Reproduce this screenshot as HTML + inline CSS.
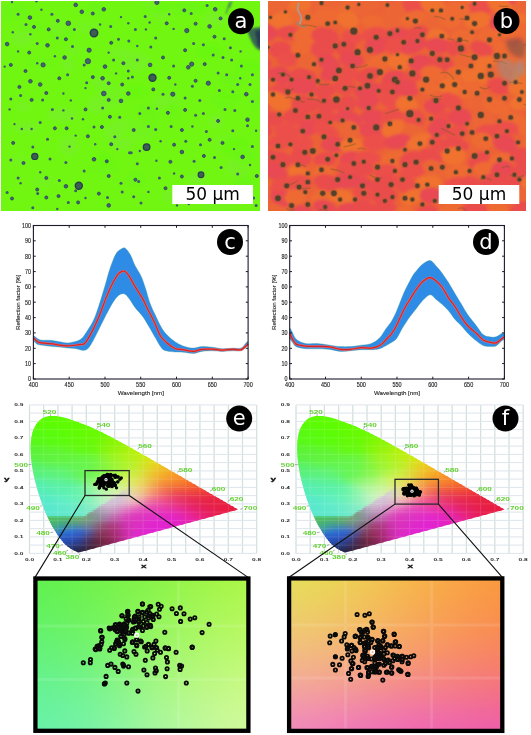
<!DOCTYPE html><html><head><meta charset="utf-8"><title>Figure</title><style>html,body{margin:0;padding:0;background:#fff}
#pg{position:relative;width:531px;height:735px;overflow:hidden;background:#fff}
.abs{position:absolute}
.row{position:absolute;left:0;width:100%}
svg text{font-family:"Liberation Sans",Arial,sans-serif}
</style></head><body><div id="pg"><svg class="abs" style="left:0;top:0" width="531" height="215"><defs><clipPath id="ca"><rect x="1" y="1" width="259" height="210"/></clipPath><clipPath id="cb"><rect x="268" y="1" width="258" height="210"/></clipPath><filter id="bl2" x="-20%" y="-20%" width="140%" height="140%"><feGaussianBlur stdDeviation="2.2"/></filter><filter id="bl3" x="-20%" y="-20%" width="140%" height="140%"><feGaussianBlur stdDeviation="2.8"/></filter><filter id="bl05"><feGaussianBlur stdDeviation="0.45"/></filter><filter id="bl1" x="-30%" y="-30%" width="160%" height="160%"><feGaussianBlur stdDeviation="1.3"/></filter><filter id="bl15" x="-5%" y="-5%" width="110%" height="110%"><feGaussianBlur stdDeviation="1.6"/></filter></defs><g clip-path="url(#ca)"><rect x="1" y="1" width="259" height="210" fill="#71f612"/><g filter="url(#bl2)" opacity=".7"><ellipse cx="62.6" cy="115.3" rx="15.2" ry="6.8" fill="#78ef2a"/><ellipse cx="151.4" cy="128.2" rx="8.6" ry="5.4" fill="#6af512"/><ellipse cx="258.9" cy="99.8" rx="10" ry="9.2" fill="#6af512"/><ellipse cx="61.1" cy="32.8" rx="13.4" ry="8" fill="#6af512"/><ellipse cx="17.6" cy="160.2" rx="9" ry="4.2" fill="#74f222"/><ellipse cx="225.2" cy="100.3" rx="13.1" ry="9.5" fill="#6af512"/><ellipse cx="103.3" cy="169.2" rx="15.6" ry="4.8" fill="#6af512"/><ellipse cx="95.7" cy="8.5" rx="8.2" ry="9.8" fill="#6af512"/><ellipse cx="114" cy="132.6" rx="10.2" ry="9" fill="#78ef2a"/><ellipse cx="149.7" cy="113.2" rx="11.8" ry="9.4" fill="#6af512"/><ellipse cx="177.6" cy="196.1" rx="15.9" ry="8" fill="#78ef2a"/><ellipse cx="43.2" cy="181.7" rx="13.1" ry="5.3" fill="#74f222"/><ellipse cx="216.4" cy="121.4" rx="7.2" ry="6.9" fill="#78ef2a"/><ellipse cx="166.4" cy="102.5" rx="14" ry="6.5" fill="#78ef2a"/><ellipse cx="40" cy="62.7" rx="14.7" ry="4.3" fill="#6af512"/><ellipse cx="160.2" cy="10.4" rx="11.5" ry="9.5" fill="#78ef2a"/><ellipse cx="73.3" cy="50.5" rx="9.1" ry="4.5" fill="#74f222"/><ellipse cx="156.3" cy="7.6" rx="15.7" ry="5.7" fill="#66f80a"/><ellipse cx="69.2" cy="145.8" rx="9.1" ry="9.8" fill="#78ef2a"/><ellipse cx="233.2" cy="80.3" rx="14.7" ry="6.3" fill="#6af512"/><ellipse cx="225.5" cy="144" rx="12.2" ry="9.6" fill="#74f222"/><ellipse cx="132.3" cy="91.6" rx="15.4" ry="6.6" fill="#66f80a"/><ellipse cx="67.9" cy="64.6" rx="6.1" ry="6.5" fill="#78ef2a"/><ellipse cx="151.2" cy="5.2" rx="6.6" ry="7.8" fill="#66f80a"/><ellipse cx="121.8" cy="143.6" rx="12.1" ry="5.7" fill="#78ef2a"/><ellipse cx="127.8" cy="124.8" rx="15.6" ry="5.5" fill="#74f222"/><ellipse cx="119.2" cy="125.5" rx="7.8" ry="5.1" fill="#78ef2a"/><ellipse cx="197.3" cy="178.2" rx="9" ry="6.3" fill="#78ef2a"/><ellipse cx="201" cy="6.7" rx="9.1" ry="5.3" fill="#66f80a"/><ellipse cx="209.2" cy="51.1" rx="12.8" ry="7.9" fill="#66f80a"/><ellipse cx="26.1" cy="127.2" rx="12.7" ry="5.3" fill="#78ef2a"/><ellipse cx="210.7" cy="202.7" rx="9.4" ry="7.9" fill="#74f222"/><ellipse cx="230.2" cy="95.7" rx="13.9" ry="4.2" fill="#66f80a"/><ellipse cx="249" cy="67.2" rx="14.6" ry="6" fill="#66f80a"/><ellipse cx="215.4" cy="19" rx="11.9" ry="6.5" fill="#78ef2a"/><ellipse cx="135.3" cy="179.5" rx="9.5" ry="6.5" fill="#6af512"/><ellipse cx="109.7" cy="87" rx="7.6" ry="4" fill="#6af512"/><ellipse cx="245.3" cy="185.8" rx="11.6" ry="9.9" fill="#6af512"/><ellipse cx="186.8" cy="7.8" rx="14.4" ry="8" fill="#6af512"/><ellipse cx="135.4" cy="61.7" rx="14.9" ry="9.2" fill="#78ef2a"/><ellipse cx="223.2" cy="204.9" rx="14.1" ry="4.3" fill="#74f222"/><ellipse cx="235" cy="146.7" rx="15" ry="9.4" fill="#66f80a"/><ellipse cx="150.4" cy="3.8" rx="7.7" ry="5.8" fill="#74f222"/><ellipse cx="172.7" cy="111.2" rx="6.5" ry="9.5" fill="#6af512"/><ellipse cx="30.4" cy="27.3" rx="14.1" ry="4.4" fill="#6af512"/><ellipse cx="58.2" cy="26.7" rx="7.7" ry="8.8" fill="#74f222"/><ellipse cx="239.7" cy="170.3" rx="10.9" ry="7.4" fill="#74f222"/><ellipse cx="104.7" cy="159.9" rx="8.7" ry="7.2" fill="#66f80a"/><ellipse cx="110.6" cy="100.3" rx="14.6" ry="8.7" fill="#74f222"/><ellipse cx="13" cy="11.5" rx="15.7" ry="9.1" fill="#6af512"/><ellipse cx="23.3" cy="106.4" rx="7.6" ry="4.4" fill="#78ef2a"/><ellipse cx="100.9" cy="82.8" rx="9.6" ry="5.1" fill="#78ef2a"/><ellipse cx="86.2" cy="27" rx="13.2" ry="6.3" fill="#74f222"/><ellipse cx="21.7" cy="38.5" rx="10.6" ry="7.9" fill="#78ef2a"/><ellipse cx="141.2" cy="134.7" rx="12.2" ry="6.6" fill="#74f222"/><ellipse cx="97.5" cy="105.2" rx="10.2" ry="8.2" fill="#78ef2a"/><ellipse cx="120.4" cy="52.5" rx="13" ry="4.4" fill="#78ef2a"/><ellipse cx="111" cy="90.4" rx="15.4" ry="6.2" fill="#74f222"/><ellipse cx="233.5" cy="167.1" rx="7.2" ry="8.1" fill="#78ef2a"/><ellipse cx="244.2" cy="154.6" rx="12.7" ry="8.4" fill="#6af512"/></g><g filter="url(#bl05)"><circle cx="12" cy="2" r="1.2" fill="#3d5c6c"/><circle cx="36.5" cy="1.2" r="1.2" fill="#3d5c6c"/><circle cx="75.7" cy="4.9" r="1.8" fill="#48646e" stroke="#2e4662" stroke-width=".9"/><circle cx="81.8" cy="11.8" r="1.8" fill="#48646e" stroke="#2e4662" stroke-width=".9"/><circle cx="92.8" cy="13.5" r="1.5" fill="#48646e" stroke="#2e4662" stroke-width=".9"/><circle cx="103.8" cy="9.3" r="1.8" fill="#48646e" stroke="#2e4662" stroke-width=".9"/><circle cx="121" cy="17.1" r="1.2" fill="#3d5c6c"/><circle cx="18.1" cy="14.2" r="1.5" fill="#3d5c6c"/><circle cx="41.4" cy="9.8" r="1.2" fill="#3d5c6c"/><circle cx="29.9" cy="17.6" r="1.8" fill="#48646e" stroke="#2e4662" stroke-width=".9"/><circle cx="51.9" cy="14.2" r="1.5" fill="#3d5c6c"/><circle cx="68.3" cy="23.3" r="2.3" fill="#48646e" stroke="#2e4662" stroke-width=".9"/><circle cx="57.8" cy="20.8" r="1.5" fill="#48646e" stroke="#2e4662" stroke-width=".9"/><circle cx="26" cy="24.5" r="1.5" fill="#3d5c6c"/><circle cx="34" cy="26.9" r="1.5" fill="#48646e" stroke="#2e4662" stroke-width=".9"/><circle cx="48.7" cy="29.4" r="1.5" fill="#48646e" stroke="#2e4662" stroke-width=".9"/><circle cx="74.4" cy="29.4" r="1.5" fill="#3d5c6c"/><circle cx="94" cy="33" r="3.7" fill="#3c5e52" stroke="#283e4e" stroke-width="1.5"/><circle cx="100.1" cy="24.5" r="1.2" fill="#3d5c6c"/><circle cx="110.7" cy="26.4" r="1.5" fill="#3d5c6c"/><circle cx="128.3" cy="23.3" r="1.2" fill="#3d5c6c"/><circle cx="12.8" cy="32.3" r="1.2" fill="#3d5c6c"/><circle cx="30.4" cy="34.3" r="1.2" fill="#3d5c6c"/><circle cx="57.3" cy="37.9" r="1.5" fill="#3d5c6c"/><circle cx="65.9" cy="39.2" r="1.5" fill="#48646e" stroke="#2e4662" stroke-width=".9"/><circle cx="7.1" cy="44.1" r="1.8" fill="#48646e" stroke="#2e4662" stroke-width=".9"/><circle cx="37.2" cy="43.6" r="1.5" fill="#3d5c6c"/><circle cx="47.5" cy="45.3" r="1.8" fill="#48646e" stroke="#2e4662" stroke-width=".9"/><circle cx="72.5" cy="46.5" r="1.5" fill="#3d5c6c"/><circle cx="89.1" cy="50.2" r="2.1" fill="#48646e" stroke="#2e4662" stroke-width=".9"/><circle cx="111.2" cy="42.8" r="1.5" fill="#48646e" stroke="#2e4662" stroke-width=".9"/><circle cx="118.5" cy="39.2" r="1.5" fill="#3d5c6c"/><circle cx="128.8" cy="41.1" r="1.5" fill="#3d5c6c"/><circle cx="108.7" cy="52.6" r="1.2" fill="#3d5c6c"/><circle cx="18.1" cy="51.4" r="1.2" fill="#3d5c6c"/><circle cx="29.2" cy="52.6" r="1.5" fill="#48646e" stroke="#2e4662" stroke-width=".9"/><circle cx="54.9" cy="56.3" r="1.2" fill="#3d5c6c"/><circle cx="64.6" cy="57.5" r="1.8" fill="#48646e" stroke="#2e4662" stroke-width=".9"/><circle cx="87.9" cy="61.2" r="2.6" fill="#48646e" stroke="#2e4662" stroke-width=".9"/><circle cx="84.2" cy="64.9" r="1.5" fill="#3d5c6c"/><circle cx="113.6" cy="60" r="1.5" fill="#3d5c6c"/><circle cx="123.4" cy="63.2" r="1.5" fill="#48646e" stroke="#2e4662" stroke-width=".9"/><circle cx="10.8" cy="64.9" r="1.5" fill="#48646e" stroke="#2e4662" stroke-width=".9"/><circle cx="4.7" cy="66.6" r="1.2" fill="#3d5c6c"/><circle cx="37.2" cy="63.2" r="1.2" fill="#3d5c6c"/><circle cx="43.1" cy="64.9" r="2.1" fill="#48646e" stroke="#2e4662" stroke-width=".9"/><circle cx="105" cy="66.6" r="1.8" fill="#48646e" stroke="#2e4662" stroke-width=".9"/><circle cx="25.5" cy="71" r="1.5" fill="#48646e" stroke="#2e4662" stroke-width=".9"/><circle cx="67.6" cy="74.7" r="1.5" fill="#3d5c6c"/><circle cx="59.3" cy="78.3" r="1.5" fill="#48646e" stroke="#2e4662" stroke-width=".9"/><circle cx="92.8" cy="77.1" r="1.5" fill="#48646e" stroke="#2e4662" stroke-width=".9"/><circle cx="102.6" cy="78.3" r="1.8" fill="#48646e" stroke="#2e4662" stroke-width=".9"/><circle cx="116.1" cy="73.4" r="1.2" fill="#3d5c6c"/><circle cx="128.3" cy="71" r="1.5" fill="#3d5c6c"/><circle cx="30.4" cy="81.3" r="1.8" fill="#48646e" stroke="#2e4662" stroke-width=".9"/><circle cx="40.2" cy="84.5" r="1.8" fill="#48646e" stroke="#2e4662" stroke-width=".9"/><circle cx="19.4" cy="86.9" r="1.5" fill="#48646e" stroke="#2e4662" stroke-width=".9"/><circle cx="86.7" cy="82.7" r="1.5" fill="#3d5c6c"/><circle cx="108.7" cy="83.2" r="1.5" fill="#48646e" stroke="#2e4662" stroke-width=".9"/><circle cx="122.2" cy="84.5" r="1.5" fill="#48646e" stroke="#2e4662" stroke-width=".9"/><circle cx="128.3" cy="78.3" r="1.2" fill="#3d5c6c"/><circle cx="46.3" cy="93" r="1.5" fill="#48646e" stroke="#2e4662" stroke-width=".9"/><circle cx="63.4" cy="93.5" r="1.2" fill="#3d5c6c"/><circle cx="20.6" cy="95.5" r="1.5" fill="#3d5c6c"/><circle cx="85.5" cy="88.1" r="1.2" fill="#3d5c6c"/><circle cx="103.8" cy="93.5" r="2.3" fill="#48646e" stroke="#2e4662" stroke-width=".9"/><circle cx="128.3" cy="93.5" r="1.8" fill="#48646e" stroke="#2e4662" stroke-width=".9"/><circle cx="31.6" cy="99.9" r="1.5" fill="#48646e" stroke="#2e4662" stroke-width=".9"/><circle cx="42.6" cy="99.9" r="1.5" fill="#3d5c6c"/><circle cx="108.7" cy="99.9" r="1.5" fill="#48646e" stroke="#2e4662" stroke-width=".9"/><circle cx="121" cy="100.9" r="1.8" fill="#48646e" stroke="#2e4662" stroke-width=".9"/><circle cx="70.8" cy="100.4" r="1.2" fill="#3d5c6c"/><circle cx="10.8" cy="99.1" r="1.5" fill="#3d5c6c"/><circle cx="156.9" cy="2.4" r="2.1" fill="#48646e" stroke="#2e4662" stroke-width=".9"/><circle cx="207.1" cy="5.4" r="1.5" fill="#3d5c6c"/><circle cx="215.2" cy="9.3" r="1.8" fill="#48646e" stroke="#2e4662" stroke-width=".9"/><circle cx="184.3" cy="10.3" r="1.5" fill="#48646e" stroke="#2e4662" stroke-width=".9"/><circle cx="191.2" cy="13.5" r="1.5" fill="#3d5c6c"/><circle cx="145.2" cy="16.6" r="1.5" fill="#3d5c6c"/><circle cx="169.2" cy="14.2" r="1.2" fill="#3d5c6c"/><circle cx="220.6" cy="18.4" r="1.5" fill="#48646e" stroke="#2e4662" stroke-width=".9"/><circle cx="149.6" cy="22.5" r="1.2" fill="#3d5c6c"/><circle cx="166.7" cy="23.3" r="1.5" fill="#48646e" stroke="#2e4662" stroke-width=".9"/><circle cx="195.6" cy="23.7" r="1.5" fill="#48646e" stroke="#2e4662" stroke-width=".9"/><circle cx="209.6" cy="26.4" r="1.8" fill="#48646e" stroke="#2e4662" stroke-width=".9"/><circle cx="135.4" cy="29.4" r="1.5" fill="#3d5c6c"/><circle cx="145.9" cy="29.4" r="1.2" fill="#3d5c6c"/><circle cx="186.8" cy="30.6" r="2.1" fill="#48646e" stroke="#2e4662" stroke-width=".9"/><circle cx="173.6" cy="28.9" r="1.2" fill="#3d5c6c"/><circle cx="155.7" cy="37.9" r="1.5" fill="#3d5c6c"/><circle cx="193.6" cy="43.6" r="1.5" fill="#3d5c6c"/><circle cx="214.5" cy="36.7" r="1.5" fill="#48646e" stroke="#2e4662" stroke-width=".9"/><circle cx="224.2" cy="38.7" r="1.5" fill="#3d5c6c"/><circle cx="230.4" cy="47.7" r="1.5" fill="#3d5c6c"/><circle cx="240.6" cy="51.4" r="1.2" fill="#3d5c6c"/><circle cx="137.3" cy="46" r="1.2" fill="#3d5c6c"/><circle cx="150.8" cy="47" r="1.5" fill="#3d5c6c"/><circle cx="185.1" cy="50.2" r="1.5" fill="#48646e" stroke="#2e4662" stroke-width=".9"/><circle cx="203.4" cy="44.8" r="1.5" fill="#3d5c6c"/><circle cx="163" cy="57.5" r="1.5" fill="#48646e" stroke="#2e4662" stroke-width=".9"/><circle cx="137.3" cy="60" r="1.5" fill="#3d5c6c"/><circle cx="150.1" cy="64.9" r="1.8" fill="#48646e" stroke="#2e4662" stroke-width=".9"/><circle cx="173.6" cy="66.1" r="1.5" fill="#3d5c6c"/><circle cx="188.3" cy="67.3" r="1.8" fill="#48646e" stroke="#2e4662" stroke-width=".9"/><circle cx="191.7" cy="64.1" r="2.1" fill="#48646e" stroke="#2e4662" stroke-width=".9"/><circle cx="204.7" cy="64.1" r="1.5" fill="#48646e" stroke="#2e4662" stroke-width=".9"/><circle cx="213.2" cy="55.1" r="1.5" fill="#3d5c6c"/><circle cx="223" cy="57.5" r="1.5" fill="#3d5c6c"/><circle cx="231.6" cy="60" r="1.5" fill="#3d5c6c"/><circle cx="241.4" cy="66.1" r="1.5" fill="#3d5c6c"/><circle cx="152.5" cy="77.8" r="3.5" fill="#3c5e52" stroke="#283e4e" stroke-width="1.4"/><circle cx="169.2" cy="77.8" r="1.5" fill="#48646e" stroke="#2e4662" stroke-width=".9"/><circle cx="195.6" cy="80.8" r="1.5" fill="#48646e" stroke="#2e4662" stroke-width=".9"/><circle cx="208.3" cy="83.2" r="2.1" fill="#48646e" stroke="#2e4662" stroke-width=".9"/><circle cx="218.1" cy="72.9" r="1.5" fill="#3d5c6c"/><circle cx="226.7" cy="74.7" r="1.5" fill="#3d5c6c"/><circle cx="240.2" cy="78.3" r="1.2" fill="#3d5c6c"/><circle cx="252.4" cy="74.7" r="1.5" fill="#3d5c6c"/><circle cx="132.4" cy="77.1" r="1.5" fill="#3d5c6c"/><circle cx="175.3" cy="84.5" r="1.2" fill="#3d5c6c"/><circle cx="192.4" cy="86.2" r="1.5" fill="#3d5c6c"/><circle cx="153.3" cy="89.4" r="1.5" fill="#48646e" stroke="#2e4662" stroke-width=".9"/><circle cx="163" cy="94.2" r="1.5" fill="#3d5c6c"/><circle cx="172.8" cy="94.2" r="2.1" fill="#48646e" stroke="#2e4662" stroke-width=".9"/><circle cx="185.1" cy="97.9" r="1.5" fill="#3d5c6c"/><circle cx="199.8" cy="100.4" r="1.5" fill="#3d5c6c"/><circle cx="219.4" cy="90.6" r="1.5" fill="#3d5c6c"/><circle cx="232.8" cy="91.8" r="1.5" fill="#3d5c6c"/><circle cx="246.3" cy="94.2" r="1.8" fill="#48646e" stroke="#2e4662" stroke-width=".9"/><circle cx="252.4" cy="101.6" r="1.5" fill="#3d5c6c"/><circle cx="237.7" cy="84.5" r="1.5" fill="#3d5c6c"/><circle cx="250" cy="84.5" r="1.5" fill="#3d5c6c"/><circle cx="9.6" cy="109.4" r="1.2" fill="#3d5c6c"/><circle cx="52.4" cy="109.4" r="1.5" fill="#3d5c6c"/><circle cx="63.4" cy="110.4" r="1.2" fill="#3d5c6c"/><circle cx="85.5" cy="109.4" r="1.5" fill="#48646e" stroke="#2e4662" stroke-width=".9"/><circle cx="102.6" cy="107.9" r="1.5" fill="#3d5c6c"/><circle cx="109.9" cy="116.8" r="1.5" fill="#48646e" stroke="#2e4662" stroke-width=".9"/><circle cx="119.7" cy="117.2" r="1.5" fill="#3d5c6c"/><circle cx="72" cy="118.5" r="1.2" fill="#3d5c6c"/><circle cx="40.2" cy="122.6" r="1.5" fill="#3d5c6c"/><circle cx="14.5" cy="124.1" r="1.2" fill="#3d5c6c"/><circle cx="21.8" cy="129" r="1.2" fill="#3d5c6c"/><circle cx="31.6" cy="129" r="1.2" fill="#3d5c6c"/><circle cx="54.9" cy="128.3" r="1.5" fill="#48646e" stroke="#2e4662" stroke-width=".9"/><circle cx="66.6" cy="128.3" r="1.5" fill="#48646e" stroke="#2e4662" stroke-width=".9"/><circle cx="83" cy="119.2" r="1.2" fill="#3d5c6c"/><circle cx="94" cy="127" r="1.5" fill="#3d5c6c"/><circle cx="101.9" cy="127" r="1.5" fill="#48646e" stroke="#2e4662" stroke-width=".9"/><circle cx="87.9" cy="136.3" r="1.5" fill="#48646e" stroke="#2e4662" stroke-width=".9"/><circle cx="114.8" cy="136.8" r="1.5" fill="#3d5c6c"/><circle cx="13.2" cy="142.9" r="1.5" fill="#48646e" stroke="#2e4662" stroke-width=".9"/><circle cx="47.5" cy="139.3" r="1.5" fill="#3d5c6c"/><circle cx="75.7" cy="135.6" r="1.2" fill="#3d5c6c"/><circle cx="95.2" cy="144.2" r="1.2" fill="#3d5c6c"/><circle cx="111.2" cy="144.2" r="1.5" fill="#48646e" stroke="#2e4662" stroke-width=".9"/><circle cx="32.8" cy="147.1" r="1.5" fill="#3d5c6c"/><circle cx="69.5" cy="146.6" r="1.2" fill="#3d5c6c"/><circle cx="117.3" cy="149.1" r="1.2" fill="#3d5c6c"/><circle cx="34.8" cy="156.4" r="3.1" fill="#3c5e52" stroke="#283e4e" stroke-width="1.2"/><circle cx="50" cy="158.9" r="1.5" fill="#3d5c6c"/><circle cx="65.9" cy="162.5" r="1.5" fill="#3d5c6c"/><circle cx="94" cy="159.3" r="1.8" fill="#48646e" stroke="#2e4662" stroke-width=".9"/><circle cx="106.8" cy="161.3" r="1.5" fill="#48646e" stroke="#2e4662" stroke-width=".9"/><circle cx="10.8" cy="160.1" r="1.5" fill="#3d5c6c"/><circle cx="23.5" cy="163" r="1.5" fill="#48646e" stroke="#2e4662" stroke-width=".9"/><circle cx="129.5" cy="152.7" r="1.5" fill="#3d5c6c"/><circle cx="84.2" cy="171.1" r="1.5" fill="#3d5c6c"/><circle cx="40.2" cy="172.3" r="1.2" fill="#3d5c6c"/><circle cx="18.1" cy="177.9" r="1.5" fill="#3d5c6c"/><circle cx="46.3" cy="177.9" r="1.5" fill="#48646e" stroke="#2e4662" stroke-width=".9"/><circle cx="59.3" cy="180.4" r="1.5" fill="#3d5c6c"/><circle cx="78.8" cy="185.8" r="3.5" fill="#3c5e52" stroke="#283e4e" stroke-width="1.4"/><circle cx="65.9" cy="186.3" r="1.8" fill="#48646e" stroke="#2e4662" stroke-width=".9"/><circle cx="108.7" cy="176" r="1.5" fill="#48646e" stroke="#2e4662" stroke-width=".9"/><circle cx="121" cy="183.3" r="1.5" fill="#3d5c6c"/><circle cx="20.6" cy="183.3" r="1.2" fill="#3d5c6c"/><circle cx="37.2" cy="189.5" r="1.5" fill="#48646e" stroke="#2e4662" stroke-width=".9"/><circle cx="7.1" cy="192.6" r="1.5" fill="#3d5c6c"/><circle cx="12" cy="198.5" r="1.5" fill="#48646e" stroke="#2e4662" stroke-width=".9"/><circle cx="37.7" cy="193.6" r="1.5" fill="#3d5c6c"/><circle cx="46.3" cy="197.5" r="1.5" fill="#48646e" stroke="#2e4662" stroke-width=".9"/><circle cx="58.5" cy="196.1" r="1.5" fill="#48646e" stroke="#2e4662" stroke-width=".9"/><circle cx="75.7" cy="190.7" r="1.5" fill="#3d5c6c"/><circle cx="85.5" cy="198" r="1.2" fill="#3d5c6c"/><circle cx="98.9" cy="193.6" r="1.5" fill="#48646e" stroke="#2e4662" stroke-width=".9"/><circle cx="107.5" cy="197.5" r="1.5" fill="#3d5c6c"/><circle cx="122.2" cy="191.9" r="1.5" fill="#3d5c6c"/><circle cx="68.3" cy="202.4" r="1.5" fill="#3d5c6c"/><circle cx="78.1" cy="202.4" r="1.5" fill="#48646e" stroke="#2e4662" stroke-width=".9"/><circle cx="108.7" cy="205.4" r="1.8" fill="#48646e" stroke="#2e4662" stroke-width=".9"/><circle cx="32.8" cy="207.8" r="1.5" fill="#3d5c6c"/><circle cx="57.3" cy="209" r="1.2" fill="#3d5c6c"/><circle cx="148.4" cy="107.9" r="1.5" fill="#3d5c6c"/><circle cx="156.9" cy="108.7" r="1.2" fill="#3d5c6c"/><circle cx="139.8" cy="113.6" r="1.5" fill="#3d5c6c"/><circle cx="167.9" cy="112.8" r="1.5" fill="#48646e" stroke="#2e4662" stroke-width=".9"/><circle cx="185.1" cy="109.9" r="1.5" fill="#48646e" stroke="#2e4662" stroke-width=".9"/><circle cx="195.6" cy="115.3" r="1.5" fill="#3d5c6c"/><circle cx="203.4" cy="113.6" r="1.5" fill="#3d5c6c"/><circle cx="225" cy="109.4" r="1.5" fill="#3d5c6c"/><circle cx="234.8" cy="110.4" r="1.5" fill="#3d5c6c"/><circle cx="247.5" cy="119.7" r="1.8" fill="#48646e" stroke="#2e4662" stroke-width=".9"/><circle cx="218.1" cy="120.9" r="1.5" fill="#48646e" stroke="#2e4662" stroke-width=".9"/><circle cx="247.5" cy="125.8" r="1.5" fill="#3d5c6c"/><circle cx="133.7" cy="130" r="1.5" fill="#48646e" stroke="#2e4662" stroke-width=".9"/><circle cx="148.4" cy="126.5" r="1.5" fill="#3d5c6c"/><circle cx="155.7" cy="129.5" r="1.5" fill="#3d5c6c"/><circle cx="171.1" cy="126.5" r="1.5" fill="#3d5c6c"/><circle cx="181.9" cy="130" r="1.5" fill="#48646e" stroke="#2e4662" stroke-width=".9"/><circle cx="192.4" cy="126.5" r="1.2" fill="#3d5c6c"/><circle cx="206.4" cy="131.4" r="1.5" fill="#3d5c6c"/><circle cx="232.8" cy="130.7" r="1.5" fill="#3d5c6c"/><circle cx="256.1" cy="130.7" r="1.2" fill="#3d5c6c"/><circle cx="146.6" cy="147.1" r="3.3" fill="#3c5e52" stroke="#283e4e" stroke-width="1.3"/><circle cx="160.6" cy="141.2" r="1.2" fill="#3d5c6c"/><circle cx="174.1" cy="144.7" r="1.5" fill="#48646e" stroke="#2e4662" stroke-width=".9"/><circle cx="185.8" cy="141.2" r="1.5" fill="#3d5c6c"/><circle cx="200.5" cy="144.7" r="1.5" fill="#3d5c6c"/><circle cx="209.6" cy="139.8" r="1.5" fill="#48646e" stroke="#2e4662" stroke-width=".9"/><circle cx="222.5" cy="142.9" r="1.5" fill="#48646e" stroke="#2e4662" stroke-width=".9"/><circle cx="234" cy="149.1" r="1.2" fill="#3d5c6c"/><circle cx="252.4" cy="146.6" r="1.5" fill="#3d5c6c"/><circle cx="131.2" cy="152.7" r="1.5" fill="#3d5c6c"/><circle cx="139.8" cy="151" r="1.2" fill="#3d5c6c"/><circle cx="181.9" cy="152" r="1.8" fill="#48646e" stroke="#2e4662" stroke-width=".9"/><circle cx="203.9" cy="155.9" r="1.5" fill="#48646e" stroke="#2e4662" stroke-width=".9"/><circle cx="214.5" cy="157.6" r="1.5" fill="#3d5c6c"/><circle cx="242.6" cy="156.9" r="1.8" fill="#48646e" stroke="#2e4662" stroke-width=".9"/><circle cx="137.3" cy="163.8" r="1.5" fill="#3d5c6c"/><circle cx="156.4" cy="160.8" r="1.2" fill="#3d5c6c"/><circle cx="170.4" cy="161.8" r="1.5" fill="#48646e" stroke="#2e4662" stroke-width=".9"/><circle cx="194.1" cy="161.3" r="1.5" fill="#3d5c6c"/><circle cx="221.1" cy="167.4" r="1.5" fill="#3d5c6c"/><circle cx="250" cy="165" r="1.2" fill="#3d5c6c"/><circle cx="201" cy="174.8" r="2.9" fill="#3c5e52" stroke="#283e4e" stroke-width="1.1"/><circle cx="181.9" cy="176.5" r="1.5" fill="#48646e" stroke="#2e4662" stroke-width=".9"/><circle cx="159.4" cy="177.9" r="1.5" fill="#3d5c6c"/><circle cx="135.4" cy="179.7" r="1.5" fill="#48646e" stroke="#2e4662" stroke-width=".9"/><circle cx="138.6" cy="181.4" r="1.5" fill="#3d5c6c"/><circle cx="174.1" cy="173.5" r="1.2" fill="#3d5c6c"/><circle cx="237.7" cy="174" r="1.5" fill="#3d5c6c"/><circle cx="256.8" cy="176" r="1.5" fill="#48646e" stroke="#2e4662" stroke-width=".9"/><circle cx="165.5" cy="188.2" r="1.5" fill="#48646e" stroke="#2e4662" stroke-width=".9"/><circle cx="148.4" cy="191.9" r="1.2" fill="#3d5c6c"/><circle cx="133.7" cy="196.8" r="1.5" fill="#3d5c6c"/><circle cx="253.6" cy="198" r="1.5" fill="#3d5c6c"/><circle cx="141" cy="202.9" r="1.5" fill="#3d5c6c"/><circle cx="256.1" cy="205.4" r="1.5" fill="#3d5c6c"/><circle cx="177" cy="205.4" r="1.2" fill="#3d5c6c"/><circle cx="188.8" cy="204.1" r="1.2" fill="#3d5c6c"/></g><g filter="url(#bl1)"><path d="M247 30 L253 28 L262 27 L262 51 L257 49 L253 44 L250 38 Z" fill="#2e4c5e" opacity=".85"/><path d="M255 31 L262 30 L262 48 L258 46 Z" fill="#263c50"/><path d="M230 2 L226 14 M232 1 L229 8" stroke="#3a5a6a" stroke-width="1" fill="none"/></g></g><g clip-path="url(#cb)"><rect x="268" y="1" width="258" height="210" fill="#ec6236"/><g filter="url(#bl15)"><ellipse cx="258.1" cy="-3.5" rx="13.5" ry="7.4" transform="rotate(7 258.1 -3.5)" fill="#ec6634"/><ellipse cx="280.4" cy="-7.9" rx="10.8" ry="8.6" transform="rotate(19 280.4 -7.9)" fill="#ee6a32"/><ellipse cx="303" cy="-6.6" rx="12.7" ry="7.3" transform="rotate(-25 303 -6.6)" fill="#ec6634"/><ellipse cx="322.8" cy="-8.8" rx="10.6" ry="7.9" transform="rotate(3 322.8 -8.8)" fill="#ec6634"/><ellipse cx="346.4" cy="-7.6" rx="12.8" ry="7.9" transform="rotate(-8 346.4 -7.6)" fill="#ee6a32"/><ellipse cx="370.7" cy="-3.4" rx="11.6" ry="7.5" transform="rotate(-7 370.7 -3.4)" fill="#e84852"/><ellipse cx="389.9" cy="-8.4" rx="11.9" ry="8.9" transform="rotate(18 389.9 -8.4)" fill="#e84852"/><ellipse cx="406.1" cy="-3.5" rx="11.9" ry="7.1" transform="rotate(15 406.1 -3.5)" fill="#ec6634"/><ellipse cx="430" cy="-7" rx="13.9" ry="8.5" transform="rotate(-18 430 -7)" fill="#ee6a32"/><ellipse cx="450.1" cy="-8.9" rx="11.1" ry="8.1" transform="rotate(3 450.1 -8.9)" fill="#f0722e"/><ellipse cx="474.4" cy="-4.4" rx="10.9" ry="7.8" transform="rotate(-12 474.4 -4.4)" fill="#f0722e"/><ellipse cx="492.4" cy="-3.2" rx="11.2" ry="7.8" transform="rotate(13 492.4 -3.2)" fill="#ee6a32"/><ellipse cx="509.1" cy="-3.1" rx="10.5" ry="8.2" transform="rotate(-7 509.1 -3.1)" fill="#e84852"/><ellipse cx="530.3" cy="-7.7" rx="12.6" ry="7.7" transform="rotate(4 530.3 -7.7)" fill="#ee6a32"/><ellipse cx="257.7" cy="7.1" rx="13.7" ry="8.6" transform="rotate(-10 257.7 7.1)" fill="#f0722e"/><ellipse cx="281.3" cy="8.5" rx="13.8" ry="8.8" transform="rotate(13 281.3 8.5)" fill="#ec6634"/><ellipse cx="299.9" cy="5.4" rx="11.3" ry="8.4" transform="rotate(-9 299.9 5.4)" fill="#f0722e"/><ellipse cx="328.2" cy="7.7" rx="13.9" ry="7.3" transform="rotate(5 328.2 7.7)" fill="#ec6634"/><ellipse cx="350.2" cy="8.4" rx="13.1" ry="7.1" transform="rotate(1 350.2 8.4)" fill="#ee6a32"/><ellipse cx="365.5" cy="5.8" rx="13.9" ry="7.2" transform="rotate(-17 365.5 5.8)" fill="#ec6634"/><ellipse cx="397.2" cy="8.7" rx="13.8" ry="8.2" transform="rotate(-24 397.2 8.7)" fill="#ec6634"/><ellipse cx="414.1" cy="6.6" rx="12.7" ry="8" transform="rotate(21 414.1 6.6)" fill="#ec5048"/><ellipse cx="433.2" cy="5.2" rx="13.1" ry="8.8" transform="rotate(22 433.2 5.2)" fill="#f0722e"/><ellipse cx="456.6" cy="10.5" rx="12.9" ry="8.8" transform="rotate(1 456.6 10.5)" fill="#ee6a32"/><ellipse cx="480.4" cy="7.8" rx="11.8" ry="8.2" transform="rotate(13 480.4 7.8)" fill="#ec5048"/><ellipse cx="500.3" cy="5.5" rx="13" ry="7.8" transform="rotate(22 500.3 5.5)" fill="#f0722e"/><ellipse cx="526.4" cy="7.5" rx="13.1" ry="7.1" transform="rotate(13 526.4 7.5)" fill="#ec6634"/><ellipse cx="258.6" cy="21.5" rx="11.4" ry="7" transform="rotate(-6 258.6 21.5)" fill="#f0722e"/><ellipse cx="282.4" cy="19.9" rx="12.8" ry="7.9" transform="rotate(-10 282.4 19.9)" fill="#f0722e"/><ellipse cx="303.8" cy="18" rx="13.6" ry="7.8" transform="rotate(12 303.8 18)" fill="#ee6a32"/><ellipse cx="324.7" cy="17.6" rx="13" ry="8.9" transform="rotate(-8 324.7 17.6)" fill="#ee6a32"/><ellipse cx="347.8" cy="19.7" rx="11.8" ry="8" transform="rotate(18 347.8 19.7)" fill="#f0722e"/><ellipse cx="374.5" cy="22.7" rx="13.4" ry="7.6" transform="rotate(13 374.5 22.7)" fill="#ee6a32"/><ellipse cx="392.7" cy="20.3" rx="10.6" ry="7.3" transform="rotate(4 392.7 20.3)" fill="#ec6634"/><ellipse cx="413.4" cy="18.4" rx="13.9" ry="7.2" transform="rotate(-19 413.4 18.4)" fill="#ee6a32"/><ellipse cx="435.2" cy="21.7" rx="11.2" ry="8.6" transform="rotate(-9 435.2 21.7)" fill="#ec6634"/><ellipse cx="450.2" cy="19.7" rx="11.3" ry="8.6" transform="rotate(9 450.2 19.7)" fill="#ee6a32"/><ellipse cx="477.4" cy="20.5" rx="13.5" ry="8.4" transform="rotate(-11 477.4 20.5)" fill="#f0722e"/><ellipse cx="500.2" cy="21.2" rx="11.2" ry="8.8" transform="rotate(-25 500.2 21.2)" fill="#e84852"/><ellipse cx="518.6" cy="22.1" rx="12.1" ry="8.3" transform="rotate(-12 518.6 22.1)" fill="#f0722e"/><ellipse cx="263.8" cy="32.2" rx="13.9" ry="9" transform="rotate(9 263.8 32.2)" fill="#e84852"/><ellipse cx="288.7" cy="33" rx="11.7" ry="7.2" transform="rotate(3 288.7 33)" fill="#ea4c4c"/><ellipse cx="305.7" cy="33.1" rx="13.3" ry="7.1" transform="rotate(-23 305.7 33.1)" fill="#ee6a32"/><ellipse cx="325" cy="36.2" rx="14" ry="8.8" transform="rotate(8 325 36.2)" fill="#ea4c4c"/><ellipse cx="351.9" cy="37.1" rx="10.8" ry="7.4" transform="rotate(8 351.9 37.1)" fill="#ec5048"/><ellipse cx="375.4" cy="34.8" rx="13.5" ry="8.1" transform="rotate(-6 375.4 34.8)" fill="#ec5048"/><ellipse cx="399.4" cy="36.6" rx="13.5" ry="8.9" transform="rotate(8 399.4 36.6)" fill="#e84852"/><ellipse cx="416.4" cy="33.9" rx="12.6" ry="7.1" transform="rotate(-23 416.4 33.9)" fill="#ea4c4c"/><ellipse cx="437.7" cy="36.2" rx="10.8" ry="7.3" transform="rotate(9 437.7 36.2)" fill="#f0722e"/><ellipse cx="463.6" cy="36.2" rx="12.2" ry="7.3" transform="rotate(2 463.6 36.2)" fill="#ee6a32"/><ellipse cx="488.1" cy="36.9" rx="11.2" ry="8.2" transform="rotate(-9 488.1 36.9)" fill="#ee6a32"/><ellipse cx="506.7" cy="31.6" rx="10.5" ry="7.6" transform="rotate(21 506.7 31.6)" fill="#ee6a32"/><ellipse cx="526.5" cy="32.1" rx="13.5" ry="8.2" transform="rotate(20 526.5 32.1)" fill="#ee6a32"/><ellipse cx="256.5" cy="47.5" rx="12.4" ry="8.7" transform="rotate(9 256.5 47.5)" fill="#ea4c4c"/><ellipse cx="280.6" cy="50.1" rx="11.3" ry="8.5" transform="rotate(-3 280.6 50.1)" fill="#ea4c4c"/><ellipse cx="303.3" cy="46.9" rx="13.2" ry="7.4" transform="rotate(-19 303.3 46.9)" fill="#ee6a32"/><ellipse cx="322.5" cy="49.4" rx="12" ry="8.9" transform="rotate(9 322.5 49.4)" fill="#ea4c4c"/><ellipse cx="345.3" cy="47.4" rx="10.8" ry="8.1" transform="rotate(-3 345.3 47.4)" fill="#ea4c4c"/><ellipse cx="376.5" cy="45.7" rx="12.3" ry="8.4" transform="rotate(-13 376.5 45.7)" fill="#e84852"/><ellipse cx="396.4" cy="45.2" rx="12.3" ry="8.1" transform="rotate(-16 396.4 45.2)" fill="#ec5048"/><ellipse cx="413.6" cy="46.1" rx="13.7" ry="7.2" transform="rotate(-22 413.6 46.1)" fill="#e84852"/><ellipse cx="438" cy="45.5" rx="12.1" ry="8" transform="rotate(2 438 45.5)" fill="#e84852"/><ellipse cx="455.8" cy="48.8" rx="11.1" ry="7.9" transform="rotate(22 455.8 48.8)" fill="#ea4c4c"/><ellipse cx="481.4" cy="48.6" rx="11.6" ry="7.2" transform="rotate(20 481.4 48.6)" fill="#ea4c4c"/><ellipse cx="505.5" cy="50.7" rx="12.3" ry="9" transform="rotate(23 505.5 50.7)" fill="#ee6a32"/><ellipse cx="526.1" cy="49.5" rx="11" ry="7.7" transform="rotate(9 526.1 49.5)" fill="#f0722e"/><ellipse cx="259.4" cy="63.7" rx="11.6" ry="7.2" transform="rotate(-3 259.4 63.7)" fill="#e84852"/><ellipse cx="288.3" cy="59.6" rx="11.5" ry="7.4" transform="rotate(0 288.3 59.6)" fill="#ec5048"/><ellipse cx="307.7" cy="61.7" rx="11.2" ry="7.2" transform="rotate(0 307.7 61.7)" fill="#ec6634"/><ellipse cx="328.5" cy="63" rx="12.1" ry="8" transform="rotate(23 328.5 63)" fill="#e84852"/><ellipse cx="351.5" cy="59.9" rx="12.4" ry="8" transform="rotate(8 351.5 59.9)" fill="#e84852"/><ellipse cx="378.9" cy="63.1" rx="12.4" ry="8.3" transform="rotate(-23 378.9 63.1)" fill="#ee6a32"/><ellipse cx="399.8" cy="61.6" rx="12.4" ry="8.2" transform="rotate(2 399.8 61.6)" fill="#f0722e"/><ellipse cx="420.3" cy="62.5" rx="12.4" ry="8" transform="rotate(-8 420.3 62.5)" fill="#e84852"/><ellipse cx="441.6" cy="63.6" rx="13.2" ry="8.2" transform="rotate(15 441.6 63.6)" fill="#ea4c4c"/><ellipse cx="465.3" cy="61.7" rx="11.9" ry="8.2" transform="rotate(21 465.3 61.7)" fill="#ec6634"/><ellipse cx="484.5" cy="64.8" rx="11.4" ry="8.5" transform="rotate(-23 484.5 64.8)" fill="#f0722e"/><ellipse cx="513.5" cy="63.7" rx="12.6" ry="7.2" transform="rotate(14 513.5 63.7)" fill="#ee6a32"/><ellipse cx="528.5" cy="64.5" rx="10.9" ry="7.9" transform="rotate(17 528.5 64.5)" fill="#ee6a32"/><ellipse cx="260.6" cy="75.3" rx="13.8" ry="8.5" transform="rotate(-10 260.6 75.3)" fill="#ea4c4c"/><ellipse cx="281" cy="75" rx="11.5" ry="8.2" transform="rotate(21 281 75)" fill="#e84852"/><ellipse cx="304.1" cy="76.9" rx="13.8" ry="8" transform="rotate(16 304.1 76.9)" fill="#ea4c4c"/><ellipse cx="330.9" cy="73.4" rx="11.4" ry="7.1" transform="rotate(-23 330.9 73.4)" fill="#e84852"/><ellipse cx="347.8" cy="73.6" rx="11.1" ry="7.5" transform="rotate(-2 347.8 73.6)" fill="#ec5048"/><ellipse cx="368.2" cy="75.2" rx="13.4" ry="7.1" transform="rotate(-18 368.2 75.2)" fill="#ea4c4c"/><ellipse cx="393.7" cy="78.2" rx="12" ry="7.5" transform="rotate(-16 393.7 78.2)" fill="#e84852"/><ellipse cx="413.5" cy="79.1" rx="13.2" ry="8.7" transform="rotate(-14 413.5 79.1)" fill="#ec5048"/><ellipse cx="432.8" cy="73.7" rx="12.4" ry="7.9" transform="rotate(11 432.8 73.7)" fill="#ee6a32"/><ellipse cx="457.3" cy="74.9" rx="11.6" ry="8.8" transform="rotate(13 457.3 74.9)" fill="#ee6a32"/><ellipse cx="473.7" cy="77.5" rx="13.6" ry="7.4" transform="rotate(17 473.7 77.5)" fill="#f0722e"/><ellipse cx="497.6" cy="73.8" rx="12.6" ry="8.8" transform="rotate(18 497.6 73.8)" fill="#ec6634"/><ellipse cx="522.6" cy="77.9" rx="11.3" ry="8.9" transform="rotate(21 522.6 77.9)" fill="#f0722e"/><ellipse cx="255.8" cy="88" rx="13.3" ry="8.5" transform="rotate(-2 255.8 88)" fill="#e84852"/><ellipse cx="281" cy="90.9" rx="10.8" ry="7.9" transform="rotate(-7 281 90.9)" fill="#ea4c4c"/><ellipse cx="302.3" cy="86.2" rx="13.9" ry="8.3" transform="rotate(2 302.3 86.2)" fill="#e84852"/><ellipse cx="324.3" cy="90.6" rx="11.5" ry="7.2" transform="rotate(-5 324.3 90.6)" fill="#ea4c4c"/><ellipse cx="344.5" cy="86.7" rx="12" ry="8.4" transform="rotate(6 344.5 86.7)" fill="#ec5048"/><ellipse cx="367.2" cy="90.5" rx="13.3" ry="7.7" transform="rotate(-17 367.2 90.5)" fill="#e84852"/><ellipse cx="389.3" cy="90.2" rx="11.9" ry="8.7" transform="rotate(17 389.3 90.2)" fill="#ea4c4c"/><ellipse cx="406.1" cy="88.1" rx="13.9" ry="8.3" transform="rotate(8 406.1 88.1)" fill="#e84852"/><ellipse cx="427.3" cy="86.5" rx="11.4" ry="7.3" transform="rotate(15 427.3 86.5)" fill="#ee6a32"/><ellipse cx="449.9" cy="87.1" rx="11.5" ry="8.8" transform="rotate(5 449.9 87.1)" fill="#f0722e"/><ellipse cx="470.3" cy="89.8" rx="13.7" ry="8.5" transform="rotate(-24 470.3 89.8)" fill="#ee6a32"/><ellipse cx="499.1" cy="86.1" rx="11.8" ry="8.2" transform="rotate(13 499.1 86.1)" fill="#ea4c4c"/><ellipse cx="519.9" cy="87.2" rx="11.9" ry="8.8" transform="rotate(-6 519.9 87.2)" fill="#f0722e"/><ellipse cx="261.2" cy="103.6" rx="12.8" ry="8.5" transform="rotate(-20 261.2 103.6)" fill="#e84852"/><ellipse cx="278.1" cy="101" rx="13.9" ry="8.6" transform="rotate(24 278.1 101)" fill="#f0722e"/><ellipse cx="304.9" cy="104.6" rx="13.6" ry="8.8" transform="rotate(3 304.9 104.6)" fill="#ea4c4c"/><ellipse cx="326.4" cy="104.3" rx="13.2" ry="7.3" transform="rotate(8 326.4 104.3)" fill="#ea4c4c"/><ellipse cx="346.4" cy="104.4" rx="11" ry="8.5" transform="rotate(-25 346.4 104.4)" fill="#ea4c4c"/><ellipse cx="368.1" cy="101.6" rx="11.4" ry="8.4" transform="rotate(-19 368.1 101.6)" fill="#e84852"/><ellipse cx="390.6" cy="101.2" rx="13.5" ry="7.6" transform="rotate(25 390.6 101.2)" fill="#ec5048"/><ellipse cx="406.7" cy="104.8" rx="11.2" ry="8.1" transform="rotate(8 406.7 104.8)" fill="#f0722e"/><ellipse cx="434.7" cy="106.5" rx="10.8" ry="7.6" transform="rotate(4 434.7 106.5)" fill="#e84852"/><ellipse cx="450.7" cy="101.1" rx="11.9" ry="7.9" transform="rotate(25 450.7 101.1)" fill="#ec5048"/><ellipse cx="479.4" cy="100.8" rx="12.2" ry="7.6" transform="rotate(-18 479.4 100.8)" fill="#ec6634"/><ellipse cx="496" cy="106.6" rx="13.7" ry="7.3" transform="rotate(15 496 106.6)" fill="#ee6a32"/><ellipse cx="521.5" cy="102.5" rx="12.4" ry="7.2" transform="rotate(-13 521.5 102.5)" fill="#f0722e"/><ellipse cx="260.2" cy="118.3" rx="12.1" ry="7.8" transform="rotate(-19 260.2 118.3)" fill="#e84852"/><ellipse cx="273.2" cy="119" rx="11.2" ry="7.1" transform="rotate(4 273.2 119)" fill="#ea4c4c"/><ellipse cx="295.8" cy="116.2" rx="12" ry="8.5" transform="rotate(-4 295.8 116.2)" fill="#ea4c4c"/><ellipse cx="323" cy="118" rx="13.4" ry="7.8" transform="rotate(-4 323 118)" fill="#ea4c4c"/><ellipse cx="349.1" cy="119.3" rx="13.9" ry="8.6" transform="rotate(17 349.1 119.3)" fill="#e84852"/><ellipse cx="373.2" cy="116.5" rx="12.8" ry="7.2" transform="rotate(-1 373.2 116.5)" fill="#e84852"/><ellipse cx="391.9" cy="116.6" rx="11.1" ry="8.5" transform="rotate(-6 391.9 116.6)" fill="#ec5048"/><ellipse cx="414.3" cy="117.9" rx="11.2" ry="8.9" transform="rotate(20 414.3 117.9)" fill="#ec5048"/><ellipse cx="442.2" cy="118.3" rx="11.2" ry="7.2" transform="rotate(-10 442.2 118.3)" fill="#ec5048"/><ellipse cx="460" cy="116.9" rx="11.4" ry="8.8" transform="rotate(3 460 116.9)" fill="#e84852"/><ellipse cx="482.6" cy="120.3" rx="10.7" ry="8.8" transform="rotate(-15 482.6 120.3)" fill="#ec6634"/><ellipse cx="513.9" cy="119.8" rx="13.8" ry="7" transform="rotate(18 513.9 119.8)" fill="#ee6a32"/><ellipse cx="261.2" cy="128.7" rx="12.1" ry="7.8" transform="rotate(25 261.2 128.7)" fill="#ea4c4c"/><ellipse cx="287" cy="131.6" rx="13.5" ry="8.8" transform="rotate(14 287 131.6)" fill="#ec5048"/><ellipse cx="308.5" cy="127.7" rx="10.6" ry="8.1" transform="rotate(-18 308.5 127.7)" fill="#e84852"/><ellipse cx="325.9" cy="130.7" rx="13.8" ry="7.1" transform="rotate(25 325.9 130.7)" fill="#ec5048"/><ellipse cx="349.1" cy="128.5" rx="10.9" ry="7.7" transform="rotate(14 349.1 128.5)" fill="#ec6634"/><ellipse cx="372.7" cy="130.1" rx="13.4" ry="8.7" transform="rotate(1 372.7 130.1)" fill="#e84852"/><ellipse cx="393.1" cy="128.3" rx="12.3" ry="7.9" transform="rotate(-24 393.1 128.3)" fill="#f0722e"/><ellipse cx="413.5" cy="132" rx="11.8" ry="7.6" transform="rotate(25 413.5 132)" fill="#ec6634"/><ellipse cx="438.6" cy="128" rx="11.3" ry="8.7" transform="rotate(-22 438.6 128)" fill="#e84852"/><ellipse cx="456.6" cy="133.1" rx="11.9" ry="7.5" transform="rotate(-21 456.6 133.1)" fill="#ec5048"/><ellipse cx="486.6" cy="132.8" rx="12" ry="8.6" transform="rotate(-11 486.6 132.8)" fill="#ec5048"/><ellipse cx="507" cy="128.3" rx="13.3" ry="7.2" transform="rotate(9 507 128.3)" fill="#ec5048"/><ellipse cx="529.7" cy="129.4" rx="11.6" ry="7.1" transform="rotate(3 529.7 129.4)" fill="#ee6a32"/><ellipse cx="257.5" cy="141.1" rx="11.6" ry="8" transform="rotate(24 257.5 141.1)" fill="#e84852"/><ellipse cx="281.5" cy="142" rx="13.6" ry="7.4" transform="rotate(-3 281.5 142)" fill="#ec5048"/><ellipse cx="302.2" cy="144.6" rx="11.2" ry="8.3" transform="rotate(-13 302.2 144.6)" fill="#ec5048"/><ellipse cx="334.6" cy="144.7" rx="13.9" ry="7.5" transform="rotate(1 334.6 144.7)" fill="#e84852"/><ellipse cx="351.2" cy="145" rx="12" ry="7.3" transform="rotate(-6 351.2 145)" fill="#f0722e"/><ellipse cx="375.3" cy="142.4" rx="12.8" ry="8.6" transform="rotate(-2 375.3 142.4)" fill="#ec5048"/><ellipse cx="397.8" cy="141.5" rx="13.6" ry="7.4" transform="rotate(-11 397.8 141.5)" fill="#e84852"/><ellipse cx="419.4" cy="141.3" rx="13.7" ry="7.1" transform="rotate(-23 419.4 141.3)" fill="#f0722e"/><ellipse cx="438" cy="144" rx="10.8" ry="7.6" transform="rotate(23 438 144)" fill="#ec5048"/><ellipse cx="454.9" cy="145.2" rx="14" ry="7.1" transform="rotate(4 454.9 145.2)" fill="#ea4c4c"/><ellipse cx="482.7" cy="140.8" rx="11.1" ry="8.1" transform="rotate(16 482.7 140.8)" fill="#ee6a32"/><ellipse cx="505" cy="143.7" rx="12.3" ry="8.7" transform="rotate(18 505 143.7)" fill="#e84852"/><ellipse cx="533.3" cy="144" rx="10.9" ry="7.9" transform="rotate(17 533.3 144)" fill="#ee6a32"/><ellipse cx="262.6" cy="156.5" rx="13.5" ry="8.2" transform="rotate(-9 262.6 156.5)" fill="#ea4c4c"/><ellipse cx="280.3" cy="159.4" rx="11.6" ry="8.2" transform="rotate(13 280.3 159.4)" fill="#ea4c4c"/><ellipse cx="301" cy="157.8" rx="10.8" ry="8.8" transform="rotate(11 301 157.8)" fill="#ea4c4c"/><ellipse cx="325" cy="159.5" rx="11.6" ry="7.1" transform="rotate(-5 325 159.5)" fill="#ea4c4c"/><ellipse cx="350.1" cy="159.8" rx="10.8" ry="8.6" transform="rotate(-15 350.1 159.8)" fill="#e84852"/><ellipse cx="367.5" cy="158.1" rx="13.3" ry="7.1" transform="rotate(1 367.5 158.1)" fill="#ec5048"/><ellipse cx="392.9" cy="159.3" rx="12.2" ry="8.5" transform="rotate(-17 392.9 159.3)" fill="#ee6a32"/><ellipse cx="410.8" cy="159.6" rx="11.9" ry="8.1" transform="rotate(-20 410.8 159.6)" fill="#ea4c4c"/><ellipse cx="430.9" cy="157.7" rx="12.9" ry="8.4" transform="rotate(21 430.9 157.7)" fill="#ea4c4c"/><ellipse cx="453.6" cy="155.8" rx="12.1" ry="8.9" transform="rotate(-2 453.6 155.8)" fill="#f0722e"/><ellipse cx="479.6" cy="160.7" rx="11.9" ry="8.3" transform="rotate(-22 479.6 160.7)" fill="#ea4c4c"/><ellipse cx="500" cy="160.6" rx="12.1" ry="7.8" transform="rotate(-12 500 160.6)" fill="#ee6a32"/><ellipse cx="523" cy="156.4" rx="13.3" ry="8.6" transform="rotate(5 523 156.4)" fill="#ea4c4c"/><ellipse cx="256.2" cy="170.4" rx="11.1" ry="8" transform="rotate(9 256.2 170.4)" fill="#ec6634"/><ellipse cx="275.6" cy="171.9" rx="12.7" ry="8" transform="rotate(22 275.6 171.9)" fill="#e84852"/><ellipse cx="298.8" cy="173.3" rx="10.9" ry="7.1" transform="rotate(21 298.8 173.3)" fill="#f0722e"/><ellipse cx="323.1" cy="172.4" rx="10.6" ry="7.6" transform="rotate(-1 323.1 172.4)" fill="#ee6a32"/><ellipse cx="348.8" cy="170.1" rx="12.8" ry="7.6" transform="rotate(13 348.8 170.1)" fill="#ec5048"/><ellipse cx="362.7" cy="168.7" rx="11.2" ry="7.8" transform="rotate(5 362.7 168.7)" fill="#ea4c4c"/><ellipse cx="385.7" cy="172" rx="12.1" ry="7.8" transform="rotate(-12 385.7 172)" fill="#ec5048"/><ellipse cx="412.9" cy="170.5" rx="13.5" ry="7.5" transform="rotate(-7 412.9 170.5)" fill="#ec5048"/><ellipse cx="434.7" cy="168.6" rx="12.7" ry="8.1" transform="rotate(23 434.7 168.6)" fill="#ec6634"/><ellipse cx="457.1" cy="171.8" rx="12.5" ry="7.7" transform="rotate(-18 457.1 171.8)" fill="#ee6a32"/><ellipse cx="486.4" cy="169.2" rx="13.3" ry="7.2" transform="rotate(6 486.4 169.2)" fill="#ee6a32"/><ellipse cx="501.9" cy="169.7" rx="11.3" ry="8.9" transform="rotate(-13 501.9 169.7)" fill="#e84852"/><ellipse cx="522" cy="171.8" rx="13.1" ry="8.8" transform="rotate(-16 522 171.8)" fill="#ea4c4c"/><ellipse cx="259.3" cy="186" rx="11.8" ry="7.1" transform="rotate(0 259.3 186)" fill="#ee6a32"/><ellipse cx="280.5" cy="185.6" rx="11.6" ry="7.5" transform="rotate(-24 280.5 185.6)" fill="#ec5048"/><ellipse cx="299.3" cy="182.8" rx="13.6" ry="8.3" transform="rotate(-1 299.3 182.8)" fill="#ec5048"/><ellipse cx="327" cy="182.7" rx="13.2" ry="8.3" transform="rotate(14 327 182.7)" fill="#ea4c4c"/><ellipse cx="346.5" cy="180.9" rx="13.6" ry="7.8" transform="rotate(-1 346.5 180.9)" fill="#e84852"/><ellipse cx="361.9" cy="183.6" rx="12.2" ry="7" transform="rotate(13 361.9 183.6)" fill="#e84852"/><ellipse cx="382.8" cy="184.6" rx="13.7" ry="9" transform="rotate(-25 382.8 184.6)" fill="#ea4c4c"/><ellipse cx="405.4" cy="184.4" rx="13.4" ry="8.8" transform="rotate(19 405.4 184.4)" fill="#ec5048"/><ellipse cx="428.9" cy="182.6" rx="13.3" ry="7.4" transform="rotate(0 428.9 182.6)" fill="#f0722e"/><ellipse cx="457.1" cy="185.5" rx="12.9" ry="8.6" transform="rotate(-7 457.1 185.5)" fill="#ec5048"/><ellipse cx="472.9" cy="185" rx="12.8" ry="7.7" transform="rotate(20 472.9 185)" fill="#ea4c4c"/><ellipse cx="494.8" cy="181.3" rx="13.4" ry="8.8" transform="rotate(-6 494.8 181.3)" fill="#ea4c4c"/><ellipse cx="513.9" cy="185.2" rx="12.7" ry="7.8" transform="rotate(5 513.9 185.2)" fill="#ea4c4c"/><ellipse cx="531.7" cy="183.6" rx="11.4" ry="8.3" transform="rotate(-2 531.7 183.6)" fill="#f0722e"/><ellipse cx="258.7" cy="198.6" rx="13.9" ry="8.3" transform="rotate(-17 258.7 198.6)" fill="#ec6634"/><ellipse cx="282.1" cy="198.3" rx="12.7" ry="7.6" transform="rotate(16 282.1 198.3)" fill="#e84852"/><ellipse cx="295.6" cy="197" rx="11.4" ry="7.5" transform="rotate(-9 295.6 197)" fill="#ee6a32"/><ellipse cx="321.5" cy="199.1" rx="11.1" ry="9" transform="rotate(-23 321.5 199.1)" fill="#ee6a32"/><ellipse cx="341.3" cy="196.7" rx="11.7" ry="7.1" transform="rotate(9 341.3 196.7)" fill="#f0722e"/><ellipse cx="364" cy="193.9" rx="11.5" ry="7.8" transform="rotate(14 364 193.9)" fill="#ec5048"/><ellipse cx="385.2" cy="197" rx="12.4" ry="8.6" transform="rotate(-16 385.2 197)" fill="#ea4c4c"/><ellipse cx="412.4" cy="196.9" rx="12" ry="7.3" transform="rotate(-24 412.4 196.9)" fill="#f0722e"/><ellipse cx="430.9" cy="195.2" rx="11.3" ry="8" transform="rotate(-2 430.9 195.2)" fill="#e84852"/><ellipse cx="453.1" cy="194.4" rx="12.8" ry="7" transform="rotate(-4 453.1 194.4)" fill="#e84852"/><ellipse cx="478.5" cy="194.7" rx="10.6" ry="7.7" transform="rotate(10 478.5 194.7)" fill="#f0722e"/><ellipse cx="492.4" cy="196.8" rx="11.4" ry="7.4" transform="rotate(-7 492.4 196.8)" fill="#ec6634"/><ellipse cx="524.1" cy="196.2" rx="10.7" ry="8.7" transform="rotate(-15 524.1 196.2)" fill="#ec6634"/><ellipse cx="252.4" cy="210.9" rx="10.5" ry="7.4" transform="rotate(-2 252.4 210.9)" fill="#e84852"/><ellipse cx="275.5" cy="212.4" rx="12.2" ry="7.6" transform="rotate(9 275.5 212.4)" fill="#ec6634"/><ellipse cx="301.3" cy="213.5" rx="11.9" ry="8.4" transform="rotate(-9 301.3 213.5)" fill="#e84852"/><ellipse cx="324.6" cy="207.6" rx="11.9" ry="7.7" transform="rotate(17 324.6 207.6)" fill="#e84852"/><ellipse cx="348.2" cy="211.3" rx="11.5" ry="8.8" transform="rotate(-5 348.2 211.3)" fill="#e84852"/><ellipse cx="364.9" cy="208.8" rx="13.1" ry="8.1" transform="rotate(18 364.9 208.8)" fill="#ea4c4c"/><ellipse cx="385.8" cy="208.5" rx="12" ry="7" transform="rotate(7 385.8 208.5)" fill="#ea4c4c"/><ellipse cx="403.1" cy="213.2" rx="10.6" ry="7.3" transform="rotate(-21 403.1 213.2)" fill="#ee6a32"/><ellipse cx="426.8" cy="213.5" rx="12.2" ry="8.6" transform="rotate(-14 426.8 213.5)" fill="#ea4c4c"/><ellipse cx="450.3" cy="209.9" rx="13.2" ry="8.1" transform="rotate(-25 450.3 209.9)" fill="#ee6a32"/><ellipse cx="474.7" cy="209.8" rx="12.7" ry="7.7" transform="rotate(3 474.7 209.8)" fill="#ea4c4c"/><ellipse cx="498.8" cy="210.6" rx="10.9" ry="8.5" transform="rotate(22 498.8 210.6)" fill="#ee6a32"/><ellipse cx="520.8" cy="210.1" rx="11.8" ry="8.1" transform="rotate(-23 520.8 210.1)" fill="#ea4c4c"/></g><path d="M429.9 94.8q6 3.5 11.9 1.1M307.2 99.4q8 -1.5 15.5 3.8M458.1 208.8q5 -3 9.4 3.6M523.4 104.1q4.2 1.2 7.9 2.8M509.9 175.1q7 3.9 14 0.2M284.7 183.7q6.6 2.5 12.7 -3.2M385.1 113.6q7.3 -1.8 14 -4.4M434.1 16.4q5.8 -0.1 11.1 3.3M330.4 169q7.3 0.4 14 3.9M501.7 168.3q3.8 -3.2 7.5 -1M277.5 73.6q7.3 -3.1 13.8 4.8M314.9 82.6q7.2 3.2 14.4 1.7M286.5 208.5q4 3 8 1M455.7 42.4q6.3 -3.9 12.7 -0.9M355.6 67.2q6.1 0.8 12 -2.7M447.3 38.9q3.6 -0.3 7.1 1.4M301.3 25.4q7.7 -1.1 15.3 1.7M318.6 209.9q6.5 -1.1 12.6 3M348 86.7q3.7 -0.6 7.4 1M479.6 86.9q5.3 3.5 10.6 0.1M357.4 148.8q4.2 -1.7 8.3 0.7M493.1 61.2q7.3 -0.4 14.3 2.6M508.9 82.4q6.7 -0.4 13.4 1.4M284.6 89q4.4 3.6 8.8 -0.5M343.6 146.9q6.4 -0.7 12.3 -3.2M302.1 189q4.3 -1.3 8.5 -0.7M479.7 179.6q6 -3.2 11.9 0.5M499.3 19.6q4.8 1.8 9.6 -1.2M440.6 73.2q7.5 -3.8 13.5 6.5M431.3 99.5q4.8 -1.5 9.6 -0.3M441.1 128.2q7.9 3.9 14 7.2M369.9 175q6.2 4 12.2 2.5M285.2 98.1q5 -2.3 9.9 1.6M523.4 45q4.8 -0.8 9.1 -3.4M459.4 18.5q3.8 1 7.6 1.1M459.4 54.2q7.1 2.2 13.7 3.2M298.9 99.4q3.1 3.6 5.8 2.2M499.1 6.1q4.8 0.3 9.5 0.3M296.7 166.7q4.5 -3 9 0.1M414.5 28.2q3.4 -1.6 6.9 0.1" stroke="#7a5a2a" stroke-width="1.4" fill="none" opacity=".45" filter="url(#bl05)"/><g filter="url(#bl05)" opacity=".75"><path d="M299 3 Q296 10 300 14 Q303 19 299 25" stroke="#9aa6b0" stroke-width="2" fill="none"/><path d="M296 22 Q300 27 306 27" stroke="#8a8a80" stroke-width="1.5" fill="none"/></g><g filter="url(#bl2)" opacity=".55"><path d="M505 40 L520 38 L526 45 L524 58 L514 56 L508 50 Z" fill="#6e4a50"/><path d="M496 62 L508 58 L516 66 L520 78 L512 84 L500 76 Z" fill="#9a8c88"/><path d="M515 62 L524 60 L525 75 L518 74 Z" fill="#8a96a0"/></g><g filter="url(#bl05)"><circle cx="321.5" cy="3" r="2.9" fill="#8a5a26" opacity=".5"/><circle cx="321.5" cy="3" r="1.9" fill="#54402e"/><circle cx="347.6" cy="7.5" r="2.9" fill="#8a5a26" opacity=".5"/><circle cx="347.6" cy="7.5" r="1.9" fill="#54402e"/><circle cx="358.8" cy="4.5" r="2.4" fill="#8a5a26" opacity=".5"/><circle cx="358.8" cy="4.5" r="1.4" fill="#54402e"/><circle cx="387.4" cy="5" r="2.7" fill="#8a5a26" opacity=".5"/><circle cx="387.4" cy="5" r="1.7" fill="#54402e"/><circle cx="285.4" cy="11.9" r="2.4" fill="#8a5a26" opacity=".5"/><circle cx="285.4" cy="11.9" r="1.4" fill="#54402e"/><circle cx="307.8" cy="17.4" r="3.4" fill="#8a5a26" opacity=".5"/><circle cx="307.8" cy="17.4" r="2.4" fill="#54402e"/><circle cx="327.7" cy="23.6" r="3.2" fill="#8a5a26" opacity=".5"/><circle cx="327.7" cy="23.6" r="2.2" fill="#54402e"/><circle cx="335.2" cy="22.4" r="2.7" fill="#8a5a26" opacity=".5"/><circle cx="335.2" cy="22.4" r="1.7" fill="#54402e"/><circle cx="353.8" cy="31.1" r="4.4" fill="#8a5a26" opacity=".5"/><circle cx="353.8" cy="31.1" r="3.4" fill="#54402e"/><circle cx="376.2" cy="37.3" r="3.4" fill="#8a5a26" opacity=".5"/><circle cx="376.2" cy="37.3" r="2.4" fill="#54402e"/><circle cx="389.9" cy="33.6" r="3.4" fill="#8a5a26" opacity=".5"/><circle cx="389.9" cy="33.6" r="2.4" fill="#54402e"/><circle cx="397.4" cy="29.9" r="2.4" fill="#8a5a26" opacity=".5"/><circle cx="397.4" cy="29.9" r="1.4" fill="#54402e"/><circle cx="270.5" cy="17.4" r="2.4" fill="#8a5a26" opacity=".5"/><circle cx="270.5" cy="17.4" r="1.4" fill="#54402e"/><circle cx="290.4" cy="34.8" r="2.9" fill="#8a5a26" opacity=".5"/><circle cx="290.4" cy="34.8" r="1.9" fill="#54402e"/><circle cx="335.2" cy="46" r="3.4" fill="#8a5a26" opacity=".5"/><circle cx="335.2" cy="46" r="2.4" fill="#54402e"/><circle cx="343.9" cy="44.3" r="3.2" fill="#8a5a26" opacity=".5"/><circle cx="343.9" cy="44.3" r="2.2" fill="#54402e"/><circle cx="357.6" cy="52.2" r="3.9" fill="#8a5a26" opacity=".5"/><circle cx="357.6" cy="52.2" r="2.9" fill="#54402e"/><circle cx="370" cy="49.8" r="3.9" fill="#8a5a26" opacity=".5"/><circle cx="370" cy="49.8" r="2.9" fill="#54402e"/><circle cx="297.9" cy="55.2" r="3.2" fill="#8a5a26" opacity=".5"/><circle cx="297.9" cy="55.2" r="2.2" fill="#54402e"/><circle cx="321.5" cy="59.7" r="2.9" fill="#8a5a26" opacity=".5"/><circle cx="321.5" cy="59.7" r="1.9" fill="#54402e"/><circle cx="314" cy="64.2" r="2.9" fill="#8a5a26" opacity=".5"/><circle cx="314" cy="64.2" r="1.9" fill="#54402e"/><circle cx="352.6" cy="65.9" r="3.2" fill="#8a5a26" opacity=".5"/><circle cx="352.6" cy="65.9" r="2.2" fill="#54402e"/><circle cx="384.9" cy="59" r="3.4" fill="#8a5a26" opacity=".5"/><circle cx="384.9" cy="59" r="2.4" fill="#54402e"/><circle cx="338.9" cy="70.4" r="3.7" fill="#8a5a26" opacity=".5"/><circle cx="338.9" cy="70.4" r="2.7" fill="#54402e"/><circle cx="379.9" cy="72.1" r="3.9" fill="#8a5a26" opacity=".5"/><circle cx="379.9" cy="72.1" r="2.9" fill="#54402e"/><circle cx="282.9" cy="74.6" r="2.9" fill="#8a5a26" opacity=".5"/><circle cx="282.9" cy="74.6" r="1.9" fill="#54402e"/><circle cx="291.6" cy="79.6" r="2.9" fill="#8a5a26" opacity=".5"/><circle cx="291.6" cy="79.6" r="1.9" fill="#54402e"/><circle cx="309" cy="77.1" r="2.9" fill="#8a5a26" opacity=".5"/><circle cx="309" cy="77.1" r="1.9" fill="#54402e"/><circle cx="317.8" cy="80.8" r="2.9" fill="#8a5a26" opacity=".5"/><circle cx="317.8" cy="80.8" r="1.9" fill="#54402e"/><circle cx="335.2" cy="78.4" r="3.7" fill="#8a5a26" opacity=".5"/><circle cx="335.2" cy="78.4" r="2.7" fill="#54402e"/><circle cx="370" cy="75.9" r="3.7" fill="#8a5a26" opacity=".5"/><circle cx="370" cy="75.9" r="2.7" fill="#54402e"/><circle cx="394.9" cy="79.6" r="3.9" fill="#8a5a26" opacity=".5"/><circle cx="394.9" cy="79.6" r="2.9" fill="#54402e"/><circle cx="367.5" cy="85.8" r="3.7" fill="#8a5a26" opacity=".5"/><circle cx="367.5" cy="85.8" r="2.7" fill="#54402e"/><circle cx="360" cy="88.3" r="2.9" fill="#8a5a26" opacity=".5"/><circle cx="360" cy="88.3" r="1.9" fill="#54402e"/><circle cx="345.1" cy="88.3" r="3.4" fill="#8a5a26" opacity=".5"/><circle cx="345.1" cy="88.3" r="2.4" fill="#54402e"/><circle cx="392.4" cy="92" r="3.2" fill="#8a5a26" opacity=".5"/><circle cx="392.4" cy="92" r="2.2" fill="#54402e"/><circle cx="378.7" cy="90.8" r="2.9" fill="#8a5a26" opacity=".5"/><circle cx="378.7" cy="90.8" r="1.9" fill="#54402e"/><circle cx="273" cy="79.6" r="2.9" fill="#8a5a26" opacity=".5"/><circle cx="273" cy="79.6" r="1.9" fill="#54402e"/><circle cx="287.9" cy="92" r="3.4" fill="#8a5a26" opacity=".5"/><circle cx="287.9" cy="92" r="2.4" fill="#54402e"/><circle cx="311.5" cy="94.5" r="2.9" fill="#8a5a26" opacity=".5"/><circle cx="311.5" cy="94.5" r="1.9" fill="#54402e"/><circle cx="336.4" cy="99.5" r="4.2" fill="#8a5a26" opacity=".5"/><circle cx="336.4" cy="99.5" r="3.1" fill="#54402e"/><circle cx="324" cy="100.7" r="2.9" fill="#8a5a26" opacity=".5"/><circle cx="324" cy="100.7" r="1.9" fill="#54402e"/><circle cx="297.9" cy="98.3" r="3.2" fill="#8a5a26" opacity=".5"/><circle cx="297.9" cy="98.3" r="2.2" fill="#54402e"/><circle cx="273" cy="94.5" r="2.9" fill="#8a5a26" opacity=".5"/><circle cx="273" cy="94.5" r="1.9" fill="#54402e"/><circle cx="399.8" cy="67.2" r="2.9" fill="#8a5a26" opacity=".5"/><circle cx="399.8" cy="67.2" r="1.9" fill="#54402e"/><circle cx="268" cy="47.3" r="2.4" fill="#8a5a26" opacity=".5"/><circle cx="268" cy="47.3" r="1.4" fill="#54402e"/><circle cx="432.3" cy="10.4" r="2.7" fill="#8a5a26" opacity=".5"/><circle cx="432.3" cy="10.4" r="1.7" fill="#54402e"/><circle cx="441" cy="10.4" r="2.9" fill="#8a5a26" opacity=".5"/><circle cx="441" cy="10.4" r="1.9" fill="#54402e"/><circle cx="462.2" cy="7.5" r="2.4" fill="#8a5a26" opacity=".5"/><circle cx="462.2" cy="7.5" r="1.4" fill="#54402e"/><circle cx="474.6" cy="3.7" r="2.7" fill="#8a5a26" opacity=".5"/><circle cx="474.6" cy="3.7" r="1.7" fill="#54402e"/><circle cx="407.4" cy="18.7" r="2.4" fill="#8a5a26" opacity=".5"/><circle cx="407.4" cy="18.7" r="1.4" fill="#54402e"/><circle cx="415.4" cy="21.1" r="3.4" fill="#8a5a26" opacity=".5"/><circle cx="415.4" cy="21.1" r="2.4" fill="#54402e"/><circle cx="452.2" cy="18.7" r="2.7" fill="#8a5a26" opacity=".5"/><circle cx="452.2" cy="18.7" r="1.7" fill="#54402e"/><circle cx="467.1" cy="17.9" r="3.2" fill="#8a5a26" opacity=".5"/><circle cx="467.1" cy="17.9" r="2.2" fill="#54402e"/><circle cx="474.6" cy="23.6" r="3.4" fill="#8a5a26" opacity=".5"/><circle cx="474.6" cy="23.6" r="2.4" fill="#54402e"/><circle cx="397.5" cy="31.1" r="2.4" fill="#8a5a26" opacity=".5"/><circle cx="397.5" cy="31.1" r="1.4" fill="#54402e"/><circle cx="422.4" cy="34.8" r="3.2" fill="#8a5a26" opacity=".5"/><circle cx="422.4" cy="34.8" r="2.2" fill="#54402e"/><circle cx="441.8" cy="36.1" r="3.2" fill="#8a5a26" opacity=".5"/><circle cx="441.8" cy="36.1" r="2.2" fill="#54402e"/><circle cx="459.7" cy="39.8" r="3.2" fill="#8a5a26" opacity=".5"/><circle cx="459.7" cy="39.8" r="2.2" fill="#54402e"/><circle cx="472.1" cy="32.3" r="2.7" fill="#8a5a26" opacity=".5"/><circle cx="472.1" cy="32.3" r="1.7" fill="#54402e"/><circle cx="489.5" cy="39.8" r="3.4" fill="#8a5a26" opacity=".5"/><circle cx="489.5" cy="39.8" r="2.4" fill="#54402e"/><circle cx="499.5" cy="34.8" r="2.4" fill="#8a5a26" opacity=".5"/><circle cx="499.5" cy="34.8" r="1.4" fill="#54402e"/><circle cx="403.7" cy="42.3" r="3.2" fill="#8a5a26" opacity=".5"/><circle cx="403.7" cy="42.3" r="2.2" fill="#54402e"/><circle cx="417.4" cy="41" r="2.9" fill="#8a5a26" opacity=".5"/><circle cx="417.4" cy="41" r="1.9" fill="#54402e"/><circle cx="460.9" cy="48.5" r="3.9" fill="#8a5a26" opacity=".5"/><circle cx="460.9" cy="48.5" r="2.9" fill="#54402e"/><circle cx="432.3" cy="53.5" r="3.4" fill="#8a5a26" opacity=".5"/><circle cx="432.3" cy="53.5" r="2.4" fill="#54402e"/><circle cx="439.8" cy="59.7" r="3.4" fill="#8a5a26" opacity=".5"/><circle cx="439.8" cy="59.7" r="2.4" fill="#54402e"/><circle cx="447.2" cy="59.7" r="3.2" fill="#8a5a26" opacity=".5"/><circle cx="447.2" cy="59.7" r="2.2" fill="#54402e"/><circle cx="474.6" cy="57.2" r="3.7" fill="#8a5a26" opacity=".5"/><circle cx="474.6" cy="57.2" r="2.7" fill="#54402e"/><circle cx="497" cy="56" r="3.9" fill="#8a5a26" opacity=".5"/><circle cx="497" cy="56" r="2.9" fill="#54402e"/><circle cx="504.5" cy="56" r="3.2" fill="#8a5a26" opacity=".5"/><circle cx="504.5" cy="56" r="2.2" fill="#54402e"/><circle cx="411.2" cy="60.9" r="3.4" fill="#8a5a26" opacity=".5"/><circle cx="411.2" cy="60.9" r="2.4" fill="#54402e"/><circle cx="397.5" cy="54.7" r="2.4" fill="#8a5a26" opacity=".5"/><circle cx="397.5" cy="54.7" r="1.4" fill="#54402e"/><circle cx="412.4" cy="73.4" r="3.9" fill="#8a5a26" opacity=".5"/><circle cx="412.4" cy="73.4" r="2.9" fill="#54402e"/><circle cx="426.1" cy="79.6" r="3.9" fill="#8a5a26" opacity=".5"/><circle cx="426.1" cy="79.6" r="2.9" fill="#54402e"/><circle cx="458.4" cy="72.1" r="3.4" fill="#8a5a26" opacity=".5"/><circle cx="458.4" cy="72.1" r="2.4" fill="#54402e"/><circle cx="480.8" cy="75.9" r="3.9" fill="#8a5a26" opacity=".5"/><circle cx="480.8" cy="75.9" r="2.9" fill="#54402e"/><circle cx="490.8" cy="74.6" r="3.9" fill="#8a5a26" opacity=".5"/><circle cx="490.8" cy="74.6" r="2.9" fill="#54402e"/><circle cx="504.5" cy="83.3" r="3.2" fill="#8a5a26" opacity=".5"/><circle cx="504.5" cy="83.3" r="2.2" fill="#54402e"/><circle cx="515.6" cy="82.1" r="2.9" fill="#8a5a26" opacity=".5"/><circle cx="515.6" cy="82.1" r="1.9" fill="#54402e"/><circle cx="470.9" cy="65.9" r="3.2" fill="#8a5a26" opacity=".5"/><circle cx="470.9" cy="65.9" r="2.2" fill="#54402e"/><circle cx="489.5" cy="65.9" r="2.9" fill="#8a5a26" opacity=".5"/><circle cx="489.5" cy="65.9" r="1.9" fill="#54402e"/><circle cx="442.3" cy="85.8" r="3.4" fill="#8a5a26" opacity=".5"/><circle cx="442.3" cy="85.8" r="2.4" fill="#54402e"/><circle cx="454.7" cy="84.6" r="3.4" fill="#8a5a26" opacity=".5"/><circle cx="454.7" cy="84.6" r="2.4" fill="#54402e"/><circle cx="422.4" cy="89.6" r="2.9" fill="#8a5a26" opacity=".5"/><circle cx="422.4" cy="89.6" r="1.9" fill="#54402e"/><circle cx="464.7" cy="92" r="2.9" fill="#8a5a26" opacity=".5"/><circle cx="464.7" cy="92" r="1.9" fill="#54402e"/><circle cx="477.1" cy="93.3" r="3.2" fill="#8a5a26" opacity=".5"/><circle cx="477.1" cy="93.3" r="2.2" fill="#54402e"/><circle cx="409.9" cy="98.3" r="3.4" fill="#8a5a26" opacity=".5"/><circle cx="409.9" cy="98.3" r="2.4" fill="#54402e"/><circle cx="436" cy="100.7" r="3.4" fill="#8a5a26" opacity=".5"/><circle cx="436" cy="100.7" r="2.4" fill="#54402e"/><circle cx="489.5" cy="99.5" r="3.4" fill="#8a5a26" opacity=".5"/><circle cx="489.5" cy="99.5" r="2.4" fill="#54402e"/><circle cx="504.5" cy="98.3" r="3.2" fill="#8a5a26" opacity=".5"/><circle cx="504.5" cy="98.3" r="2.2" fill="#54402e"/><circle cx="519.4" cy="99.5" r="3.2" fill="#8a5a26" opacity=".5"/><circle cx="519.4" cy="99.5" r="2.2" fill="#54402e"/><circle cx="521.9" cy="92" r="2.7" fill="#8a5a26" opacity=".5"/><circle cx="521.9" cy="92" r="1.7" fill="#54402e"/><circle cx="397.5" cy="82.1" r="3.2" fill="#8a5a26" opacity=".5"/><circle cx="397.5" cy="82.1" r="2.2" fill="#54402e"/><circle cx="295.4" cy="110.5" r="3.2" fill="#8a5a26" opacity=".5"/><circle cx="295.4" cy="110.5" r="2.2" fill="#54402e"/><circle cx="279.2" cy="114.5" r="2.9" fill="#8a5a26" opacity=".5"/><circle cx="279.2" cy="114.5" r="1.9" fill="#54402e"/><circle cx="307.8" cy="116.9" r="3.2" fill="#8a5a26" opacity=".5"/><circle cx="307.8" cy="116.9" r="2.2" fill="#54402e"/><circle cx="319" cy="116.2" r="3.2" fill="#8a5a26" opacity=".5"/><circle cx="319" cy="116.2" r="2.2" fill="#54402e"/><circle cx="330.2" cy="122.4" r="2.7" fill="#8a5a26" opacity=".5"/><circle cx="330.2" cy="122.4" r="1.7" fill="#54402e"/><circle cx="342.6" cy="120.4" r="2.9" fill="#8a5a26" opacity=".5"/><circle cx="342.6" cy="120.4" r="1.9" fill="#54402e"/><circle cx="353.8" cy="127.4" r="3.2" fill="#8a5a26" opacity=".5"/><circle cx="353.8" cy="127.4" r="2.2" fill="#54402e"/><circle cx="376.2" cy="127.4" r="3.9" fill="#8a5a26" opacity=".5"/><circle cx="376.2" cy="127.4" r="2.9" fill="#54402e"/><circle cx="389.9" cy="123.7" r="3.2" fill="#8a5a26" opacity=".5"/><circle cx="389.9" cy="123.7" r="2.2" fill="#54402e"/><circle cx="347.6" cy="108.7" r="2.4" fill="#8a5a26" opacity=".5"/><circle cx="347.6" cy="108.7" r="1.4" fill="#54402e"/><circle cx="368.7" cy="108" r="2.9" fill="#8a5a26" opacity=".5"/><circle cx="368.7" cy="108" r="1.9" fill="#54402e"/><circle cx="302.8" cy="131.1" r="3.2" fill="#8a5a26" opacity=".5"/><circle cx="302.8" cy="131.1" r="2.2" fill="#54402e"/><circle cx="324" cy="136.8" r="3.4" fill="#8a5a26" opacity=".5"/><circle cx="324" cy="136.8" r="2.4" fill="#54402e"/><circle cx="337.7" cy="144.3" r="3.2" fill="#8a5a26" opacity=".5"/><circle cx="337.7" cy="144.3" r="2.2" fill="#54402e"/><circle cx="350.1" cy="140.3" r="3.2" fill="#8a5a26" opacity=".5"/><circle cx="350.1" cy="140.3" r="2.2" fill="#54402e"/><circle cx="278" cy="146" r="3.2" fill="#8a5a26" opacity=".5"/><circle cx="278" cy="146" r="2.2" fill="#54402e"/><circle cx="290.4" cy="144.3" r="2.9" fill="#8a5a26" opacity=".5"/><circle cx="290.4" cy="144.3" r="1.9" fill="#54402e"/><circle cx="304.8" cy="152.3" r="3.4" fill="#8a5a26" opacity=".5"/><circle cx="304.8" cy="152.3" r="2.4" fill="#54402e"/><circle cx="312.8" cy="151" r="3.7" fill="#8a5a26" opacity=".5"/><circle cx="312.8" cy="151" r="2.7" fill="#54402e"/><circle cx="273" cy="157.2" r="3.2" fill="#8a5a26" opacity=".5"/><circle cx="273" cy="157.2" r="2.2" fill="#54402e"/><circle cx="282.9" cy="164.7" r="3.4" fill="#8a5a26" opacity=".5"/><circle cx="282.9" cy="164.7" r="2.4" fill="#54402e"/><circle cx="297.9" cy="164.7" r="3.2" fill="#8a5a26" opacity=".5"/><circle cx="297.9" cy="164.7" r="2.2" fill="#54402e"/><circle cx="327.7" cy="159.2" r="3.2" fill="#8a5a26" opacity=".5"/><circle cx="327.7" cy="159.2" r="2.2" fill="#54402e"/><circle cx="336.4" cy="155.2" r="2.7" fill="#8a5a26" opacity=".5"/><circle cx="336.4" cy="155.2" r="1.7" fill="#54402e"/><circle cx="353.8" cy="163.5" r="3.2" fill="#8a5a26" opacity=".5"/><circle cx="353.8" cy="163.5" r="2.2" fill="#54402e"/><circle cx="363.8" cy="161.7" r="2.9" fill="#8a5a26" opacity=".5"/><circle cx="363.8" cy="161.7" r="1.9" fill="#54402e"/><circle cx="377.5" cy="167.2" r="3.4" fill="#8a5a26" opacity=".5"/><circle cx="377.5" cy="167.2" r="2.4" fill="#54402e"/><circle cx="392.4" cy="161" r="2.9" fill="#8a5a26" opacity=".5"/><circle cx="392.4" cy="161" r="1.9" fill="#54402e"/><circle cx="394.9" cy="170.9" r="2.9" fill="#8a5a26" opacity=".5"/><circle cx="394.9" cy="170.9" r="1.9" fill="#54402e"/><circle cx="307.8" cy="173.4" r="2.9" fill="#8a5a26" opacity=".5"/><circle cx="307.8" cy="173.4" r="1.9" fill="#54402e"/><circle cx="321.5" cy="169.7" r="3.2" fill="#8a5a26" opacity=".5"/><circle cx="321.5" cy="169.7" r="2.2" fill="#54402e"/><circle cx="337.7" cy="179.6" r="3.4" fill="#8a5a26" opacity=".5"/><circle cx="337.7" cy="179.6" r="2.4" fill="#54402e"/><circle cx="350.1" cy="177.1" r="2.9" fill="#8a5a26" opacity=".5"/><circle cx="350.1" cy="177.1" r="1.9" fill="#54402e"/><circle cx="362.5" cy="185.8" r="3.4" fill="#8a5a26" opacity=".5"/><circle cx="362.5" cy="185.8" r="2.4" fill="#54402e"/><circle cx="377.5" cy="179.6" r="3.2" fill="#8a5a26" opacity=".5"/><circle cx="377.5" cy="179.6" r="2.2" fill="#54402e"/><circle cx="391.1" cy="184.6" r="3.4" fill="#8a5a26" opacity=".5"/><circle cx="391.1" cy="184.6" r="2.4" fill="#54402e"/><circle cx="286.7" cy="185.8" r="3.4" fill="#8a5a26" opacity=".5"/><circle cx="286.7" cy="185.8" r="2.4" fill="#54402e"/><circle cx="299.1" cy="187.1" r="3.4" fill="#8a5a26" opacity=".5"/><circle cx="299.1" cy="187.1" r="2.4" fill="#54402e"/><circle cx="307.8" cy="182.1" r="3.2" fill="#8a5a26" opacity=".5"/><circle cx="307.8" cy="182.1" r="2.2" fill="#54402e"/><circle cx="278" cy="198.3" r="3.7" fill="#8a5a26" opacity=".5"/><circle cx="278" cy="198.3" r="2.7" fill="#54402e"/><circle cx="305.3" cy="192.1" r="2.9" fill="#8a5a26" opacity=".5"/><circle cx="305.3" cy="192.1" r="1.9" fill="#54402e"/><circle cx="322.7" cy="193.3" r="3.4" fill="#8a5a26" opacity=".5"/><circle cx="322.7" cy="193.3" r="2.4" fill="#54402e"/><circle cx="333.9" cy="193.3" r="3.7" fill="#8a5a26" opacity=".5"/><circle cx="333.9" cy="193.3" r="2.7" fill="#54402e"/><circle cx="363.8" cy="193.3" r="3.4" fill="#8a5a26" opacity=".5"/><circle cx="363.8" cy="193.3" r="2.4" fill="#54402e"/><circle cx="355.1" cy="199.5" r="2.9" fill="#8a5a26" opacity=".5"/><circle cx="355.1" cy="199.5" r="1.9" fill="#54402e"/><circle cx="340.1" cy="199.5" r="2.9" fill="#8a5a26" opacity=".5"/><circle cx="340.1" cy="199.5" r="1.9" fill="#54402e"/><circle cx="307.8" cy="204.5" r="3.2" fill="#8a5a26" opacity=".5"/><circle cx="307.8" cy="204.5" r="2.2" fill="#54402e"/><circle cx="291.6" cy="205.7" r="3.4" fill="#8a5a26" opacity=".5"/><circle cx="291.6" cy="205.7" r="2.4" fill="#54402e"/><circle cx="325.2" cy="207" r="2.9" fill="#8a5a26" opacity=".5"/><circle cx="325.2" cy="207" r="1.9" fill="#54402e"/><circle cx="384.9" cy="200.8" r="2.9" fill="#8a5a26" opacity=".5"/><circle cx="384.9" cy="200.8" r="1.9" fill="#54402e"/><circle cx="392.4" cy="197" r="2.9" fill="#8a5a26" opacity=".5"/><circle cx="392.4" cy="197" r="1.9" fill="#54402e"/><circle cx="377.5" cy="194.6" r="2.9" fill="#8a5a26" opacity=".5"/><circle cx="377.5" cy="194.6" r="1.9" fill="#54402e"/><circle cx="409.9" cy="113.7" r="4.4" fill="#8a5a26" opacity=".5"/><circle cx="409.9" cy="113.7" r="3.4" fill="#54402e"/><circle cx="431.1" cy="118.7" r="2.9" fill="#8a5a26" opacity=".5"/><circle cx="431.1" cy="118.7" r="1.9" fill="#54402e"/><circle cx="418.6" cy="119.9" r="2.9" fill="#8a5a26" opacity=".5"/><circle cx="418.6" cy="119.9" r="1.9" fill="#54402e"/><circle cx="458.4" cy="108" r="3.4" fill="#8a5a26" opacity=".5"/><circle cx="458.4" cy="108" r="2.4" fill="#54402e"/><circle cx="480.8" cy="115" r="3.9" fill="#8a5a26" opacity=".5"/><circle cx="480.8" cy="115" r="2.9" fill="#54402e"/><circle cx="510.7" cy="117.4" r="3.2" fill="#8a5a26" opacity=".5"/><circle cx="510.7" cy="117.4" r="2.2" fill="#54402e"/><circle cx="499.5" cy="121.2" r="2.9" fill="#8a5a26" opacity=".5"/><circle cx="499.5" cy="121.2" r="1.9" fill="#54402e"/><circle cx="467.1" cy="123.7" r="2.7" fill="#8a5a26" opacity=".5"/><circle cx="467.1" cy="123.7" r="1.7" fill="#54402e"/><circle cx="448.5" cy="126.1" r="2.9" fill="#8a5a26" opacity=".5"/><circle cx="448.5" cy="126.1" r="1.9" fill="#54402e"/><circle cx="436.8" cy="134.9" r="2.9" fill="#8a5a26" opacity=".5"/><circle cx="436.8" cy="134.9" r="1.9" fill="#54402e"/><circle cx="462.2" cy="133.6" r="3.2" fill="#8a5a26" opacity=".5"/><circle cx="462.2" cy="133.6" r="2.2" fill="#54402e"/><circle cx="472.1" cy="132.4" r="3.2" fill="#8a5a26" opacity=".5"/><circle cx="472.1" cy="132.4" r="2.2" fill="#54402e"/><circle cx="485.8" cy="138.6" r="3.2" fill="#8a5a26" opacity=".5"/><circle cx="485.8" cy="138.6" r="2.2" fill="#54402e"/><circle cx="497" cy="136.1" r="3.2" fill="#8a5a26" opacity=".5"/><circle cx="497" cy="136.1" r="2.2" fill="#54402e"/><circle cx="506.9" cy="131.1" r="2.9" fill="#8a5a26" opacity=".5"/><circle cx="506.9" cy="131.1" r="1.9" fill="#54402e"/><circle cx="518.1" cy="142.3" r="2.9" fill="#8a5a26" opacity=".5"/><circle cx="518.1" cy="142.3" r="1.9" fill="#54402e"/><circle cx="419.9" cy="143.6" r="3.2" fill="#8a5a26" opacity=".5"/><circle cx="419.9" cy="143.6" r="2.2" fill="#54402e"/><circle cx="432.3" cy="142.3" r="3.2" fill="#8a5a26" opacity=".5"/><circle cx="432.3" cy="142.3" r="2.2" fill="#54402e"/><circle cx="405" cy="149.8" r="2.7" fill="#8a5a26" opacity=".5"/><circle cx="405" cy="149.8" r="1.7" fill="#54402e"/><circle cx="447.2" cy="151" r="3.4" fill="#8a5a26" opacity=".5"/><circle cx="447.2" cy="151" r="2.4" fill="#54402e"/><circle cx="458.4" cy="148.5" r="3.2" fill="#8a5a26" opacity=".5"/><circle cx="458.4" cy="148.5" r="2.2" fill="#54402e"/><circle cx="474.6" cy="156" r="3.7" fill="#8a5a26" opacity=".5"/><circle cx="474.6" cy="156" r="2.7" fill="#54402e"/><circle cx="487" cy="152.3" r="2.9" fill="#8a5a26" opacity=".5"/><circle cx="487" cy="152.3" r="1.9" fill="#54402e"/><circle cx="499.5" cy="159.7" r="3.2" fill="#8a5a26" opacity=".5"/><circle cx="499.5" cy="159.7" r="2.2" fill="#54402e"/><circle cx="511.9" cy="158.5" r="2.9" fill="#8a5a26" opacity=".5"/><circle cx="511.9" cy="158.5" r="1.9" fill="#54402e"/><circle cx="405" cy="164.7" r="3.4" fill="#8a5a26" opacity=".5"/><circle cx="405" cy="164.7" r="2.4" fill="#54402e"/><circle cx="416.1" cy="162.2" r="3.4" fill="#8a5a26" opacity=".5"/><circle cx="416.1" cy="162.2" r="2.4" fill="#54402e"/><circle cx="431.1" cy="168.4" r="3.2" fill="#8a5a26" opacity=".5"/><circle cx="431.1" cy="168.4" r="2.2" fill="#54402e"/><circle cx="442.3" cy="167.2" r="3.2" fill="#8a5a26" opacity=".5"/><circle cx="442.3" cy="167.2" r="2.2" fill="#54402e"/><circle cx="455.9" cy="172.2" r="2.9" fill="#8a5a26" opacity=".5"/><circle cx="455.9" cy="172.2" r="1.9" fill="#54402e"/><circle cx="469.6" cy="170.9" r="2.9" fill="#8a5a26" opacity=".5"/><circle cx="469.6" cy="170.9" r="1.9" fill="#54402e"/><circle cx="483.3" cy="177.1" r="2.9" fill="#8a5a26" opacity=".5"/><circle cx="483.3" cy="177.1" r="1.9" fill="#54402e"/><circle cx="497" cy="174.7" r="3.2" fill="#8a5a26" opacity=".5"/><circle cx="497" cy="174.7" r="2.2" fill="#54402e"/><circle cx="514.4" cy="174.7" r="2.9" fill="#8a5a26" opacity=".5"/><circle cx="514.4" cy="174.7" r="1.9" fill="#54402e"/><circle cx="402.5" cy="179.6" r="3.2" fill="#8a5a26" opacity=".5"/><circle cx="402.5" cy="179.6" r="2.2" fill="#54402e"/><circle cx="417.4" cy="185.8" r="3.2" fill="#8a5a26" opacity=".5"/><circle cx="417.4" cy="185.8" r="2.2" fill="#54402e"/><circle cx="427.3" cy="184.6" r="2.9" fill="#8a5a26" opacity=".5"/><circle cx="427.3" cy="184.6" r="1.9" fill="#54402e"/><circle cx="405" cy="198.3" r="3.2" fill="#8a5a26" opacity=".5"/><circle cx="405" cy="198.3" r="2.2" fill="#54402e"/><circle cx="412.4" cy="199.5" r="2.9" fill="#8a5a26" opacity=".5"/><circle cx="412.4" cy="199.5" r="1.9" fill="#54402e"/><circle cx="422.4" cy="204.5" r="2.9" fill="#8a5a26" opacity=".5"/><circle cx="422.4" cy="204.5" r="1.9" fill="#54402e"/><circle cx="434.8" cy="200.8" r="2.9" fill="#8a5a26" opacity=".5"/><circle cx="434.8" cy="200.8" r="1.9" fill="#54402e"/><circle cx="519.4" cy="179.6" r="2.9" fill="#8a5a26" opacity=".5"/><circle cx="519.4" cy="179.6" r="1.9" fill="#54402e"/></g></g><rect x="172.3" y="185" width="80.7" height="19" fill="#fff"/><text x="212.7" y="199.8" text-anchor="middle" style="font-family:'DejaVu Sans',sans-serif;font-size:17px" fill="#000">50 µm</text><rect x="438.7" y="185" width="80.6" height="19" fill="#fff"/><text x="479" y="199.8" text-anchor="middle" style="font-family:'DejaVu Sans',sans-serif;font-size:17px" fill="#000">50 µm</text></svg><svg class="abs" style="left:0;top:395px" width="531" height="170" viewBox="0 395 531 170"><path d="M29.5 404.9V553.4M43.7 404.9V553.4M57.9 404.9V553.4M72.1 404.9V553.4M86.3 404.9V553.4M100.5 404.9V553.4M114.7 404.9V553.4M128.9 404.9V553.4M143.1 404.9V553.4M157.3 404.9V553.4M171.5 404.9V553.4M185.7 404.9V553.4M199.9 404.9V553.4M214.1 404.9V553.4M228.3 404.9V553.4M242.5 404.9V553.4M256.7 404.9V553.4" stroke="#cddcda" stroke-width="1.2" fill="none" opacity="1.0"/><path d="M29.5 553.4H256.7M29.5 545.1H256.7M29.5 536.9H256.7M29.5 528.6H256.7M29.5 520.4H256.7M29.5 512.1H256.7M29.5 503.9H256.7M29.5 495.6H256.7M29.5 487.4H256.7M29.5 479.1H256.7M29.5 470.9H256.7M29.5 462.6H256.7M29.5 454.4H256.7M29.5 446.1H256.7M29.5 437.9H256.7M29.5 429.6H256.7M29.5 421.4H256.7M29.5 413.1H256.7M29.5 404.9H256.7" stroke="#dbe3e9" stroke-width="1.0" fill="none" opacity="1.0"/><path d="M296 404.9V553.4M310.2 404.9V553.4M324.4 404.9V553.4M338.6 404.9V553.4M352.8 404.9V553.4M367 404.9V553.4M381.2 404.9V553.4M395.4 404.9V553.4M409.6 404.9V553.4M423.8 404.9V553.4M438 404.9V553.4M452.2 404.9V553.4M466.4 404.9V553.4M480.6 404.9V553.4M494.8 404.9V553.4M509 404.9V553.4M523.2 404.9V553.4" stroke="#cddcda" stroke-width="1.2" fill="none" opacity="1.0"/><path d="M296 553.4H523.2M296 545.1H523.2M296 536.9H523.2M296 528.6H523.2M296 520.4H523.2M296 512.1H523.2M296 503.9H523.2M296 495.6H523.2M296 487.4H523.2M296 479.1H523.2M296 470.9H523.2M296 462.6H523.2M296 454.4H523.2M296 446.1H523.2M296 437.9H523.2M296 429.6H523.2M296 421.4H523.2M296 413.1H523.2M296 404.9H523.2" stroke="#dbe3e9" stroke-width="1.0" fill="none" opacity="1.0"/></svg><div class="abs" style="left:29px;top:414px;width:211px;height:140px;clip-path:polygon(49.9px 138.6px,49.9px 138.6px,49.9px 138.6px,49.9px 138.6px,49.9px 138.6px,49.8px 138.6px,49.8px 138.6px,49.8px 138.6px,49.7px 138.6px,49.7px 138.6px,49.6px 138.6px,49.6px 138.6px,49.5px 138.6px,49.4px 138.6px,49.4px 138.6px,49.3px 138.6px,49.2px 138.6px,49.1px 138.5px,49px 138.5px,48.9px 138.5px,48.9px 138.4px,48.8px 138.4px,48.7px 138.4px,48.6px 138.3px,48.5px 138.3px,48.3px 138.2px,48.2px 138.1px,48.1px 138.1px,47.9px 138px,47.7px 137.9px,47.6px 137.8px,47.4px 137.7px,47.2px 137.6px,47px 137.5px,46.8px 137.4px,46.5px 137.3px,46.3px 137.1px,46px 137px,45.7px 136.8px,45.3px 136.7px,45px 136.5px,44.6px 136.3px,44.2px 136.1px,43.8px 135.9px,43.4px 135.7px,42.9px 135.4px,42.4px 135.1px,41.9px 134.8px,41.4px 134.5px,40.8px 134.1px,40.3px 133.8px,39.7px 133.3px,39px 132.8px,38.3px 132.2px,37.5px 131.5px,36.6px 130.8px,35.7px 129.9px,34.8px 128.9px,33.8px 127.8px,32.8px 126.5px,31.6px 125.1px,30.4px 123.5px,29.2px 121.7px,27.8px 119.7px,26.4px 117.5px,24.9px 115.1px,23.3px 112.4px,21.7px 109.5px,20px 106.3px,18.4px 102.8px,16.7px 99px,15px 95px,13.4px 90.7px,11.8px 86.2px,10.1px 81.3px,8.6px 76.3px,7.2px 71.3px,5.9px 66.2px,4.7px 60.9px,3.7px 55.7px,2.8px 50.6px,2.2px 45.6px,1.8px 40.6px,1.6px 35.9px,1.6px 31.4px,1.9px 27px,2.5px 22.9px,3.3px 19.1px,4.4px 15.6px,5.9px 12.5px,7.5px 9.8px,9.5px 7.4px,11.5px 5.4px,13.8px 3.9px,16.3px 2.9px,18.9px 2.2px,21.6px 1.8px,24.3px 1.7px,27.2px 2px,30.1px 2.5px,32.9px 3.1px,35.8px 3.8px,38.7px 4.6px,41.6px 5.5px,44.4px 6.4px,47.2px 7.4px,49.9px 8.4px,52.6px 9.4px,55.3px 10.4px,57.9px 11.5px,60.5px 12.6px,63.1px 13.8px,65.7px 14.9px,68.3px 16.1px,70.9px 17.4px,73.4px 18.6px,76px 19.9px,78.5px 21.2px,81.1px 22.5px,83.6px 23.8px,86.2px 25.2px,88.7px 26.5px,91.2px 27.9px,93.8px 29.3px,96.3px 30.7px,98.8px 32.1px,101.4px 33.5px,103.9px 34.9px,106.5px 36.4px,109px 37.8px,111.5px 39.2px,114px 40.7px,116.6px 42.1px,119.1px 43.6px,121.6px 45px,124.1px 46.4px,126.6px 47.9px,129.1px 49.3px,131.6px 50.7px,134px 52.2px,136.5px 53.6px,138.9px 55px,141.3px 56.4px,143.7px 57.7px,146px 59.1px,148.4px 60.5px,150.7px 61.8px,153px 63.1px,155.2px 64.4px,157.4px 65.7px,159.6px 67px,161.8px 68.2px,163.9px 69.4px,165.9px 70.6px,167.9px 71.8px,169.8px 72.9px,171.7px 74px,173.5px 75px,175.3px 76px,176.9px 77px,178.6px 77.9px,180.2px 78.9px,181.7px 79.7px,183.2px 80.6px,184.6px 81.4px,185.9px 82.2px,187.2px 82.9px,188.4px 83.6px,189.6px 84.3px,190.7px 84.9px,191.7px 85.5px,192.7px 86.1px,193.6px 86.6px,194.5px 87.2px,195.4px 87.6px,196.1px 88.1px,196.9px 88.5px,197.6px 88.9px,198.3px 89.3px,198.9px 89.7px,199.5px 90px,200px 90.3px,200.5px 90.6px,201px 90.9px,201.5px 91.2px,202.3px 91.7px,203.1px 92.1px,204px 92.6px,204.7px 93.1px,205.3px 93.4px,205.8px 93.7px,206.3px 94px,206.7px 94.2px,207px 94.4px,207.3px 94.6px,207.6px 94.7px,207.8px 94.8px,208.1px 95px,208.4px 95.2px,208.6px 95.3px,208.8px 95.4px,208.9px 95.5px,209px 95.6px,209.1px 95.6px,209.2px 95.6px)"><div class="row" style="top:2px;height:3px;left:13px;width:23px;background:linear-gradient(90deg,#5cfc00 0px,#5cfc00 3px,#5cfc00 6px,#5cfc00 9px,#5cfc00 12px,#5dfc00 15px,#5dfc00 18px,#5dfc00 21px,#5efc00 23px)"></div><div class="row" style="top:4px;height:3px;left:9px;width:35px;background:linear-gradient(90deg,#5cfc01 0px,#5cfc00 3px,#5cfc00 6px,#5cfc00 9px,#5cfc00 12px,#5cfc00 15px,#5dfc00 18px,#5dfc00 21px,#5dfc00 24px,#5efc00 27px,#5efc00 30px,#5ffc00 33px,#5ffc00 35px)"></div><div class="row" style="top:6px;height:3px;left:6px;width:44px;background:linear-gradient(90deg,#5cfc02 0px,#5cfc01 3px,#5cfc01 6px,#5cfc01 9px,#5cfc01 12px,#5cfc01 15px,#5cfc01 18px,#5dfc01 21px,#5dfc00 24px,#5efc00 27px,#5efc00 30px,#5efc00 33px,#5ffc00 36px,#5ffc00 39px,#60fc00 42px,#60fc00 44px)"></div><div class="row" style="top:8px;height:3px;left:5px;width:50px;background:linear-gradient(90deg,#5bfc04 0px,#5bfc03 3px,#5cfc03 6px,#5cfc02 9px,#5cfc02 12px,#5cfc02 15px,#5cfc01 18px,#5dfc01 21px,#5dfc01 24px,#5dfc01 27px,#5efc01 30px,#5efc01 33px,#5ffc00 36px,#5ffc00 39px,#60fc00 42px,#61fc00 45px,#62fb00 48px,#62fb00 50px)"></div><div class="row" style="top:10px;height:3px;left:3px;width:57px;background:linear-gradient(90deg,#5afb08 0px,#5bfb07 3px,#5bfb06 6px,#5bfc05 9px,#5bfc04 12px,#5cfc04 15px,#5cfc03 18px,#5cfc03 21px,#5dfc02 24px,#5dfc02 27px,#5efc01 30px,#5efc01 33px,#5ffc01 36px,#5ffc01 39px,#60fc00 42px,#60fc00 45px,#61fb00 48px,#63fb00 51px,#64fb00 54px,#65fb00 57px)"></div><div class="row" style="top:12px;height:3px;left:2px;width:63px;background:linear-gradient(90deg,#59fb0d 0px,#5afb0c 3px,#5afb0a 6px,#5afb09 9px,#5bfb08 12px,#5bfb07 15px,#5bfc06 18px,#5cfc05 21px,#5cfc04 24px,#5dfc03 27px,#5dfc03 30px,#5efc02 33px,#5efc02 36px,#5ffc01 39px,#60fc01 42px,#60fc01 45px,#61fb01 48px,#63fb00 51px,#64fb00 54px,#65fb00 57px,#67fa00 60px,#68fa00 63px)"></div><div class="row" style="top:14px;height:3px;left:1px;width:68px;background:linear-gradient(90deg,#59fa10 0px,#59fb10 3px,#59fb0e 6px,#59fb0d 9px,#5afb0c 12px,#5afb0b 15px,#5afb09 18px,#5bfc08 21px,#5bfc07 24px,#5cfc06 27px,#5cfc05 30px,#5dfc04 33px,#5efc03 36px,#5efc02 39px,#5ffc02 42px,#60fc01 45px,#61fb01 48px,#63fb01 51px,#64fb01 54px,#66fb00 57px,#67fa00 60px,#68fa00 63px,#68fa00 66px,#69fa00 68px)"></div><div class="row" style="top:16px;height:3px;left:1px;width:73px;background:linear-gradient(90deg,#58fa12 0px,#59fa12 3px,#59fa11 6px,#59fb10 9px,#59fb0f 12px,#59fb0d 15px,#5afb0c 18px,#5afb0a 21px,#5bfc09 24px,#5bfc08 27px,#5cfc07 30px,#5cfc06 33px,#5dfc05 36px,#5efc04 39px,#5ffc03 42px,#60fc02 45px,#62fb02 48px,#63fb01 51px,#65fb01 54px,#66fa01 57px,#67fa01 60px,#68fa01 63px,#69fa01 66px,#69fa01 69px,#6afa01 72px,#6afa01 73px)"></div><div class="row" style="top:18px;height:3px;left:0px;width:78px;background:linear-gradient(90deg,#58fa13 0px,#58fa13 3px,#58fa12 6px,#59fa11 9px,#59fb10 12px,#59fb0f 15px,#59fb0e 18px,#5afb0d 21px,#5afb0b 24px,#5bfc0a 27px,#5bfc09 30px,#5cfc08 33px,#5cfc07 36px,#5dfc06 39px,#5efc05 42px,#60fb04 45px,#61fb03 48px,#63fb02 51px,#65fb02 54px,#66fa02 57px,#67fa01 60px,#68fa01 63px,#69fa01 66px,#6afa01 69px,#6bfa01 72px,#6cf901 75px,#6ef901 78px)"></div><div class="row" style="top:20px;height:3px;left:0px;width:82px;background:linear-gradient(90deg,#58fa14 0px,#58fa14 3px,#58fa13 6px,#58fa12 9px,#59fa11 12px,#59fb10 15px,#59fb0f 18px,#59fb0e 21px,#5afb0c 24px,#5afc0b 27px,#5bfc0a 30px,#5bfc09 33px,#5cfc08 36px,#5dfc07 39px,#5efc06 42px,#60fb05 45px,#61fb04 48px,#63fb04 51px,#65fb03 54px,#66fa03 57px,#67fa02 60px,#68fa02 63px,#69fa02 66px,#6bfa02 69px,#6df902 72px,#6ff902 75px,#72f902 78px,#76f802 81px,#77f802 82px)"></div><div class="row" style="top:22px;height:3px;left:0px;width:86px;background:linear-gradient(90deg,#58fa15 0px,#58fa14 3px,#58fa14 6px,#58fa13 9px,#59fa12 12px,#59fb11 15px,#59fb10 18px,#59fb0e 21px,#5afb0d 24px,#5afb0c 27px,#5afc0b 30px,#5bfc0a 33px,#5bfc09 36px,#5cfc08 39px,#5efb08 42px,#60fb07 45px,#62fb06 48px,#63fb05 51px,#65fa05 54px,#66fa04 57px,#67fa04 60px,#69fa03 63px,#6afa03 66px,#6cf903 69px,#6ff903 72px,#72f903 75px,#77f803 78px,#7bf703 81px,#80f704 84px,#82f604 86px)"></div><div class="row" style="top:24px;height:3px;left:0px;width:89px;background:linear-gradient(90deg,#58fa16 0px,#58fa16 3px,#58fa15 6px,#59fa14 9px,#59fa13 12px,#59fa12 15px,#59fb11 18px,#59fb0f 21px,#5afb0e 24px,#5afb0d 27px,#5afb0c 30px,#5bfc0b 33px,#5bfc0a 36px,#5dfb0a 39px,#5efb09 42px,#60fb08 45px,#62fb08 48px,#63fa07 51px,#65fa07 54px,#66fa06 57px,#67fa06 60px,#69fa05 63px,#6bf905 66px,#6ef904 69px,#72f904 72px,#76f804 75px,#7bf704 78px,#80f704 81px,#84f604 84px,#88f605 87px,#8af505 89px)"></div><div class="row" style="top:26px;height:3px;left:0px;width:93px;background:linear-gradient(90deg,#59f919 0px,#59f918 3px,#59f918 6px,#59f917 9px,#59fa16 12px,#59fa14 15px,#59fa13 18px,#5afb11 21px,#5afb10 24px,#5afb0e 27px,#5bfb0d 30px,#5bfb0d 33px,#5cfb0c 36px,#5dfb0b 39px,#5ffb0b 42px,#60fb0a 45px,#62fa09 48px,#63fa09 51px,#65fa08 54px,#66fa08 57px,#67fa07 60px,#69fa07 63px,#6cf906 66px,#70f906 69px,#74f805 72px,#7af705 75px,#7ff705 78px,#84f605 81px,#88f605 84px,#8bf505 87px,#8df505 90px,#90f506 93px)"></div><div class="row" style="top:28px;height:3px;left:0px;width:97px;background:linear-gradient(90deg,#59f81e 0px,#59f81d 3px,#59f81c 6px,#59f91b 9px,#59f919 12px,#59f918 15px,#5afa16 18px,#5afa14 21px,#5afa13 24px,#5bfb12 27px,#5bfb10 30px,#5cfb0f 33px,#5cfb0f 36px,#5efb0e 39px,#5ffb0d 42px,#61fa0c 45px,#62fa0b 48px,#64fa0a 51px,#65fa0a 54px,#66fa09 57px,#67fa09 60px,#69f908 63px,#6cf908 66px,#71f807 69px,#77f807 72px,#7df706 75px,#82f606 78px,#86f606 81px,#8af506 84px,#8df506 87px,#90f506 90px,#93f406 93px,#96f407 96px,#98f407 97px)"></div><div class="row" style="top:30px;height:3px;left:0px;width:100px;background:linear-gradient(90deg,#5af725 0px,#5af724 3px,#5af723 6px,#5af721 9px,#5af820 12px,#5af81e 15px,#5af91c 18px,#5bf91a 21px,#5bf919 24px,#5bfa17 27px,#5cfa16 30px,#5dfa15 33px,#5dfa13 36px,#5ffa12 39px,#60fa10 42px,#62fa0e 45px,#63fa0d 48px,#64fa0c 51px,#65fa0b 54px,#66fa0b 57px,#67fa0a 60px,#69f90a 63px,#6df909 66px,#72f809 69px,#78f808 72px,#7ef707 75px,#84f607 78px,#88f607 81px,#8cf507 84px,#8ff507 87px,#92f407 90px,#96f407 93px,#9af408 96px,#a0f308 99px,#a1f308 100px)"></div><div class="row" style="top:32px;height:3px;left:0px;width:104px;background:linear-gradient(90deg,#5bf52c 0px,#5bf52c 3px,#5bf62b 6px,#5bf629 9px,#5bf628 12px,#5bf726 15px,#5bf725 18px,#5cf723 21px,#5cf821 24px,#5df820 27px,#5df81e 30px,#5ef91d 33px,#5ff91b 36px,#60f918 39px,#61f915 42px,#62f912 45px,#63fa10 48px,#64fa0f 51px,#65fa0e 54px,#66fa0d 57px,#67f90d 60px,#6af90c 63px,#6df90b 66px,#73f80b 69px,#79f70a 72px,#80f709 75px,#86f608 78px,#8af508 81px,#8ef508 84px,#92f508 87px,#95f408 90px,#9af409 93px,#9ff309 96px,#a4f30a 99px,#aaf20a 102px,#aef20b 104px)"></div><div class="row" style="top:34px;height:3px;left:0px;width:108px;background:linear-gradient(90deg,#5bf433 0px,#5bf432 3px,#5bf432 6px,#5bf431 9px,#5cf530 12px,#5cf52f 15px,#5df52d 18px,#5df62c 21px,#5ef62b 24px,#5ef72a 27px,#5ff729 30px,#5ff727 33px,#60f724 36px,#61f820 39px,#62f81c 42px,#63f918 45px,#64f915 48px,#64f913 51px,#65f912 54px,#66f911 57px,#67f911 60px,#6af910 63px,#6ef80f 66px,#73f80e 69px,#7af70d 72px,#81f60c 75px,#88f60b 78px,#8cf50b 81px,#91f50a 84px,#95f40b 87px,#99f40b 90px,#9ef40b 93px,#a3f30b 96px,#a9f20c 99px,#aef20c 102px,#b3f10c 105px,#b7f10c 108px)"></div><div class="row" style="top:36px;height:3px;left:0px;width:111px;background:linear-gradient(90deg,#5cf338 0px,#5cf337 3px,#5cf337 6px,#5cf336 9px,#5cf436 12px,#5df435 15px,#5ef434 18px,#5ef534 21px,#5ff533 24px,#5ff532 27px,#60f531 30px,#61f630 33px,#61f62d 36px,#62f729 39px,#63f725 42px,#63f821 45px,#64f81d 48px,#65f81b 51px,#65f919 54px,#66f918 57px,#68f917 60px,#6af816 63px,#6ef815 66px,#74f714 69px,#7cf712 72px,#83f611 75px,#8af510 78px,#8ff50f 81px,#94f50e 84px,#98f40e 87px,#9df40e 90px,#a2f30e 93px,#a7f30e 96px,#acf20e 99px,#b1f20e 102px,#b5f10e 105px,#b9f00e 108px,#bcf00e 111px)"></div><div class="row" style="top:38px;height:3px;left:0px;width:115px;background:linear-gradient(90deg,#5cf23b 0px,#5cf33b 3px,#5cf33a 6px,#5cf33a 9px,#5df33a 12px,#5ef339 15px,#5ef439 18px,#5ff439 21px,#60f438 24px,#60f438 27px,#61f537 30px,#61f536 33px,#62f534 36px,#62f631 39px,#63f62e 42px,#64f72a 45px,#64f727 48px,#65f825 51px,#66f823 54px,#67f822 57px,#68f821 60px,#6bf820 63px,#6ff71f 66px,#76f71d 69px,#7df61a 72px,#85f618 75px,#8cf516 78px,#92f515 81px,#97f514 84px,#9bf414 87px,#a0f413 90px,#a5f313 93px,#aaf312 96px,#aff212 99px,#b3f111 102px,#b7f111 105px,#bbf010 108px,#beef10 111px,#c2ee10 114px,#c3ed10 115px)"></div><div class="row" style="top:40px;height:3px;left:0px;width:118px;background:linear-gradient(90deg,#5cf23e 0px,#5cf23e 3px,#5cf23d 6px,#5df33d 9px,#5df33d 12px,#5ef33c 15px,#5ff33c 18px,#5ff43c 21px,#60f43b 24px,#61f43b 27px,#61f43b 30px,#62f43a 33px,#62f539 36px,#63f538 39px,#63f536 42px,#64f634 45px,#65f632 48px,#65f730 51px,#66f72f 54px,#67f72e 57px,#69f72d 60px,#6cf72c 63px,#70f72a 66px,#77f628 69px,#7ff624 72px,#87f521 75px,#8ef51e 78px,#94f51c 81px,#99f41b 84px,#9ef419 87px,#a2f418 90px,#a7f317 93px,#acf316 96px,#b0f215 99px,#b4f114 102px,#b8f113 105px,#bcf013 108px,#c0ee12 111px,#c4ed12 114px,#c8eb12 117px,#caea12 118px)"></div><div class="row" style="top:42px;height:3px;left:0px;width:122px;background:linear-gradient(90deg,#5cf242 0px,#5cf242 3px,#5cf241 6px,#5df240 9px,#5df340 12px,#5ef33f 15px,#5ff33f 18px,#60f33e 21px,#60f43e 24px,#61f43d 27px,#61f43d 30px,#62f43d 33px,#62f43d 36px,#63f53c 39px,#64f53c 42px,#64f53b 45px,#65f63b 48px,#66f63a 51px,#67f63a 54px,#68f639 57px,#6af638 60px,#6df637 63px,#71f635 66px,#78f631 69px,#80f52e 72px,#88f529 75px,#8ff526 78px,#95f523 81px,#9af521 84px,#9ff41f 87px,#a3f41d 90px,#a8f31c 93px,#acf31a 96px,#b1f219 99px,#b5f118 102px,#b9f017 105px,#bdef16 108px,#c2ed15 111px,#c7ec15 114px,#cce915 117px,#d1e715 120px,#d4e515 122px)"></div><div class="row" style="top:44px;height:3px;left:0px;width:125px;background:linear-gradient(90deg,#5bf248 0px,#5cf247 3px,#5cf247 6px,#5df245 9px,#5df244 12px,#5ef343 15px,#5ff342 18px,#60f341 21px,#60f441 24px,#61f440 27px,#61f440 30px,#62f440 33px,#62f440 36px,#63f441 39px,#64f541 42px,#65f542 45px,#65f542 48px,#66f542 51px,#67f542 54px,#68f641 57px,#6af640 60px,#6df53f 63px,#72f53c 66px,#78f539 69px,#80f535 72px,#88f530 75px,#8ff52c 78px,#95f529 81px,#9af526 84px,#9ff424 87px,#a3f422 90px,#a8f420 93px,#acf31f 96px,#b0f21d 99px,#b5f11c 102px,#b9f01a 105px,#beee19 108px,#c3ec18 111px,#c9ea18 114px,#cfe717 117px,#d5e417 120px,#dae118 123px,#dddf18 125px)"></div><div class="row" style="top:46px;height:3px;left:0px;width:129px;background:linear-gradient(90deg,#5bf152 0px,#5bf250 3px,#5cf24f 6px,#5cf24d 9px,#5df24b 12px,#5ef24a 15px,#5ff348 18px,#60f346 21px,#60f346 24px,#61f445 27px,#61f445 30px,#62f445 33px,#62f445 36px,#63f446 39px,#64f546 42px,#65f547 45px,#66f547 48px,#66f547 51px,#67f547 54px,#69f546 57px,#6bf545 60px,#6ef544 63px,#72f541 66px,#79f53e 69px,#80f539 72px,#87f535 75px,#8ef531 78px,#94f52d 81px,#99f52b 84px,#9ef428 87px,#a3f426 90px,#a7f425 93px,#acf323 96px,#b0f222 99px,#b5f120 102px,#baf01f 105px,#bfee1d 108px,#c5eb1c 111px,#cce81b 114px,#d2e51b 117px,#d8e11a 120px,#ddde1a 123px,#e2da1b 126px,#e5d61c 129px)"></div><div class="row" style="top:48px;height:3px;left:0px;width:132px;background:linear-gradient(90deg,#5af15d 0px,#5af15b 3px,#5bf15a 6px,#5bf258 9px,#5cf255 12px,#5df253 15px,#5ef350 18px,#5ff34e 21px,#60f34d 24px,#61f44c 27px,#61f44c 30px,#62f44b 33px,#62f44b 36px,#63f44b 39px,#64f54b 42px,#65f54b 45px,#66f54b 48px,#66f54b 51px,#67f54b 54px,#69f54a 57px,#6bf549 60px,#6ef547 63px,#73f545 66px,#79f541 69px,#80f53d 72px,#87f539 75px,#8df535 78px,#93f531 81px,#99f52f 84px,#9ef52c 87px,#a2f42b 90px,#a7f429 93px,#acf328 96px,#b0f226 99px,#b5f125 102px,#baef23 105px,#c0ed22 108px,#c7ea21 111px,#cee61f 114px,#d5e21e 117px,#dbde1d 120px,#e0da1d 123px,#e4d61d 126px,#e8d21e 129px,#ebcd1f 132px)"></div><div class="row" style="top:50px;height:3px;left:0px;width:136px;background:linear-gradient(90deg,#59f167 0px,#5af166 3px,#5af164 6px,#5bf163 9px,#5bf160 12px,#5cf25e 15px,#5ef25b 18px,#5ff359 21px,#5ff357 24px,#60f356 27px,#61f455 30px,#61f454 33px,#62f453 36px,#63f452 39px,#64f451 42px,#65f550 45px,#66f54f 48px,#66f54e 51px,#67f54e 54px,#69f54d 57px,#6bf54c 60px,#6ef54a 63px,#73f547 66px,#79f544 69px,#7ff540 72px,#86f53c 75px,#8cf539 78px,#92f536 81px,#98f533 84px,#9df531 87px,#a2f42f 90px,#a7f42e 93px,#acf32c 96px,#b1f22b 99px,#b6f12a 102px,#bcef29 105px,#c2ec27 108px,#c9e925 111px,#d0e424 114px,#d7e022 117px,#dddb21 120px,#e2d620 123px,#e7d220 126px,#eacd20 129px,#ecc821 132px,#efc421 135px,#efc221 136px)"></div><div class="row" style="top:52px;height:3px;left:0px;width:139px;background:linear-gradient(90deg,#59f06f 0px,#59f06e 3px,#59f16d 6px,#5af16c 9px,#5bf16a 12px,#5cf268 15px,#5df266 18px,#5ef264 21px,#5ff362 24px,#60f361 27px,#60f360 30px,#61f45e 33px,#62f45c 36px,#62f45a 39px,#63f457 42px,#64f555 45px,#65f553 48px,#66f551 51px,#67f550 54px,#69f54f 57px,#6bf54e 60px,#6ff54c 63px,#73f54a 66px,#79f547 69px,#7ff544 72px,#86f540 75px,#8cf53d 78px,#92f53a 81px,#98f537 84px,#9ef535 87px,#a4f434 90px,#a9f433 93px,#aef332 96px,#b3f231 99px,#b8f130 102px,#beee2e 105px,#c4eb2d 108px,#cbe72b 111px,#d2e228 114px,#d9dd26 117px,#dfd825 120px,#e4d323 123px,#e8cd23 126px,#ecc822 129px,#eec423 132px,#f0bf23 135px,#f2ba23 138px,#f2b923 139px)"></div><div class="row" style="top:54px;height:3px;left:0px;width:142px;background:linear-gradient(90deg,#59f074 0px,#59f074 3px,#59f073 6px,#5af172 9px,#5af171 12px,#5bf170 15px,#5cf26f 18px,#5df26d 21px,#5ef36c 24px,#5ff36b 27px,#60f369 30px,#60f367 33px,#61f464 36px,#62f461 39px,#63f45d 42px,#64f559 45px,#65f556 48px,#66f554 51px,#68f553 54px,#69f551 57px,#6cf550 60px,#6ff54e 63px,#74f54c 66px,#7af54a 69px,#80f547 72px,#86f544 75px,#8cf542 78px,#92f53f 81px,#99f53d 84px,#9ff53b 87px,#a6f53a 90px,#acf439 93px,#b2f338 96px,#b7f237 99px,#bcf036 102px,#c1ed34 105px,#c7ea33 108px,#cee630 111px,#d4e02e 114px,#dbdb2b 117px,#e1d529 120px,#e6cf27 123px,#eac926 126px,#edc425 129px,#efbf24 132px,#f1ba24 135px,#f3b525 138px,#f4b125 141px,#f4af25 142px)"></div><div class="row" style="top:56px;height:3px;left:0px;width:146px;background:linear-gradient(90deg,#58f078 0px,#59f078 3px,#59f078 6px,#59f177 9px,#5af177 12px,#5bf176 15px,#5cf275 18px,#5df274 21px,#5ef274 24px,#5ff372 27px,#5ff371 30px,#60f36f 33px,#60f36b 36px,#61f467 39px,#63f462 42px,#64f45d 45px,#65f55a 48px,#66f557 51px,#68f555 54px,#6af553 57px,#6df552 60px,#71f551 63px,#75f54f 66px,#7bf54d 69px,#81f54b 72px,#87f549 75px,#8df547 78px,#94f545 81px,#9bf543 84px,#a3f542 87px,#aaf540 90px,#b0f43f 93px,#b6f33e 96px,#bcf13d 99px,#c1ef3c 102px,#c6ec3b 105px,#cbe939 108px,#d1e436 111px,#d7de33 114px,#ddd830 117px,#e3d22d 120px,#e7cb2a 123px,#ebc529 126px,#eebf27 129px,#f1ba26 132px,#f2b526 135px,#f4b026 138px,#f5ac26 141px,#f6a726 144px,#f6a426 146px)"></div><div class="row" style="top:58px;height:3px;left:1px;width:148px;background:linear-gradient(90deg,#58f07b 0px,#58f07c 3px,#59f07c 6px,#59f17c 9px,#5af17c 12px,#5bf17c 15px,#5cf27b 18px,#5df27a 21px,#5ef279 24px,#5ef378 27px,#5ff376 30px,#5ff374 33px,#60f370 36px,#61f46b 39px,#62f466 42px,#64f460 45px,#65f55c 48px,#67f559 51px,#69f557 54px,#6cf555 57px,#70f554 60px,#74f553 63px,#7af552 66px,#7ff551 69px,#85f550 72px,#8cf54f 75px,#92f54e 78px,#9af54c 81px,#a2f54b 84px,#aaf549 87px,#b2f448 90px,#b8f346 93px,#bef245 96px,#c3f044 99px,#c8ed42 102px,#ccea40 105px,#d1e63e 108px,#d6e03b 111px,#dcda37 114px,#e1d334 117px,#e6cc30 120px,#eac62d 123px,#edbf2b 126px,#f0b929 129px,#f2b428 132px,#f4af28 135px,#f5aa27 138px,#f6a627 141px,#f7a128 144px,#f79c28 147px,#f79b28 148px)"></div><div class="row" style="top:60px;height:3px;left:1px;width:152px;background:linear-gradient(90deg,#58f081 0px,#58f081 3px,#59f082 6px,#59f083 9px,#5af183 12px,#5bf182 15px,#5cf281 18px,#5df280 21px,#5df27f 24px,#5ef27e 27px,#5ef37c 30px,#5ff37a 33px,#60f376 36px,#60f371 39px,#62f46b 42px,#63f465 45px,#65f460 48px,#67f55c 51px,#6af55a 54px,#6ef558 57px,#72f558 60px,#78f558 63px,#7ef557 66px,#84f557 69px,#8af557 72px,#90f557 75px,#97f557 78px,#9ff556 81px,#a7f554 84px,#b0f553 87px,#b8f451 90px,#bff34f 93px,#c4f14d 96px,#c9ef4b 99px,#cdec49 102px,#d1e946 105px,#d5e444 108px,#dadf40 111px,#ded83d 114px,#e3d139 117px,#e7ca35 120px,#ebc231 123px,#eebb2e 126px,#f1b52c 129px,#f3af2b 132px,#f4aa2a 135px,#f5a529 138px,#f6a129 141px,#f79c29 144px,#f79829 147px,#f89329 150px,#f89029 152px)"></div><div class="row" style="top:62px;height:3px;left:2px;width:154px;background:linear-gradient(90deg,#58f089 0px,#58f08a 3px,#58f08b 6px,#59f08b 9px,#5af18b 12px,#5bf18a 15px,#5cf189 18px,#5cf287 21px,#5df285 24px,#5df284 27px,#5ef282 30px,#5ef280 33px,#5ff37c 36px,#60f377 39px,#62f470 42px,#64f469 45px,#66f464 48px,#6af560 51px,#6ef55e 54px,#73f55d 57px,#79f55d 60px,#7ff55e 63px,#85f55f 66px,#8bf560 69px,#92f661 72px,#98f661 75px,#a0f661 78px,#a8f660 81px,#b0f55e 84px,#b9f55c 87px,#c0f459 90px,#c7f257 93px,#ccf054 96px,#d0ed51 99px,#d4ea4f 102px,#d7e64c 105px,#dbe149 108px,#dfdb45 111px,#e3d441 114px,#e7cc3d 117px,#eac439 120px,#eebc35 123px,#f0b431 126px,#f2ae2f 129px,#f4a82d 132px,#f5a32c 135px,#f69e2b 138px,#f79a2b 141px,#f7952a 144px,#f7912a 147px,#f88c2a 150px,#f88829 153px,#f88629 154px)"></div><div class="row" style="top:64px;height:3px;left:2px;width:158px;background:linear-gradient(90deg,#57ef94 0px,#57ef95 3px,#58f096 6px,#58f096 9px,#59f095 12px,#5af193 15px,#5bf192 18px,#5cf18f 21px,#5cf18e 24px,#5df28c 27px,#5df28a 30px,#5ef288 33px,#5ef284 36px,#5ff380 39px,#61f37a 42px,#63f473 45px,#67f46c 48px,#6cf568 51px,#71f565 54px,#78f565 57px,#7ff566 60px,#86f567 63px,#8cf569 66px,#92f66a 69px,#98f66b 72px,#9ff66c 75px,#a6f66c 78px,#aef66b 81px,#b6f569 84px,#bef567 87px,#c5f463 90px,#ccf260 93px,#d1ef5d 96px,#d5ec59 99px,#d9e956 102px,#dce453 105px,#dfdf50 108px,#e2d94c 111px,#e6d148 114px,#e9c943 117px,#ecc03e 120px,#efb83a 123px,#f1af36 126px,#f3a833 129px,#f4a230 132px,#f59c2f 135px,#f6982e 138px,#f6942d 141px,#f7902c 144px,#f78b2c 147px,#f7872b 150px,#f7832a 153px,#f77e29 156px,#f77b29 158px)"></div><div class="row" style="top:66px;height:3px;left:3px;width:160px;background:linear-gradient(90deg,#57efa0 0px,#57efa1 3px,#57efa1 6px,#58efa0 9px,#59f09f 12px,#5af09c 15px,#5af09a 18px,#5bf198 21px,#5bf196 24px,#5cf194 27px,#5cf192 30px,#5df290 33px,#5ef28d 36px,#5ff289 39px,#61f383 42px,#65f37d 45px,#6af477 48px,#71f573 51px,#79f571 54px,#81f571 57px,#88f572 60px,#8ff673 63px,#96f674 66px,#9bf675 69px,#a1f676 72px,#a8f677 75px,#aef676 78px,#b6f675 81px,#bdf573 84px,#c5f470 87px,#ccf36c 90px,#d1f068 93px,#d6ee64 96px,#daea61 99px,#dee65d 102px,#e1e159 105px,#e4db56 108px,#e6d452 111px,#e9cc4d 114px,#ecc348 117px,#eeb943 120px,#f0b03e 123px,#f2a73a 126px,#f39f37 129px,#f49934 132px,#f59432 135px,#f69031 138px,#f68c2f 141px,#f6882e 144px,#f7842d 147px,#f7802c 150px,#f77c2b 153px,#f7772a 156px,#f7732a 159px,#f7722a 160px)"></div><div class="row" style="top:68px;height:3px;left:3px;width:164px;background:linear-gradient(90deg,#56efaa 0px,#56efaa 3px,#57efaa 6px,#57efa9 9px,#58efa7 12px,#59f0a4 15px,#59f0a2 18px,#5af0a0 21px,#5bf19e 24px,#5bf19c 27px,#5cf19a 30px,#5cf199 33px,#5df197 36px,#5ef294 39px,#60f290 42px,#65f38b 45px,#6bf486 48px,#74f482 51px,#7df580 54px,#86f57f 57px,#8ff57f 60px,#96f680 63px,#9cf680 66px,#a2f681 69px,#a8f681 72px,#adf681 75px,#b4f680 78px,#baf67f 81px,#c1f57d 84px,#c8f47a 87px,#cef276 90px,#d4f072 93px,#d9ec6e 96px,#dde96a 99px,#e1e466 102px,#e4df62 105px,#e7d85e 108px,#e9d159 111px,#ebc855 114px,#eebe50 117px,#f0b44a 120px,#f1aa45 123px,#f2a040 126px,#f3983c 129px,#f49139 132px,#f48c37 135px,#f58834 138px,#f58433 141px,#f58031 144px,#f67d30 147px,#f6792e 150px,#f6752d 153px,#f6712c 156px,#f66d2b 159px,#f6692b 162px,#f6662b 164px)"></div><div class="row" style="top:70px;height:3px;left:4px;width:166px;background:linear-gradient(90deg,#56eeb0 0px,#56efb0 3px,#57efaf 6px,#57efae 9px,#58efac 12px,#58efaa 15px,#59f0a7 18px,#5af0a5 21px,#5af0a3 24px,#5bf0a2 27px,#5bf1a1 30px,#5cf1a0 33px,#5df19e 36px,#5ef29c 39px,#62f29a 42px,#67f396 45px,#6ff493 48px,#79f590 51px,#83f58e 54px,#8df58d 57px,#95f68c 60px,#9df68c 63px,#a3f68c 66px,#a9f68c 69px,#aff68b 72px,#b5f68b 75px,#bbf68a 78px,#c1f589 81px,#c7f486 84px,#cdf383 87px,#d3f07f 90px,#d8ed7b 93px,#ddea77 96px,#e1e572 99px,#e4e06e 102px,#e7da69 105px,#ead365 108px,#ecca60 111px,#eec15b 114px,#f0b656 117px,#f1ab50 120px,#f2a04b 123px,#f39646 126px,#f38e42 129px,#f3883e 132px,#f4823b 135px,#f47e39 138px,#f47a36 141px,#f47734 144px,#f47333 147px,#f47031 150px,#f46d30 153px,#f5692e 156px,#f5662e 159px,#f5622d 162px,#f45e2d 165px,#f45d2e 166px)"></div><div class="row" style="top:72px;height:3px;left:4px;width:170px;background:linear-gradient(90deg,#56eeb4 0px,#56eeb4 3px,#56eeb3 6px,#57efb2 9px,#57efb0 12px,#58efae 15px,#59efac 18px,#59f0aa 21px,#5af0a8 24px,#5bf0a7 27px,#5bf0a6 30px,#5cf1a5 33px,#5df1a4 36px,#5ff2a3 39px,#62f3a1 42px,#68f39f 45px,#6ff49d 48px,#79f59b 51px,#83f599 54px,#8ef598 57px,#97f697 60px,#a0f697 63px,#a7f696 66px,#aef696 69px,#b4f696 72px,#b9f695 75px,#bff594 78px,#c5f593 81px,#caf391 84px,#d0f28e 87px,#d5ef8a 90px,#daec86 93px,#dee881 96px,#e0df8a 99px,#e6de78 102px,#e9d773 105px,#ebcf6e 108px,#eec669 111px,#f0bc63 114px,#f1b05e 117px,#f2a558 120px,#f39953 123px,#f38f4e 126px,#f38749 129px,#f38045 132px,#f27a41 135px,#f2753e 138px,#f2713c 141px,#f26d39 144px,#f26a37 147px,#f26735 150px,#f36434 153px,#f36132 156px,#f35e31 159px,#f35b30 162px,#f35830 165px,#f35430 168px,#f35131 170px)"></div><div class="row" style="top:74px;height:3px;left:5px;width:172px;background:linear-gradient(90deg,#56eeb7 0px,#56eeb6 3px,#56eeb5 6px,#57eeb4 9px,#57efb2 12px,#58efb0 15px,#59efae 18px,#5af0ad 21px,#5af0ac 24px,#5bf0ab 27px,#5cf0aa 30px,#5df1a9 33px,#5ef1a9 36px,#61f2a7 39px,#65f3a6 42px,#6af4a4 45px,#72f4a3 48px,#7bf5a2 51px,#86f5a1 54px,#91f5a0 57px,#9bf5a0 60px,#a4f6a0 63px,#acf6a0 66px,#b3f69f 69px,#baf69f 72px,#bff59f 75px,#c5f49e 78px,#caf39c 81px,#cff29a 84px,#d4ef98 87px,#d9ec94 90px,#dbe1a1 93px,#dddd9f 96px,#e3dd8d 99px,#e8d980 102px,#ebd17b 105px,#edc875 108px,#efbe70 111px,#f1b36a 114px,#f2a664 117px,#f39b5f 120px,#f38f59 123px,#f38654 126px,#f27d4f 129px,#f2764b 132px,#f16f48 135px,#f16a44 138px,#f06642 141px,#f0623f 144px,#f05f3d 147px,#f05c3b 150px,#f15a39 153px,#f15737 156px,#f15535 159px,#f25234 162px,#f24f34 165px,#f14c34 168px,#f14834 171px,#f14634 172px)"></div><div class="row" style="top:76px;height:3px;left:5px;width:175px;background:linear-gradient(90deg,#56eeb9 0px,#56eeb8 3px,#56eeb7 6px,#57eeb6 9px,#57eeb5 12px,#58efb3 15px,#59efb2 18px,#5aefb0 21px,#5bf0af 24px,#5bf0af 27px,#5cf0ae 30px,#5ef1ad 33px,#5ff1ac 36px,#62f2ab 39px,#66f3a9 42px,#6bf4a8 45px,#72f4a7 48px,#7bf4a6 51px,#85f5a7 54px,#90f5a7 57px,#9bf5a7 60px,#a5f5a8 63px,#aef5a8 66px,#b6f5a8 69px,#bdf5a8 72px,#c3f4a8 75px,#c9f3a7 78px,#cef2a6 81px,#d3efa5 84px,#d7eda2 87px,#d8deb4 90px,#dad9b5 93px,#dedaa8 96px,#e4da97 99px,#e9d68b 102px,#ecce85 105px,#eec47f 108px,#f0b978 111px,#f2ad72 114px,#f2a06c 117px,#f39467 120px,#f38962 123px,#f27f5d 126px,#f17658 129px,#f16e54 132px,#f06750 135px,#ef614c 138px,#ee5c49 141px,#ee5847 144px,#ee5444 147px,#ee5242 150px,#ee503f 153px,#ef4e3d 156px,#ef4c3b 159px,#f04a39 162px,#f04738 165px,#ef4438 168px,#ef4038 171px,#ee3d38 174px,#ee3c38 175px)"></div><div class="row" style="top:78px;height:3px;left:6px;width:178px;background:linear-gradient(90deg,#56edbb 0px,#56edbb 3px,#56edba 6px,#57edb9 9px,#58eeb8 12px,#59eeb7 15px,#5aeeb5 18px,#5befb4 21px,#5cefb4 24px,#5df0b3 27px,#5ef0b2 30px,#5ff1b1 33px,#61f2b0 36px,#64f2ae 39px,#68f3ac 42px,#6df3ab 45px,#75f4aa 48px,#7df4aa 51px,#88f4ab 54px,#93f5ac 57px,#9ef5ad 60px,#a9f5ae 63px,#b2f5af 66px,#baf4b0 69px,#c2f4b0 72px,#c8f2b0 75px,#cef1b0 78px,#d3eeaf 81px,#d8ecae 84px,#d5d1cb 87px,#d8d5c2 90px,#dcd6b7 93px,#e1d7ab 96px,#e7d59c 99px,#eacf94 102px,#edc68d 105px,#efbb86 108px,#f1af7f 111px,#f2a279 114px,#f29573 117px,#f3896e 120px,#f27f69 123px,#f17565 126px,#f06c60 129px,#ef645c 132px,#ee5d58 135px,#ed5754 138px,#ec5151 141px,#ec4d4e 144px,#ec4a4b 147px,#ec4848 150px,#ec4646 153px,#ed4443 156px,#ed4240 159px,#ed403e 162px,#ed3e3d 165px,#ed3b3c 168px,#ed383c 171px,#ec353b 174px,#ec323c 177px,#ec323c 178px)"></div><div class="row" style="top:80px;height:3px;left:7px;width:180px;background:linear-gradient(90deg,#56ecbf 0px,#56ecbf 3px,#56ecbe 6px,#57ecbd 9px,#58edbc 12px,#59edbb 15px,#5aeeba 18px,#5cefb9 21px,#5defb9 24px,#5ef0b8 27px,#60f0b7 30px,#61f1b5 33px,#64f2b3 36px,#67f2b1 39px,#6bf3af 42px,#70f3ae 45px,#78f3ad 48px,#81f4ae 51px,#8bf4af 54px,#96f4b1 57px,#a1f4b3 60px,#acf4b4 63px,#b6f4b6 66px,#bff3b7 69px,#c7f2b8 72px,#cef0b8 75px,#d4edb8 78px,#d7e2bf 81px,#d4cdd1 84px,#d7d0cb 87px,#dbd1c3 90px,#dfd2b9 93px,#e5d1ae 96px,#eacea2 99px,#ecc69c 102px,#edbc94 105px,#efb08d 108px,#f1a386 111px,#f29680 114px,#f2897b 117px,#f27e76 120px,#f17472 123px,#f06b6e 126px,#ef6269 129px,#ee5a65 132px,#ed5360 135px,#ec4d5c 138px,#eb4859 141px,#ea4455 144px,#ea4152 147px,#ea3f4f 150px,#ea3d4c 153px,#eb3b49 156px,#eb3a46 159px,#eb3843 162px,#eb3541 165px,#eb3340 168px,#eb313f 171px,#eb2f3e 174px,#ea2d3e 177px,#ea2b3e 180px)"></div><div class="row" style="top:82px;height:3px;left:7px;width:184px;background:linear-gradient(90deg,#56ebc3 0px,#56ebc3 3px,#56ebc3 6px,#57ebc2 9px,#58ecc1 12px,#59ecc0 15px,#5bedc0 18px,#5deebf 21px,#5eefbe 24px,#60efbd 27px,#61f0bb 30px,#63f1ba 33px,#65f1b7 36px,#68f2b5 39px,#6cf2b3 42px,#71f2b1 45px,#78f3b1 48px,#81f3b2 51px,#8bf3b3 54px,#95f3b5 57px,#a0f3b7 60px,#abf3b9 63px,#b6f3bb 66px,#c0f2bc 69px,#c8f0bd 72px,#d0edbe 75px,#d5e0c6 78px,#d2c8d6 81px,#d4cad2 84px,#d8cbcc 87px,#dcccc6 90px,#e1cbbe 93px,#e6cab5 96px,#eac7ab 99px,#ecbfa4 102px,#edb49e 105px,#efa796 108px,#f09990 111px,#f18c8a 114px,#f18085 117px,#f17581 120px,#f06c7d 123px,#ef6379 126px,#ee5b74 129px,#ed546f 132px,#ec4d6a 135px,#eb4766 138px,#ea4261 141px,#e93e5d 144px,#e93b5a 147px,#e93956 150px,#e93652 153px,#e9344f 156px,#e9334b 159px,#e93148 162px,#e92f46 165px,#e92d44 168px,#e92c42 171px,#e92a41 174px,#e92940 177px,#e92840 180px,#e9273f 183px,#e9273f 184px)"></div><div class="row" style="top:84px;height:3px;left:8px;width:186px;background:linear-gradient(90deg,#56eac7 0px,#56eac7 3px,#57eac7 6px,#58eac6 9px,#59ebc6 12px,#5aecc5 15px,#5cecc4 18px,#5eedc3 21px,#5feec2 24px,#61efc1 27px,#63efbf 30px,#64f0bd 33px,#67f0bb 36px,#6af1b8 39px,#6ef1b6 42px,#74f2b5 45px,#7cf2b5 48px,#84f2b6 51px,#8ef2b7 54px,#98f2b9 57px,#a3f2bb 60px,#aef2bd 63px,#b9f1bf 66px,#c3efc1 69px,#cdecc3 72px,#d2ccd3 75px,#d2c6d5 78px,#d3c4d4 81px,#d6c6d0 84px,#dbc5cb 87px,#dfc4c6 90px,#e4c2bf 93px,#e8c0b7 96px,#ebbbb0 99px,#ecb1aa 102px,#eda5a4 105px,#ee979d 108px,#ef8997 111px,#ef7c92 114px,#ef718e 117px,#ef688b 120px,#ee6087 123px,#ee5982 126px,#ed527d 129px,#eb4c78 132px,#ea4673 135px,#ea416d 138px,#e93c68 141px,#e83964 144px,#e8365f 147px,#e8335b 150px,#e83157 153px,#e82e53 156px,#e82d4f 159px,#e82b4c 162px,#e82a49 165px,#e82946 168px,#e82845 171px,#e82743 174px,#e82642 177px,#e82541 180px,#e82441 183px,#e82340 186px)"></div><div class="row" style="top:86px;height:3px;left:9px;width:189px;background:linear-gradient(90deg,#56e9ca 0px,#56e9ca 3px,#57e9c9 6px,#58eac9 9px,#59eac8 12px,#5bebc8 15px,#5decc7 18px,#5fedc6 21px,#60eec5 24px,#62eec4 27px,#64efc2 30px,#66efc0 33px,#69f0be 36px,#6cf0bc 39px,#71f0ba 42px,#77f0b9 45px,#7ff1b9 48px,#87f1ba 51px,#90f1bb 54px,#9af1bd 57px,#a5f1bf 60px,#b0f0c1 63px,#bbefc3 66px,#c6ecc5 69px,#d1c5d4 72px,#d1c4d4 75px,#d2c1d3 78px,#d4bfd2 81px,#d8bece 84px,#ddbcca 87px,#e2b9c4 90px,#e6b6bf 93px,#eab3b8 96px,#ebabb3 99px,#ec9fae 102px,#ec92a9 105px,#ed84a4 108px,#ed779f 111px,#ee6d9b 114px,#ee6497 117px,#ee5d94 120px,#ed5690 123px,#ec508b 126px,#eb4a86 129px,#eb4580 132px,#ea407a 135px,#e93c74 138px,#e8386e 141px,#e83469 144px,#e73164 147px,#e72e5f 150px,#e72c5b 153px,#e72a56 156px,#e72852 159px,#e7274f 162px,#e7264c 165px,#e72549 168px,#e72447 171px,#e72445 174px,#e72343 177px,#e82342 180px,#e82241 183px,#e82141 186px,#e82140 189px)"></div><div class="row" style="top:88px;height:3px;left:9px;width:192px;background:linear-gradient(90deg,#56e8cb 0px,#57e9cb 3px,#57e9cb 6px,#58e9cb 9px,#59eaca 12px,#5beaca 15px,#5debc9 18px,#5fecc8 21px,#60edc7 24px,#62edc6 27px,#64eec5 30px,#66eec3 33px,#69eec1 36px,#6defc0 39px,#72efbe 42px,#78efbe 45px,#7fefbd 48px,#86f0be 51px,#8ff0bf 54px,#98f0c0 57px,#a2f0c2 60px,#adefc4 63px,#baecc6 66px,#cec2d2 69px,#d0c1d2 72px,#d1bfd2 75px,#d2bbd2 78px,#d4b8d0 81px,#d9b5cd 84px,#deb1c9 87px,#e3acc4 90px,#e7a8c0 93px,#eaa4bb 96px,#eb9bb7 99px,#ea8fb3 102px,#eb82af 105px,#eb75ab 108px,#eb6aa7 111px,#ec61a4 114px,#ec5aa0 117px,#ec549d 120px,#ec4f99 123px,#eb4a94 126px,#eb468f 129px,#ea4189 132px,#e93d83 135px,#e9397d 138px,#e83576 141px,#e73270 144px,#e72f6b 147px,#e72c65 150px,#e62960 153px,#e6275b 156px,#e62657 159px,#e62453 162px,#e7234f 165px,#e7234c 168px,#e72249 171px,#e72247 174px,#e72245 177px,#e72144 180px,#e82142 183px,#e82042 186px,#e81f41 189px,#e81f40 192px)"></div><div class="row" style="top:90px;height:3px;left:10px;width:195px;background:linear-gradient(90deg,#56e8cc 0px,#57e8cc 3px,#58e8cc 6px,#59e9cc 9px,#5ae9cb 12px,#5beacb 15px,#5debca 18px,#5febc9 21px,#61ecc9 24px,#63ecc8 27px,#65edc7 30px,#67edc5 33px,#6bedc4 36px,#6fedc3 39px,#74edc2 42px,#7aeec1 45px,#80eec1 48px,#87eec1 51px,#8fefc2 54px,#98efc3 57px,#a2eec5 60px,#bbd1c9 63px,#c9bdcd 66px,#ccbcce 69px,#cebacf 72px,#d0b6cf 75px,#d2b0ce 78px,#d6accc 81px,#dba8c9 84px,#e0a2c6 87px,#e49bc2 90px,#e796be 93px,#ea90bb 96px,#e984b9 99px,#e979b6 102px,#e96db3 105px,#e963b0 108px,#ea5bad 111px,#ea55aa 114px,#ea50a7 117px,#eb4ca3 120px,#ea489f 123px,#ea449b 126px,#ea4096 129px,#e93c90 132px,#e9398a 135px,#e83584 138px,#e7327d 141px,#e72f77 144px,#e72c70 147px,#e6296a 150px,#e62764 153px,#e6255f 156px,#e6235a 159px,#e62256 162px,#e62252 165px,#e6214e 168px,#e6214b 171px,#e72049 174px,#e72046 177px,#e72044 180px,#e71f43 183px,#e81f42 186px,#e81e41 189px,#e81d41 192px,#e91d41 195px)"></div><div class="row" style="top:92px;height:3px;left:11px;width:197px;background:linear-gradient(90deg,#57e8cd 0px,#58e8cc 3px,#58e8cc 6px,#59e8cc 9px,#5be9cc 12px,#5ce9cb 15px,#5eeacb 18px,#5febca 21px,#61ebca 24px,#63ebc9 27px,#65ecc8 30px,#68ecc7 33px,#6cecc6 36px,#70ecc5 39px,#75ecc4 42px,#7aecc4 45px,#80edc4 48px,#87edc4 51px,#8eedc5 54px,#97edc5 57px,#b9b1c0 60px,#c0b4c5 63px,#c5b4c8 66px,#c9b3ca 69px,#cdafcb 72px,#cfaacb 75px,#d2a3ca 78px,#d89ec8 81px,#dd97c6 84px,#e18fc3 87px,#e587c0 90px,#e781bd 93px,#e879bb 96px,#e76eba 99px,#e764b9 102px,#e75bb7 105px,#e754b5 108px,#e84fb2 111px,#e84baf 114px,#e948ac 117px,#e945a9 120px,#e942a5 123px,#e93ea1 126px,#e93b9d 129px,#e83897 132px,#e83592 135px,#e7328b 138px,#e72e85 141px,#e72c7e 144px,#e72977 147px,#e72770 150px,#e62569 153px,#e62364 156px,#e6225e 159px,#e62159 162px,#e62155 165px,#e62051 168px,#e6204d 171px,#e71f4a 174px,#e71f47 177px,#e71e45 180px,#e71e44 183px,#e81d42 186px,#e81d42 189px,#e81c41 192px,#e91c41 195px,#e91c41 197px)"></div><div class="row" style="top:94px;height:3px;left:12px;width:199px;background:linear-gradient(90deg,#58e8cd 0px,#58e8cd 3px,#59e8cd 6px,#5ae8cc 9px,#5be8cc 12px,#5ce9cc 15px,#5ee9cb 18px,#5feacb 21px,#61eaca 24px,#63eaca 27px,#66ebc9 30px,#69ebc8 33px,#6cebc8 36px,#71ebc7 39px,#75ebc6 42px,#7aebc6 45px,#80ecc6 48px,#85ecc6 51px,#8fddc0 54px,#a8a6b2 57px,#b2a9ba 60px,#baabbf 63px,#c1aac3 66px,#c6a7c5 69px,#cba2c6 72px,#cf9bc6 75px,#d394c6 78px,#d98cc4 81px,#de84c2 84px,#e17ac0 87px,#e472be 90px,#e56bbd 93px,#e563bc 96px,#e45abb 99px,#e453bb 102px,#e54dba 105px,#e549b8 108px,#e645b7 111px,#e743b4 114px,#e741b2 117px,#e83eaf 120px,#e83cac 123px,#e839a9 126px,#e736a5 129px,#e733a0 132px,#e7309b 135px,#e72e94 138px,#e72b8d 141px,#e72986 144px,#e7277e 147px,#e72577 150px,#e7236f 153px,#e72269 156px,#e72163 159px,#e7205d 162px,#e72058 165px,#e61f53 168px,#e61f4f 171px,#e71e4b 174px,#e71e48 177px,#e71d46 180px,#e81d44 183px,#e81d43 186px,#e81c42 189px,#e81c41 192px,#e91b41 195px,#e91b41 198px,#e91b42 199px)"></div><div class="row" style="top:96px;height:3px;left:12px;width:196px;background:linear-gradient(90deg,#58e7cd 0px,#59e7cd 3px,#59e7cd 6px,#5ae8cd 9px,#5be8cc 12px,#5ce8cc 15px,#5ee9cc 18px,#5fe9cc 21px,#61e9cb 24px,#63eacb 27px,#65eaca 30px,#68eaca 33px,#6beac9 36px,#6feac8 39px,#74eac8 42px,#78eac7 45px,#7debc7 48px,#84d7ba 51px,#949ea1 54px,#9f9fab 57px,#a9a0b2 60px,#b2a1b8 63px,#ba9fbc 66px,#c19bbf 69px,#c795c0 72px,#cc8dc1 75px,#d285c1 78px,#d87dc0 81px,#dd73bf 84px,#e069be 87px,#e260bd 90px,#e35abd 93px,#e253bd 96px,#e24dbd 99px,#e248bd 102px,#e344bc 105px,#e341bc 108px,#e43fbb 111px,#e53dba 114px,#e63bb8 117px,#e639b6 120px,#e636b4 123px,#e634b2 126px,#e631af 129px,#e62fab 132px,#e62da6 135px,#e62ba0 138px,#e62999 141px,#e62791 144px,#e72689 147px,#e72481 150px,#e72378 153px,#e72271 156px,#e7216a 159px,#e72064 162px,#e7205e 165px,#e71f58 168px,#e71e53 171px,#e71e4e 174px,#e71d4a 177px,#e71d47 180px,#e81c45 183px,#e81c43 186px,#e81c42 189px,#e81b42 192px,#e91b42 195px,#e91b42 196px)"></div><div class="row" style="top:98px;height:3px;left:13px;width:187px;background:linear-gradient(90deg,#59e7cd 0px,#59e7cd 3px,#5ae7cd 6px,#5be7cd 9px,#5be8cd 12px,#5de8cc 15px,#5ee8cc 18px,#5fe8cc 21px,#61e9cc 24px,#63e9cb 27px,#65e9cb 30px,#68e9ca 33px,#6ce9ca 36px,#6fe9c9 39px,#73e9c9 42px,#77eac8 45px,#80ad97 48px,#889b95 51px,#919a9f 54px,#9b99a7 57px,#a599ad 60px,#ae97b2 63px,#b793b6 66px,#bf8db9 69px,#c685ba 72px,#cb7dbb 75px,#d274bc 78px,#d86abd 81px,#dc5fbd 84px,#de56bc 87px,#e04fbd 90px,#e04abd 93px,#e045bd 96px,#e042be 99px,#e13fbe 102px,#e13cbf 105px,#e23abf 108px,#e338bf 111px,#e436bf 114px,#e434be 117px,#e532bd 120px,#e530bb 123px,#e52eb9 126px,#e52cb7 129px,#e52bb3 132px,#e529ae 135px,#e628a8 138px,#e627a1 141px,#e62599 144px,#e72490 147px,#e72388 150px,#e7227f 153px,#e72277 156px,#e7216f 159px,#e72068 162px,#e72061 165px,#e71f5b 168px,#e71e55 171px,#e71d50 174px,#e71d4b 177px,#e71c48 180px,#e81c45 183px,#e81c43 186px,#e81b43 187px)"></div><div class="row" style="top:100px;height:3px;left:14px;width:179px;background:linear-gradient(90deg,#59e7cd 0px,#5ae7cd 3px,#5ae7cd 6px,#5be7cd 9px,#5ce7cd 12px,#5de8cd 15px,#5ee8cc 18px,#5fe8cc 21px,#61e8cc 24px,#63e9cc 27px,#65e9cb 30px,#68e9cb 33px,#6be9ca 36px,#6fe9ca 39px,#73e9c9 42px,#7ba084 45px,#809c8c 48px,#879894 51px,#8f969d 54px,#9993a4 57px,#a390a9 60px,#ac8cad 63px,#b585b0 66px,#bd7eb2 69px,#c476b4 72px,#ca6db6 75px,#d264b8 78px,#d759ba 81px,#db4fbb 84px,#dd48bc 87px,#de43bd 90px,#de40bd 93px,#de3dbe 96px,#df3abf 99px,#df38c0 102px,#e037c1 105px,#e135c2 108px,#e233c3 111px,#e231c3 114px,#e32fc4 117px,#e32dc3 120px,#e42bc2 123px,#e42ac0 126px,#e429bd 129px,#e428b9 132px,#e527b4 135px,#e526ae 138px,#e625a7 141px,#e6249f 144px,#e72497 147px,#e7238e 150px,#e72285 153px,#e8227c 156px,#e82174 159px,#e8206d 162px,#e72065 165px,#e71f5e 168px,#e71e57 171px,#e71d51 174px,#e71d4c 177px,#e71c49 179px)"></div><div class="row" style="top:102px;height:3px;left:15px;width:170px;background:linear-gradient(90deg,#55ce7e 0px,#54cd7f 3px,#54cd80 6px,#53cc81 9px,#53cc82 12px,#53cb83 15px,#54ca84 18px,#56c884 21px,#59c786 24px,#5ec487 27px,#63c28a 30px,#68c08d 33px,#6dbd90 36px,#71bb93 39px,#77a17f 42px,#7b9d85 45px,#80988c 48px,#869493 51px,#8e909a 54px,#988ba0 57px,#a286a4 60px,#ac7ea8 63px,#b476aa 66px,#bc6eac 69px,#c267ae 72px,#c95fb1 75px,#d155b5 78px,#d64bb8 81px,#da43ba 84px,#dc3ebc 87px,#dd3bbd 90px,#dd39be 93px,#dd37bf 96px,#de36c0 99px,#df34c2 102px,#df32c4 105px,#e030c5 108px,#e12ec7 111px,#e22cc8 114px,#e22ac8 117px,#e329c7 120px,#e328c6 123px,#e327c4 126px,#e426c1 129px,#e426bd 132px,#e425b8 135px,#e524b2 138px,#e624ab 141px,#e624a4 144px,#e7239c 147px,#e72393 150px,#e8228a 153px,#e82281 156px,#e82179 159px,#e82071 162px,#e82069 165px,#e81f61 168px,#e71e5c 170px)"></div><div class="row" style="top:104px;height:3px;left:16px;width:162px;background:linear-gradient(90deg,#51c05b 0px,#50bf5d 3px,#4ebe60 6px,#4dbc62 9px,#4dba65 12px,#4db967 15px,#4eb768 18px,#50b469 21px,#55b16b 24px,#5aae6d 27px,#61ab70 30px,#67a873 33px,#6da577 36px,#72a17c 39px,#769d81 42px,#7b9886 45px,#80938c 48px,#868d91 51px,#8e8796 54px,#98809a 57px,#a2789d 60px,#ac6fa0 63px,#b466a2 66px,#bb5fa5 69px,#c059a7 72px,#c851ac 75px,#d049b2 78px,#d541b6 81px,#d93cba 84px,#db38bc 87px,#dc36bd 90px,#dc35bf 93px,#dd34c0 96px,#dd32c2 99px,#de30c4 102px,#df2ec6 105px,#e02cc8 108px,#e12aca 111px,#e129cb 114px,#e227cb 117px,#e226ca 120px,#e226c9 123px,#e325c6 126px,#e325c3 129px,#e424bf 132px,#e424ba 135px,#e524b5 138px,#e623ae 141px,#e623a7 144px,#e7239f 147px,#e72397 150px,#e8228e 153px,#e82286 156px,#e8217d 159px,#e82175 162px)"></div><div class="row" style="top:106px;height:3px;left:17px;width:153px;background:linear-gradient(90deg,#4fbe60 0px,#4ebc63 3px,#4cba67 6px,#4bb76b 9px,#4ab56e 12px,#4ab371 15px,#4cb073 18px,#4eae74 21px,#52ab74 24px,#58a876 27px,#5fa577 30px,#66a27a 33px,#6c9f7d 36px,#719b81 39px,#769684 42px,#7b9087 45px,#808a8a 48px,#87828d 51px,#8f798f 54px,#997091 57px,#a36693 60px,#ac5d96 63px,#b35699 66px,#b9519c 69px,#bf4ca1 72px,#c746a9 75px,#cf3fb0 78px,#d53ab6 81px,#d837ba 84px,#da35bc 87px,#db33be 90px,#dc32c0 93px,#dd31c2 96px,#dd2fc4 99px,#de2dc7 102px,#df2bc9 105px,#e029cb 108px,#e128cc 111px,#e126cd 114px,#e125cd 117px,#e225cc 120px,#e224ca 123px,#e324c8 126px,#e324c4 129px,#e424c0 132px,#e424bc 135px,#e523b6 138px,#e623b0 141px,#e623a9 144px,#e723a2 147px,#e7239a 150px,#e82292 153px)"></div><div class="row" style="top:108px;height:3px;left:18px;width:145px;background:linear-gradient(90deg,#4dba67 0px,#4bb76c 3px,#49b471 6px,#48b176 9px,#47ae7b 12px,#47ab7f 15px,#48a881 18px,#4ba582 21px,#4fa282 24px,#55a083 27px,#5b9d84 30px,#639a85 33px,#699686 36px,#6f9287 39px,#758c88 42px,#7b8588 45px,#817d87 48px,#887385 51px,#916985 54px,#9a5e85 57px,#a35588 60px,#ab4e8c 63px,#b14990 66px,#b74594 69px,#be419c 72px,#c73da6 75px,#ce39af 78px,#d436b5 81px,#d834ba 84px,#da33bd 87px,#db31bf 90px,#dc30c1 93px,#dd2ec4 96px,#de2cc7 99px,#df2ac9 102px,#e028cc 105px,#e027cd 108px,#e126ce 111px,#e125cf 114px,#e124ce 117px,#e224cd 120px,#e224cb 123px,#e224c8 126px,#e323c5 129px,#e423c1 132px,#e423bc 135px,#e523b7 138px,#e523b1 141px,#e623ab 144px,#e623a9 145px)"></div><div class="row" style="top:110px;height:3px;left:19px;width:137px;background:linear-gradient(90deg,#4ab570 0px,#47b177 3px,#46ad7e 6px,#44a985 9px,#43a58b 12px,#42a190 15px,#439e93 18px,#459b94 21px,#499795 24px,#4f9595 27px,#569294 30px,#5d8f93 33px,#658b92 36px,#6c868f 39px,#73808c 42px,#7a7887 45px,#826e82 48px,#89637d 51px,#92587a 54px,#9b4f7b 57px,#a3477e 60px,#aa4283 63px,#b03f88 66px,#b53c8e 69px,#be399a 72px,#c737a5 75px,#cf34af 78px,#d433b6 81px,#d832bb 84px,#da31bf 87px,#db2fc1 90px,#dc2ec4 93px,#dd2cc7 96px,#de2ac9 99px,#df28cc 102px,#e027cd 105px,#e025cf 108px,#e125cf 111px,#e124cf 114px,#e124cf 117px,#e224ce 120px,#e223cc 123px,#e223c9 126px,#e323c5 129px,#e423c1 132px,#e423bc 135px,#e523b9 137px)"></div><div class="row" style="top:112px;height:3px;left:20px;width:128px;background:linear-gradient(90deg,#46ae7d 0px,#43aa85 3px,#41a58e 6px,#3fa096 9px,#3e9b9d 12px,#3d96a3 15px,#3d92a7 18px,#3f8ea9 21px,#428baa 24px,#4787a9 27px,#4e85a6 30px,#5682a3 33px,#5f7e9d 36px,#687996 39px,#71738e 42px,#7a6a84 45px,#82607b 48px,#8b5574 51px,#934b71 54px,#9b4473 57px,#a33e77 60px,#a93b7d 63px,#af3884 66px,#b5368c 69px,#c0349b 72px,#c833a6 75px,#cf32b0 78px,#d531b7 81px,#d930bd 84px,#db2fc1 87px,#dc2dc3 90px,#dd2bc6 93px,#de29c9 96px,#df28cc 99px,#e026ce 102px,#e025cf 105px,#e125d0 108px,#e124d0 111px,#e124d0 114px,#e123cf 117px,#e223ce 120px,#e223cc 123px,#e223c9 126px,#e323c7 128px)"></div><div class="row" style="top:114px;height:3px;left:21px;width:120px;background:linear-gradient(90deg,#42a68c 0px,#3fa095 3px,#3c9a9f 6px,#3a94a8 9px,#388fb0 12px,#378ab6 15px,#3785ba 18px,#3981bc 21px,#3b7dbc 24px,#407aba 27px,#4678b6 30px,#4f75af 33px,#5872a6 36px,#636d9a 39px,#6e668d 42px,#795d7f 45px,#835374 48px,#8c496d 51px,#94426b 54px,#9b3c6e 57px,#a23873 60px,#a9367a 63px,#af3482 66px,#b8328f 69px,#c2319d 72px,#ca30a9 75px,#d130b2 78px,#d630b9 81px,#da2fc0 84px,#dc2dc3 87px,#dd2bc6 90px,#de29c9 93px,#df28cb 96px,#e026ce 99px,#e025cf 102px,#e024d0 105px,#e124d0 108px,#e124d1 111px,#e123d0 114px,#e123d0 117px,#e223ce 120px)"></div><div class="row" style="top:116px;height:3px;left:23px;width:110px;background:linear-gradient(90deg,#3b98a1 0px,#3891ab 3px,#368ab4 6px,#3484bc 9px,#337fc2 12px,#327bc6 15px,#3277c8 18px,#3473c8 21px,#3770c6 24px,#3c6ec1 27px,#436bba 30px,#4c68af 33px,#5764a2 36px,#635e92 39px,#705681 42px,#7c4d72 45px,#864569 48px,#8f3e65 51px,#963967 54px,#9e356c 57px,#a53374 60px,#ab317c 63px,#b23086 66px,#be2f96 69px,#c72fa3 72px,#ce2fae 75px,#d42fb7 78px,#d92ebe 81px,#dc2cc4 84px,#dd2ac7 87px,#de29ca 90px,#df27cc 93px,#e026ce 96px,#e025cf 99px,#e024d0 102px,#e124d1 105px,#e123d1 108px,#e123d1 110px)"></div><div class="row" style="top:118px;height:3px;left:24px;width:102px;background:linear-gradient(90deg,#3587b4 0px,#3280bc 3px,#307ac3 6px,#2f75c8 9px,#2e71cb 12px,#2e6dcc 15px,#2e6acc 18px,#3068ca 21px,#3365c6 24px,#3862bf 27px,#3f5fb5 30px,#485ba8 33px,#535697 36px,#605085 39px,#6e4874 42px,#7a4167 45px,#853b60 48px,#8d365f 51px,#953363 54px,#9d306a 57px,#a42f73 60px,#ab2e7c 63px,#b52d89 66px,#c02e98 69px,#c82ea5 72px,#d02eb0 75px,#d62dba 78px,#db2cc2 81px,#dd2ac6 84px,#de29c9 87px,#df27cc 90px,#e026ce 93px,#e025cf 96px,#e024d0 99px,#e124d1 102px)"></div><div class="row" style="top:120px;height:3px;left:25px;width:94px;background:linear-gradient(90deg,#2f73c3 0px,#2d6ec7 3px,#2c6aca 6px,#2b67cb 9px,#2b64cb 12px,#2b62ca 15px,#2c5fc8 18px,#2e5dc3 21px,#325abd 24px,#3757b3 27px,#3e53a6 30px,#474e95 33px,#524883 36px,#5f4171 39px,#6c3b63 42px,#78365a 45px,#823257 48px,#8b2f59 51px,#932e5f 54px,#9c2d67 57px,#a42c71 60px,#ab2b7a 63px,#b72c8a 66px,#c12c9a 69px,#ca2da7 72px,#d12db3 75px,#d82cbe 78px,#dc2bc6 81px,#de29c9 84px,#df27cc 87px,#df26ce 90px,#e025cf 93px,#e025d0 94px)"></div><div class="row" style="top:122px;height:3px;left:27px;width:84px;background:linear-gradient(90deg,#2a62c9 0px,#2a60c9 3px,#2a5ec8 6px,#295cc6 9px,#2a5ac4 12px,#2b57c0 15px,#2c55bb 18px,#2f52b4 21px,#344fa9 24px,#3a4a9b 27px,#42458a 30px,#4c3f78 33px,#573968 36px,#63345b 39px,#6f3053 42px,#7a2d50 45px,#832c52 48px,#8b2b57 51px,#942a5f 54px,#9d2a69 57px,#a52a72 60px,#af2a80 63px,#bb2b91 66px,#c52ca0 69px,#ce2cae 72px,#d62bbb 75px,#dc2ac5 78px,#de28ca 81px,#df27cc 84px)"></div><div class="row" style="top:124px;height:3px;left:28px;width:76px;background:linear-gradient(90deg,#2959c5 0px,#2958c3 3px,#2856c0 6px,#2954bd 9px,#2952b9 12px,#2a50b4 15px,#2c4dad 18px,#304aa3 21px,#354597 24px,#3c4087 27px,#443b75 30px,#4e3565 33px,#583057 36px,#632d4e 39px,#6e2b4b 42px,#78294b 45px,#80294e 48px,#892855 51px,#92285e 54px,#9b2868 57px,#a42871 60px,#b12a82 63px,#bc2b93 66px,#c72ba2 69px,#d02bb1 72px,#d82abf 75px,#da29c3 76px)"></div><div class="row" style="top:126px;height:3px;left:30px;width:66px;background:linear-gradient(90deg,#2853bd 0px,#2851b9 3px,#284fb4 6px,#284daf 9px,#294baa 12px,#2b48a3 15px,#2e459a 18px,#32418e 21px,#393c7f 24px,#40376f 27px,#49325f 30px,#522d52 33px,#5c2a4a 36px,#662846 39px,#702746 42px,#782749 45px,#81274f 48px,#8a2757 51px,#942760 54px,#9d286a 57px,#a92979 60px,#b62a8b 63px,#c12a9b 66px)"></div><div class="row" style="top:128px;height:3px;left:31px;width:58px;background:linear-gradient(90deg,#274db0 0px,#274bab 3px,#2749a6 6px,#2847a0 9px,#29449a 12px,#2b4192 15px,#2e3e89 18px,#333a7c 21px,#39356e 24px,#41305f 27px,#492c52 30px,#522949 33px,#5b2744 36px,#652643 39px,#6e2644 42px,#762648 45px,#7f264e 48px,#882656 51px,#922760 54px,#9c2769 57px,#a0286e 58px)"></div><div class="row" style="top:130px;height:3px;left:33px;width:49px;background:linear-gradient(90deg,#26469e 0px,#264397 3px,#274192 6px,#273f8b 9px,#293c85 12px,#2b397c 15px,#2f3672 18px,#353266 21px,#3c2d59 24px,#432a4e 27px,#4b2746 30px,#542541 33px,#5d2540 36px,#662441 39px,#6f2544 42px,#772549 45px,#802550 48px,#842653 49px)"></div><div class="row" style="top:132px;height:3px;left:36px;width:38px;background:linear-gradient(90deg,#253c84 0px,#253a7e 3px,#263878 6px,#273572 9px,#2a336b 12px,#2e3062 15px,#332d59 18px,#39294f 21px,#402646 24px,#482440 27px,#50233e 30px,#59233e 33px,#632340 36px,#692442 38px)"></div><div class="row" style="top:134px;height:3px;left:39px;width:28px;background:linear-gradient(90deg,#24336b 0px,#243166 3px,#262f60 6px,#282d5b 9px,#2c2b54 12px,#31284d 15px,#372646 18px,#3e2440 21px,#45223c 24px,#4d223b 27px,#50223b 28px)"></div><div class="row" style="top:136px;height:3px;left:43px;width:16px;background:linear-gradient(90deg,#232a54 0px,#252950 3px,#27274c 6px,#2b2647 9px,#312442 12px,#37233e 15px,#39223c 16px)"></div></div><div class="abs" style="left:296px;top:414px;width:210px;height:140px;clip-path:polygon(49.4px 138.6px,49.4px 138.6px,49.4px 138.6px,49.4px 138.6px,49.4px 138.6px,49.3px 138.6px,49.3px 138.6px,49.3px 138.6px,49.2px 138.6px,49.2px 138.6px,49.1px 138.6px,49.1px 138.6px,49px 138.6px,48.9px 138.6px,48.9px 138.6px,48.8px 138.6px,48.7px 138.6px,48.6px 138.5px,48.5px 138.5px,48.4px 138.5px,48.4px 138.4px,48.3px 138.4px,48.2px 138.4px,48.1px 138.3px,48px 138.3px,47.8px 138.2px,47.7px 138.1px,47.6px 138.1px,47.4px 138px,47.2px 137.9px,47.1px 137.8px,46.9px 137.7px,46.7px 137.6px,46.5px 137.5px,46.3px 137.4px,46px 137.3px,45.8px 137.1px,45.5px 137px,45.2px 136.8px,44.8px 136.7px,44.5px 136.5px,44.1px 136.3px,43.7px 136.1px,43.3px 135.9px,42.9px 135.7px,42.4px 135.4px,41.9px 135.1px,41.4px 134.8px,40.9px 134.5px,40.3px 134.1px,39.8px 133.8px,39.2px 133.3px,38.5px 132.8px,37.8px 132.2px,37px 131.5px,36.1px 130.8px,35.2px 129.9px,34.3px 128.9px,33.3px 127.8px,32.3px 126.5px,31.1px 125.1px,29.9px 123.5px,28.7px 121.7px,27.3px 119.7px,25.9px 117.5px,24.4px 115.1px,22.8px 112.4px,21.2px 109.5px,19.5px 106.3px,17.9px 102.8px,16.2px 99px,14.5px 95px,12.9px 90.7px,11.3px 86.2px,9.6px 81.3px,8.1px 76.3px,6.7px 71.3px,5.4px 66.2px,4.2px 60.9px,3.2px 55.7px,2.3px 50.6px,1.7px 45.6px,1.3px 40.6px,1.1px 35.9px,1.1px 31.4px,1.4px 27px,2px 22.9px,2.8px 19.1px,3.9px 15.6px,5.4px 12.5px,7px 9.8px,9px 7.4px,11px 5.4px,13.3px 3.9px,15.8px 2.9px,18.4px 2.2px,21.1px 1.8px,23.8px 1.7px,26.7px 2px,29.6px 2.5px,32.4px 3.1px,35.3px 3.8px,38.2px 4.6px,41.1px 5.5px,43.9px 6.4px,46.7px 7.4px,49.4px 8.4px,52.1px 9.4px,54.8px 10.4px,57.4px 11.5px,60px 12.6px,62.6px 13.8px,65.2px 14.9px,67.8px 16.1px,70.4px 17.4px,72.9px 18.6px,75.5px 19.9px,78px 21.2px,80.6px 22.5px,83.1px 23.8px,85.7px 25.2px,88.2px 26.5px,90.7px 27.9px,93.3px 29.3px,95.8px 30.7px,98.3px 32.1px,100.9px 33.5px,103.4px 34.9px,106px 36.4px,108.5px 37.8px,111px 39.2px,113.5px 40.7px,116.1px 42.1px,118.6px 43.6px,121.1px 45px,123.6px 46.4px,126.1px 47.9px,128.6px 49.3px,131.1px 50.7px,133.5px 52.2px,136px 53.6px,138.4px 55px,140.8px 56.4px,143.2px 57.7px,145.5px 59.1px,147.9px 60.5px,150.2px 61.8px,152.5px 63.1px,154.7px 64.4px,156.9px 65.7px,159.1px 67px,161.3px 68.2px,163.4px 69.4px,165.4px 70.6px,167.4px 71.8px,169.3px 72.9px,171.2px 74px,173px 75px,174.8px 76px,176.4px 77px,178.1px 77.9px,179.7px 78.9px,181.2px 79.7px,182.7px 80.6px,184.1px 81.4px,185.4px 82.2px,186.7px 82.9px,187.9px 83.6px,189.1px 84.3px,190.2px 84.9px,191.2px 85.5px,192.2px 86.1px,193.1px 86.6px,194px 87.2px,194.9px 87.6px,195.6px 88.1px,196.4px 88.5px,197.1px 88.9px,197.8px 89.3px,198.4px 89.7px,199px 90px,199.5px 90.3px,200px 90.6px,200.5px 90.9px,201px 91.2px,201.8px 91.7px,202.6px 92.1px,203.5px 92.6px,204.2px 93.1px,204.8px 93.4px,205.3px 93.7px,205.8px 94px,206.2px 94.2px,206.5px 94.4px,206.8px 94.6px,207.1px 94.7px,207.3px 94.8px,207.6px 95px,207.9px 95.2px,208.1px 95.3px,208.3px 95.4px,208.4px 95.5px,208.5px 95.6px,208.6px 95.6px,208.7px 95.6px)"><div class="row" style="top:2px;height:3px;left:12px;width:24px;background:linear-gradient(90deg,#5cfc00 0px,#5cfc00 3px,#5cfc00 6px,#5cfc00 9px,#5cfc00 12px,#5dfc00 15px,#5dfc00 18px,#5dfc00 21px,#5efc00 24px)"></div><div class="row" style="top:4px;height:3px;left:8px;width:35px;background:linear-gradient(90deg,#5cfc01 0px,#5cfc00 3px,#5cfc00 6px,#5cfc00 9px,#5cfc00 12px,#5cfc00 15px,#5dfc00 18px,#5dfc00 21px,#5dfc00 24px,#5efc00 27px,#5efc00 30px,#5ffc00 33px,#5ffc00 35px)"></div><div class="row" style="top:6px;height:3px;left:6px;width:43px;background:linear-gradient(90deg,#5cfc02 0px,#5cfc01 3px,#5cfc01 6px,#5cfc01 9px,#5cfc01 12px,#5cfc01 15px,#5cfc01 18px,#5dfc01 21px,#5dfc00 24px,#5efc00 27px,#5efc00 30px,#5efc00 33px,#5ffc00 36px,#5ffc00 39px,#60fc00 42px,#60fc00 43px)"></div><div class="row" style="top:8px;height:3px;left:4px;width:51px;background:linear-gradient(90deg,#5bfc04 0px,#5bfc03 3px,#5cfc03 6px,#5cfc02 9px,#5cfc02 12px,#5cfc02 15px,#5cfc01 18px,#5dfc01 21px,#5dfc01 24px,#5dfc01 27px,#5efc01 30px,#5efc01 33px,#5ffc00 36px,#5ffc00 39px,#60fc00 42px,#60fc00 45px,#61fc00 48px,#63fb00 51px)"></div><div class="row" style="top:10px;height:3px;left:3px;width:57px;background:linear-gradient(90deg,#5afb08 0px,#5bfb07 3px,#5bfb06 6px,#5bfc05 9px,#5bfc04 12px,#5cfc04 15px,#5cfc03 18px,#5cfc03 21px,#5dfc02 24px,#5dfc02 27px,#5efc01 30px,#5efc01 33px,#5ffc01 36px,#5ffc01 39px,#60fc00 42px,#61fc00 45px,#62fb00 48px,#63fb00 51px,#64fb00 54px,#65fb00 57px)"></div><div class="row" style="top:12px;height:3px;left:2px;width:62px;background:linear-gradient(90deg,#59fb0d 0px,#5afb0c 3px,#5afb0a 6px,#5afb09 9px,#5bfb08 12px,#5bfc07 15px,#5bfc06 18px,#5cfc05 21px,#5cfc04 24px,#5dfc03 27px,#5dfc03 30px,#5efc02 33px,#5efc02 36px,#5ffc01 39px,#60fc01 42px,#61fc01 45px,#62fb00 48px,#63fb00 51px,#64fb00 54px,#66fb00 57px,#67fa00 60px,#67fa00 62px)"></div><div class="row" style="top:14px;height:3px;left:1px;width:68px;background:linear-gradient(90deg,#59fa10 0px,#59fb0f 3px,#59fb0e 6px,#59fb0d 9px,#5afb0c 12px,#5afb0a 15px,#5bfb09 18px,#5bfc08 21px,#5bfc07 24px,#5cfc06 27px,#5dfc05 30px,#5dfc04 33px,#5efc03 36px,#5ffc02 39px,#5ffc02 42px,#60fc01 45px,#62fb01 48px,#63fb01 51px,#65fb01 54px,#66fb00 57px,#67fa00 60px,#68fa00 63px,#68fa00 66px,#69fa00 68px)"></div><div class="row" style="top:16px;height:3px;left:0px;width:73px;background:linear-gradient(90deg,#58fa12 0px,#59fa12 3px,#59fa11 6px,#59fb10 9px,#59fb0f 12px,#59fb0d 15px,#5afb0c 18px,#5afb0b 21px,#5bfc09 24px,#5bfc08 27px,#5cfc07 30px,#5cfc06 33px,#5dfc05 36px,#5efc04 39px,#5ffc03 42px,#60fc02 45px,#62fb02 48px,#63fb01 51px,#65fb01 54px,#66fb01 57px,#67fa01 60px,#68fa01 63px,#69fa01 66px,#69fa01 69px,#6afa01 72px,#6afa01 73px)"></div><div class="row" style="top:18px;height:3px;left:0px;width:77px;background:linear-gradient(90deg,#58fa13 0px,#58fa13 3px,#58fa12 6px,#59fa11 9px,#59fb10 12px,#59fb0f 15px,#59fb0e 18px,#5afb0c 21px,#5afb0b 24px,#5bfc0a 27px,#5bfc09 30px,#5cfc07 33px,#5cfc06 36px,#5dfc05 39px,#5ffc04 42px,#60fb04 45px,#62fb03 48px,#63fb02 51px,#65fb02 54px,#66fa02 57px,#67fa01 60px,#68fa01 63px,#69fa01 66px,#6afa01 69px,#6bfa01 72px,#6df901 75px,#6ef901 77px)"></div><div class="row" style="top:20px;height:3px;left:0px;width:81px;background:linear-gradient(90deg,#58fa14 0px,#58fa13 3px,#58fa13 6px,#59fa12 9px,#59fb11 12px,#59fb10 15px,#59fb0f 18px,#5afb0d 21px,#5afb0c 24px,#5afc0b 27px,#5bfc0a 30px,#5bfc09 33px,#5cfc08 36px,#5dfc07 39px,#5efc06 42px,#60fb05 45px,#62fb04 48px,#64fb04 51px,#65fa03 54px,#66fa03 57px,#68fa02 60px,#69fa02 63px,#6afa02 66px,#6bfa02 69px,#6df902 72px,#6ff902 75px,#73f902 78px,#76f802 81px)"></div><div class="row" style="top:22px;height:3px;left:0px;width:85px;background:linear-gradient(90deg,#58fa15 0px,#58fa14 3px,#58fa14 6px,#59fa13 9px,#59fa12 12px,#59fb11 15px,#59fb10 18px,#59fb0e 21px,#5afb0d 24px,#5afc0c 27px,#5afc0b 30px,#5bfc0a 33px,#5cfc09 36px,#5dfc08 39px,#5efb08 42px,#60fb07 45px,#62fb06 48px,#64fb05 51px,#65fa05 54px,#66fa04 57px,#68fa04 60px,#69fa03 63px,#6afa03 66px,#6df903 69px,#6ff903 72px,#73f803 75px,#77f803 78px,#7cf703 81px,#80f704 84px,#82f604 85px)"></div><div class="row" style="top:24px;height:3px;left:0px;width:89px;background:linear-gradient(90deg,#58fa16 0px,#58fa16 3px,#58fa15 6px,#59fa14 9px,#59fa13 12px,#59fa12 15px,#59fb11 18px,#59fb0f 21px,#5afb0e 24px,#5afb0d 27px,#5afc0c 30px,#5bfc0b 33px,#5cfc0a 36px,#5dfb0a 39px,#5efb09 42px,#60fb08 45px,#62fb08 48px,#64fa07 51px,#65fa06 54px,#66fa06 57px,#68fa05 60px,#69fa05 63px,#6bf905 66px,#6ef904 69px,#72f804 72px,#77f804 75px,#7cf704 78px,#81f704 81px,#85f605 84px,#88f605 87px,#8af505 89px)"></div><div class="row" style="top:26px;height:3px;left:0px;width:93px;background:linear-gradient(90deg,#59f919 0px,#59f918 3px,#59f918 6px,#59fa17 9px,#59fa15 12px,#59fa14 15px,#59fa12 18px,#5afb11 21px,#5afb0f 24px,#5afb0e 27px,#5bfb0d 30px,#5bfb0d 33px,#5cfb0c 36px,#5dfb0b 39px,#5ffb0a 42px,#61fb0a 45px,#62fa09 48px,#64fa09 51px,#65fa08 54px,#66fa08 57px,#67fa07 60px,#69fa07 63px,#6cf906 66px,#70f906 69px,#75f805 72px,#7bf705 75px,#80f705 78px,#84f605 81px,#88f605 84px,#8bf505 87px,#8ef506 90px,#90f506 93px)"></div><div class="row" style="top:28px;height:3px;left:0px;width:96px;background:linear-gradient(90deg,#59f81e 0px,#59f81d 3px,#59f81c 6px,#59f91b 9px,#59f919 12px,#5af918 15px,#5afa16 18px,#5afa14 21px,#5afa13 24px,#5bfb11 27px,#5bfb10 30px,#5cfb0f 33px,#5dfb0e 36px,#5efb0d 39px,#60fb0c 42px,#61fa0b 45px,#63fa0b 48px,#64fa0a 51px,#65fa0a 54px,#66fa09 57px,#67fa09 60px,#6af908 63px,#6df908 66px,#72f807 69px,#78f807 72px,#7df706 75px,#83f606 78px,#87f606 81px,#8af506 84px,#8df506 87px,#90f506 90px,#93f406 93px,#97f407 96px)"></div><div class="row" style="top:30px;height:3px;left:0px;width:100px;background:linear-gradient(90deg,#5af725 0px,#5af724 3px,#5af722 6px,#5af721 9px,#5af820 12px,#5af81e 15px,#5af91c 18px,#5bf91a 21px,#5bf918 24px,#5bfa17 27px,#5cfa16 30px,#5dfa14 33px,#5efa13 36px,#5ffa11 39px,#60fa10 42px,#62fa0e 45px,#63fa0d 48px,#64fa0c 51px,#65fa0b 54px,#66fa0b 57px,#67fa0a 60px,#6af90a 63px,#6ef909 66px,#73f809 69px,#79f708 72px,#7ff707 75px,#85f607 78px,#89f507 81px,#8cf507 84px,#90f507 87px,#93f407 90px,#97f407 93px,#9bf408 96px,#a0f308 99px,#a2f309 100px)"></div><div class="row" style="top:32px;height:3px;left:0px;width:103px;background:linear-gradient(90deg,#5bf52c 0px,#5bf52b 3px,#5bf62a 6px,#5bf629 9px,#5bf628 12px,#5bf726 15px,#5bf724 18px,#5cf823 21px,#5cf821 24px,#5df820 27px,#5df81e 30px,#5ef91c 33px,#5ff91a 36px,#60f917 39px,#61f914 42px,#62f912 45px,#63fa10 48px,#64fa0f 51px,#65fa0e 54px,#66fa0d 57px,#67f90d 60px,#6af90c 63px,#6ef90b 66px,#74f80a 69px,#7af70a 72px,#81f609 75px,#87f608 78px,#8bf508 81px,#8ff508 84px,#92f508 87px,#96f408 90px,#9af409 93px,#a0f309 96px,#a5f30a 99px,#abf20a 102px,#adf20a 103px)"></div><div class="row" style="top:34px;height:3px;left:0px;width:107px;background:linear-gradient(90deg,#5bf433 0px,#5bf432 3px,#5bf432 6px,#5cf431 9px,#5cf530 12px,#5cf52e 15px,#5df62d 18px,#5df62c 21px,#5ef62b 24px,#5ef72a 27px,#5ff728 30px,#5ff726 33px,#60f724 36px,#61f820 39px,#62f81c 42px,#63f918 45px,#64f915 48px,#64f913 51px,#65f912 54px,#66f911 57px,#68f911 60px,#6af910 63px,#6ff80f 66px,#75f80e 69px,#7cf70d 72px,#83f60c 75px,#88f60b 78px,#8df50b 81px,#91f50a 84px,#95f40b 87px,#9af40b 90px,#9ff30b 93px,#a4f30c 96px,#aaf20c 99px,#aff20c 102px,#b3f10c 105px,#b6f10c 107px)"></div><div class="row" style="top:36px;height:3px;left:0px;width:111px;background:linear-gradient(90deg,#5cf338 0px,#5cf337 3px,#5cf337 6px,#5cf336 9px,#5df436 12px,#5df435 15px,#5ef434 18px,#5ef534 21px,#5ff533 24px,#60f532 27px,#60f631 30px,#61f62f 33px,#61f62d 36px,#62f729 39px,#63f724 42px,#63f820 45px,#64f81d 48px,#65f81a 51px,#65f919 54px,#66f918 57px,#68f917 60px,#6bf816 63px,#6ff815 66px,#76f714 69px,#7df712 72px,#84f610 75px,#8bf50f 78px,#90f50f 81px,#94f50e 84px,#99f40e 87px,#9ef40e 90px,#a3f30e 93px,#a8f30e 96px,#adf20e 99px,#b2f10e 102px,#b6f10e 105px,#baf00e 108px,#bdef0e 111px)"></div><div class="row" style="top:38px;height:3px;left:0px;width:114px;background:linear-gradient(90deg,#5cf33b 0px,#5cf33b 3px,#5cf33a 6px,#5df33a 9px,#5df33a 12px,#5ef339 15px,#5ef439 18px,#5ff438 21px,#60f438 24px,#60f438 27px,#61f537 30px,#61f536 33px,#62f534 36px,#62f631 39px,#63f62d 42px,#64f72a 45px,#65f727 48px,#65f825 51px,#66f823 54px,#67f822 57px,#69f821 60px,#6cf820 63px,#70f71f 66px,#77f71c 69px,#7ff61a 72px,#86f618 75px,#8df516 78px,#93f515 81px,#97f414 84px,#9cf413 87px,#a1f413 90px,#a6f313 93px,#abf312 96px,#b0f211 99px,#b4f111 102px,#b8f110 105px,#bbf010 108px,#bfef10 111px,#c2ee10 114px)"></div><div class="row" style="top:40px;height:3px;left:0px;width:118px;background:linear-gradient(90deg,#5cf23e 0px,#5cf23e 3px,#5cf23d 6px,#5df33d 9px,#5df33d 12px,#5ef33c 15px,#5ff33c 18px,#60f43b 21px,#60f43b 24px,#61f43b 27px,#61f43a 30px,#62f43a 33px,#62f539 36px,#63f537 39px,#63f635 42px,#64f633 45px,#65f631 48px,#66f730 51px,#66f72f 54px,#68f72e 57px,#69f72d 60px,#6cf72c 63px,#71f62a 66px,#78f627 69px,#80f624 72px,#88f521 75px,#8ff51e 78px,#95f51c 81px,#9af41a 84px,#9ff419 87px,#a3f418 90px,#a8f317 93px,#adf316 96px,#b1f215 99px,#b5f114 102px,#b9f013 105px,#bdef13 108px,#c1ee12 111px,#c5ed12 114px,#c9eb12 117px,#cbea12 118px)"></div><div class="row" style="top:42px;height:3px;left:0px;width:121px;background:linear-gradient(90deg,#5cf242 0px,#5cf242 3px,#5cf241 6px,#5df240 9px,#5df340 12px,#5ef33f 15px,#5ff33e 18px,#60f33e 21px,#60f43e 24px,#61f43d 27px,#62f43d 30px,#62f43d 33px,#62f43d 36px,#63f53c 39px,#64f53c 42px,#65f53b 45px,#65f63b 48px,#66f63a 51px,#67f63a 54px,#68f639 57px,#6af638 60px,#6df637 63px,#72f634 66px,#79f631 69px,#81f52d 72px,#89f529 75px,#90f525 78px,#96f523 81px,#9bf421 84px,#a0f41f 87px,#a4f41d 90px,#a9f31c 93px,#adf31a 96px,#b1f219 99px,#b5f118 102px,#baf017 105px,#beef16 108px,#c2ed15 111px,#c7eb15 114px,#cde915 117px,#d2e615 120px,#d4e515 121px)"></div><div class="row" style="top:44px;height:3px;left:0px;width:125px;background:linear-gradient(90deg,#5bf248 0px,#5cf247 3px,#5cf246 6px,#5df245 9px,#5df244 12px,#5ef343 15px,#5ff342 18px,#60f341 21px,#61f441 24px,#61f440 27px,#62f440 30px,#62f440 33px,#63f441 36px,#63f541 39px,#64f541 42px,#65f542 45px,#66f542 48px,#66f542 51px,#67f542 54px,#69f641 57px,#6bf640 60px,#6ef53e 63px,#73f53c 66px,#7af538 69px,#81f534 72px,#89f52f 75px,#90f52b 78px,#96f528 81px,#9bf526 84px,#a0f424 87px,#a4f422 90px,#a8f420 93px,#adf31e 96px,#b1f21d 99px,#b5f11c 102px,#baf01a 105px,#bfee19 108px,#c4ec18 111px,#caea18 114px,#d0e717 117px,#d6e417 120px,#dbe018 123px,#dede18 125px)"></div><div class="row" style="top:46px;height:3px;left:0px;width:128px;background:linear-gradient(90deg,#5bf151 0px,#5bf250 3px,#5cf24f 6px,#5cf24d 9px,#5df24b 12px,#5ef349 15px,#5ff348 18px,#60f346 21px,#60f345 24px,#61f445 27px,#61f445 30px,#62f445 33px,#63f445 36px,#63f446 39px,#64f546 42px,#65f547 45px,#66f547 48px,#66f547 51px,#67f547 54px,#69f546 57px,#6bf545 60px,#6ef543 63px,#73f541 66px,#7af53d 69px,#81f539 72px,#89f534 75px,#8ff530 78px,#95f52d 81px,#9af52a 84px,#9ff428 87px,#a3f426 90px,#a8f424 93px,#acf323 96px,#b1f221 99px,#b5f120 102px,#bbef1f 105px,#c0ed1d 108px,#c6eb1c 111px,#cde81b 114px,#d3e41b 117px,#d9e11a 120px,#dedd1a 123px,#e3d91b 126px,#e5d71b 128px)"></div><div class="row" style="top:48px;height:3px;left:0px;width:132px;background:linear-gradient(90deg,#5af15d 0px,#5af15b 3px,#5bf159 6px,#5cf257 9px,#5cf255 12px,#5df252 15px,#5ef350 18px,#5ff34e 21px,#60f34d 24px,#61f44c 27px,#61f44c 30px,#62f44b 33px,#62f44b 36px,#63f44b 39px,#64f54b 42px,#65f54b 45px,#66f54b 48px,#67f54b 51px,#68f54b 54px,#69f54a 57px,#6bf549 60px,#6ff547 63px,#73f544 66px,#7af541 69px,#81f53c 72px,#88f538 75px,#8ef534 78px,#94f531 81px,#9af52e 84px,#9ef52c 87px,#a3f42a 90px,#a8f429 93px,#acf327 96px,#b1f226 99px,#b6f125 102px,#bbef23 105px,#c1ed22 108px,#c8e920 111px,#cfe61f 114px,#d6e21e 117px,#dcde1d 120px,#e1d91d 123px,#e5d51d 126px,#e8d11e 129px,#ebcd1f 132px)"></div><div class="row" style="top:50px;height:3px;left:0px;width:135px;background:linear-gradient(90deg,#59f167 0px,#5af166 3px,#5af164 6px,#5bf162 9px,#5cf260 12px,#5df25d 15px,#5ef25b 18px,#5ff359 21px,#60f357 24px,#60f356 27px,#61f455 30px,#61f454 33px,#62f453 36px,#63f452 39px,#64f451 42px,#65f550 45px,#66f54f 48px,#67f54e 51px,#68f54d 54px,#69f54d 57px,#6cf54b 60px,#6ff549 63px,#74f547 66px,#7af544 69px,#80f540 72px,#87f53c 75px,#8df538 78px,#93f535 81px,#99f532 84px,#9ef530 87px,#a3f42f 90px,#a8f42d 93px,#adf32c 96px,#b2f22b 99px,#b7f12a 102px,#bdee29 105px,#c3ec27 108px,#cae825 111px,#d1e423 114px,#d8df22 117px,#deda21 120px,#e3d620 123px,#e7d120 126px,#eacc20 129px,#edc821 132px,#efc321 135px)"></div><div class="row" style="top:52px;height:3px;left:0px;width:138px;background:linear-gradient(90deg,#59f06f 0px,#59f16e 3px,#5af16d 6px,#5af16b 9px,#5bf16a 12px,#5cf268 15px,#5df265 18px,#5ef364 21px,#5ff362 24px,#60f361 27px,#60f35f 30px,#61f45e 33px,#62f45c 36px,#63f459 39px,#64f457 42px,#65f554 45px,#65f552 48px,#66f551 51px,#68f550 54px,#69f54f 57px,#6cf54d 60px,#6ff54c 63px,#74f549 66px,#7af546 69px,#80f543 72px,#87f540 75px,#8df53c 78px,#93f539 81px,#99f537 84px,#9ff535 87px,#a4f434 90px,#aaf433 93px,#aff332 96px,#b4f231 99px,#b9f030 102px,#bfee2e 105px,#c5ea2c 108px,#cce62a 111px,#d3e228 114px,#dadc26 117px,#e0d724 120px,#e5d223 123px,#e9cd23 126px,#ecc822 129px,#eec323 132px,#f0be23 135px,#f2b923 138px)"></div><div class="row" style="top:54px;height:3px;left:0px;width:142px;background:linear-gradient(90deg,#59f074 0px,#59f074 3px,#59f073 6px,#5af172 9px,#5bf171 12px,#5cf170 15px,#5df26e 18px,#5ef26d 21px,#5ef36c 24px,#5ff36b 27px,#60f369 30px,#60f367 33px,#61f464 36px,#62f460 39px,#63f45c 42px,#64f558 45px,#65f556 48px,#66f554 51px,#68f552 54px,#6af551 57px,#6cf550 60px,#70f54e 63px,#75f54c 66px,#7bf549 69px,#81f547 72px,#87f544 75px,#8df541 78px,#93f53f 81px,#9af53d 84px,#a1f53b 87px,#a7f43a 90px,#adf439 93px,#b2f338 96px,#b8f237 99px,#bdf036 102px,#c2ed34 105px,#c8e932 108px,#cfe530 111px,#d5df2d 114px,#dcda2b 117px,#e2d428 120px,#e7ce27 123px,#ebc825 126px,#eec325 129px,#f0be24 132px,#f2b924 135px,#f3b425 138px,#f4b025 141px,#f5ae25 142px)"></div><div class="row" style="top:56px;height:3px;left:0px;width:145px;background:linear-gradient(90deg,#58f078 0px,#59f078 3px,#59f078 6px,#5af177 9px,#5af177 12px,#5bf176 15px,#5cf275 18px,#5df274 21px,#5ef373 24px,#5ff372 27px,#5ff371 30px,#60f36e 33px,#61f36b 36px,#62f466 39px,#63f461 42px,#64f45d 45px,#65f559 48px,#66f556 51px,#68f555 54px,#6af553 57px,#6df552 60px,#71f550 63px,#76f54f 66px,#7cf54d 69px,#82f54b 72px,#88f549 75px,#8ef547 78px,#95f545 81px,#9cf543 84px,#a4f542 87px,#abf440 90px,#b2f43f 93px,#b7f33e 96px,#bdf13d 99px,#c1ef3c 102px,#c7ec3a 105px,#cce838 108px,#d2e335 111px,#d8dd32 114px,#ded72f 117px,#e3d12c 120px,#e8ca2a 123px,#ecc428 126px,#efbf27 129px,#f1b926 132px,#f3b426 135px,#f4b026 138px,#f5ab26 141px,#f6a726 144px,#f6a526 145px)"></div><div class="row" style="top:58px;height:3px;left:0px;width:149px;background:linear-gradient(90deg,#58f07b 0px,#58f07c 3px,#59f07c 6px,#59f17c 9px,#5af17c 12px,#5bf17c 15px,#5cf27b 18px,#5df27a 21px,#5ef279 24px,#5ef378 27px,#5ff377 30px,#5ff374 33px,#60f371 36px,#61f46c 39px,#62f467 42px,#63f461 45px,#65f55d 48px,#67f559 51px,#69f557 54px,#6bf556 57px,#6ff554 60px,#73f553 63px,#79f552 66px,#7ef551 69px,#84f550 72px,#8bf54f 75px,#91f54e 78px,#99f54d 81px,#a0f54b 84px,#a9f54a 87px,#b0f448 90px,#b7f447 93px,#bdf245 96px,#c2f044 99px,#c7ee42 102px,#cbeb40 105px,#d0e73e 108px,#d5e13b 111px,#dbdb38 114px,#e0d534 117px,#e5ce31 120px,#e9c72e 123px,#edc02b 126px,#f0ba2a 129px,#f2b528 132px,#f3b028 135px,#f5ab28 138px,#f6a627 141px,#f6a228 144px,#f79d28 147px,#f79a28 149px)"></div><div class="row" style="top:60px;height:3px;left:1px;width:151px;background:linear-gradient(90deg,#58f081 0px,#58f081 3px,#59f082 6px,#59f083 9px,#5af182 12px,#5bf182 15px,#5cf281 18px,#5df280 21px,#5df27f 24px,#5ef27e 27px,#5ef37c 30px,#5ff379 33px,#60f376 36px,#61f370 39px,#62f46a 42px,#64f464 45px,#66f55f 48px,#68f55c 51px,#6bf55a 54px,#6ff558 57px,#73f558 60px,#79f558 63px,#7ff557 66px,#85f557 69px,#8bf557 72px,#91f557 75px,#98f557 78px,#a0f556 81px,#a9f554 84px,#b1f552 87px,#b9f450 90px,#c0f34e 93px,#c5f14c 96px,#caef4a 99px,#ceec48 102px,#d2e846 105px,#d6e343 108px,#dbde40 111px,#dfd73c 114px,#e4d038 117px,#e8c834 120px,#ecc131 123px,#efba2e 126px,#f1b42c 129px,#f3ae2a 132px,#f5a92a 135px,#f6a429 138px,#f6a029 141px,#f79b29 144px,#f79729 147px,#f89229 150px,#f89129 151px)"></div><div class="row" style="top:62px;height:3px;left:1px;width:155px;background:linear-gradient(90deg,#58f089 0px,#58f08a 3px,#58f08b 6px,#59f08b 9px,#5af08b 12px,#5bf18a 15px,#5cf189 18px,#5cf287 21px,#5df286 24px,#5df284 27px,#5ef282 30px,#5ef280 33px,#5ff37d 36px,#60f378 39px,#61f371 42px,#63f46b 45px,#66f465 48px,#69f560 51px,#6df55e 54px,#72f55d 57px,#78f55d 60px,#7ef55e 63px,#84f55f 66px,#8af560 69px,#91f661 72px,#97f661 75px,#9ef661 78px,#a6f660 81px,#aff55f 84px,#b7f55c 87px,#bff45a 90px,#c6f357 93px,#cbf154 96px,#d0ee52 99px,#d3eb4f 102px,#d7e74c 105px,#dae249 108px,#dedc46 111px,#e2d542 114px,#e6cd3e 117px,#eac539 120px,#edbd35 123px,#f0b632 126px,#f2af2f 129px,#f4a92d 132px,#f5a32c 135px,#f69f2b 138px,#f79a2b 141px,#f7962a 144px,#f7922a 147px,#f88d2a 150px,#f88929 153px,#f88529 155px)"></div><div class="row" style="top:64px;height:3px;left:2px;width:157px;background:linear-gradient(90deg,#57ef94 0px,#58ef95 3px,#58f096 6px,#59f096 9px,#59f095 12px,#5af193 15px,#5bf191 18px,#5cf18f 21px,#5cf18d 24px,#5df28c 27px,#5df28a 30px,#5ef287 33px,#5ef284 36px,#5ff37f 39px,#61f378 42px,#64f471 45px,#68f46b 48px,#6cf567 51px,#72f565 54px,#79f565 57px,#80f566 60px,#87f568 63px,#8df569 66px,#93f66a 69px,#99f66b 72px,#a0f66c 75px,#a7f66c 78px,#aff66b 81px,#b7f569 84px,#bff566 87px,#c7f363 90px,#cdf15f 93px,#d2ef5c 96px,#d6ec59 99px,#d9e856 102px,#dce352 105px,#e0de4f 108px,#e3d74b 111px,#e6d047 114px,#e9c842 117px,#ecbf3e 120px,#efb639 123px,#f1ae35 126px,#f3a732 129px,#f4a130 132px,#f59c2f 135px,#f6972e 138px,#f7932d 141px,#f78f2c 144px,#f78b2b 147px,#f7862b 150px,#f7822a 153px,#f77d29 156px,#f77c29 157px)"></div><div class="row" style="top:66px;height:3px;left:2px;width:161px;background:linear-gradient(90deg,#57efa0 0px,#57efa1 3px,#57efa1 6px,#58efa0 9px,#59f09f 12px,#59f09d 15px,#5af09a 18px,#5bf198 21px,#5bf196 24px,#5cf194 27px,#5cf192 30px,#5df290 33px,#5df28e 36px,#5ef28a 39px,#60f384 42px,#64f37e 45px,#69f478 48px,#6ff473 51px,#77f571 54px,#7ff571 57px,#87f572 60px,#8ef673 63px,#94f674 66px,#9af675 69px,#a0f676 72px,#a6f677 75px,#adf676 78px,#b5f675 81px,#bcf573 84px,#c4f470 87px,#caf36d 90px,#d0f169 93px,#d5ee65 96px,#daeb61 99px,#dde75e 102px,#e0e25a 105px,#e3dc56 108px,#e6d552 111px,#e9cd4e 114px,#ebc449 117px,#eebb44 120px,#f0b13f 123px,#f2a83b 126px,#f3a037 129px,#f49a34 132px,#f59532 135px,#f69031 138px,#f68c2f 141px,#f6882e 144px,#f7852d 147px,#f7812c 150px,#f77c2b 153px,#f7782a 156px,#f7742a 159px,#f7712a 161px)"></div><div class="row" style="top:68px;height:3px;left:3px;width:163px;background:linear-gradient(90deg,#56efaa 0px,#56efaa 3px,#57efa9 6px,#57efa8 9px,#58efa6 12px,#59f0a4 15px,#5af0a2 18px,#5af09f 21px,#5bf19d 24px,#5bf19c 27px,#5cf19a 30px,#5cf199 33px,#5df196 36px,#5ef293 39px,#61f28f 42px,#66f38a 45px,#6df485 48px,#75f582 51px,#7ff580 54px,#88f57f 57px,#90f67f 60px,#97f680 63px,#9df680 66px,#a3f681 69px,#a9f681 72px,#aef681 75px,#b5f680 78px,#bcf67f 81px,#c2f57d 84px,#c9f47a 87px,#cff276 90px,#d5ef72 93px,#daec6d 96px,#dee869 99px,#e1e365 102px,#e4de61 105px,#e7d75d 108px,#e9cf59 111px,#ecc754 114px,#eebd4f 117px,#f0b24a 120px,#f1a844 123px,#f39f40 126px,#f3973c 129px,#f49139 132px,#f58b36 135px,#f58734 138px,#f58332 141px,#f58031 144px,#f67c2f 147px,#f6792e 150px,#f6752d 153px,#f6712c 156px,#f66d2b 159px,#f6692b 162px,#f6672b 163px)"></div><div class="row" style="top:70px;height:3px;left:3px;width:167px;background:linear-gradient(90deg,#56eeb0 0px,#56eeb0 3px,#57efaf 6px,#57efae 9px,#58efac 12px,#58efaa 15px,#59f0a8 18px,#5af0a5 21px,#5af0a4 24px,#5bf0a2 27px,#5bf1a1 30px,#5cf1a0 33px,#5df19f 36px,#5ef29d 39px,#61f29a 42px,#66f397 45px,#6ef493 48px,#77f591 51px,#81f58e 54px,#8bf58d 57px,#94f68c 60px,#9cf68c 63px,#a2f68c 66px,#a8f68c 69px,#aef68b 72px,#b4f68b 75px,#baf68a 78px,#c0f589 81px,#c6f487 84px,#ccf384 87px,#d2f180 90px,#d7ee7c 93px,#dcea77 96px,#e0e673 99px,#e3e16f 102px,#e7db6a 105px,#e9d466 108px,#eccc61 111px,#eec25c 114px,#f0b857 117px,#f1ad51 120px,#f2a24c 123px,#f39847 126px,#f38f42 129px,#f3893f 132px,#f4833c 135px,#f47f39 138px,#f47b37 141px,#f47735 144px,#f47433 147px,#f47131 150px,#f46d30 153px,#f56a2f 156px,#f5662e 159px,#f5632d 162px,#f55f2d 165px,#f45c2e 167px)"></div><div class="row" style="top:72px;height:3px;left:4px;width:169px;background:linear-gradient(90deg,#56eeb4 0px,#56eeb4 3px,#56eeb3 6px,#57efb1 9px,#58efaf 12px,#58efad 15px,#59efab 18px,#5af0a9 21px,#5af0a8 24px,#5bf0a7 27px,#5bf0a6 30px,#5cf1a5 33px,#5df1a4 36px,#5ff2a3 39px,#63f3a1 42px,#69f39f 45px,#71f49d 48px,#7af59b 51px,#85f599 54px,#8ff598 57px,#99f697 60px,#a1f697 63px,#a8f696 66px,#aff696 69px,#b5f696 72px,#baf695 75px,#c0f594 78px,#c6f593 81px,#cbf390 84px,#d1f18d 87px,#d6ef8a 90px,#dbeb85 93px,#dee587 96px,#e1df87 99px,#e6dd77 102px,#e9d672 105px,#ecce6d 108px,#eec568 111px,#f0ba62 114px,#f1ae5d 117px,#f2a357 120px,#f39852 123px,#f38e4d 126px,#f38548 129px,#f37f44 132px,#f27941 135px,#f2743e 138px,#f2703b 141px,#f26d39 144px,#f26937 147px,#f26635 150px,#f36433 153px,#f36132 156px,#f35e31 159px,#f35a30 162px,#f35730 165px,#f35330 168px,#f35231 169px)"></div><div class="row" style="top:74px;height:3px;left:4px;width:172px;background:linear-gradient(90deg,#56eeb7 0px,#56eeb6 3px,#56eeb5 6px,#57eeb4 9px,#57efb2 12px,#58efb0 15px,#59efaf 18px,#59efad 21px,#5af0ac 24px,#5bf0ab 27px,#5bf0aa 30px,#5cf1aa 33px,#5ef1a9 36px,#60f2a7 39px,#64f3a6 42px,#69f3a4 45px,#71f4a3 48px,#7af4a2 51px,#84f5a1 54px,#8ff5a1 57px,#99f5a0 60px,#a3f6a0 63px,#abf6a0 66px,#b2f69f 69px,#b9f69f 72px,#bef59f 75px,#c4f59e 78px,#c9f39d 81px,#cff29b 84px,#d4f098 87px,#d8ed95 90px,#dbe59b 93px,#dcdda2 96px,#e2dd90 99px,#e8da81 102px,#ead37c 105px,#edca76 108px,#efc070 111px,#f1b56b 114px,#f2a865 117px,#f39c60 120px,#f3915a 123px,#f38755 126px,#f27e50 129px,#f2774c 132px,#f17048 135px,#f16b45 138px,#f06642 141px,#f06240 144px,#f05f3d 147px,#f05c3b 150px,#f15a39 153px,#f15837 156px,#f15536 159px,#f25334 162px,#f25034 165px,#f14c34 168px,#f14834 171px,#f14734 172px)"></div><div class="row" style="top:76px;height:3px;left:5px;width:175px;background:linear-gradient(90deg,#56eeb9 0px,#56eeb8 3px,#56eeb7 6px,#57eeb6 9px,#58eeb5 12px,#58efb3 15px,#59efb1 18px,#5aefb0 21px,#5bf0af 24px,#5cf0af 27px,#5df0ae 30px,#5ef1ad 33px,#60f2ac 36px,#62f2ab 39px,#66f3a9 42px,#6cf4a8 45px,#73f4a7 48px,#7cf4a6 51px,#87f5a7 54px,#92f5a7 57px,#9df5a7 60px,#a7f5a8 63px,#aff5a8 66px,#b7f5a8 69px,#bef5a8 72px,#c4f4a8 75px,#caf3a7 78px,#cff1a6 81px,#d4efa4 84px,#d8eca2 87px,#d7daba 90px,#dad9b3 93px,#dfdaa5 96px,#e5da95 99px,#e9d48a 102px,#eccc84 105px,#eec27e 108px,#f0b777 111px,#f2ab71 114px,#f39e6c 117px,#f39266 120px,#f38761 123px,#f27d5c 126px,#f17557 129px,#f06d53 132px,#f0664f 135px,#ef604c 138px,#ee5b49 141px,#ee5746 144px,#ee5444 147px,#ee5141 150px,#ee503f 153px,#ef4e3d 156px,#ef4c3b 159px,#f04939 162px,#f04738 165px,#ef4338 168px,#ef4038 171px,#ee3c38 174px,#ee3b38 175px)"></div><div class="row" style="top:78px;height:3px;left:5px;width:178px;background:linear-gradient(90deg,#56edbb 0px,#56edbb 3px,#56edba 6px,#57edb9 9px,#58eeb8 12px,#58eeb7 15px,#59eeb5 18px,#5aefb4 21px,#5befb4 24px,#5df0b3 27px,#5ef0b2 30px,#5ff1b1 33px,#61f2b0 36px,#64f2ae 39px,#67f3ac 42px,#6cf3ab 45px,#73f4aa 48px,#7cf4aa 51px,#86f4ab 54px,#91f5ac 57px,#9cf5ad 60px,#a7f5ae 63px,#b0f5af 66px,#b9f5b0 69px,#c1f4b0 72px,#c7f3b0 75px,#cdf1b0 78px,#d3efaf 81px,#d7ecae 84px,#d5d3c9 87px,#d8d4c4 90px,#dcd6b9 93px,#e1d7ad 96px,#e6d69f 99px,#ead095 102px,#ecc78e 105px,#efbd87 108px,#f0b180 111px,#f2a47a 114px,#f29774 117px,#f38b6f 120px,#f2816a 123px,#f17765 126px,#f06e61 129px,#ef665c 132px,#ee5e58 135px,#ed5855 138px,#ec5251 141px,#ec4e4e 144px,#ec4a4c 147px,#ec4849 150px,#ec4646 153px,#ed4543 156px,#ed4341 159px,#ed413f 162px,#ed3e3d 165px,#ed3c3c 168px,#ed393c 171px,#ec363b 174px,#ec333c 177px,#ec323c 178px)"></div><div class="row" style="top:80px;height:3px;left:6px;width:181px;background:linear-gradient(90deg,#56ecbf 0px,#56ecbf 3px,#56ecbe 6px,#57ecbd 9px,#58edbc 12px,#59edbb 15px,#5aeeba 18px,#5ceeb9 21px,#5defb9 24px,#5ef0b8 27px,#60f0b7 30px,#61f1b5 33px,#63f2b3 36px,#66f2b1 39px,#6af3af 42px,#6ff3ae 45px,#76f3ad 48px,#7ff4ae 51px,#89f4af 54px,#94f4b1 57px,#9ff4b2 60px,#aaf4b4 63px,#b4f4b5 66px,#bdf3b7 69px,#c5f2b7 72px,#ccf0b8 75px,#d3eeb8 78px,#d8eab7 81px,#d3ccd2 84px,#d6cfcc 87px,#dad1c4 90px,#dfd2bb 93px,#e4d1b0 96px,#e9cfa3 99px,#ebc89d 102px,#edbe96 105px,#efb28e 108px,#f0a587 111px,#f19881 114px,#f28b7c 117px,#f28077 120px,#f17673 123px,#f06c6e 126px,#ef646a 129px,#ee5c65 132px,#ed5461 135px,#ec4e5d 138px,#eb4959 141px,#ea4556 144px,#ea4253 147px,#ea3f50 150px,#ea3d4c 153px,#eb3c49 156px,#eb3a46 159px,#eb3844 162px,#eb3641 165px,#eb3440 168px,#eb313f 171px,#eb2f3e 174px,#ea2d3e 177px,#ea2c3e 180px,#ea2b3e 181px)"></div><div class="row" style="top:82px;height:3px;left:7px;width:183px;background:linear-gradient(90deg,#56ebc3 0px,#56ebc3 3px,#57ebc3 6px,#57ebc2 9px,#58ecc1 12px,#5aecc0 15px,#5bedbf 18px,#5deebf 21px,#5eefbe 24px,#60efbd 27px,#61f0bb 30px,#63f1b9 33px,#65f1b7 36px,#68f2b4 39px,#6df2b2 42px,#72f2b1 45px,#7af3b1 48px,#82f3b2 51px,#8cf3b3 54px,#97f3b5 57px,#a2f3b7 60px,#adf3b9 63px,#b7f3bb 66px,#c1f1bc 69px,#caefbe 72px,#d1edbe 75px,#d5d7cb 78px,#d2c7d5 81px,#d5cad1 84px,#d9cbcb 87px,#ddccc5 90px,#e2cbbd 93px,#e7cab3 96px,#eac6aa 99px,#ecbda3 102px,#edb29c 105px,#efa595 108px,#f0978f 111px,#f18a89 114px,#f17e84 117px,#f17380 120px,#f06a7c 123px,#ef6278 126px,#ee5a73 129px,#ed526e 132px,#eb4c69 135px,#ea4665 138px,#ea4261 141px,#e93e5d 144px,#e93b59 147px,#e93855 150px,#e93652 153px,#e9344e 156px,#e9324b 159px,#e93148 162px,#e92f45 165px,#e92d43 168px,#e92c42 171px,#e92a41 174px,#e92940 177px,#e92840 180px,#e9273f 183px)"></div><div class="row" style="top:84px;height:3px;left:7px;width:187px;background:linear-gradient(90deg,#56eac7 0px,#56eac7 3px,#57eac7 6px,#57eac6 9px,#59ebc6 12px,#5aebc5 15px,#5cecc4 18px,#5dedc3 21px,#5feec2 24px,#61efc1 27px,#62efbf 30px,#64f0bd 33px,#66f0bb 36px,#69f1b9 39px,#6ef1b7 42px,#73f2b5 45px,#7af2b5 48px,#83f2b6 51px,#8cf2b7 54px,#96f2b9 57px,#a1f2bb 60px,#acf2bd 63px,#b7f1bf 66px,#c1efc1 69px,#cbedc2 72px,#d2d5ce 75px,#d2c6d5 78px,#d2c4d5 81px,#d6c5d1 84px,#dac5cc 87px,#dec4c7 90px,#e3c2c0 93px,#e8c0b8 96px,#ebbcb0 99px,#ecb3ab 102px,#eda7a5 105px,#ee999e 108px,#ef8b98 111px,#ef7e93 114px,#ef738f 117px,#ef6a8b 120px,#ef6287 123px,#ee5a83 126px,#ed537e 129px,#ec4d79 132px,#eb4773 135px,#ea416e 138px,#e93d69 141px,#e83964 144px,#e83660 147px,#e8335c 150px,#e83158 153px,#e82f54 156px,#e82d50 159px,#e82b4c 162px,#e82a49 165px,#e82947 168px,#e82845 171px,#e82743 174px,#e82642 177px,#e82541 180px,#e82441 183px,#e82440 186px,#e82340 187px)"></div><div class="row" style="top:86px;height:3px;left:8px;width:189px;background:linear-gradient(90deg,#56e9ca 0px,#56e9ca 3px,#57e9c9 6px,#58eac9 9px,#59eac9 12px,#5bebc8 15px,#5cecc7 18px,#5eedc6 21px,#60edc5 24px,#62eec4 27px,#63efc2 30px,#65efc0 33px,#68f0be 36px,#6cf0bc 39px,#70f0ba 42px,#76f0b9 45px,#7df1b9 48px,#86f1ba 51px,#8ff1bb 54px,#98f1bd 57px,#a3f1bf 60px,#aef1c1 63px,#b9efc3 66px,#c5ecc5 69px,#d1c6d4 72px,#d1c4d4 75px,#d2c1d4 78px,#d4bfd2 81px,#d8bfcf 84px,#dcbdca 87px,#e1b9c5 90px,#e5b6c0 93px,#eab3b9 96px,#ebacb4 99px,#eca1af 102px,#ec94aa 105px,#ed87a5 108px,#ed7aa0 111px,#ee6e9b 114px,#ee6598 117px,#ee5e94 120px,#ed5790 123px,#ec518c 126px,#ec4b87 129px,#eb4681 132px,#ea417b 135px,#e93c75 138px,#e8386f 141px,#e8356a 144px,#e73265 147px,#e72f60 150px,#e72c5b 153px,#e72a57 156px,#e72853 159px,#e7274f 162px,#e7264c 165px,#e72549 168px,#e72547 171px,#e72445 174px,#e72344 177px,#e82342 180px,#e82242 183px,#e82241 186px,#e82140 189px)"></div><div class="row" style="top:88px;height:3px;left:9px;width:192px;background:linear-gradient(90deg,#56e8cb 0px,#57e9cb 3px,#57e9cb 6px,#58e9cb 9px,#5aeaca 12px,#5beaca 15px,#5debc9 18px,#5fecc8 21px,#61edc7 24px,#62edc6 27px,#64eec5 30px,#67eec3 33px,#6aeec1 36px,#6eefbf 39px,#73efbe 42px,#79efbd 45px,#80efbd 48px,#88f0be 51px,#90f0bf 54px,#9af0c0 57px,#a4f0c2 60px,#afefc4 63px,#c0e2c9 66px,#cec2d2 69px,#d0c1d2 72px,#d1bed2 75px,#d2bad1 78px,#d5b7cf 81px,#dab4cc 84px,#dfb0c8 87px,#e3abc4 90px,#e7a7bf 93px,#eba3ba 96px,#eb99b6 99px,#ea8db3 102px,#eb80af 105px,#eb73ab 108px,#ec68a7 111px,#ec60a3 114px,#ec59a0 117px,#ec549c 120px,#ec4e98 123px,#eb4a93 126px,#eb458e 129px,#ea4088 132px,#e93c82 135px,#e8387c 138px,#e83575 141px,#e7316f 144px,#e72e6a 147px,#e72b64 150px,#e6295f 153px,#e6275a 156px,#e62556 159px,#e62452 162px,#e7234f 165px,#e7234c 168px,#e72249 171px,#e72247 174px,#e72145 177px,#e72143 180px,#e82042 183px,#e82041 186px,#e81f41 189px,#e81e40 192px)"></div><div class="row" style="top:90px;height:3px;left:9px;width:195px;background:linear-gradient(90deg,#56e8cc 0px,#57e8cc 3px,#58e8cc 6px,#59e9cc 9px,#5ae9cb 12px,#5beacb 15px,#5deaca 18px,#5febca 21px,#60ecc9 24px,#62ecc8 27px,#64edc7 30px,#67edc6 33px,#6aedc4 36px,#6eedc3 39px,#73edc2 42px,#79eec1 45px,#7feec1 48px,#86eec1 51px,#8eefc2 54px,#96efc3 57px,#a0eec4 60px,#b3ddc7 63px,#c8bdcd 66px,#ccbcce 69px,#cebacf 72px,#d0b7cf 75px,#d2b1cf 78px,#d5adcd 81px,#daa8ca 84px,#dfa3c6 87px,#e39cc3 90px,#e796bf 93px,#ea92bb 96px,#e986b9 99px,#e97ab7 102px,#e96fb4 105px,#e964b1 108px,#ea5cae 111px,#ea56ab 114px,#ea51a7 117px,#eb4da4 120px,#ea49a0 123px,#ea459b 126px,#ea4196 129px,#e93d91 132px,#e9398b 135px,#e83685 138px,#e8327e 141px,#e72f78 144px,#e72c71 147px,#e6296b 150px,#e62765 153px,#e62560 156px,#e6245b 159px,#e62357 162px,#e62253 165px,#e6214f 168px,#e6214c 171px,#e72049 174px,#e72047 177px,#e72045 180px,#e71f43 183px,#e81f42 186px,#e81e41 189px,#e81d41 192px,#e91d41 195px)"></div><div class="row" style="top:92px;height:3px;left:10px;width:198px;background:linear-gradient(90deg,#57e8cd 0px,#57e8cc 3px,#58e8cc 6px,#59e8cc 9px,#5ae9cc 12px,#5ce9cb 15px,#5deacb 18px,#5feaca 21px,#61ebca 24px,#63ebc9 27px,#65ecc8 30px,#68ecc7 33px,#6becc6 36px,#6fecc5 39px,#74ecc5 42px,#79ecc4 45px,#7fedc4 48px,#86edc4 51px,#8dedc4 54px,#95edc5 57px,#b4b9c0 60px,#bfb4c4 63px,#c4b4c8 66px,#c9b3ca 69px,#ccb0cb 72px,#cfabcb 75px,#d1a3cb 78px,#d79fc9 81px,#dc98c6 84px,#e190c3 87px,#e489c0 90px,#e782be 93px,#e87bbc 96px,#e770ba 99px,#e765b9 102px,#e75cb7 105px,#e755b5 108px,#e850b3 111px,#e84cb0 114px,#e948ad 117px,#e945aa 120px,#e942a6 123px,#e93fa2 126px,#e93c9d 129px,#e83898 132px,#e83593 135px,#e7328d 138px,#e72f86 141px,#e72c7f 144px,#e72978 147px,#e72771 150px,#e6256a 153px,#e62365 156px,#e6225f 159px,#e6215a 162px,#e62156 165px,#e62052 168px,#e6204e 171px,#e61f4b 174px,#e71f48 177px,#e71e46 180px,#e71e44 183px,#e81e42 186px,#e81d42 189px,#e81d41 192px,#e91c41 195px,#e91c41 198px)"></div><div class="row" style="top:94px;height:3px;left:11px;width:199px;background:linear-gradient(90deg,#58e8cd 0px,#58e8cd 3px,#59e8cd 6px,#5ae8cc 9px,#5be8cc 12px,#5ce9cc 15px,#5ee9cb 18px,#5feacb 21px,#61eacb 24px,#63eaca 27px,#65ebc9 30px,#68ebc9 33px,#6cebc8 36px,#70ebc7 39px,#74ebc6 42px,#79ebc6 45px,#7fecc6 48px,#84ecc6 51px,#8becc6 54px,#a6a5b1 57px,#b0a9b9 60px,#b9aabe 63px,#c0aac2 66px,#c6a8c5 69px,#caa3c6 72px,#ce9cc6 75px,#d295c6 78px,#d88ec4 81px,#dd85c2 84px,#e17cc0 87px,#e373be 90px,#e56cbd 93px,#e564bc 96px,#e55bbc 99px,#e454bb 102px,#e54eba 105px,#e549b9 108px,#e646b7 111px,#e743b5 114px,#e741b2 117px,#e83fb0 120px,#e83cad 123px,#e839a9 126px,#e836a5 129px,#e734a1 132px,#e7319c 135px,#e72e96 138px,#e72c8f 141px,#e72987 144px,#e7277f 147px,#e72578 150px,#e72471 153px,#e7226a 156px,#e72164 159px,#e7215e 162px,#e72059 165px,#e61f54 168px,#e61f50 171px,#e71e4c 174px,#e71e49 177px,#e71e46 180px,#e71d44 183px,#e81d43 186px,#e81c42 189px,#e81c41 192px,#e91b41 195px,#e91b41 198px,#e91b41 199px)"></div><div class="row" style="top:96px;height:3px;left:12px;width:195px;background:linear-gradient(90deg,#58e7cd 0px,#59e7cd 3px,#59e7cd 6px,#5ae8cd 9px,#5be8cc 12px,#5ce8cc 15px,#5ee9cc 18px,#5fe9cc 21px,#61e9cb 24px,#63eacb 27px,#66eaca 30px,#69eaca 33px,#6ceac9 36px,#70eac8 39px,#74eac8 42px,#79eac7 45px,#7debc7 48px,#87c4af 51px,#969ea3 54px,#a09fac 57px,#aba0b3 60px,#b4a1b9 63px,#bc9fbc 66px,#c29abf 69px,#c894c0 72px,#cd8cc1 75px,#d384c1 78px,#d97bc0 81px,#dd71bf 84px,#e067be 87px,#e25fbd 90px,#e359bd 93px,#e252bd 96px,#e24cbd 99px,#e247bd 102px,#e343bc 105px,#e340bc 108px,#e43ebb 111px,#e53cba 114px,#e63ab8 117px,#e638b6 120px,#e636b4 123px,#e633b1 126px,#e631ae 129px,#e62faa 132px,#e62da5 135px,#e62b9f 138px,#e62998 141px,#e62790 144px,#e72588 147px,#e7247f 150px,#e72377 153px,#e72270 156px,#e72169 159px,#e72063 162px,#e7205d 165px,#e71f57 168px,#e71e52 171px,#e71e4d 174px,#e71d4a 177px,#e71d47 180px,#e81c44 183px,#e81c43 186px,#e81c42 189px,#e81b42 192px,#e91b42 195px)"></div><div class="row" style="top:98px;height:3px;left:13px;width:187px;background:linear-gradient(90deg,#59e7cd 0px,#59e7cd 3px,#5ae7cd 6px,#5be7cd 9px,#5ce8cd 12px,#5de8cc 15px,#5ee8cc 18px,#5fe9cc 21px,#61e9cc 24px,#63e9cb 27px,#66e9cb 30px,#69e9ca 33px,#6ce9ca 36px,#70e9c9 39px,#74e9c9 42px,#78eac8 45px,#829e8d 48px,#8a9b97 51px,#939aa0 54px,#9d99a8 57px,#a798ae 60px,#b096b3 63px,#b892b7 66px,#c08cb9 69px,#c784ba 72px,#cc7bbb 75px,#d373bc 78px,#d968bd 81px,#dc5ebc 84px,#de55bc 87px,#e04ebd 90px,#e049bd 93px,#e045bd 96px,#e041be 99px,#e13ebe 102px,#e13cbf 105px,#e23abf 108px,#e338bf 111px,#e436bf 114px,#e434be 117px,#e532bd 120px,#e530bb 123px,#e52eb9 126px,#e52cb6 129px,#e52bb2 132px,#e529ad 135px,#e628a7 138px,#e626a0 141px,#e62598 144px,#e7248f 147px,#e72386 150px,#e7227e 153px,#e72276 156px,#e7216e 159px,#e72067 162px,#e71f60 165px,#e71f5a 168px,#e71e54 171px,#e71d4f 174px,#e71d4a 177px,#e71c47 180px,#e81c45 183px,#e81c43 186px,#e81b43 187px)"></div><div class="row" style="top:100px;height:3px;left:14px;width:178px;background:linear-gradient(90deg,#59e7cd 0px,#5ae7cd 3px,#5ae7cd 6px,#5be7cd 9px,#5ce7cd 12px,#5de8cd 15px,#5ee8cc 18px,#60e8cc 21px,#61e8cc 24px,#63e9cb 27px,#66e9cb 30px,#69e9cb 33px,#6ce9ca 36px,#70e9c9 39px,#74dfbe 42px,#7c9f85 45px,#819b8d 48px,#889896 51px,#91959e 54px,#9a93a5 57px,#a490aa 60px,#ae8bae 63px,#b784b1 66px,#be7cb3 69px,#c574b4 72px,#cc6cb6 75px,#d362b8 78px,#d857ba 81px,#db4ebb 84px,#dd47bc 87px,#de42bd 90px,#de3fbd 93px,#de3cbe 96px,#df3abf 99px,#df38c0 102px,#e036c1 105px,#e134c2 108px,#e232c3 111px,#e230c4 114px,#e32ec3 117px,#e32dc3 120px,#e42bc1 123px,#e42abf 126px,#e428bc 129px,#e427b8 132px,#e527b3 135px,#e526ad 138px,#e625a6 141px,#e6249e 144px,#e72395 147px,#e7238c 150px,#e82284 153px,#e8227b 156px,#e82173 159px,#e8206b 162px,#e71f64 165px,#e71f5d 168px,#e71e56 171px,#e71d50 174px,#e71c4b 177px,#e71c4a 178px)"></div><div class="row" style="top:102px;height:3px;left:14px;width:171px;background:linear-gradient(90deg,#55ce7e 0px,#54cd7f 3px,#54cd80 6px,#53cc81 9px,#53cc82 12px,#53cb83 15px,#54ca84 18px,#56c984 21px,#59c785 24px,#5dc587 27px,#62c289 30px,#67c08c 33px,#6cbe8f 36px,#70bb93 39px,#76a27e 42px,#7a9d84 45px,#7f998b 48px,#859592 51px,#8d9199 54px,#968c9f 57px,#a087a4 60px,#aa80a7 63px,#b378aa 66px,#bb70ac 69px,#c168ae 72px,#c860b0 75px,#d056b4 78px,#d54db7 81px,#d944ba 84px,#db3fbb 87px,#dc3cbd 90px,#dd39be 93px,#dd38bf 96px,#de36c0 99px,#de34c2 102px,#df32c3 105px,#e030c5 108px,#e12ec6 111px,#e22cc8 114px,#e22bc8 117px,#e229c8 120px,#e328c6 123px,#e327c4 126px,#e326c1 129px,#e426be 132px,#e425b9 135px,#e525b3 138px,#e524ad 141px,#e624a5 144px,#e7239d 147px,#e72394 150px,#e8228c 153px,#e82283 156px,#e8217a 159px,#e82172 162px,#e8206a 165px,#e81f62 168px,#e71e5a 171px)"></div><div class="row" style="top:104px;height:3px;left:15px;width:162px;background:linear-gradient(90deg,#51c05a 0px,#50bf5d 3px,#4fbe5f 6px,#4ebc62 9px,#4dbb64 12px,#4db966 15px,#4eb768 18px,#50b569 21px,#54b26a 24px,#59af6c 27px,#60ac6f 30px,#66a873 33px,#6ca577 36px,#71a17b 39px,#769d80 42px,#7a9985 45px,#7f938b 48px,#858e90 51px,#8d8895 54px,#968199 57px,#a1799d 60px,#aa70a0 63px,#b368a2 66px,#ba60a4 69px,#bf5aa7 72px,#c752ab 75px,#cf4ab1 78px,#d542b6 81px,#d83cb9 84px,#db39bb 87px,#dc37bd 90px,#dc35be 93px,#dd34c0 96px,#dd32c2 99px,#de31c4 102px,#df2fc6 105px,#e02dc8 108px,#e12bca 111px,#e129cb 114px,#e228cb 117px,#e227cb 120px,#e226c9 123px,#e325c7 126px,#e325c4 129px,#e424c0 132px,#e424bb 135px,#e524b6 138px,#e524af 141px,#e623a8 144px,#e723a1 147px,#e72398 150px,#e82290 153px,#e82287 156px,#e8217f 159px,#e82176 162px)"></div><div class="row" style="top:106px;height:3px;left:16px;width:154px;background:linear-gradient(90deg,#4fbe5f 0px,#4ebc63 3px,#4cba67 6px,#4bb86a 9px,#4ab56e 12px,#4ab370 15px,#4bb172 18px,#4eae73 21px,#52ab74 24px,#57a975 27px,#5ea677 30px,#65a37a 33px,#6b9f7d 36px,#709b80 39px,#759784 42px,#7a9187 45px,#7f8b8a 48px,#86838c 51px,#8e7b8e 54px,#977190 57px,#a16893 60px,#aa5f96 63px,#b25799 66px,#b8529c 69px,#bd4d9f 72px,#c647a7 75px,#ce40af 78px,#d43bb5 81px,#d837b9 84px,#da35bc 87px,#db34be 90px,#dc32bf 93px,#dc31c1 96px,#dd2fc4 99px,#de2dc6 102px,#df2bc9 105px,#e029cb 108px,#e128cc 111px,#e127cd 114px,#e126cd 117px,#e225cc 120px,#e224cb 123px,#e224c8 126px,#e324c5 129px,#e424c1 132px,#e424bc 135px,#e523b7 138px,#e523b1 141px,#e623ab 144px,#e723a3 147px,#e7239c 150px,#e82294 153px,#e82291 154px)"></div><div class="row" style="top:108px;height:3px;left:17px;width:146px;background:linear-gradient(90deg,#4dba66 0px,#4bb86b 3px,#49b570 6px,#48b276 9px,#47af7a 12px,#47ab7e 15px,#48a881 18px,#4aa682 21px,#4ea382 24px,#54a083 27px,#5a9d83 30px,#619a84 33px,#689786 36px,#6e9287 39px,#748d88 42px,#7a8788 45px,#807e87 48px,#877586 51px,#8f6a85 54px,#986085 57px,#a25687 60px,#aa4f8b 63px,#b04a8f 66px,#b64694 69px,#bc429a 72px,#c53da4 75px,#cd39ad 78px,#d436b4 81px,#d834b9 84px,#da33bd 87px,#db31bf 90px,#dc30c1 93px,#dd2ec4 96px,#de2dc6 99px,#df2bc9 102px,#df29cb 105px,#e027cd 108px,#e126ce 111px,#e125cf 114px,#e124ce 117px,#e224cd 120px,#e224cc 123px,#e224c9 126px,#e323c6 129px,#e323c2 132px,#e423bd 135px,#e523b8 138px,#e523b2 141px,#e623ac 144px,#e623a8 146px)"></div><div class="row" style="top:110px;height:3px;left:19px;width:136px;background:linear-gradient(90deg,#49b472 0px,#47b078 3px,#45ad7f 6px,#44a986 9px,#43a58c 12px,#43a190 15px,#439d93 18px,#469a95 21px,#4a9795 24px,#509495 27px,#579194 30px,#5f8e93 33px,#668a91 36px,#6e858f 39px,#757f8b 42px,#7c7686 45px,#836c81 48px,#8b617c 51px,#93567a 54px,#9c4d7b 57px,#a4467f 60px,#ab4284 63px,#b13f89 66px,#b63c8f 69px,#c0399c 72px,#c836a7 75px,#d034b0 78px,#d533b7 81px,#d932bc 84px,#db30bf 87px,#db2fc2 90px,#dd2dc4 93px,#de2bc7 96px,#df29ca 99px,#df28cc 102px,#e026ce 105px,#e025cf 108px,#e125cf 111px,#e124cf 114px,#e124cf 117px,#e224cd 120px,#e223cb 123px,#e323c8 126px,#e323c5 129px,#e423c0 132px,#e423bc 135px,#e523ba 136px)"></div><div class="row" style="top:112px;height:3px;left:20px;width:128px;background:linear-gradient(90deg,#45ad7e 0px,#43a987 3px,#41a48f 6px,#3f9f97 9px,#3e9a9e 12px,#3d96a4 15px,#3e91a7 18px,#3f8da9 21px,#438aaa 24px,#4887a9 27px,#4f84a6 30px,#5881a2 33px,#607e9c 36px,#6a7995 39px,#73718c 42px,#7b6883 45px,#845e7a 48px,#8c5374 51px,#954a71 54px,#9c4273 57px,#a43e78 60px,#aa3a7e 63px,#b03885 66px,#b7368f 69px,#c1349d 72px,#ca32a8 75px,#d032b1 78px,#d631b8 81px,#d930be 84px,#db2fc1 87px,#dc2dc4 90px,#dd2bc7 93px,#de29ca 96px,#df27cc 99px,#e026ce 102px,#e025cf 105px,#e124d0 108px,#e124d0 111px,#e124d0 114px,#e123cf 117px,#e223ce 120px,#e223cb 123px,#e323c8 126px,#e323c6 128px)"></div><div class="row" style="top:114px;height:3px;left:21px;width:119px;background:linear-gradient(90deg,#41a58d 0px,#3e9f97 3px,#3c99a1 6px,#3a93aa 9px,#388eb1 12px,#3789b7 15px,#3784ba 18px,#3980bc 21px,#3c7dbc 24px,#417ab9 27px,#4877b5 30px,#5075ae 33px,#5a71a4 36px,#656c98 39px,#70648a 42px,#7b5b7d 45px,#855172 48px,#8d486c 51px,#95416b 54px,#9d3b6f 57px,#a43874 60px,#aa357c 63px,#b03384 66px,#b93291 69px,#c3319f 72px,#cb30aa 75px,#d230b3 78px,#d730ba 81px,#db2ec1 84px,#dc2dc3 87px,#dd2bc6 90px,#de29c9 93px,#df27cc 96px,#e026ce 99px,#e025cf 102px,#e124d0 105px,#e124d1 108px,#e124d1 111px,#e123d0 114px,#e123cf 117px,#e223ce 119px)"></div><div class="row" style="top:116px;height:3px;left:22px;width:111px;background:linear-gradient(90deg,#3c999f 0px,#3992a9 3px,#368bb3 6px,#3485bb 9px,#3380c1 12px,#327bc5 15px,#3277c8 18px,#3374c8 21px,#3671c6 24px,#3b6ec2 27px,#416bbb 30px,#4a69b1 33px,#5565a4 36px,#615f94 39px,#6e5783 42px,#7a4f75 45px,#84466a 48px,#8d3f66 51px,#953967 54px,#9d366b 57px,#a43373 60px,#aa317b 63px,#b03083 66px,#bc2f94 69px,#c52fa1 72px,#cd2fac 75px,#d32fb5 78px,#d82ebd 81px,#db2dc3 84px,#dd2bc6 87px,#de29c9 90px,#df27cc 93px,#e026ce 96px,#e025cf 99px,#e024d0 102px,#e124d1 105px,#e124d1 108px,#e123d1 111px)"></div><div class="row" style="top:118px;height:3px;left:23px;width:103px;background:linear-gradient(90deg,#3588b2 0px,#3381bb 3px,#317bc2 6px,#2f76c7 9px,#2e72cb 12px,#2e6ecc 15px,#2e6bcc 18px,#3068cb 21px,#3365c7 24px,#3763c1 27px,#3e60b7 30px,#465caa 33px,#51579a 36px,#5e5188 39px,#6c4a76 42px,#784269 45px,#833c61 48px,#8c375f 51px,#943362 54px,#9c3169 57px,#a32f71 60px,#aa2e7a 63px,#b32d86 66px,#be2e96 69px,#c72ea3 72px,#ce2eaf 75px,#d52eb8 78px,#da2dc1 81px,#dc2bc6 84px,#de29c9 87px,#df27cb 90px,#df26ce 93px,#e025cf 96px,#e024d0 99px,#e124d1 102px,#e124d1 103px)"></div><div class="row" style="top:120px;height:3px;left:25px;width:93px;background:linear-gradient(90deg,#2e72c4 0px,#2d6dc8 3px,#2c69ca 6px,#2b66cb 9px,#2b64cb 12px,#2c61ca 15px,#2d5fc7 18px,#2f5dc2 21px,#325abb 24px,#3856b1 27px,#3f52a3 30px,#494d92 33px,#544780 36px,#61406f 39px,#6e3a61 42px,#7a3559 45px,#843257 48px,#8c2f5a 51px,#952e60 54px,#9d2c69 57px,#a52c73 60px,#ac2b7c 63px,#b82c8d 66px,#c32d9c 69px,#cb2da9 72px,#d22db5 75px,#d92cbf 78px,#dd2ac6 81px,#de28c9 84px,#df27cc 87px,#e026ce 90px,#e025cf 93px)"></div><div class="row" style="top:122px;height:3px;left:26px;width:85px;background:linear-gradient(90deg,#2b63c8 0px,#2a60c9 3px,#2a5ec8 6px,#295cc7 9px,#2a5ac4 12px,#2a58c1 15px,#2c56bc 18px,#2f53b5 21px,#334fab 24px,#394b9e 27px,#41468d 30px,#4a407b 33px,#553a6a 36px,#61355c 39px,#6d3154 42px,#782e50 45px,#812c51 48px,#8a2b56 51px,#922a5e 54px,#9b2a67 57px,#a42a71 60px,#ad2a7d 63px,#ba2b8f 66px,#c42c9e 69px,#cd2cab 72px,#d52cb8 75px,#db2ac4 78px,#de29c9 81px,#df27cc 84px,#df26cd 85px)"></div><div class="row" style="top:124px;height:3px;left:28px;width:75px;background:linear-gradient(90deg,#2959c5 0px,#2957c3 3px,#2955c0 6px,#2954bc 9px,#2952b8 12px,#2b4fb3 15px,#2d4dac 18px,#3049a1 21px,#364594 24px,#3d3f84 27px,#463a72 30px,#503462 33px,#5a3055 36px,#652c4d 39px,#702a4a 42px,#79294b 45px,#82294f 48px,#8a2856 51px,#94285f 54px,#9d2869 57px,#a52872 60px,#b32a85 63px,#be2b96 66px,#c82ba5 69px,#d12bb4 72px,#d92ac1 75px)"></div><div class="row" style="top:126px;height:3px;left:29px;width:67px;background:linear-gradient(90deg,#2853bd 0px,#2851b9 3px,#284fb5 6px,#284db0 9px,#294bab 12px,#2a49a4 15px,#2d469c 18px,#314290 21px,#373d82 24px,#3f3871 27px,#473261 30px,#512e54 33px,#5a2b4b 36px,#642947 39px,#6e2846 42px,#772749 45px,#80274e 48px,#882755 51px,#92275f 54px,#9b2868 57px,#a62875 60px,#b42a88 63px,#c02a99 66px,#c32b9e 67px)"></div><div class="row" style="top:128px;height:3px;left:31px;width:57px;background:linear-gradient(90deg,#274db0 0px,#274baa 3px,#2748a5 6px,#28469f 9px,#294499 12px,#2b4191 15px,#2f3d87 18px,#34397a 21px,#3b346b 24px,#42305c 27px,#4b2b50 30px,#532948 33px,#5d2744 36px,#662643 39px,#6f2645 42px,#782649 45px,#80264f 48px,#8a2658 51px,#942762 54px,#9d276b 57px)"></div><div class="row" style="top:130px;height:3px;left:33px;width:48px;background:linear-gradient(90deg,#26459d 0px,#264396 3px,#274191 6px,#273e8a 9px,#293c83 12px,#2c397b 15px,#303570 18px,#363163 21px,#3d2d57 24px,#45294c 27px,#4d2745 30px,#552541 33px,#5f2440 36px,#682442 39px,#702545 42px,#79254a 45px,#822552 48px)"></div><div class="row" style="top:132px;height:3px;left:35px;width:39px;background:linear-gradient(90deg,#253c85 0px,#253a7f 3px,#263879 6px,#273673 9px,#29336c 12px,#2d3064 15px,#322d5a 18px,#382a50 21px,#3f2747 24px,#462541 27px,#4f243e 30px,#58233e 33px,#61233f 36px,#6a2442 39px)"></div><div class="row" style="top:134px;height:3px;left:38px;width:28px;background:linear-gradient(90deg,#24336b 0px,#243166 3px,#252f61 6px,#272d5c 9px,#2b2b55 12px,#30294e 15px,#362647 18px,#3c2441 21px,#44233d 24px,#4c223b 27px,#4f223b 28px)"></div><div class="row" style="top:136px;height:3px;left:42px;width:17px;background:linear-gradient(90deg,#232b55 0px,#242951 3px,#27284d 6px,#2b2648 9px,#302443 12px,#36233e 15px,#3a223c 17px)"></div></div><div class="abs" style="left:35px;top:578px;width:214px;height:153px;overflow:hidden"><div class="row" style="top:0px;height:4px;background:linear-gradient(90deg,#61f150 0px,#62f150 6px,#63f14f 12px,#65f14f 18px,#66f14f 24px,#67f14e 30px,#69f14e 36px,#6bf24d 42px,#6df24d 48px,#6ff24c 54px,#71f24c 60px,#73f24b 66px,#76f24b 72px,#78f24b 78px,#7bf34a 84px,#7df34a 90px,#80f34a 96px,#82f349 102px,#85f349 108px,#87f349 114px,#8af449 120px,#8cf449 126px,#8ff449 132px,#92f449 138px,#94f449 144px,#97f549 150px,#99f549 156px,#9cf549 162px,#9ef549 168px,#a0f549 174px,#a3f548 180px,#a5f548 186px,#a6f648 192px,#a8f648 198px,#aaf648 204px,#abf648 210px,#acf647 216px)"></div><div class="row" style="top:3px;height:4px;background:linear-gradient(90deg,#61f151 0px,#62f151 6px,#63f151 12px,#65f150 18px,#66f150 24px,#68f14f 30px,#69f24f 36px,#6bf24e 42px,#6df24e 48px,#6ff24d 54px,#71f24d 60px,#74f24c 66px,#76f24c 72px,#78f34c 78px,#7bf34b 84px,#7df34b 90px,#80f34b 96px,#82f34a 102px,#85f34a 108px,#88f44a 114px,#8af44a 120px,#8df44a 126px,#90f44a 132px,#92f44a 138px,#95f54a 144px,#97f54a 150px,#9af54a 156px,#9cf54a 162px,#9ff54a 168px,#a1f54a 174px,#a3f54a 180px,#a5f64a 186px,#a7f649 192px,#a9f649 198px,#aaf649 204px,#acf649 210px,#adf649 216px)"></div><div class="row" style="top:6px;height:4px;background:linear-gradient(90deg,#62f152 0px,#62f152 6px,#64f152 12px,#65f151 18px,#66f151 24px,#68f150 30px,#69f250 36px,#6bf24f 42px,#6df24f 48px,#6ff24e 54px,#72f24e 60px,#74f24d 66px,#76f24d 72px,#79f34d 78px,#7bf34c 84px,#7ef34c 90px,#80f34c 96px,#83f34c 102px,#85f44b 108px,#88f44b 114px,#8bf44b 120px,#8df44b 126px,#90f44b 132px,#93f44b 138px,#95f54b 144px,#98f54b 150px,#9af54b 156px,#9df54b 162px,#9ff54b 168px,#a2f54b 174px,#a4f64b 180px,#a6f64b 186px,#a8f64b 192px,#a9f64b 198px,#abf64b 204px,#acf64a 210px,#adf64a 216px)"></div><div class="row" style="top:9px;height:4px;background:linear-gradient(90deg,#62f154 0px,#63f153 6px,#64f153 12px,#65f152 18px,#66f152 24px,#68f252 30px,#6af251 36px,#6bf251 42px,#6df250 48px,#70f250 54px,#72f24f 60px,#74f24f 66px,#77f34e 72px,#79f34e 78px,#7cf34d 84px,#7ef34d 90px,#81f34d 96px,#83f34d 102px,#86f44d 108px,#89f44d 114px,#8bf44d 120px,#8ef44d 126px,#91f44d 132px,#93f54d 138px,#96f54d 144px,#99f54d 150px,#9bf54d 156px,#9ef54d 162px,#a0f54d 168px,#a2f64d 174px,#a4f64c 180px,#a6f64c 186px,#a8f64c 192px,#aaf64c 198px,#abf64c 204px,#adf64c 210px,#aef64c 216px)"></div><div class="row" style="top:12px;height:4px;background:linear-gradient(90deg,#62f155 0px,#63f154 6px,#64f154 12px,#65f154 18px,#66f153 24px,#68f253 30px,#6af252 36px,#6cf252 42px,#6ef251 48px,#70f251 54px,#72f250 60px,#74f250 66px,#77f34f 72px,#79f34f 78px,#7cf34f 84px,#7ff34e 90px,#81f34e 96px,#84f44e 102px,#86f44e 108px,#89f44e 114px,#8cf44e 120px,#8ff44e 126px,#91f54e 132px,#94f54e 138px,#97f54e 144px,#99f54e 150px,#9cf54e 156px,#9ef54e 162px,#a1f64e 168px,#a3f64e 174px,#a5f64e 180px,#a7f64e 186px,#a9f64e 192px,#aaf64e 198px,#acf64d 204px,#adf64d 210px,#aff64d 216px)"></div><div class="row" style="top:15px;height:4px;background:linear-gradient(90deg,#62f156 0px,#63f156 6px,#64f155 12px,#65f155 18px,#67f255 24px,#68f254 30px,#6af254 36px,#6cf253 42px,#6ef253 48px,#70f252 54px,#72f252 60px,#75f251 66px,#77f351 72px,#7af350 78px,#7cf350 84px,#7ff350 90px,#82f34f 96px,#84f44f 102px,#87f44f 108px,#8af44f 114px,#8cf44f 120px,#8ff44f 126px,#92f54f 132px,#95f54f 138px,#97f54f 144px,#9af54f 150px,#9cf54f 156px,#9ff64f 162px,#a1f64f 168px,#a3f64f 174px,#a6f64f 180px,#a8f64f 186px,#a9f64f 192px,#abf64f 198px,#adf64f 204px,#aef64f 210px,#aff74f 216px)"></div><div class="row" style="top:18px;height:4px;background:linear-gradient(90deg,#62f158 0px,#63f157 6px,#64f157 12px,#65f156 18px,#67f256 24px,#68f255 30px,#6af255 36px,#6cf254 42px,#6ef254 48px,#70f253 54px,#73f253 60px,#75f352 66px,#77f352 72px,#7af352 78px,#7df351 84px,#7ff351 90px,#82f451 96px,#85f451 102px,#88f450 108px,#8af450 114px,#8df450 120px,#90f550 126px,#93f551 132px,#95f551 138px,#98f551 144px,#9bf551 150px,#9df551 156px,#a0f651 162px,#a2f651 168px,#a4f651 174px,#a6f651 180px,#a8f651 186px,#aaf651 192px,#acf651 198px,#adf751 204px,#aff750 210px,#b0f750 216px)"></div><div class="row" style="top:21px;height:4px;background:linear-gradient(90deg,#62f159 0px,#63f159 6px,#64f158 12px,#66f258 18px,#67f257 24px,#69f257 30px,#6af256 36px,#6cf256 42px,#6ef255 48px,#70f255 54px,#73f254 60px,#75f354 66px,#78f353 72px,#7af353 78px,#7df353 84px,#80f352 90px,#83f452 96px,#85f452 102px,#88f452 108px,#8bf452 114px,#8ef452 120px,#90f552 126px,#93f552 132px,#96f552 138px,#99f552 144px,#9bf552 150px,#9ef652 156px,#a0f652 162px,#a3f652 168px,#a5f652 174px,#a7f652 180px,#a9f652 186px,#abf652 192px,#acf752 198px,#aef752 204px,#aff752 210px,#b1f752 216px)"></div><div class="row" style="top:24px;height:4px;background:linear-gradient(90deg,#62f15b 0px,#63f15a 6px,#64f25a 12px,#66f259 18px,#67f259 24px,#69f258 30px,#6af258 36px,#6cf257 42px,#6ef257 48px,#71f256 54px,#73f356 60px,#76f355 66px,#78f355 72px,#7bf354 78px,#7ef354 84px,#80f454 90px,#83f453 96px,#86f453 102px,#89f453 108px,#8cf453 114px,#8ef553 120px,#91f553 126px,#94f553 132px,#97f553 138px,#99f554 144px,#9cf654 150px,#9ef654 156px,#a1f654 162px,#a3f654 168px,#a5f654 174px,#a8f654 180px,#aaf654 186px,#abf754 192px,#adf754 198px,#aff754 204px,#b0f754 210px,#b1f754 216px)"></div><div class="row" style="top:27px;height:4px;background:linear-gradient(90deg,#63f15c 0px,#63f25c 6px,#65f25b 12px,#66f25b 18px,#67f25b 24px,#69f25a 30px,#6bf259 36px,#6df259 42px,#6ff258 48px,#71f258 54px,#73f357 60px,#76f357 66px,#78f356 72px,#7bf356 78px,#7ef355 84px,#81f455 90px,#84f455 96px,#86f455 102px,#89f455 108px,#8cf455 114px,#8ff555 120px,#92f555 126px,#95f555 132px,#97f555 138px,#9af655 144px,#9df655 150px,#9ff655 156px,#a2f655 162px,#a4f655 168px,#a6f656 174px,#a8f756 180px,#aaf756 186px,#acf756 192px,#aef755 198px,#aff755 204px,#b1f755 210px,#b2f755 216px)"></div><div class="row" style="top:30px;height:4px;background:linear-gradient(90deg,#63f15e 0px,#64f25e 6px,#65f25d 12px,#66f25d 18px,#67f25c 24px,#69f25c 30px,#6bf25b 36px,#6df25a 42px,#6ff25a 48px,#71f359 54px,#74f359 60px,#76f358 66px,#79f358 72px,#7cf357 78px,#7ef457 84px,#81f457 90px,#84f456 96px,#87f456 102px,#8af456 108px,#8df556 114px,#90f556 120px,#92f556 126px,#95f556 132px,#98f556 138px,#9bf657 144px,#9df657 150px,#a0f657 156px,#a2f657 162px,#a5f657 168px,#a7f657 174px,#a9f757 180px,#abf757 186px,#adf757 192px,#aef757 198px,#b0f757 204px,#b1f757 210px,#b3f757 216px)"></div><div class="row" style="top:33px;height:4px;background:linear-gradient(90deg,#63f260 0px,#64f25f 6px,#65f25f 12px,#66f25e 18px,#68f25e 24px,#69f25d 30px,#6bf25d 36px,#6df25c 42px,#6ff25b 48px,#71f35b 54px,#74f35a 60px,#76f35a 66px,#79f359 72px,#7cf359 78px,#7ff458 84px,#82f458 90px,#85f458 96px,#88f458 102px,#8af558 108px,#8df558 114px,#90f558 120px,#93f558 126px,#96f558 132px,#99f658 138px,#9bf658 144px,#9ef658 150px,#a1f658 156px,#a3f658 162px,#a5f659 168px,#a8f759 174px,#aaf759 180px,#acf759 186px,#aef759 192px,#aff759 198px,#b1f759 204px,#b2f759 210px,#b3f759 216px)"></div><div class="row" style="top:36px;height:4px;background:linear-gradient(90deg,#63f261 0px,#64f261 6px,#65f261 12px,#66f260 18px,#68f260 24px,#69f25f 30px,#6bf25e 36px,#6df25e 42px,#6ff35d 48px,#72f35c 54px,#74f35c 60px,#77f35b 66px,#7af35b 72px,#7cf45a 78px,#7ff45a 84px,#82f45a 90px,#85f459 96px,#88f459 102px,#8bf559 108px,#8ef559 114px,#91f559 120px,#94f559 126px,#97f559 132px,#9af659 138px,#9cf65a 144px,#9ff65a 150px,#a1f65a 156px,#a4f65a 162px,#a6f75a 168px,#a8f75a 174px,#abf75a 180px,#adf75a 186px,#aef75a 192px,#b0f75a 198px,#b2f75a 204px,#b3f75a 210px,#b4f75a 216px)"></div><div class="row" style="top:39px;height:4px;background:linear-gradient(90deg,#63f263 0px,#64f263 6px,#65f262 12px,#66f262 18px,#68f261 24px,#6af261 30px,#6bf260 36px,#6df25f 42px,#70f35f 48px,#72f35e 54px,#74f35e 60px,#77f35d 66px,#7af35c 72px,#7df45c 78px,#80f45b 84px,#83f45b 90px,#86f45b 96px,#89f55b 102px,#8cf55b 108px,#8ff55a 114px,#92f55b 120px,#95f55b 126px,#97f65b 132px,#9af65b 138px,#9df65b 144px,#a0f65b 150px,#a2f65b 156px,#a5f75c 162px,#a7f75c 168px,#a9f75c 174px,#abf75c 180px,#adf75c 186px,#aff75c 192px,#b1f75c 198px,#b2f75c 204px,#b4f85c 210px,#b5f85c 216px)"></div><div class="row" style="top:42px;height:4px;background:linear-gradient(90deg,#63f265 0px,#64f265 6px,#65f264 12px,#67f264 18px,#68f263 24px,#6af263 30px,#6cf262 36px,#6ef261 42px,#70f361 48px,#72f360 54px,#75f35f 60px,#77f35f 66px,#7af35e 72px,#7df45d 78px,#80f45d 84px,#83f45d 90px,#86f45c 96px,#89f55c 102px,#8cf55c 108px,#8ff55c 114px,#92f55c 120px,#95f65c 126px,#98f65c 132px,#9bf65c 138px,#9ef65d 144px,#a0f65d 150px,#a3f75d 156px,#a5f75d 162px,#a8f75d 168px,#aaf75d 174px,#acf75e 180px,#aef75e 186px,#b0f75e 192px,#b2f75e 198px,#b3f85e 204px,#b5f85e 210px,#b6f85e 216px)"></div><div class="row" style="top:45px;height:4px;background:linear-gradient(90deg,#63f267 0px,#64f267 6px,#66f266 12px,#67f266 18px,#68f265 24px,#6af264 30px,#6cf264 36px,#6ef363 42px,#70f362 48px,#72f362 54px,#75f361 60px,#78f360 66px,#7bf460 72px,#7df45f 78px,#81f45f 84px,#84f45e 90px,#87f45e 96px,#8af55e 102px,#8df55e 108px,#90f55e 114px,#93f55e 120px,#96f65e 126px,#99f65e 132px,#9cf65e 138px,#9ff65e 144px,#a1f65e 150px,#a4f75f 156px,#a6f75f 162px,#a9f75f 168px,#abf75f 174px,#adf75f 180px,#aff75f 186px,#b1f75f 192px,#b2f860 198px,#b4f860 204px,#b5f860 210px,#b7f860 216px)"></div><div class="row" style="top:48px;height:4px;background:linear-gradient(90deg,#64f269 0px,#65f268 6px,#66f268 12px,#67f267 18px,#68f267 24px,#6af266 30px,#6cf266 36px,#6ef365 42px,#70f364 48px,#73f363 54px,#75f363 60px,#78f362 66px,#7bf461 72px,#7ef461 78px,#81f460 84px,#84f460 90px,#87f560 96px,#8af55f 102px,#8df55f 108px,#91f55f 114px,#94f65f 120px,#97f65f 126px,#9af65f 132px,#9df65f 138px,#9ff660 144px,#a2f760 150px,#a5f760 156px,#a7f760 162px,#a9f760 168px,#acf761 174px,#aef761 180px,#b0f761 186px,#b2f861 192px,#b3f861 198px,#b5f861 204px,#b6f861 210px,#b8f861 216px)"></div><div class="row" style="top:51px;height:4px;background:linear-gradient(90deg,#64f26b 0px,#65f26a 6px,#66f26a 12px,#67f269 18px,#69f269 24px,#6af268 30px,#6cf267 36px,#6ef367 42px,#70f366 48px,#73f365 54px,#75f364 60px,#78f364 66px,#7bf463 72px,#7ef462 78px,#81f462 84px,#84f462 90px,#88f561 96px,#8bf561 102px,#8ef561 108px,#91f561 114px,#94f661 120px,#97f661 126px,#9af661 132px,#9df661 138px,#a0f661 144px,#a3f761 150px,#a5f762 156px,#a8f762 162px,#aaf762 168px,#acf762 174px,#aff762 180px,#b1f863 186px,#b2f863 192px,#b4f863 198px,#b6f863 204px,#b7f863 210px,#b8f863 216px)"></div><div class="row" style="top:54px;height:4px;background:linear-gradient(90deg,#64f26d 0px,#65f26c 6px,#66f26c 12px,#67f26b 18px,#69f26b 24px,#6af26a 30px,#6cf369 36px,#6ef369 42px,#71f368 48px,#73f367 54px,#76f366 60px,#78f466 66px,#7bf465 72px,#7ff464 78px,#82f464 84px,#85f463 90px,#88f563 96px,#8bf563 102px,#8ff562 108px,#92f562 114px,#95f662 120px,#98f662 126px,#9bf662 132px,#9ef663 138px,#a1f763 144px,#a4f763 150px,#a6f763 156px,#a9f763 162px,#abf764 168px,#adf764 174px,#aff864 180px,#b1f864 186px,#b3f864 192px,#b5f865 198px,#b6f865 204px,#b8f865 210px,#b9f865 216px)"></div><div class="row" style="top:57px;height:4px;background:linear-gradient(90deg,#64f26f 0px,#65f26e 6px,#66f26e 12px,#67f26d 18px,#69f26d 24px,#6af26c 30px,#6cf36b 36px,#6ef36b 42px,#71f36a 48px,#73f369 54px,#76f368 60px,#79f467 66px,#7cf467 72px,#7ff466 78px,#82f465 84px,#85f565 90px,#89f564 96px,#8cf564 102px,#8ff564 108px,#93f664 114px,#96f664 120px,#99f664 126px,#9cf664 132px,#9ff664 138px,#a2f764 144px,#a4f765 150px,#a7f765 156px,#aaf765 162px,#acf765 168px,#aef766 174px,#b0f866 180px,#b2f866 186px,#b4f866 192px,#b6f866 198px,#b7f866 204px,#b9f867 210px,#baf867 216px)"></div><div class="row" style="top:60px;height:4px;background:linear-gradient(90deg,#64f271 0px,#65f271 6px,#66f270 12px,#67f26f 18px,#69f26f 24px,#6bf26e 30px,#6cf36d 36px,#6ff36d 42px,#71f36c 48px,#73f36b 54px,#76f36a 60px,#79f469 66px,#7cf468 72px,#7ff468 78px,#82f467 84px,#86f567 90px,#89f566 96px,#8df566 102px,#90f566 108px,#93f666 114px,#96f666 120px,#9af666 126px,#9df666 132px,#a0f766 138px,#a2f766 144px,#a5f766 150px,#a8f766 156px,#aaf767 162px,#adf767 168px,#aff867 174px,#b1f867 180px,#b3f868 186px,#b5f868 192px,#b7f868 198px,#b8f868 204px,#baf868 210px,#bbf868 216px)"></div><div class="row" style="top:63px;height:4px;background:linear-gradient(90deg,#64f273 0px,#65f273 6px,#66f272 12px,#68f271 18px,#69f271 24px,#6bf270 30px,#6df36f 36px,#6ff36f 42px,#71f36e 48px,#74f36d 54px,#76f36c 60px,#79f46b 66px,#7cf46a 72px,#80f46a 78px,#83f469 84px,#86f568 90px,#8af568 96px,#8df568 102px,#90f567 108px,#94f667 114px,#97f667 120px,#9af667 126px,#9df667 132px,#a0f767 138px,#a3f768 144px,#a6f768 150px,#a9f768 156px,#abf768 162px,#aef869 168px,#b0f869 174px,#b2f869 180px,#b4f869 186px,#b6f86a 192px,#b8f86a 198px,#b9f86a 204px,#bbf86a 210px,#bcf86a 216px)"></div><div class="row" style="top:66px;height:4px;background:linear-gradient(90deg,#64f275 0px,#65f275 6px,#66f274 12px,#68f274 18px,#69f273 24px,#6bf372 30px,#6df371 36px,#6ff371 42px,#71f370 48px,#74f36f 54px,#76f36e 60px,#79f46d 66px,#7df46c 72px,#80f46b 78px,#83f46b 84px,#87f56a 90px,#8af56a 96px,#8ef569 102px,#91f669 108px,#94f669 114px,#98f669 120px,#9bf669 126px,#9ef669 132px,#a1f769 138px,#a4f769 144px,#a7f76a 150px,#aaf76a 156px,#acf76a 162px,#aef86a 168px,#b1f86b 174px,#b3f86b 180px,#b5f86b 186px,#b7f86b 192px,#b8f86b 198px,#baf86c 204px,#bbf86c 210px,#bdf86c 216px)"></div><div class="row" style="top:69px;height:4px;background:linear-gradient(90deg,#65f277 0px,#66f277 6px,#67f276 12px,#68f276 18px,#69f275 24px,#6bf374 30px,#6df373 36px,#6ff373 42px,#71f372 48px,#74f371 54px,#77f370 60px,#7af46f 66px,#7df46e 72px,#80f46d 78px,#84f56d 84px,#87f56c 90px,#8bf56c 96px,#8ef56b 102px,#92f66b 108px,#95f66b 114px,#98f66b 120px,#9cf66b 126px,#9ff76b 132px,#a2f76b 138px,#a5f76b 144px,#a8f76b 150px,#aaf76b 156px,#adf86c 162px,#aff86c 168px,#b2f86c 174px,#b4f86d 180px,#b6f86d 186px,#b8f86d 192px,#b9f86d 198px,#bbf86d 204px,#bcf86e 210px,#bef96e 216px)"></div><div class="row" style="top:72px;height:4px;background:linear-gradient(90deg,#65f279 0px,#66f279 6px,#67f278 12px,#68f278 18px,#69f277 24px,#6bf376 30px,#6df375 36px,#6ff375 42px,#71f374 48px,#74f373 54px,#77f472 60px,#7af471 66px,#7df470 72px,#80f46f 78px,#84f56f 84px,#87f56e 90px,#8bf56d 96px,#8ff56d 102px,#92f66d 108px,#96f66c 114px,#99f66c 120px,#9cf66c 126px,#a0f76c 132px,#a3f76d 138px,#a6f76d 144px,#a9f76d 150px,#abf76d 156px,#aef86d 162px,#b0f86e 168px,#b2f86e 174px,#b5f86e 180px,#b7f86f 186px,#b8f86f 192px,#baf86f 198px,#bcf86f 204px,#bdf96f 210px,#bff970 216px)"></div><div class="row" style="top:75px;height:4px;background:linear-gradient(90deg,#65f27b 0px,#66f27b 6px,#67f27a 12px,#68f27a 18px,#69f279 24px,#6bf378 30px,#6df378 36px,#6ff377 42px,#72f376 48px,#74f375 54px,#77f474 60px,#7af473 66px,#7df472 72px,#81f471 78px,#84f571 84px,#88f570 90px,#8cf56f 96px,#8ff56f 102px,#93f66f 108px,#96f66e 114px,#9af66e 120px,#9df66e 126px,#a0f76e 132px,#a3f76e 138px,#a6f76f 144px,#a9f76f 150px,#acf76f 156px,#aff86f 162px,#b1f870 168px,#b3f870 174px,#b6f870 180px,#b8f870 186px,#b9f871 192px,#bbf871 198px,#bdf871 204px,#bef971 210px,#c0f971 216px)"></div><div class="row" style="top:78px;height:4px;background:linear-gradient(90deg,#65f27d 0px,#66f27d 6px,#67f27d 12px,#68f27c 18px,#6af27b 24px,#6bf37b 30px,#6df37a 36px,#6ff379 42px,#72f378 48px,#74f377 54px,#77f476 60px,#7af475 66px,#7ef474 72px,#81f473 78px,#85f573 84px,#88f572 90px,#8cf571 96px,#90f671 102px,#93f670 108px,#97f670 114px,#9af670 120px,#9ef770 126px,#a1f770 132px,#a4f770 138px,#a7f770 144px,#aaf771 150px,#adf871 156px,#b0f871 162px,#b2f871 168px,#b4f872 174px,#b6f872 180px,#b8f872 186px,#baf872 192px,#bcf873 198px,#bef973 204px,#bff973 210px,#c0f973 216px)"></div><div class="row" style="top:81px;height:4px;background:linear-gradient(90deg,#65f280 0px,#66f27f 6px,#67f27f 12px,#68f27e 18px,#6af27d 24px,#6bf37d 30px,#6df37c 36px,#6ff37b 42px,#72f37a 48px,#74f379 54px,#77f478 60px,#7bf477 66px,#7ef476 72px,#81f475 78px,#85f575 84px,#89f574 90px,#8cf573 96px,#90f673 102px,#94f672 108px,#97f672 114px,#9bf672 120px,#9ef772 126px,#a2f772 132px,#a5f772 138px,#a8f772 144px,#abf773 150px,#aef873 156px,#b0f873 162px,#b3f873 168px,#b5f873 174px,#b7f874 180px,#b9f874 186px,#bbf874 192px,#bdf974 198px,#bff975 204px,#c0f975 210px,#c1f975 216px)"></div><div class="row" style="top:84px;height:4px;background:linear-gradient(90deg,#65f282 0px,#66f281 6px,#67f281 12px,#68f280 18px,#6af280 24px,#6bf37f 30px,#6df37e 36px,#70f37d 42px,#72f37c 48px,#75f37b 54px,#78f47a 60px,#7bf479 66px,#7ef478 72px,#82f477 78px,#85f577 84px,#89f576 90px,#8df575 96px,#91f675 102px,#94f675 108px,#98f674 114px,#9cf674 120px,#9ff774 126px,#a3f774 132px,#a6f774 138px,#a9f774 144px,#acf774 150px,#aff875 156px,#b1f875 162px,#b4f875 168px,#b6f875 174px,#b8f876 180px,#baf876 186px,#bcf876 192px,#bef976 198px,#bff977 204px,#c1f977 210px,#c2f977 216px)"></div><div class="row" style="top:87px;height:4px;background:linear-gradient(90deg,#65f284 0px,#66f283 6px,#67f283 12px,#68f282 18px,#6af282 24px,#6cf381 30px,#6ef380 36px,#70f37f 42px,#72f37e 48px,#75f37d 54px,#78f47c 60px,#7bf47b 66px,#7ef47b 72px,#82f47a 78px,#86f579 84px,#8af578 90px,#8df578 96px,#91f677 102px,#95f677 108px,#99f676 114px,#9cf676 120px,#a0f776 126px,#a3f776 132px,#a7f776 138px,#aaf776 144px,#adf876 150px,#aff877 156px,#b2f877 162px,#b5f877 168px,#b7f877 174px,#b9f878 180px,#bbf878 186px,#bdf878 192px,#bff978 198px,#c0f978 204px,#c2f979 210px,#c3f979 216px)"></div><div class="row" style="top:90px;height:4px;background:linear-gradient(90deg,#65f286 0px,#66f285 6px,#67f285 12px,#69f284 18px,#6af284 24px,#6cf383 30px,#6ef382 36px,#70f381 42px,#72f381 48px,#75f380 54px,#78f47f 60px,#7bf47e 66px,#7ff47d 72px,#82f47c 78px,#86f57b 84px,#8af57a 90px,#8ef57a 96px,#92f679 102px,#96f679 108px,#99f678 114px,#9df678 120px,#a1f778 126px,#a4f778 132px,#a7f778 138px,#aaf778 144px,#adf878 150px,#b0f879 156px,#b3f879 162px,#b5f879 168px,#b8f879 174px,#baf879 180px,#bcf87a 186px,#bef97a 192px,#c0f97a 198px,#c1f97a 204px,#c3f97b 210px,#c4f97b 216px)"></div><div class="row" style="top:93px;height:4px;background:linear-gradient(90deg,#66f288 0px,#66f288 6px,#67f287 12px,#69f287 18px,#6af286 24px,#6cf385 30px,#6ef384 36px,#70f384 42px,#72f383 48px,#75f382 54px,#78f481 60px,#7bf480 66px,#7ff47f 72px,#83f47e 78px,#86f57d 84px,#8af57d 90px,#8ef57c 96px,#92f67b 102px,#96f67b 108px,#9af67b 114px,#9ef77a 120px,#a1f77a 126px,#a5f77a 132px,#a8f77a 138px,#abf77a 144px,#aef87a 150px,#b1f87b 156px,#b4f87b 162px,#b6f87b 168px,#b9f87b 174px,#bbf87b 180px,#bdf87c 186px,#bff97c 192px,#c1f97c 198px,#c2f97c 204px,#c4f97d 210px,#c5f97d 216px)"></div><div class="row" style="top:96px;height:4px;background:linear-gradient(90deg,#66f28a 0px,#67f28a 6px,#68f289 12px,#69f289 18px,#6af288 24px,#6cf387 30px,#6ef387 36px,#70f386 42px,#73f385 48px,#75f384 54px,#78f483 60px,#7cf482 66px,#7ff481 72px,#83f480 78px,#87f580 84px,#8bf57f 90px,#8ff57e 96px,#93f67e 102px,#97f67d 108px,#9bf67d 114px,#9ef77d 120px,#a2f77c 126px,#a5f77c 132px,#a9f77c 138px,#acf77c 144px,#aff87d 150px,#b2f87d 156px,#b5f87d 162px,#b7f87d 168px,#baf87d 174px,#bcf87d 180px,#bef87e 186px,#c0f97e 192px,#c1f97e 198px,#c3f97e 204px,#c5f97e 210px,#c6f97f 216px)"></div><div class="row" style="top:99px;height:4px;background:linear-gradient(90deg,#66f28c 0px,#67f28c 6px,#68f28b 12px,#69f28b 18px,#6af28a 24px,#6cf38a 30px,#6ef389 36px,#70f388 42px,#73f387 48px,#76f386 54px,#79f485 60px,#7cf484 66px,#80f484 72px,#83f583 78px,#87f582 84px,#8bf581 90px,#8ff580 96px,#93f680 102px,#97f67f 108px,#9bf67f 114px,#9ff77f 120px,#a3f77f 126px,#a6f77f 132px,#aaf77f 138px,#adf87f 144px,#b0f87f 150px,#b3f87f 156px,#b5f87f 162px,#b8f87f 168px,#baf87f 174px,#bdf87f 180px,#bff980 186px,#c1f980 192px,#c2f980 198px,#c4f980 204px,#c5f980 210px,#c7f981 216px)"></div><div class="row" style="top:102px;height:4px;background:linear-gradient(90deg,#66f28e 0px,#67f28e 6px,#68f28d 12px,#69f28d 18px,#6bf28c 24px,#6cf38c 30px,#6ef38b 36px,#70f38a 42px,#73f389 48px,#76f388 54px,#79f488 60px,#7cf487 66px,#80f486 72px,#84f585 78px,#88f584 84px,#8cf583 90px,#90f583 96px,#94f682 102px,#98f682 108px,#9cf681 114px,#a0f781 120px,#a3f781 126px,#a7f781 132px,#aaf781 138px,#aef881 144px,#b1f881 150px,#b3f881 156px,#b6f881 162px,#b9f881 168px,#bbf881 174px,#bdf881 180px,#bff982 186px,#c1f982 192px,#c3f982 198px,#c5f982 204px,#c6f982 210px,#c8f982 216px)"></div><div class="row" style="top:105px;height:4px;background:linear-gradient(90deg,#66f290 0px,#67f290 6px,#68f28f 12px,#69f28f 18px,#6bf28e 24px,#6cf28e 30px,#6ef38d 36px,#71f38c 42px,#73f38c 48px,#76f38b 54px,#79f48a 60px,#7cf489 66px,#80f488 72px,#84f587 78px,#88f586 84px,#8cf586 90px,#90f585 96px,#94f684 102px,#98f684 108px,#9cf684 114px,#a0f783 120px,#a4f783 126px,#a8f783 132px,#abf783 138px,#aef883 144px,#b1f883 150px,#b4f883 156px,#b7f883 162px,#baf883 168px,#bcf883 174px,#bef883 180px,#c0f984 186px,#c2f984 192px,#c4f984 198px,#c6f984 204px,#c7f984 210px,#c8f984 216px)"></div><div class="row" style="top:108px;height:4px;background:linear-gradient(90deg,#66f292 0px,#67f292 6px,#68f291 12px,#69f291 18px,#6bf290 24px,#6df290 30px,#6ff38f 36px,#71f38e 42px,#73f38e 48px,#76f38d 54px,#79f48c 60px,#7df48b 66px,#80f48a 72px,#84f589 78px,#88f589 84px,#8cf588 90px,#91f687 96px,#95f687 102px,#99f686 108px,#9df686 114px,#a1f786 120px,#a5f785 126px,#a8f785 132px,#acf785 138px,#aff885 144px,#b2f885 150px,#b5f885 156px,#b8f885 162px,#baf885 168px,#bdf885 174px,#bff885 180px,#c1f986 186px,#c3f986 192px,#c5f986 198px,#c6f986 204px,#c8f986 210px,#c9f986 216px)"></div><div class="row" style="top:111px;height:4px;background:linear-gradient(90deg,#66f294 0px,#67f294 6px,#68f293 12px,#6af293 18px,#6bf292 24px,#6df292 30px,#6ff391 36px,#71f391 42px,#74f390 48px,#76f38f 54px,#7af48e 60px,#7df48d 66px,#81f48c 72px,#85f58c 78px,#89f58b 84px,#8df58a 90px,#91f68a 96px,#95f689 102px,#99f688 108px,#9df688 114px,#a1f788 120px,#a5f787 126px,#a9f787 132px,#acf787 138px,#b0f887 144px,#b3f887 150px,#b6f887 156px,#b8f887 162px,#bbf887 168px,#bdf887 174px,#c0f887 180px,#c2f987 186px,#c4f988 192px,#c5f988 198px,#c7f988 204px,#c9f988 210px,#caf988 216px)"></div><div class="row" style="top:114px;height:4px;background:linear-gradient(90deg,#66f296 0px,#67f296 6px,#68f295 12px,#6af295 18px,#6bf294 24px,#6df294 30px,#6ff393 36px,#71f393 42px,#74f392 48px,#77f391 54px,#7af490 60px,#7df48f 66px,#81f48f 72px,#85f58e 78px,#89f58d 84px,#8df58c 90px,#91f68c 96px,#96f68b 102px,#9af68b 108px,#9ef68a 114px,#a2f78a 120px,#a6f78a 126px,#a9f789 132px,#adf789 138px,#b0f889 144px,#b3f889 150px,#b6f889 156px,#b9f889 162px,#bcf889 168px,#bef889 174px,#c0f989 180px,#c2f989 186px,#c4f989 192px,#c6f98a 198px,#c8f98a 204px,#c9f98a 210px,#cbf98a 216px)"></div><div class="row" style="top:117px;height:4px;background:linear-gradient(90deg,#67f298 0px,#68f298 6px,#69f297 12px,#6af297 18px,#6bf296 24px,#6df296 30px,#6ff395 36px,#71f395 42px,#74f394 48px,#77f393 54px,#7af492 60px,#7ef492 66px,#81f491 72px,#85f590 78px,#89f58f 84px,#8ef58f 90px,#92f68e 96px,#96f68d 102px,#9af68d 108px,#9ef68c 114px,#a2f78c 120px,#a6f78c 126px,#aaf78c 132px,#adf78b 138px,#b1f88b 144px,#b4f88b 150px,#b7f88b 156px,#baf88b 162px,#bcf88b 168px,#bff88b 174px,#c1f98b 180px,#c3f98b 186px,#c5f98b 192px,#c7f98b 198px,#c8f98b 204px,#caf98b 210px,#cbf98c 216px)"></div><div class="row" style="top:120px;height:4px;background:linear-gradient(90deg,#67f29a 0px,#68f299 6px,#69f299 12px,#6af299 18px,#6cf298 24px,#6df298 30px,#6ff397 36px,#72f396 42px,#74f396 48px,#77f395 54px,#7af494 60px,#7ef494 66px,#82f493 72px,#86f592 78px,#8af591 84px,#8ef591 90px,#92f690 96px,#96f68f 102px,#9bf68f 108px,#9ff68e 114px,#a3f78e 120px,#a7f78e 126px,#aaf78e 132px,#aef78d 138px,#b1f88d 144px,#b4f88d 150px,#b7f88d 156px,#baf88d 162px,#bdf88d 168px,#bff88d 174px,#c1f98d 180px,#c4f98d 186px,#c5f98d 192px,#c7f98d 198px,#c9f98d 204px,#caf98d 210px,#ccf98d 216px)"></div><div class="row" style="top:123px;height:4px;background:linear-gradient(90deg,#67f29b 0px,#68f29b 6px,#69f29b 12px,#6af29a 18px,#6cf29a 24px,#6ef299 30px,#70f399 36px,#72f398 42px,#75f398 48px,#78f397 54px,#7bf496 60px,#7ef496 66px,#82f495 72px,#86f594 78px,#8af593 84px,#8ef593 90px,#93f692 96px,#97f691 102px,#9bf691 108px,#9ff790 114px,#a3f790 120px,#a7f790 126px,#abf78f 132px,#aef78f 138px,#b2f88f 144px,#b5f88f 150px,#b8f88f 156px,#bbf88f 162px,#bdf88f 168px,#c0f88f 174px,#c2f98f 180px,#c4f98f 186px,#c6f98f 192px,#c8f98f 198px,#caf98f 204px,#cbf98f 210px,#ccf98f 216px)"></div><div class="row" style="top:126px;height:4px;background:linear-gradient(90deg,#67f29d 0px,#68f29d 6px,#69f29c 12px,#6af29c 18px,#6cf29c 24px,#6ef29b 30px,#70f39b 36px,#72f39a 42px,#75f39a 48px,#78f399 54px,#7bf498 60px,#7ff497 66px,#82f497 72px,#86f596 78px,#8af595 84px,#8ff595 90px,#93f694 96px,#97f693 102px,#9bf693 108px,#a0f792 114px,#a4f792 120px,#a7f792 126px,#abf791 132px,#aff791 138px,#b2f891 144px,#b5f891 150px,#b8f891 156px,#bbf891 162px,#bef890 168px,#c0f890 174px,#c2f990 180px,#c5f990 186px,#c7f990 192px,#c8f990 198px,#caf990 204px,#ccf990 210px,#cdf990 216px)"></div><div class="row" style="top:129px;height:4px;background:linear-gradient(90deg,#67f29f 0px,#68f29e 6px,#69f29e 12px,#6bf29e 18px,#6cf29d 24px,#6ef29d 30px,#70f39c 36px,#72f39c 42px,#75f39b 48px,#78f39b 54px,#7bf49a 60px,#7ff499 66px,#83f498 72px,#87f598 78px,#8bf597 84px,#8ff596 90px,#93f696 96px,#98f695 102px,#9cf695 108px,#a0f794 114px,#a4f794 120px,#a8f793 126px,#abf793 132px,#aff893 138px,#b2f893 144px,#b6f892 150px,#b9f892 156px,#bbf892 162px,#bef892 168px,#c1f892 174px,#c3f992 180px,#c5f992 186px,#c7f992 192px,#c9f992 198px,#caf992 204px,#ccf992 210px,#cdf992 216px)"></div><div class="row" style="top:132px;height:4px;background:linear-gradient(90deg,#67f2a0 0px,#68f2a0 6px,#6af2a0 12px,#6bf29f 18px,#6cf29f 24px,#6ef29f 30px,#70f39e 36px,#73f39d 42px,#75f39d 48px,#78f39c 54px,#7cf49c 60px,#7ff49b 66px,#83f49a 72px,#87f599 78px,#8bf599 84px,#8ff598 90px,#94f698 96px,#98f697 102px,#9cf696 108px,#a0f796 114px,#a4f796 120px,#a8f795 126px,#acf795 132px,#aff895 138px,#b3f894 144px,#b6f894 150px,#b9f894 156px,#bcf894 162px,#bef894 168px,#c1f894 174px,#c3f994 180px,#c5f994 186px,#c7f993 192px,#c9f993 198px,#cbf993 204px,#ccf993 210px,#cef993 216px)"></div><div class="row" style="top:135px;height:4px;background:linear-gradient(90deg,#68f2a2 0px,#69f2a1 6px,#6af2a1 12px,#6bf2a1 18px,#6df2a0 24px,#6ef2a0 30px,#71f2a0 36px,#73f39f 42px,#76f39e 48px,#79f39e 54px,#7cf49d 60px,#80f49c 66px,#83f49c 72px,#87f59b 78px,#8bf59a 84px,#90f59a 90px,#94f699 96px,#98f699 102px,#9cf698 108px,#a1f798 114px,#a5f797 120px,#a8f797 126px,#acf796 132px,#b0f896 138px,#b3f896 144px,#b6f896 150px,#b9f895 156px,#bcf895 162px,#bff895 168px,#c1f895 174px,#c4f995 180px,#c6f995 186px,#c8f995 192px,#caf995 198px,#cbf995 204px,#cdf995 210px,#cef995 216px)"></div><div class="row" style="top:138px;height:4px;background:linear-gradient(90deg,#68f2a3 0px,#69f2a3 6px,#6af2a3 12px,#6bf2a2 18px,#6df2a2 24px,#6ff2a1 30px,#71f2a1 36px,#73f3a1 42px,#76f3a0 48px,#79f39f 54px,#7cf49f 60px,#80f49e 66px,#84f49d 72px,#88f59d 78px,#8cf59c 84px,#90f59b 90px,#94f69b 96px,#98f69a 102px,#9df69a 108px,#a1f799 114px,#a5f799 120px,#a9f798 126px,#acf798 132px,#b0f898 138px,#b3f897 144px,#b6f897 150px,#b9f897 156px,#bcf897 162px,#bff897 168px,#c2f897 174px,#c4f996 180px,#c6f996 186px,#c8f996 192px,#caf996 198px,#ccf996 204px,#cdf996 210px,#cff996 216px)"></div><div class="row" style="top:141px;height:4px;background:linear-gradient(90deg,#68f2a4 0px,#69f2a4 6px,#6af2a4 12px,#6bf2a4 18px,#6df2a3 24px,#6ff2a3 30px,#71f2a2 36px,#74f3a2 42px,#76f3a1 48px,#79f3a1 54px,#7df4a0 60px,#80f49f 66px,#84f49f 72px,#88f59e 78px,#8cf59d 84px,#90f59d 90px,#95f69c 96px,#99f69c 102px,#9df69b 108px,#a1f79a 114px,#a5f79a 120px,#a9f79a 126px,#adf799 132px,#b0f899 138px,#b3f899 144px,#b7f898 150px,#baf898 156px,#bdf898 162px,#bff898 168px,#c2f898 174px,#c4f998 180px,#c6f998 186px,#c8f998 192px,#caf998 198px,#ccf997 204px,#cef997 210px,#cff997 216px)"></div><div class="row" style="top:144px;height:4px;background:linear-gradient(90deg,#68f1a6 0px,#69f2a6 6px,#6af2a5 12px,#6cf2a5 18px,#6df2a5 24px,#6ff2a4 30px,#71f2a4 36px,#74f3a3 42px,#77f3a3 48px,#7af3a2 54px,#7df4a1 60px,#80f4a1 66px,#84f4a0 72px,#88f59f 78px,#8cf59f 84px,#91f59e 90px,#95f69d 96px,#99f69d 102px,#9df69c 108px,#a1f79c 114px,#a5f79b 120px,#a9f79b 126px,#adf79b 132px,#b0f89a 138px,#b4f89a 144px,#b7f89a 150px,#baf89a 156px,#bdf899 162px,#bff899 168px,#c2f899 174px,#c4f999 180px,#c7f999 186px,#c9f999 192px,#caf999 198px,#ccf999 204px,#cef999 210px,#cff999 216px)"></div><div class="row" style="top:147px;height:4px;background:linear-gradient(90deg,#68f1a7 0px,#69f2a7 6px,#6af2a6 12px,#6cf2a6 18px,#6df2a6 24px,#6ff2a5 30px,#72f2a5 36px,#74f3a4 42px,#77f3a4 48px,#7af3a3 54px,#7df4a3 60px,#81f4a2 66px,#85f4a1 72px,#89f5a1 78px,#8df5a0 84px,#91f59f 90px,#95f69f 96px,#99f69e 102px,#9df69e 108px,#a1f79d 114px,#a5f79d 120px,#a9f79c 126px,#adf79c 132px,#b0f89b 138px,#b4f89b 144px,#b7f89b 150px,#baf89b 156px,#bdf89a 162px,#c0f89a 168px,#c2f89a 174px,#c4f99a 180px,#c7f99a 186px,#c9f99a 192px,#cbf99a 198px,#ccf99a 204px,#cef99a 210px,#d0f99a 216px)"></div><div class="row" style="top:150px;height:4px;background:linear-gradient(90deg,#68f1a8 0px,#69f2a8 6px,#6bf2a8 12px,#6cf2a7 18px,#6ef2a7 24px,#70f2a7 30px,#72f2a6 36px,#74f3a6 42px,#77f3a5 48px,#7af3a4 54px,#7df4a4 60px,#81f4a3 66px,#85f4a2 72px,#89f5a2 78px,#8df5a1 84px,#91f5a0 90px,#95f6a0 96px,#99f69f 102px,#9ef69f 108px,#a2f79e 114px,#a5f79e 120px,#a9f79d 126px,#adf79d 132px,#b1f89d 138px,#b4f89c 144px,#b7f89c 150px,#baf89c 156px,#bdf89c 162px,#c0f89b 168px,#c2f89b 174px,#c5f89b 180px,#c7f99b 186px,#c9f99b 192px,#cbf99b 198px,#cdf99b 204px,#cef99b 210px,#d0f99b 216px)"></div></div><div class="abs" style="left:289px;top:578px;width:214px;height:153px;overflow:hidden"><div class="row" style="top:0px;height:4px;background:linear-gradient(90deg,#e6dd5a 0px,#e6dc5a 6px,#e7db59 12px,#e8da59 18px,#e9d858 24px,#e9d758 30px,#ead557 36px,#ebd357 42px,#ecd256 48px,#edd055 54px,#eece55 60px,#efcc54 66px,#f0ca53 72px,#f0c752 78px,#f1c552 84px,#f2c351 90px,#f3c150 96px,#f4be4f 102px,#f4bc4e 108px,#f5b94d 114px,#f5b74c 120px,#f6b44c 126px,#f6b24b 132px,#f7b04a 138px,#f7ad49 144px,#f8ab48 150px,#f8a947 156px,#f8a746 162px,#f9a545 168px,#f9a345 174px,#f9a144 180px,#f99f43 186px,#f99e42 192px,#f99c42 198px,#f99b41 204px,#f99a41 210px,#f99840 216px)"></div><div class="row" style="top:3px;height:4px;background:linear-gradient(90deg,#e6dc5b 0px,#e7db5b 6px,#e7da5a 12px,#e8d95a 18px,#e9d759 24px,#ead659 30px,#ebd458 36px,#ebd357 42px,#ecd157 48px,#edcf56 54px,#eecd55 60px,#efcb55 66px,#f0c954 72px,#f1c753 78px,#f1c452 84px,#f2c252 90px,#f3c051 96px,#f4bd50 102px,#f4bb4f 108px,#f5b94e 114px,#f6b64d 120px,#f6b44c 126px,#f7b14b 132px,#f7af4b 138px,#f7ad4a 144px,#f8ab49 150px,#f8a848 156px,#f8a647 162px,#f9a446 168px,#f9a245 174px,#f9a145 180px,#f99f44 186px,#f99d43 192px,#f99c43 198px,#f99a42 204px,#f99941 210px,#f99841 216px)"></div><div class="row" style="top:6px;height:4px;background:linear-gradient(90deg,#e7db5c 0px,#e7da5c 6px,#e8d95b 12px,#e9d85b 18px,#e9d65a 24px,#ead55a 30px,#ebd359 36px,#ecd258 42px,#edd058 48px,#eece57 54px,#eecc56 60px,#efca56 66px,#f0c855 72px,#f1c654 78px,#f2c453 84px,#f2c152 90px,#f3bf52 96px,#f4bd51 102px,#f4ba50 108px,#f5b84f 114px,#f6b54e 120px,#f6b34d 126px,#f7b14c 132px,#f7ae4b 138px,#f7ac4a 144px,#f8aa4a 150px,#f8a849 156px,#f8a648 162px,#f9a447 168px,#f9a246 174px,#f9a045 180px,#f99e45 186px,#f99d44 192px,#f99b43 198px,#f99a43 204px,#f99842 210px,#f99742 216px)"></div><div class="row" style="top:9px;height:4px;background:linear-gradient(90deg,#e7da5e 0px,#e8d95d 6px,#e8d85d 12px,#e9d75c 18px,#ead55b 24px,#ebd45b 30px,#ebd25a 36px,#ecd159 42px,#edcf59 48px,#eecd58 54px,#efcb57 60px,#efc957 66px,#f0c756 72px,#f1c555 78px,#f2c354 84px,#f3c053 90px,#f3be52 96px,#f4bc52 102px,#f5b951 108px,#f5b750 114px,#f6b54f 120px,#f6b24e 126px,#f7b04d 132px,#f7ae4c 138px,#f7ab4b 144px,#f8a94a 150px,#f8a749 156px,#f8a549 162px,#f9a348 168px,#f9a147 174px,#f99f46 180px,#f99e45 186px,#f99c45 192px,#f99b44 198px,#f99943 204px,#f99843 210px,#f99742 216px)"></div><div class="row" style="top:12px;height:4px;background:linear-gradient(90deg,#e8d95f 0px,#e8d85e 6px,#e9d75e 12px,#ead65d 18px,#ead45d 24px,#ebd35c 30px,#ecd15b 36px,#edd05b 42px,#edce5a 48px,#eecc59 54px,#efca58 60px,#f0c858 66px,#f1c657 72px,#f1c456 78px,#f2c255 84px,#f3c054 90px,#f3bd53 96px,#f4bb52 102px,#f5b952 108px,#f5b651 114px,#f6b450 120px,#f6b14f 126px,#f7af4e 132px,#f7ad4d 138px,#f7ab4c 144px,#f8a84b 150px,#f8a64a 156px,#f8a449 162px,#f9a249 168px,#f9a048 174px,#f99f47 180px,#f99d46 186px,#f99b46 192px,#f99a45 198px,#f99844 204px,#f99744 210px,#f99643 216px)"></div><div class="row" style="top:15px;height:4px;background:linear-gradient(90deg,#e8d860 0px,#e9d75f 6px,#e9d65f 12px,#ead55e 18px,#ebd35e 24px,#ebd25d 30px,#ecd05c 36px,#edcf5c 42px,#eecd5b 48px,#eecb5a 54px,#efc959 60px,#f0c759 66px,#f1c558 72px,#f1c357 78px,#f2c156 84px,#f3bf55 90px,#f4bc54 96px,#f4ba53 102px,#f5b852 108px,#f5b552 114px,#f6b351 120px,#f6b150 126px,#f7ae4f 132px,#f7ac4e 138px,#f7aa4d 144px,#f8a84c 150px,#f8a64b 156px,#f8a44a 162px,#f9a249 168px,#f9a049 174px,#f99e48 180px,#f99c47 186px,#f99b47 192px,#f99946 198px,#f99845 204px,#f99745 210px,#f99544 216px)"></div><div class="row" style="top:18px;height:4px;background:linear-gradient(90deg,#e9d761 0px,#e9d661 6px,#ead560 12px,#ebd360 18px,#ebd25f 24px,#ecd15e 30px,#edcf5e 36px,#edce5d 42px,#eecc5c 48px,#efca5b 54px,#f0c85b 60px,#f0c65a 66px,#f1c459 72px,#f2c258 78px,#f2c057 84px,#f3be56 90px,#f4bb55 96px,#f4b954 102px,#f5b753 108px,#f5b453 114px,#f6b252 120px,#f6b051 126px,#f7ae50 132px,#f7ab4f 138px,#f8a94e 144px,#f8a74d 150px,#f8a54c 156px,#f8a34b 162px,#f9a14a 168px,#f99f4a 174px,#f99d49 180px,#f99b48 186px,#f99a47 192px,#f99847 198px,#f99746 204px,#f99646 210px,#f99545 216px)"></div><div class="row" style="top:21px;height:4px;background:linear-gradient(90deg,#e9d663 0px,#ead562 6px,#ead462 12px,#ebd261 18px,#ecd160 24px,#ecd060 30px,#edce5f 36px,#eecd5e 42px,#eecb5d 48px,#efc95d 54px,#f0c75c 60px,#f1c55b 66px,#f1c35a 72px,#f2c159 78px,#f3bf58 84px,#f3bd57 90px,#f4ba56 96px,#f4b855 102px,#f5b655 108px,#f6b454 114px,#f6b153 120px,#f6af52 126px,#f7ad51 132px,#f7aa50 138px,#f8a84f 144px,#f8a64e 150px,#f8a44d 156px,#f8a24c 162px,#f9a04b 168px,#f99e4b 174px,#f99c4a 180px,#f99b49 186px,#f99948 192px,#f99848 198px,#f99647 204px,#f99547 210px,#f99446 216px)"></div><div class="row" style="top:24px;height:4px;background:linear-gradient(90deg,#ead464 0px,#ead364 6px,#ebd263 12px,#ebd162 18px,#ecd062 24px,#edcf61 30px,#edcd60 36px,#eecb5f 42px,#efca5f 48px,#efc85e 54px,#f0c65d 60px,#f1c45c 66px,#f2c25b 72px,#f2c05a 78px,#f3be59 84px,#f3bc58 90px,#f4b958 96px,#f5b757 102px,#f5b556 108px,#f6b355 114px,#f6b054 120px,#f7ae53 126px,#f7ac52 132px,#f7aa51 138px,#f8a750 144px,#f8a54f 150px,#f8a34e 156px,#f8a14d 162px,#f89f4c 168px,#f99d4c 174px,#f99c4b 180px,#f99a4a 186px,#f9984a 192px,#f99749 198px,#f99648 204px,#f99448 210px,#f99347 216px)"></div><div class="row" style="top:27px;height:4px;background:linear-gradient(90deg,#ead366 0px,#ebd265 6px,#ebd164 12px,#ecd064 18px,#edcf63 24px,#edcd62 30px,#eecc61 36px,#eeca61 42px,#efc960 48px,#f0c75f 54px,#f0c55e 60px,#f1c35d 66px,#f2c15c 72px,#f2bf5c 78px,#f3bd5b 84px,#f4bb5a 90px,#f4b859 96px,#f5b658 102px,#f5b457 108px,#f6b256 114px,#f6af55 120px,#f7ad54 126px,#f7ab53 132px,#f7a952 138px,#f8a651 144px,#f8a450 150px,#f8a24f 156px,#f8a04e 162px,#f89e4e 168px,#f99d4d 174px,#f99b4c 180px,#f9994b 186px,#f9984b 192px,#f9964a 198px,#f99549 204px,#f99449 210px,#f99349 216px)"></div><div class="row" style="top:30px;height:4px;background:linear-gradient(90deg,#ebd267 0px,#ebd166 6px,#ecd066 12px,#eccf65 18px,#edcd64 24px,#eecc64 30px,#eecb63 36px,#efc962 42px,#efc761 48px,#f0c660 54px,#f1c460 60px,#f1c25f 66px,#f2c05e 72px,#f3be5d 78px,#f3bc5c 84px,#f4ba5b 90px,#f4b75a 96px,#f5b559 102px,#f5b358 108px,#f6b157 114px,#f6ae56 120px,#f7ac55 126px,#f7aa54 132px,#f7a853 138px,#f8a652 144px,#f8a351 150px,#f8a150 156px,#f89f50 162px,#f89d4f 168px,#f99c4e 174px,#f99a4d 180px,#f9984c 186px,#f9974c 192px,#f9954b 198px,#f9944b 204px,#f9934a 210px,#f9924a 216px)"></div><div class="row" style="top:33px;height:4px;background:linear-gradient(90deg,#ebd169 0px,#ecd068 6px,#eccf67 12px,#edcd67 18px,#edcc66 24px,#eecb65 30px,#efc964 36px,#efc864 42px,#f0c663 48px,#f0c462 54px,#f1c361 60px,#f2c160 66px,#f2bf5f 72px,#f3bd5e 78px,#f3bb5d 84px,#f4b85c 90px,#f4b65b 96px,#f5b45a 102px,#f5b259 108px,#f6b058 114px,#f6ad57 120px,#f7ab56 126px,#f7a955 132px,#f7a754 138px,#f8a553 144px,#f8a253 150px,#f8a052 156px,#f89e51 162px,#f89d50 168px,#f99b4f 174px,#f9994e 180px,#f9974e 186px,#f9964d 192px,#f9954c 198px,#f9934c 204px,#f9924b 210px,#f9914b 216px)"></div><div class="row" style="top:36px;height:4px;background:linear-gradient(90deg,#eccf6a 0px,#ecce6a 6px,#edcd69 12px,#edcc68 18px,#eecb68 24px,#eeca67 30px,#efc866 36px,#f0c765 42px,#f0c564 48px,#f1c363 54px,#f1c162 60px,#f2c061 66px,#f2be61 72px,#f3bc60 78px,#f4b95f 84px,#f4b75e 90px,#f5b55d 96px,#f5b35c 102px,#f6b15b 108px,#f6ae5a 114px,#f6ac59 120px,#f7aa58 126px,#f7a857 132px,#f7a656 138px,#f8a455 144px,#f8a254 150px,#f8a053 156px,#f89e52 162px,#f89c51 168px,#f99a50 174px,#f99850 180px,#f9974f 186px,#f9954e 192px,#f9944e 198px,#f9924d 204px,#f9914d 210px,#f9904c 216px)"></div><div class="row" style="top:39px;height:4px;background:linear-gradient(90deg,#edce6c 0px,#edcd6b 6px,#edcc6b 12px,#eecb6a 18px,#eeca69 24px,#efc868 30px,#efc767 36px,#f0c567 42px,#f0c466 48px,#f1c265 54px,#f2c064 60px,#f2be63 66px,#f3bc62 72px,#f3ba61 78px,#f4b860 84px,#f4b65f 90px,#f5b45e 96px,#f5b25d 102px,#f6b05c 108px,#f6ad5b 114px,#f6ab5a 120px,#f7a959 126px,#f7a758 132px,#f7a557 138px,#f8a356 144px,#f8a155 150px,#f89f54 156px,#f89d53 162px,#f89b53 168px,#f89952 174px,#f99751 180px,#f99650 186px,#f99450 192px,#f9934f 198px,#f9914f 204px,#f9904e 210px,#f98f4e 216px)"></div><div class="row" style="top:42px;height:4px;background:linear-gradient(90deg,#edcc6e 0px,#edcc6d 6px,#eecb6c 12px,#eec96c 18px,#efc86b 24px,#efc76a 30px,#f0c669 36px,#f0c468 42px,#f1c267 48px,#f1c166 54px,#f2bf65 60px,#f2bd65 66px,#f3bb64 72px,#f3b963 78px,#f4b762 84px,#f4b561 90px,#f5b360 96px,#f5b15f 102px,#f6ae5e 108px,#f6ac5d 114px,#f6aa5c 120px,#f7a85b 126px,#f7a659 132px,#f7a459 138px,#f8a258 144px,#f8a057 150px,#f89e56 156px,#f89c55 162px,#f89a54 168px,#f89853 174px,#f89652 180px,#f99552 186px,#f99351 192px,#f99251 198px,#f99150 204px,#f98f50 210px,#f98e4f 216px)"></div><div class="row" style="top:45px;height:4px;background:linear-gradient(90deg,#eecb70 0px,#eeca6f 6px,#eec96e 12px,#efc86d 18px,#efc76c 24px,#f0c66c 30px,#f0c46b 36px,#f1c36a 42px,#f1c169 48px,#f2bf68 54px,#f2be67 60px,#f3bc66 66px,#f3ba65 72px,#f4b864 78px,#f4b663 84px,#f5b462 90px,#f5b261 96px,#f5af60 102px,#f6ad5f 108px,#f6ab5e 114px,#f6a95d 120px,#f7a75c 126px,#f7a55b 132px,#f7a35a 138px,#f8a159 144px,#f89e58 150px,#f89d57 156px,#f89b56 162px,#f89955 168px,#f89755 174px,#f89554 180px,#f89453 186px,#f99253 192px,#f99152 198px,#f99052 204px,#f98e51 210px,#f98d51 216px)"></div><div class="row" style="top:48px;height:4px;background:linear-gradient(90deg,#eeca71 0px,#eec971 6px,#efc870 12px,#efc76f 18px,#f0c66e 24px,#f0c46d 30px,#f0c36c 36px,#f1c16c 42px,#f1c06b 48px,#f2be6a 54px,#f2bc69 60px,#f3ba68 66px,#f3b967 72px,#f4b766 78px,#f4b565 84px,#f5b264 90px,#f5b063 96px,#f5ae62 102px,#f6ac61 108px,#f6aa60 114px,#f7a85f 120px,#f7a65e 126px,#f7a45d 132px,#f7a15c 138px,#f89f5b 144px,#f89d5a 150px,#f89b59 156px,#f89a58 162px,#f89857 168px,#f89656 174px,#f89455 180px,#f89355 186px,#f89154 192px,#f89054 198px,#f98f53 204px,#f98d53 210px,#f98c52 216px)"></div><div class="row" style="top:51px;height:4px;background:linear-gradient(90deg,#eec873 0px,#efc772 6px,#efc672 12px,#f0c571 18px,#f0c470 24px,#f0c36f 30px,#f1c16e 36px,#f1c06d 42px,#f2be6c 48px,#f2bd6b 54px,#f3bb6a 60px,#f3b969 66px,#f3b768 72px,#f4b567 78px,#f4b366 84px,#f5b165 90px,#f5af64 96px,#f6ad63 102px,#f6ab62 108px,#f6a961 114px,#f7a760 120px,#f7a55f 126px,#f7a25e 132px,#f7a05d 138px,#f79e5c 144px,#f89c5b 150px,#f89a5a 156px,#f89859 162px,#f89759 168px,#f89558 174px,#f89357 180px,#f89256 186px,#f89056 192px,#f88f55 198px,#f88e55 204px,#f88c54 210px,#f88b54 216px)"></div><div class="row" style="top:54px;height:4px;background:linear-gradient(90deg,#efc775 0px,#efc674 6px,#f0c574 12px,#f0c473 18px,#f0c372 24px,#f1c171 30px,#f1c070 36px,#f1bf6f 42px,#f2bd6e 48px,#f2bb6d 54px,#f3ba6c 60px,#f3b86b 66px,#f4b66a 72px,#f4b469 78px,#f4b268 84px,#f5b067 90px,#f5ae66 96px,#f6ac65 102px,#f6aa64 108px,#f6a863 114px,#f7a562 120px,#f7a361 126px,#f7a160 132px,#f79f5f 138px,#f79d5e 144px,#f89b5d 150px,#f8995c 156px,#f8975b 162px,#f8965a 168px,#f89459 174px,#f89259 180px,#f89158 186px,#f88f57 192px,#f88e57 198px,#f88d56 204px,#f88b56 210px,#f88a56 216px)"></div><div class="row" style="top:57px;height:4px;background:linear-gradient(90deg,#efc577 0px,#f0c476 6px,#f0c375 12px,#f0c275 18px,#f1c174 24px,#f1c073 30px,#f1bf72 36px,#f2bd71 42px,#f2bc70 48px,#f3ba6f 54px,#f3b86e 60px,#f3b66d 66px,#f4b56c 72px,#f4b36b 78px,#f5b16a 84px,#f5af69 90px,#f5ac68 96px,#f6aa67 102px,#f6a866 108px,#f6a665 114px,#f6a464 120px,#f7a263 126px,#f7a062 132px,#f79e61 138px,#f79c60 144px,#f89a5f 150px,#f8985e 156px,#f8965d 162px,#f8945c 168px,#f8935b 174px,#f8915a 180px,#f8905a 186px,#f88e59 192px,#f88d59 198px,#f88c58 204px,#f88a58 210px,#f88957 216px)"></div><div class="row" style="top:60px;height:4px;background:linear-gradient(90deg,#f0c479 0px,#f0c378 6px,#f0c277 12px,#f1c177 18px,#f1c076 24px,#f1bf75 30px,#f2bd74 36px,#f2bc73 42px,#f2ba72 48px,#f3b971 54px,#f3b770 60px,#f4b56f 66px,#f4b36e 72px,#f4b16d 78px,#f5af6c 84px,#f5ad6b 90px,#f5ab6a 96px,#f6a969 102px,#f6a768 108px,#f6a567 114px,#f6a366 120px,#f7a164 126px,#f79f63 132px,#f79d62 138px,#f79b61 144px,#f79960 150px,#f8975f 156px,#f8955f 162px,#f8935e 168px,#f8925d 174px,#f8905c 180px,#f88f5c 186px,#f88d5b 192px,#f88c5a 198px,#f88b5a 204px,#f8895a 210px,#f88859 216px)"></div><div class="row" style="top:63px;height:4px;background:linear-gradient(90deg,#f0c27b 0px,#f0c17a 6px,#f1c079 12px,#f1bf79 18px,#f1be78 24px,#f2bd77 30px,#f2bc76 36px,#f2ba75 42px,#f3b974 48px,#f3b773 54px,#f3b572 60px,#f4b471 66px,#f4b270 72px,#f4b06f 78px,#f5ae6e 84px,#f5ac6d 90px,#f5aa6c 96px,#f6a86b 102px,#f6a66a 108px,#f6a468 114px,#f6a267 120px,#f7a066 126px,#f79d65 132px,#f79b64 138px,#f79a63 144px,#f79862 150px,#f79661 156px,#f89460 162px,#f89260 168px,#f8905f 174px,#f88f5e 180px,#f88d5d 186px,#f88c5d 192px,#f88b5c 198px,#f8895c 204px,#f8885b 210px,#f8875b 216px)"></div><div class="row" style="top:66px;height:4px;background:linear-gradient(90deg,#f0c17d 0px,#f1c07c 6px,#f1bf7b 12px,#f1be7b 18px,#f1bd7a 24px,#f2bb79 30px,#f2ba78 36px,#f2b977 42px,#f3b776 48px,#f3b675 54px,#f3b474 60px,#f4b273 66px,#f4b072 72px,#f4ae71 78px,#f5ac70 84px,#f5aa6f 90px,#f5a86e 96px,#f6a66d 102px,#f6a46c 108px,#f6a26a 114px,#f6a069 120px,#f79e68 126px,#f79c67 132px,#f79a66 138px,#f79865 144px,#f79664 150px,#f79463 156px,#f79362 162px,#f79162 168px,#f88f61 174px,#f88e60 180px,#f88c5f 186px,#f88b5f 192px,#f8895e 198px,#f8885e 204px,#f8875d 210px,#f8865d 216px)"></div><div class="row" style="top:69px;height:4px;background:linear-gradient(90deg,#f1bf7f 0px,#f1be7e 6px,#f1bd7d 12px,#f1bc7d 18px,#f2bb7c 24px,#f2ba7b 30px,#f2b97a 36px,#f3b779 42px,#f3b678 48px,#f3b477 54px,#f4b276 60px,#f4b175 66px,#f4af74 72px,#f4ad73 78px,#f5ab72 84px,#f5a971 90px,#f5a770 96px,#f6a56f 102px,#f6a36e 108px,#f6a16d 114px,#f69f6b 120px,#f69d6a 126px,#f79b69 132px,#f79968 138px,#f79767 144px,#f79566 150px,#f79365 156px,#f79164 162px,#f79064 168px,#f78e63 174px,#f78c62 180px,#f78b61 186px,#f78a61 192px,#f88860 198px,#f88760 204px,#f8865f 210px,#f8855f 216px)"></div><div class="row" style="top:72px;height:4px;background:linear-gradient(90deg,#f1bd81 0px,#f1bc80 6px,#f1bc80 12px,#f2bb7f 18px,#f2b97e 24px,#f2b87d 30px,#f2b77c 36px,#f3b67b 42px,#f3b47a 48px,#f3b279 54px,#f4b178 60px,#f4af77 66px,#f4ad76 72px,#f5ab75 78px,#f5a974 84px,#f5a773 90px,#f5a572 96px,#f6a371 102px,#f6a170 108px,#f69f6f 114px,#f69d6e 120px,#f69b6d 126px,#f7996c 132px,#f7976a 138px,#f79669 144px,#f79468 150px,#f79267 156px,#f79067 162px,#f78e66 168px,#f78d65 174px,#f78b64 180px,#f78a64 186px,#f78863 192px,#f78762 198px,#f78662 204px,#f78562 210px,#f78461 216px)"></div><div class="row" style="top:75px;height:4px;background:linear-gradient(90deg,#f1bc83 0px,#f1bb83 6px,#f2ba82 12px,#f2b981 18px,#f2b880 24px,#f2b77f 30px,#f3b57e 36px,#f3b47d 42px,#f3b27c 48px,#f3b17b 54px,#f4af7a 60px,#f4ad79 66px,#f4ab78 72px,#f5aa77 78px,#f5a876 84px,#f5a675 90px,#f5a474 96px,#f5a273 102px,#f6a072 108px,#f69e71 114px,#f69c70 120px,#f69a6f 126px,#f6986e 132px,#f7966d 138px,#f7946c 144px,#f7926b 150px,#f7906a 156px,#f78f69 162px,#f78d68 168px,#f78b67 174px,#f78a66 180px,#f78866 186px,#f78765 192px,#f78665 198px,#f78564 204px,#f78464 210px,#f78363 216px)"></div><div class="row" style="top:78px;height:4px;background:linear-gradient(90deg,#f1ba86 0px,#f2b985 6px,#f2b884 12px,#f2b783 18px,#f2b682 24px,#f3b581 30px,#f3b480 36px,#f3b27f 42px,#f3b17e 48px,#f3af7d 54px,#f4ad7c 60px,#f4ac7b 66px,#f4aa7a 72px,#f5a879 78px,#f5a678 84px,#f5a477 90px,#f5a276 96px,#f5a075 102px,#f69e74 108px,#f69c73 114px,#f69a72 120px,#f69871 126px,#f69670 132px,#f6956f 138px,#f6936e 144px,#f7916d 150px,#f78f6c 156px,#f78d6b 162px,#f78c6a 168px,#f78a69 174px,#f78969 180px,#f78768 186px,#f78667 192px,#f78567 198px,#f78366 204px,#f78266 210px,#f78166 216px)"></div><div class="row" style="top:81px;height:4px;background:linear-gradient(90deg,#f2b888 0px,#f2b787 6px,#f2b686 12px,#f2b585 18px,#f2b484 24px,#f3b383 30px,#f3b282 36px,#f3b081 42px,#f3af80 48px,#f4ad7f 54px,#f4ac7e 60px,#f4aa7e 66px,#f4a87d 72px,#f4a67c 78px,#f5a47b 84px,#f5a27a 90px,#f5a079 96px,#f59f78 102px,#f59d77 108px,#f69b76 114px,#f69974 120px,#f69773 126px,#f69572 132px,#f69371 138px,#f69170 144px,#f68f6f 150px,#f68e6e 156px,#f68c6d 162px,#f78a6d 168px,#f7896c 174px,#f7876b 180px,#f7866a 186px,#f7846a 192px,#f78369 198px,#f78269 204px,#f78168 210px,#f78068 216px)"></div><div class="row" style="top:84px;height:4px;background:linear-gradient(90deg,#f2b68a 0px,#f2b589 6px,#f2b588 12px,#f2b488 18px,#f3b387 24px,#f3b186 30px,#f3b085 36px,#f3af84 42px,#f3ad83 48px,#f4ac82 54px,#f4aa81 60px,#f4a880 66px,#f4a67f 72px,#f4a47e 78px,#f5a37d 84px,#f5a17c 90px,#f59f7b 96px,#f59d7a 102px,#f59b79 108px,#f59978 114px,#f69777 120px,#f69576 126px,#f69375 132px,#f69174 138px,#f69073 144px,#f68e72 150px,#f68c71 156px,#f68a70 162px,#f6896f 168px,#f6876e 174px,#f6866e 180px,#f6846d 186px,#f6836c 192px,#f6826c 198px,#f6816b 204px,#f6806b 210px,#f67f6b 216px)"></div><div class="row" style="top:87px;height:4px;background:linear-gradient(90deg,#f2b48c 0px,#f2b48c 6px,#f2b38b 12px,#f2b28a 18px,#f3b189 24px,#f3b088 30px,#f3ae87 36px,#f3ad86 42px,#f3ab85 48px,#f4aa84 54px,#f4a883 60px,#f4a682 66px,#f4a481 72px,#f4a380 78px,#f5a17f 84px,#f59f7e 90px,#f59d7d 96px,#f59b7c 102px,#f5997b 108px,#f5977a 114px,#f59579 120px,#f69378 126px,#f69277 132px,#f69076 138px,#f68e75 144px,#f68c74 150px,#f68b73 156px,#f68973 162px,#f68772 168px,#f68671 174px,#f68470 180px,#f6836f 186px,#f6826f 192px,#f6806e 198px,#f67f6e 204px,#f67e6e 210px,#f67d6d 216px)"></div><div class="row" style="top:90px;height:4px;background:linear-gradient(90deg,#f2b28f 0px,#f2b28e 6px,#f2b18d 12px,#f3b08c 18px,#f3af8b 24px,#f3ae8a 30px,#f3ac89 36px,#f3ab88 42px,#f3a988 48px,#f4a887 54px,#f4a686 60px,#f4a485 66px,#f4a384 72px,#f4a183 78px,#f49f82 84px,#f59d81 90px,#f59b80 96px,#f5997f 102px,#f5977e 108px,#f5957d 114px,#f5947c 120px,#f5927b 126px,#f5907a 132px,#f68e79 138px,#f68c78 144px,#f68b77 150px,#f68976 156px,#f68775 162px,#f68674 168px,#f68473 174px,#f68373 180px,#f68172 186px,#f68071 192px,#f67f71 198px,#f67e71 204px,#f67d70 210px,#f67c70 216px)"></div><div class="row" style="top:93px;height:4px;background:linear-gradient(90deg,#f2b091 0px,#f2b090 6px,#f2af8f 12px,#f3ae8f 18px,#f3ad8e 24px,#f3ac8d 30px,#f3aa8c 36px,#f3a98b 42px,#f3a78a 48px,#f4a689 54px,#f4a488 60px,#f4a287 66px,#f4a186 72px,#f49f85 78px,#f49d84 84px,#f49b84 90px,#f59983 96px,#f59782 102px,#f59581 108px,#f59480 114px,#f5927f 120px,#f5907e 126px,#f58e7d 132px,#f58c7c 138px,#f58b7b 144px,#f5897a 150px,#f58779 156px,#f58678 162px,#f58477 168px,#f68376 174px,#f68175 180px,#f68075 186px,#f67f74 192px,#f67e74 198px,#f67d73 204px,#f67c73 210px,#f67b73 216px)"></div><div class="row" style="top:96px;height:4px;background:linear-gradient(90deg,#f2ae93 0px,#f2ae93 6px,#f3ad92 12px,#f3ac91 18px,#f3ab90 24px,#f3aa8f 30px,#f3a88e 36px,#f3a78d 42px,#f3a58c 48px,#f3a48c 54px,#f4a28b 60px,#f4a08a 66px,#f49f89 72px,#f49d88 78px,#f49b87 84px,#f49986 90px,#f49785 96px,#f49584 102px,#f59483 108px,#f59282 114px,#f59081 120px,#f58e81 126px,#f58c80 132px,#f58b7f 138px,#f5897e 144px,#f5877d 150px,#f5867c 156px,#f5847b 162px,#f5827a 168px,#f58179 174px,#f58078 180px,#f57e78 186px,#f57d77 192px,#f57c76 198px,#f57b76 204px,#f57a76 210px,#f57975 216px)"></div><div class="row" style="top:99px;height:4px;background:linear-gradient(90deg,#f2ac96 0px,#f2ac95 6px,#f3ab94 12px,#f3aa93 18px,#f3a993 24px,#f3a892 30px,#f3a691 36px,#f3a590 42px,#f3a38f 48px,#f3a28e 54px,#f3a08d 60px,#f49e8c 66px,#f49d8b 72px,#f49b8b 78px,#f4998a 84px,#f49789 90px,#f49588 96px,#f49387 102px,#f49286 108px,#f49085 114px,#f48e84 120px,#f58c83 126px,#f58a82 132px,#f58981 138px,#f58780 144px,#f5857f 150px,#f5847e 156px,#f5827e 162px,#f5817d 168px,#f57f7c 174px,#f57e7b 180px,#f57d7a 186px,#f57c7a 192px,#f57a79 198px,#f57979 204px,#f57978 210px,#f57878 216px)"></div><div class="row" style="top:102px;height:4px;background:linear-gradient(90deg,#f2aa98 0px,#f2aa97 6px,#f3a997 12px,#f3a896 18px,#f3a795 24px,#f3a594 30px,#f3a493 36px,#f3a392 42px,#f3a192 48px,#f3a091 54px,#f39e90 60px,#f39c8f 66px,#f49a8e 72px,#f4998d 78px,#f4978c 84px,#f4958c 90px,#f4938b 96px,#f4918a 102px,#f49089 108px,#f48e88 114px,#f48c87 120px,#f48a86 126px,#f48985 132px,#f48784 138px,#f48583 144px,#f48482 150px,#f48281 156px,#f58180 162px,#f57f80 168px,#f57e7f 174px,#f57c7e 180px,#f57b7d 186px,#f57a7d 192px,#f5797c 198px,#f5787c 204px,#f5777b 210px,#f5767b 216px)"></div><div class="row" style="top:105px;height:4px;background:linear-gradient(90deg,#f2a89a 0px,#f2a79a 6px,#f3a799 12px,#f3a698 18px,#f3a598 24px,#f3a397 30px,#f3a296 36px,#f3a195 42px,#f39f94 48px,#f39d93 54px,#f39c93 60px,#f39a92 66px,#f39891 72px,#f39690 78px,#f4958f 84px,#f4938e 90px,#f4918e 96px,#f48f8d 102px,#f48d8c 108px,#f48c8b 114px,#f48a8a 120px,#f48889 126px,#f48788 132px,#f48587 138px,#f48386 144px,#f48285 150px,#f48084 156px,#f47f83 162px,#f47d83 168px,#f47c82 174px,#f47b81 180px,#f47980 186px,#f47880 192px,#f4777f 198px,#f4767f 204px,#f4757e 210px,#f4757e 216px)"></div><div class="row" style="top:108px;height:4px;background:linear-gradient(90deg,#f2a69d 0px,#f2a59c 6px,#f2a49b 12px,#f3a39b 18px,#f3a29a 24px,#f3a199 30px,#f3a098 36px,#f39e98 42px,#f39d97 48px,#f39b96 54px,#f39a95 60px,#f39894 66px,#f39694 72px,#f39493 78px,#f39392 84px,#f39191 90px,#f38f90 96px,#f38d90 102px,#f48b8f 108px,#f48a8e 114px,#f4888d 120px,#f4868c 126px,#f4858b 132px,#f4838a 138px,#f48189 144px,#f48088 150px,#f47e87 156px,#f47d86 162px,#f47c86 168px,#f47a85 174px,#f47984 180px,#f47883 186px,#f47783 192px,#f47682 198px,#f47582 204px,#f47481 210px,#f47381 216px)"></div><div class="row" style="top:111px;height:4px;background:linear-gradient(90deg,#f2a49f 0px,#f2a39f 6px,#f2a29e 12px,#f2a19d 18px,#f3a09c 24px,#f39f9c 30px,#f39e9b 36px,#f39c9a 42px,#f39b99 48px,#f39999 54px,#f39798 60px,#f39697 66px,#f39496 72px,#f39296 78px,#f39095 84px,#f38f94 90px,#f38d93 96px,#f38b92 102px,#f38992 108px,#f38891 114px,#f38690 120px,#f3848f 126px,#f3838e 132px,#f3818d 138px,#f3808c 144px,#f37e8b 150px,#f37d8a 156px,#f37b8a 162px,#f37a89 168px,#f37888 174px,#f37787 180px,#f37686 186px,#f37586 192px,#f37485 198px,#f37385 204px,#f37284 210px,#f37284 216px)"></div><div class="row" style="top:114px;height:4px;background:linear-gradient(90deg,#f2a2a2 0px,#f2a1a1 6px,#f2a0a0 12px,#f29fa0 18px,#f29e9f 24px,#f29d9e 30px,#f39b9e 36px,#f39a9d 42px,#f3989c 48px,#f3979b 54px,#f3959b 60px,#f3939a 66px,#f39299 72px,#f39098 78px,#f38e98 84px,#f38c97 90px,#f38b96 96px,#f38995 102px,#f38795 108px,#f38594 114px,#f38493 120px,#f38292 126px,#f38191 132px,#f37f90 138px,#f37e8f 144px,#f37c8e 150px,#f37b8d 156px,#f3798d 162px,#f3788c 168px,#f3778b 174px,#f3758a 180px,#f37489 186px,#f37389 192px,#f37288 198px,#f37188 204px,#f37187 210px,#f37087 216px)"></div><div class="row" style="top:117px;height:4px;background:linear-gradient(90deg,#f29fa4 0px,#f29fa3 6px,#f29ea3 12px,#f29da2 18px,#f29ca1 24px,#f29aa1 30px,#f299a0 36px,#f2989f 42px,#f2969f 48px,#f2959e 54px,#f2939d 60px,#f2919d 66px,#f28f9c 72px,#f28e9b 78px,#f38c9a 84px,#f38a9a 90px,#f38899 96px,#f38798 102px,#f38598 108px,#f38397 114px,#f38296 120px,#f38095 126px,#f37f94 132px,#f37d93 138px,#f37c92 144px,#f37a91 150px,#f37991 156px,#f37790 162px,#f3768f 168px,#f3758e 174px,#f3748d 180px,#f3738d 186px,#f3728c 192px,#f3718b 198px,#f3708b 204px,#f36f8a 210px,#f36e8a 216px)"></div><div class="row" style="top:120px;height:4px;background:linear-gradient(90deg,#f29da6 0px,#f29ca6 6px,#f29ca5 12px,#f29ba4 18px,#f299a4 24px,#f298a3 30px,#f297a3 36px,#f295a2 42px,#f294a1 48px,#f292a1 54px,#f291a0 60px,#f28f9f 66px,#f28d9f 72px,#f28b9e 78px,#f28a9d 84px,#f2889d 90px,#f2869c 96px,#f2849b 102px,#f2839a 108px,#f2819a 114px,#f28099 120px,#f27e98 126px,#f27d97 132px,#f27b96 138px,#f27a95 144px,#f27894 150px,#f27794 156px,#f27693 162px,#f27492 168px,#f27391 174px,#f27290 180px,#f27190 186px,#f2708f 192px,#f26f8e 198px,#f26e8e 204px,#f26d8d 210px,#f26d8d 216px)"></div><div class="row" style="top:123px;height:4px;background:linear-gradient(90deg,#f29ba8 0px,#f29aa8 6px,#f299a7 12px,#f298a7 18px,#f297a6 24px,#f296a6 30px,#f295a5 36px,#f293a4 42px,#f292a4 48px,#f290a3 54px,#f28ea2 60px,#f28da2 66px,#f28ba1 72px,#f289a1 78px,#f287a0 84px,#f2869f 90px,#f2849f 96px,#f2829e 102px,#f2819d 108px,#f27f9d 114px,#f27e9c 120px,#f27c9b 126px,#f27b9a 132px,#f27999 138px,#f27898 144px,#f27697 150px,#f27597 156px,#f27496 162px,#f27395 168px,#f27194 174px,#f27093 180px,#f26f93 186px,#f26e92 192px,#f26d91 198px,#f26d91 204px,#f26c90 210px,#f26b90 216px)"></div><div class="row" style="top:126px;height:4px;background:linear-gradient(90deg,#f299ab 0px,#f298aa 6px,#f297aa 12px,#f296a9 18px,#f295a9 24px,#f294a8 30px,#f292a7 36px,#f291a7 42px,#f28fa6 48px,#f28ea6 54px,#f28ca5 60px,#f28aa4 66px,#f289a4 72px,#f287a3 78px,#f285a3 84px,#f283a2 90px,#f282a1 96px,#f280a1 102px,#f27fa0 108px,#f27d9f 114px,#f27c9f 120px,#f27a9e 126px,#f2799d 132px,#f2779c 138px,#f2769b 144px,#f2749a 150px,#f27399 156px,#f27299 162px,#f27198 168px,#f27097 174px,#f26f96 180px,#f26e96 186px,#f26d95 192px,#f26c94 198px,#f26b94 204px,#f26a93 210px,#f26a93 216px)"></div><div class="row" style="top:129px;height:4px;background:linear-gradient(90deg,#f297ad 0px,#f296ac 6px,#f295ac 12px,#f294ab 18px,#f293ab 24px,#f292aa 30px,#f290aa 36px,#f28fa9 42px,#f28da9 48px,#f28ca8 54px,#f28aa8 60px,#f188a7 66px,#f187a6 72px,#f185a6 78px,#f183a5 84px,#f181a5 90px,#f180a4 96px,#f17ea3 102px,#f17da3 108px,#f17ba2 114px,#f179a1 120px,#f178a1 126px,#f177a0 132px,#f1759f 138px,#f1749e 144px,#f1739d 150px,#f1719c 156px,#f1709c 162px,#f16f9b 168px,#f16e9a 174px,#f16d99 180px,#f16c98 186px,#f16b98 192px,#f16a97 198px,#f16a97 204px,#f16996 210px,#f16896 216px)"></div><div class="row" style="top:132px;height:4px;background:linear-gradient(90deg,#f295af 0px,#f294ae 6px,#f293ae 12px,#f292ad 18px,#f291ad 24px,#f290ad 30px,#f18eac 36px,#f18dab 42px,#f18bab 48px,#f18aaa 54px,#f188aa 60px,#f186a9 66px,#f184a9 72px,#f183a8 78px,#f181a8 84px,#f17fa7 90px,#f17ea7 96px,#f17ca6 102px,#f17aa5 108px,#f179a5 114px,#f178a4 120px,#f176a3 126px,#f175a3 132px,#f173a2 138px,#f172a1 144px,#f171a0 150px,#f1709f 156px,#f16e9e 162px,#f16d9d 168px,#f16c9d 174px,#f16b9c 180px,#f16a9b 186px,#f1699b 192px,#f1699a 198px,#f1689a 204px,#f16799 210px,#f16799 216px)"></div><div class="row" style="top:135px;height:4px;background:linear-gradient(90deg,#f293b1 0px,#f292b0 6px,#f191b0 12px,#f190b0 18px,#f18faf 24px,#f18daf 30px,#f18cae 36px,#f18bae 42px,#f189ad 48px,#f187ad 54px,#f186ac 60px,#f184ac 66px,#f182ab 72px,#f181ab 78px,#f17faa 84px,#f17daa 90px,#f17ca9 96px,#f17aa9 102px,#f179a8 108px,#f177a7 114px,#f176a7 120px,#f074a6 126px,#f073a5 132px,#f072a4 138px,#f070a4 144px,#f06fa3 150px,#f06ea2 156px,#f06da1 162px,#f06ca0 168px,#f06b9f 174px,#f06a9f 180px,#f0699e 186px,#f0689d 192px,#f0679d 198px,#f0679c 204px,#f0669c 210px,#f0659b 216px)"></div><div class="row" style="top:138px;height:4px;background:linear-gradient(90deg,#f191b3 0px,#f190b2 6px,#f18fb2 12px,#f18eb2 18px,#f18db1 24px,#f18cb1 30px,#f18ab0 36px,#f189b0 42px,#f187af 48px,#f185af 54px,#f184ae 60px,#f182ae 66px,#f180ae 72px,#f17fad 78px,#f07dad 84px,#f07bac 90px,#f07aac 96px,#f078ab 102px,#f077aa 108px,#f075aa 114px,#f074a9 120px,#f072a8 126px,#f071a8 132px,#f070a7 138px,#f06fa6 144px,#f06da5 150px,#f06ca4 156px,#f06ba4 162px,#f06aa3 168px,#f069a2 174px,#f068a1 180px,#f067a1 186px,#f067a0 192px,#f0669f 198px,#f0659f 204px,#f0659e 210px,#f0649e 216px)"></div><div class="row" style="top:141px;height:4px;background:linear-gradient(90deg,#f18fb4 0px,#f18eb4 6px,#f18db4 12px,#f18cb3 18px,#f18bb3 24px,#f18ab3 30px,#f188b2 36px,#f187b2 42px,#f185b1 48px,#f183b1 54px,#f182b1 60px,#f080b0 66px,#f07eb0 72px,#f07daf 78px,#f07baf 84px,#f079ae 90px,#f078ae 96px,#f076ad 102px,#f075ad 108px,#f073ac 114px,#f072ac 120px,#f071ab 126px,#f06faa 132px,#f06ea9 138px,#f06da9 144px,#f06ca8 150px,#f06ba7 156px,#f06aa6 162px,#f069a5 168px,#f068a5 174px,#f067a4 180px,#f066a3 186px,#f065a3 192px,#f064a2 198px,#f064a1 204px,#f063a1 210px,#f063a1 216px)"></div><div class="row" style="top:144px;height:4px;background:linear-gradient(90deg,#f18db6 0px,#f18cb6 6px,#f18bb5 12px,#f18ab5 18px,#f189b5 24px,#f188b4 30px,#f186b4 36px,#f185b4 42px,#f183b3 48px,#f082b3 54px,#f080b3 60px,#f07eb2 66px,#f07db2 72px,#f07bb1 78px,#f079b1 84px,#f078b1 90px,#f076b0 96px,#f075b0 102px,#f073af 108px,#f072af 114px,#f070ae 120px,#f06fad 126px,#ef6ead 132px,#ef6dac 138px,#ef6bab 144px,#ef6aaa 150px,#ef69a9 156px,#ef68a9 162px,#ef67a8 168px,#ef66a7 174px,#ef65a6 180px,#ef65a6 186px,#ef64a5 192px,#ef63a4 198px,#ef62a4 204px,#ef62a3 210px,#ef61a3 216px)"></div><div class="row" style="top:147px;height:4px;background:linear-gradient(90deg,#f18bb8 0px,#f18bb7 6px,#f18ab7 12px,#f189b7 18px,#f187b7 24px,#f186b6 30px,#f185b6 36px,#f083b6 42px,#f082b5 48px,#f080b5 54px,#f07eb5 60px,#f07cb4 66px,#f07bb4 72px,#f079b3 78px,#f077b3 84px,#f076b3 90px,#f074b2 96px,#ef73b2 102px,#ef71b1 108px,#ef70b1 114px,#ef6fb0 120px,#ef6daf 126px,#ef6caf 132px,#ef6bae 138px,#ef6aad 144px,#ef69ac 150px,#ef68ac 156px,#ef67ab 162px,#ef66aa 168px,#ef65a9 174px,#ef64a9 180px,#ef63a8 186px,#ef62a7 192px,#ef62a7 198px,#ef61a6 204px,#ef61a6 210px,#ef60a5 216px)"></div><div class="row" style="top:150px;height:4px;background:linear-gradient(90deg,#f18ab9 0px,#f189b9 6px,#f188b9 12px,#f187b8 18px,#f186b8 24px,#f184b8 30px,#f083b8 36px,#f081b7 42px,#f080b7 48px,#f07eb7 54px,#f07db6 60px,#f07bb6 66px,#f079b6 72px,#f077b5 78px,#ef76b5 84px,#ef74b5 90px,#ef73b4 96px,#ef71b4 102px,#ef70b3 108px,#ef6eb3 114px,#ef6db2 120px,#ef6cb1 126px,#ef6bb1 132px,#ef6ab0 138px,#ef68af 144px,#ef67af 150px,#ef66ae 156px,#ef65ad 162px,#ef64ac 168px,#ef64ab 174px,#ef63ab 180px,#ef62aa 186px,#ef61a9 192px,#ef61a9 198px,#ef60a8 204px,#ef60a8 210px,#ef5fa7 216px)"></div></div><svg class="abs" style="left:0;top:0" width="531" height="735"><path d="M33.4 335.3C33.9 335.7 35.2 337 36.4 337.8C37.6 338.6 38.3 339.6 40.7 340C43.1 340.4 47.7 340 50.8 340.3C53.9 340.6 56.5 341.3 59.3 341.7C62.1 342.1 65 343 67.8 342.9C70.6 342.8 74.1 341.8 76.3 341.2C78.5 340.6 79.5 340.1 81 339C82.5 337.9 82.9 337.5 85 334.3C87.1 331.1 91.2 325 93.6 320C96 315 97.4 310 99.3 304.3C101.2 298.6 103.2 291.6 105 285.7C106.8 279.8 108.2 273.8 110 268.6C111.8 263.4 113.9 257.5 115.7 254.3C117.5 251.1 119.1 250.3 120.7 249.3C122.3 248.3 123.6 247.2 125.2 248.2C126.8 249.1 128.9 252.1 130.5 255C132.1 257.9 133.2 261.9 135 265.4C136.8 268.9 139.3 272.1 141 275.9C142.7 279.6 143.9 283.4 145.4 287.9C146.9 292.4 148.2 298.2 149.9 302.9C151.7 307.6 153.9 312.1 155.9 316.3C157.9 320.5 159.9 325.1 161.9 328.3C163.9 331.6 165.7 333.6 167.9 335.8C170.1 338.1 172.6 340.1 175.1 341.8C177.6 343.5 180 344.9 183.1 346C186.2 347.1 190.4 348 193.5 348.1C196.6 348.2 198.7 346.8 201.8 346.6C204.9 346.5 208.8 346.9 212.2 347.2C215.6 347.5 219.1 348.5 222.5 348.7C225.9 348.9 229.8 348.2 232.9 348.1C236 348 239 349 241.2 348.1C243.4 347.2 245.2 343.6 246.3 342.5C247.4 341.4 247.7 341.6 248 341.4L248 346C247.7 346.1 247.4 345.8 246.3 346.6C245.2 347.4 243.4 350.1 241.2 350.8C239 351.5 236 350.7 232.9 350.8C229.8 350.9 225.9 351.4 222.5 351.4C219.1 351.4 215.6 350.8 212.2 350.8C208.8 350.8 204.9 351 201.8 351.4C198.7 351.8 196.6 353.3 193.5 353.4C190.4 353.5 186.1 352.4 183.1 352.2C180.1 352 178 352.2 175.3 352C172.6 351.8 169.2 351.6 167 351C164.8 350.4 163.8 350.5 161.9 348.5C160.1 346.5 157.9 342.2 155.9 338.8C153.9 335.4 152.1 332.1 149.9 328.3C147.7 324.6 145 319.8 142.5 316.3C140 312.8 137.2 310.4 135 307.4C132.8 304.4 130.8 300.6 129 298.4C127.2 296.1 126.1 294.5 124.5 293.9C122.9 293.3 121.1 293.8 119.3 295C117.5 296.2 115.8 298.2 113.6 301.4C111.4 304.6 108.8 309.8 106.4 314.3C104 318.8 101.9 323.5 99.3 328.6C96.7 333.7 93.1 341.4 90.7 345C88.3 348.6 87.1 349.7 84.7 350.3C82.3 350.9 79.1 349.2 76.3 348.8C73.5 348.4 70.6 348.3 67.8 348C65 347.7 62.1 347.4 59.3 347.1C56.5 346.8 53.9 346.6 50.8 346.3C47.7 346 43.1 345.5 40.7 345.1C38.3 344.7 37.6 344.5 36.4 343.7C35.2 342.9 33.9 340.9 33.4 340.3Z" fill="#2f8ce6" stroke="#3b9a86" stroke-width=".35"/><path d="M33.4 337.8C34.3 338.6 36.1 341.4 39 342.4C41.9 343.4 47.4 343.2 50.8 343.7C54.2 344.1 56.5 344.8 59.3 345.1C62.1 345.5 65 345.8 67.8 345.8C70.6 345.8 74.3 345.3 76.3 345.1C78.3 344.9 78.5 344.8 80 344.5C81.5 344.2 83 345.4 85 343.2C87 341 89.7 336 92.1 331.4C94.5 326.8 96.9 321.4 99.3 315.7C101.7 310 104.3 302.3 106.4 297.1C108.5 291.9 110.2 288.1 112.1 284.3C114 280.5 116.2 276.5 117.9 274.3C119.6 272.1 120.9 271.9 122.1 271.4C123.3 270.9 124 270.6 125.2 271.4C126.4 272.1 127.4 273.4 129 275.9C130.6 278.4 132.8 282.6 135 286.4C137.2 290.1 140.3 294.4 142.5 298.4C144.7 302.4 146.4 306.4 148.4 310.4C150.4 314.4 152.4 318.1 154.4 322.3C156.4 326.5 158.4 332.4 160.4 335.8C162.4 339.2 164 340.4 166.4 342.5C168.8 344.6 172.3 347.3 175.1 348.5C177.9 349.7 180 349.2 183.1 349.7C186.2 350.2 190.4 351.5 193.5 351.4C196.6 351.3 198.7 349.7 201.8 349.3C204.9 348.9 208.8 349 212.2 349.1C215.6 349.2 219.1 350.1 222.5 350.1C225.9 350.1 229.8 349.4 232.9 349.3C236 349.2 238.7 350.6 241.2 349.7C243.7 348.8 246.9 344.9 248 343.9" fill="none" stroke="#ee6a6a" stroke-width="2.2" stroke-linejoin="round"/><path d="M33.4 337.8C34.3 338.6 36.1 341.4 39 342.4C41.9 343.4 47.4 343.2 50.8 343.7C54.2 344.1 56.5 344.8 59.3 345.1C62.1 345.5 65 345.8 67.8 345.8C70.6 345.8 74.3 345.3 76.3 345.1C78.3 344.9 78.5 344.8 80 344.5C81.5 344.2 83 345.4 85 343.2C87 341 89.7 336 92.1 331.4C94.5 326.8 96.9 321.4 99.3 315.7C101.7 310 104.3 302.3 106.4 297.1C108.5 291.9 110.2 288.1 112.1 284.3C114 280.5 116.2 276.5 117.9 274.3C119.6 272.1 120.9 271.9 122.1 271.4C123.3 270.9 124 270.6 125.2 271.4C126.4 272.1 127.4 273.4 129 275.9C130.6 278.4 132.8 282.6 135 286.4C137.2 290.1 140.3 294.4 142.5 298.4C144.7 302.4 146.4 306.4 148.4 310.4C150.4 314.4 152.4 318.1 154.4 322.3C156.4 326.5 158.4 332.4 160.4 335.8C162.4 339.2 164 340.4 166.4 342.5C168.8 344.6 172.3 347.3 175.1 348.5C177.9 349.7 180 349.2 183.1 349.7C186.2 350.2 190.4 351.5 193.5 351.4C196.6 351.3 198.7 349.7 201.8 349.3C204.9 348.9 208.8 349 212.2 349.1C215.6 349.2 219.1 350.1 222.5 350.1C225.9 350.1 229.8 349.4 232.9 349.3C236 349.2 238.7 350.6 241.2 349.7C243.7 348.8 246.9 344.9 248 343.9" fill="none" stroke="#d42424" stroke-width="1.2" stroke-linejoin="round"/><rect x="33.4" y="225.5" width="214.7" height="153.5" fill="none" stroke="#1a1a2a" stroke-width="1.1"/><text x="33.4" y="387.4" text-anchor="middle" font-size="6.3" textLength="9.2" lengthAdjust="spacingAndGlyphs" fill="#1a1a1a" stroke="#1a1a1a" stroke-width=".12">400</text><text x="69.2" y="387.4" text-anchor="middle" font-size="6.3" textLength="9.2" lengthAdjust="spacingAndGlyphs" fill="#1a1a1a" stroke="#1a1a1a" stroke-width=".12">450</text><text x="105" y="387.4" text-anchor="middle" font-size="6.3" textLength="9.2" lengthAdjust="spacingAndGlyphs" fill="#1a1a1a" stroke="#1a1a1a" stroke-width=".12">500</text><text x="140.7" y="387.4" text-anchor="middle" font-size="6.3" textLength="9.2" lengthAdjust="spacingAndGlyphs" fill="#1a1a1a" stroke="#1a1a1a" stroke-width=".12">550</text><text x="176.5" y="387.4" text-anchor="middle" font-size="6.3" textLength="9.2" lengthAdjust="spacingAndGlyphs" fill="#1a1a1a" stroke="#1a1a1a" stroke-width=".12">600</text><text x="212.3" y="387.4" text-anchor="middle" font-size="6.3" textLength="9.2" lengthAdjust="spacingAndGlyphs" fill="#1a1a1a" stroke="#1a1a1a" stroke-width=".12">650</text><text x="248.1" y="387.4" text-anchor="middle" font-size="6.3" textLength="9.2" lengthAdjust="spacingAndGlyphs" fill="#1a1a1a" stroke="#1a1a1a" stroke-width=".12">700</text><text x="31.1" y="381.3" text-anchor="end" font-size="6.3" textLength="3" lengthAdjust="spacingAndGlyphs" fill="#1a1a1a" stroke="#1a1a1a" stroke-width=".12">0</text><text x="31.1" y="365.9" text-anchor="end" font-size="6.3" textLength="6" lengthAdjust="spacingAndGlyphs" fill="#1a1a1a" stroke="#1a1a1a" stroke-width=".12">10</text><text x="31.1" y="350.6" text-anchor="end" font-size="6.3" textLength="6" lengthAdjust="spacingAndGlyphs" fill="#1a1a1a" stroke="#1a1a1a" stroke-width=".12">20</text><text x="31.1" y="335.2" text-anchor="end" font-size="6.3" textLength="6" lengthAdjust="spacingAndGlyphs" fill="#1a1a1a" stroke="#1a1a1a" stroke-width=".12">30</text><text x="31.1" y="319.9" text-anchor="end" font-size="6.3" textLength="6" lengthAdjust="spacingAndGlyphs" fill="#1a1a1a" stroke="#1a1a1a" stroke-width=".12">40</text><text x="31.1" y="304.6" text-anchor="end" font-size="6.3" textLength="6" lengthAdjust="spacingAndGlyphs" fill="#1a1a1a" stroke="#1a1a1a" stroke-width=".12">50</text><text x="31.1" y="289.2" text-anchor="end" font-size="6.3" textLength="6" lengthAdjust="spacingAndGlyphs" fill="#1a1a1a" stroke="#1a1a1a" stroke-width=".12">60</text><text x="31.1" y="273.9" text-anchor="end" font-size="6.3" textLength="6" lengthAdjust="spacingAndGlyphs" fill="#1a1a1a" stroke="#1a1a1a" stroke-width=".12">70</text><text x="31.1" y="258.5" text-anchor="end" font-size="6.3" textLength="6" lengthAdjust="spacingAndGlyphs" fill="#1a1a1a" stroke="#1a1a1a" stroke-width=".12">80</text><text x="31.1" y="243.2" text-anchor="end" font-size="6.3" textLength="6" lengthAdjust="spacingAndGlyphs" fill="#1a1a1a" stroke="#1a1a1a" stroke-width=".12">90</text><text x="31.1" y="227.8" text-anchor="end" font-size="6.3" textLength="9" lengthAdjust="spacingAndGlyphs" fill="#1a1a1a" stroke="#1a1a1a" stroke-width=".12">100</text><path d="M33.4 379v-2.3M33.4 225.5v2.3M69.2 379v-2.3M69.2 225.5v2.3M105 379v-2.3M105 225.5v2.3M140.7 379v-2.3M140.7 225.5v2.3M176.5 379v-2.3M176.5 225.5v2.3M212.3 379v-2.3M212.3 225.5v2.3M248.1 379v-2.3M248.1 225.5v2.3M33.4 379h2.3M248.1 379h-2.3M33.4 363.6h2.3M248.1 363.6h-2.3M33.4 348.3h2.3M248.1 348.3h-2.3M33.4 332.9h2.3M248.1 332.9h-2.3M33.4 317.6h2.3M248.1 317.6h-2.3M33.4 302.2h2.3M248.1 302.2h-2.3M33.4 286.9h2.3M248.1 286.9h-2.3M33.4 271.6h2.3M248.1 271.6h-2.3M33.4 256.2h2.3M248.1 256.2h-2.3M33.4 240.8h2.3M248.1 240.8h-2.3M33.4 225.5h2.3M248.1 225.5h-2.3" stroke="#1a1a2a" stroke-width="1"/><text x="140.8" y="394.8" text-anchor="middle" font-size="6.2" fill="#1a1a1a" stroke="#1a1a1a" stroke-width=".1">Wavelength [nm]</text><text transform="translate(19.9 302.2) rotate(-90)" text-anchor="middle" font-size="6.2" fill="#1a1a1a" stroke="#1a1a1a" stroke-width=".1">Reflection factor [%]</text><path d="M289.7 327.6C290.1 328.3 291.2 330.1 292.2 331.9C293.2 333.7 294.2 336.9 295.6 338.6C297 340.3 298.7 341.1 300.7 342C302.7 342.9 304.4 343.4 307.5 343.7C310.6 344 315.4 343.4 319.3 343.7C323.2 344 327.7 344.9 331.2 345.4C334.7 345.9 337.1 346.4 340.4 346.6C343.6 346.8 347.2 346.8 350.7 346.6C354.1 346.4 357.7 345.7 361.1 345.2C364.6 344.7 368.2 344.8 371.4 343.5C374.5 342.2 377.6 339.9 380 337.5C382.4 335.1 383.8 331.7 385.7 329C387.6 326.3 389.6 324.2 391.4 321.4C393.1 318.5 394.8 315.1 396.2 311.9C397.6 308.7 398.7 305.6 400 302.4C401.3 299.2 402.4 296.1 403.8 292.9C405.2 289.7 407 286.3 408.6 283.3C410.2 280.3 411.9 277 413.3 274.8C414.7 272.6 415.6 271.8 417.1 270C418.6 268.2 420.3 265.8 422.5 264.2C424.7 262.6 427.9 260.4 430.1 260.6C432.3 260.8 433.5 263.2 435.5 265.3C437.5 267.4 439.8 270 442 272.9C444.2 275.8 446.3 279.2 448.5 282.6C450.7 286 452.8 289.9 455 293.5C457.2 297.1 459.3 300.7 461.5 304.3C463.7 307.9 465.5 311.5 468 315.1C470.5 318.7 474.1 322.8 476.6 326C479.1 329.2 480.9 332.8 483.1 334.6C485.3 336.4 487.4 336.4 489.6 336.8C491.8 337.2 494.1 337.4 496.1 336.8C498.1 336.2 500.2 334.1 501.5 333.5C502.8 332.9 503.6 333.5 504 333.5L504 339.5C503.6 339.8 502.8 340 501.5 341.1C500.2 342.2 498.1 345 496.1 345.9C494.1 346.8 491.8 346.6 489.6 346.5C487.4 346.4 485.3 346.4 483.1 345.5C480.9 344.6 479.1 343.1 476.6 341.1C474.1 339.1 470.5 336 468 333.5C465.5 331 463.7 328.3 461.5 326C459.3 323.7 457.2 322 455 319.5C452.8 317 450.7 313.3 448.5 310.8C446.3 308.3 444.2 306.3 442 304.3C439.8 302.3 437.5 300.5 435.5 298.9C433.5 297.3 432.3 294.4 430 294.8C427.7 295.2 424.4 298.9 421.9 301.4C419.4 303.9 417.4 307.1 415.2 310C413 312.9 410.8 315.4 408.6 318.6C406.4 321.8 404 325.6 401.9 329C399.8 332.4 398.5 336.4 396.2 339C393.9 341.6 390.8 342.9 388 344.5C385.2 346.1 382.5 347.8 379.7 348.7C376.9 349.6 374.5 349.5 371.4 349.7C368.3 349.9 364.6 349.5 361.1 349.7C357.7 349.9 354.1 350.5 350.7 350.8C347.2 351.1 343.6 351.6 340.4 351.4C337.1 351.2 334.7 350.1 331.2 349.7C327.7 349.3 323.2 348.9 319.3 348.8C315.4 348.7 310.6 348.9 307.5 348.8C304.4 348.7 302.7 348.4 300.7 348C298.7 347.6 297 347.3 295.6 346.3C294.2 345.3 293.2 343.3 292.2 342C291.2 340.7 290.1 339.2 289.7 338.6Z" fill="#2f8ce6" stroke="#3b9a86" stroke-width=".35"/><path d="M289.7 332.7C290.1 333.7 291.2 336.8 292.2 338.6C293.2 340.4 294.2 342.6 295.6 343.7C297 344.8 298.7 345 300.7 345.4C302.7 345.8 304.4 346.1 307.5 346.3C310.6 346.5 315.4 346.2 319.3 346.3C323.2 346.4 327.7 346.6 331.2 347.1C334.7 347.6 337.1 348.9 340.4 349.3C343.6 349.7 347.2 349.6 350.7 349.3C354.1 349 357.7 347.8 361.1 347.6C364.6 347.4 368.3 348.4 371.4 348.1C374.5 347.8 377.3 347 379.7 345.6C382.1 344.2 383.8 342 385.7 340C387.6 338 389.6 336.1 391.4 333.8C393.1 331.5 394.6 329.2 396.2 326.2C397.8 323.2 399.4 319 401 315.7C402.6 312.4 404.1 309 405.7 306.2C407.3 303.4 408.9 301.1 410.5 298.6C412.1 296.1 413.5 293.6 415.2 291C416.9 288.4 419.2 285.2 420.9 283.3C422.6 281.4 424 280.4 425.5 279.5C427 278.6 428.4 277.5 430.1 277.7C431.8 277.9 433.5 278.9 435.5 280.5C437.5 282.1 439.8 284.1 442 287C444.2 289.9 446.3 294.6 448.5 297.8C450.7 301.1 452.8 303.2 455 306.5C457.2 309.8 459.3 314.1 461.5 317.3C463.7 320.6 465.5 323.3 468 326C470.5 328.7 474.1 331.2 476.6 333.5C479.1 335.8 480.9 338.6 483.1 340C485.3 341.4 487.4 341.7 489.6 342.2C491.8 342.7 494.1 343.4 496.1 342.9C498.1 342.4 500.2 340 501.5 339C502.8 338 503.6 337.3 504 337" fill="none" stroke="#ee6a6a" stroke-width="2.2" stroke-linejoin="round"/><path d="M289.7 332.7C290.1 333.7 291.2 336.8 292.2 338.6C293.2 340.4 294.2 342.6 295.6 343.7C297 344.8 298.7 345 300.7 345.4C302.7 345.8 304.4 346.1 307.5 346.3C310.6 346.5 315.4 346.2 319.3 346.3C323.2 346.4 327.7 346.6 331.2 347.1C334.7 347.6 337.1 348.9 340.4 349.3C343.6 349.7 347.2 349.6 350.7 349.3C354.1 349 357.7 347.8 361.1 347.6C364.6 347.4 368.3 348.4 371.4 348.1C374.5 347.8 377.3 347 379.7 345.6C382.1 344.2 383.8 342 385.7 340C387.6 338 389.6 336.1 391.4 333.8C393.1 331.5 394.6 329.2 396.2 326.2C397.8 323.2 399.4 319 401 315.7C402.6 312.4 404.1 309 405.7 306.2C407.3 303.4 408.9 301.1 410.5 298.6C412.1 296.1 413.5 293.6 415.2 291C416.9 288.4 419.2 285.2 420.9 283.3C422.6 281.4 424 280.4 425.5 279.5C427 278.6 428.4 277.5 430.1 277.7C431.8 277.9 433.5 278.9 435.5 280.5C437.5 282.1 439.8 284.1 442 287C444.2 289.9 446.3 294.6 448.5 297.8C450.7 301.1 452.8 303.2 455 306.5C457.2 309.8 459.3 314.1 461.5 317.3C463.7 320.6 465.5 323.3 468 326C470.5 328.7 474.1 331.2 476.6 333.5C479.1 335.8 480.9 338.6 483.1 340C485.3 341.4 487.4 341.7 489.6 342.2C491.8 342.7 494.1 343.4 496.1 342.9C498.1 342.4 500.2 340 501.5 339C502.8 338 503.6 337.3 504 337" fill="none" stroke="#d42424" stroke-width="1.2" stroke-linejoin="round"/><rect x="289.7" y="225.5" width="214.7" height="153.5" fill="none" stroke="#1a1a2a" stroke-width="1.1"/><text x="289.7" y="387.4" text-anchor="middle" font-size="6.3" textLength="9.2" lengthAdjust="spacingAndGlyphs" fill="#1a1a1a" stroke="#1a1a1a" stroke-width=".12">400</text><text x="325.5" y="387.4" text-anchor="middle" font-size="6.3" textLength="9.2" lengthAdjust="spacingAndGlyphs" fill="#1a1a1a" stroke="#1a1a1a" stroke-width=".12">450</text><text x="361.3" y="387.4" text-anchor="middle" font-size="6.3" textLength="9.2" lengthAdjust="spacingAndGlyphs" fill="#1a1a1a" stroke="#1a1a1a" stroke-width=".12">500</text><text x="397" y="387.4" text-anchor="middle" font-size="6.3" textLength="9.2" lengthAdjust="spacingAndGlyphs" fill="#1a1a1a" stroke="#1a1a1a" stroke-width=".12">550</text><text x="432.8" y="387.4" text-anchor="middle" font-size="6.3" textLength="9.2" lengthAdjust="spacingAndGlyphs" fill="#1a1a1a" stroke="#1a1a1a" stroke-width=".12">600</text><text x="468.6" y="387.4" text-anchor="middle" font-size="6.3" textLength="9.2" lengthAdjust="spacingAndGlyphs" fill="#1a1a1a" stroke="#1a1a1a" stroke-width=".12">650</text><text x="504.4" y="387.4" text-anchor="middle" font-size="6.3" textLength="9.2" lengthAdjust="spacingAndGlyphs" fill="#1a1a1a" stroke="#1a1a1a" stroke-width=".12">700</text><text x="287.4" y="381.3" text-anchor="end" font-size="6.3" textLength="3" lengthAdjust="spacingAndGlyphs" fill="#1a1a1a" stroke="#1a1a1a" stroke-width=".12">0</text><text x="287.4" y="365.9" text-anchor="end" font-size="6.3" textLength="6" lengthAdjust="spacingAndGlyphs" fill="#1a1a1a" stroke="#1a1a1a" stroke-width=".12">10</text><text x="287.4" y="350.6" text-anchor="end" font-size="6.3" textLength="6" lengthAdjust="spacingAndGlyphs" fill="#1a1a1a" stroke="#1a1a1a" stroke-width=".12">20</text><text x="287.4" y="335.2" text-anchor="end" font-size="6.3" textLength="6" lengthAdjust="spacingAndGlyphs" fill="#1a1a1a" stroke="#1a1a1a" stroke-width=".12">30</text><text x="287.4" y="319.9" text-anchor="end" font-size="6.3" textLength="6" lengthAdjust="spacingAndGlyphs" fill="#1a1a1a" stroke="#1a1a1a" stroke-width=".12">40</text><text x="287.4" y="304.6" text-anchor="end" font-size="6.3" textLength="6" lengthAdjust="spacingAndGlyphs" fill="#1a1a1a" stroke="#1a1a1a" stroke-width=".12">50</text><text x="287.4" y="289.2" text-anchor="end" font-size="6.3" textLength="6" lengthAdjust="spacingAndGlyphs" fill="#1a1a1a" stroke="#1a1a1a" stroke-width=".12">60</text><text x="287.4" y="273.9" text-anchor="end" font-size="6.3" textLength="6" lengthAdjust="spacingAndGlyphs" fill="#1a1a1a" stroke="#1a1a1a" stroke-width=".12">70</text><text x="287.4" y="258.5" text-anchor="end" font-size="6.3" textLength="6" lengthAdjust="spacingAndGlyphs" fill="#1a1a1a" stroke="#1a1a1a" stroke-width=".12">80</text><text x="287.4" y="243.2" text-anchor="end" font-size="6.3" textLength="6" lengthAdjust="spacingAndGlyphs" fill="#1a1a1a" stroke="#1a1a1a" stroke-width=".12">90</text><text x="287.4" y="227.8" text-anchor="end" font-size="6.3" textLength="9" lengthAdjust="spacingAndGlyphs" fill="#1a1a1a" stroke="#1a1a1a" stroke-width=".12">100</text><path d="M289.7 379v-2.3M289.7 225.5v2.3M325.5 379v-2.3M325.5 225.5v2.3M361.3 379v-2.3M361.3 225.5v2.3M397 379v-2.3M397 225.5v2.3M432.8 379v-2.3M432.8 225.5v2.3M468.6 379v-2.3M468.6 225.5v2.3M504.4 379v-2.3M504.4 225.5v2.3M289.7 379h2.3M504.4 379h-2.3M289.7 363.6h2.3M504.4 363.6h-2.3M289.7 348.3h2.3M504.4 348.3h-2.3M289.7 332.9h2.3M504.4 332.9h-2.3M289.7 317.6h2.3M504.4 317.6h-2.3M289.7 302.2h2.3M504.4 302.2h-2.3M289.7 286.9h2.3M504.4 286.9h-2.3M289.7 271.6h2.3M504.4 271.6h-2.3M289.7 256.2h2.3M504.4 256.2h-2.3M289.7 240.8h2.3M504.4 240.8h-2.3M289.7 225.5h2.3M504.4 225.5h-2.3" stroke="#1a1a2a" stroke-width="1"/><text x="397" y="394.8" text-anchor="middle" font-size="6.2" fill="#1a1a1a" stroke="#1a1a1a" stroke-width=".1">Wavelength [nm]</text><text transform="translate(276.2 302.2) rotate(-90)" text-anchor="middle" font-size="6.2" fill="#1a1a1a" stroke="#1a1a1a" stroke-width=".1">Reflection factor [%]</text><g opacity=".13"><path d="M29.5 404.9V553.4M43.7 404.9V553.4M57.9 404.9V553.4M72.1 404.9V553.4M86.3 404.9V553.4M100.5 404.9V553.4M114.7 404.9V553.4M128.9 404.9V553.4M143.1 404.9V553.4M157.3 404.9V553.4M171.5 404.9V553.4M185.7 404.9V553.4M199.9 404.9V553.4M214.1 404.9V553.4M228.3 404.9V553.4M242.5 404.9V553.4M256.7 404.9V553.4" stroke="#ffffff" stroke-width="0.9" fill="none" opacity="1"/><path d="M29.5 553.4H256.7M29.5 545.1H256.7M29.5 536.9H256.7M29.5 528.6H256.7M29.5 520.4H256.7M29.5 512.1H256.7M29.5 503.9H256.7M29.5 495.6H256.7M29.5 487.4H256.7M29.5 479.1H256.7M29.5 470.9H256.7M29.5 462.6H256.7M29.5 454.4H256.7M29.5 446.1H256.7M29.5 437.9H256.7M29.5 429.6H256.7M29.5 421.4H256.7M29.5 413.1H256.7M29.5 404.9H256.7" stroke="#ffffff" stroke-width="0.9" fill="none" opacity="1"/></g><text transform="translate(18.8 554.9) scale(1 0.6)" text-anchor="middle" font-size="6.6" font-weight="bold" fill="#2a2a2a">0.0</text><text transform="translate(18.8 538.4) scale(1 0.6)" text-anchor="middle" font-size="6.6" font-weight="bold" fill="#2a2a2a">0.1</text><text transform="translate(18.8 521.9) scale(1 0.6)" text-anchor="middle" font-size="6.6" font-weight="bold" fill="#2a2a2a">0.2</text><text transform="translate(18.8 505.4) scale(1 0.6)" text-anchor="middle" font-size="6.6" font-weight="bold" fill="#2a2a2a">0.3</text><text transform="translate(18.8 488.9) scale(1 0.6)" text-anchor="middle" font-size="6.6" font-weight="bold" fill="#2a2a2a">0.4</text><text transform="translate(18.8 472.4) scale(1 0.6)" text-anchor="middle" font-size="6.6" font-weight="bold" fill="#2a2a2a">0.5</text><text transform="translate(18.8 455.9) scale(1 0.6)" text-anchor="middle" font-size="6.6" font-weight="bold" fill="#2a2a2a">0.6</text><text transform="translate(18.8 439.4) scale(1 0.6)" text-anchor="middle" font-size="6.6" font-weight="bold" fill="#2a2a2a">0.7</text><text transform="translate(18.8 422.9) scale(1 0.6)" text-anchor="middle" font-size="6.6" font-weight="bold" fill="#2a2a2a">0.8</text><text transform="translate(18.8 406.4) scale(1 0.6)" text-anchor="middle" font-size="6.6" font-weight="bold" fill="#2a2a2a">0.9</text><text transform="translate(29.5 560.5) scale(1 0.6)" text-anchor="middle" font-size="6.6" font-weight="bold" fill="#2a2a2a">0.0</text><text transform="translate(57.9 560.5) scale(1 0.6)" text-anchor="middle" font-size="6.6" font-weight="bold" fill="#2a2a2a">0.1</text><text transform="translate(86.3 560.5) scale(1 0.6)" text-anchor="middle" font-size="6.6" font-weight="bold" fill="#2a2a2a">0.2</text><text transform="translate(114.7 560.5) scale(1 0.6)" text-anchor="middle" font-size="6.6" font-weight="bold" fill="#2a2a2a">0.3</text><text transform="translate(143.1 560.5) scale(1 0.6)" text-anchor="middle" font-size="6.6" font-weight="bold" fill="#2a2a2a">0.4</text><text transform="translate(171.5 560.5) scale(1 0.6)" text-anchor="middle" font-size="6.6" font-weight="bold" fill="#2a2a2a">0.5</text><text transform="translate(199.9 560.5) scale(1 0.6)" text-anchor="middle" font-size="6.6" font-weight="bold" fill="#2a2a2a">0.6</text><text transform="translate(228.3 560.5) scale(1 0.6)" text-anchor="middle" font-size="6.6" font-weight="bold" fill="#2a2a2a">0.7</text><text transform="translate(256.7 560.5) scale(1 0.6)" text-anchor="middle" font-size="6.6" font-weight="bold" fill="#2a2a2a">0.8</text><g stroke="#111" stroke-width=".45"><text transform="translate(6.8 480.6) scale(1 0.6)" text-anchor="middle" font-size="10" font-weight="bold" fill="#111">y</text><text transform="translate(143.7 568.2) scale(1 0.6)" text-anchor="middle" font-size="10" font-weight="bold" fill="#111">x</text></g><text transform="translate(49.5 413.8) scale(1 0.62)" text-anchor="middle" font-size="8.2" font-weight="bold" fill="#62d030">520</text><text transform="translate(103.5 427.2) scale(1 0.62)" text-anchor="middle" font-size="8.2" font-weight="bold" fill="#62d030">540</text><text transform="translate(145 448.2) scale(1 0.62)" text-anchor="middle" font-size="8.2" font-weight="bold" fill="#62d030">560</text><text transform="translate(185.5 471.9) scale(1 0.62)" text-anchor="middle" font-size="8.2" font-weight="bold" fill="#62d030">580</text><text transform="translate(218.5 491.2) scale(1 0.62)" text-anchor="middle" font-size="8.2" font-weight="bold" fill="#62d030">600</text><text transform="translate(236.6 501.2) scale(1 0.62)" text-anchor="middle" font-size="8.2" font-weight="bold" fill="#62d030">620</text><text transform="translate(250.4 509.5) scale(1 0.62)" text-anchor="middle" font-size="8.2" font-weight="bold" fill="#62d030">700</text><text transform="translate(21.2 467.4) scale(1 0.62)" text-anchor="middle" font-size="8.2" font-weight="bold" fill="#62d030">500</text><text transform="translate(33 509.9) scale(1 0.62)" text-anchor="middle" font-size="8.2" font-weight="bold" fill="#62d030">490</text><text transform="translate(43 534.9) scale(1 0.62)" text-anchor="middle" font-size="8.2" font-weight="bold" fill="#62d030">480</text><text transform="translate(53 548.2) scale(1 0.62)" text-anchor="middle" font-size="8.2" font-weight="bold" fill="#62d030">470</text><text transform="translate(59.8 554.5) scale(1 0.62)" text-anchor="middle" font-size="8.2" font-weight="bold" fill="#62d030">460</text><text transform="translate(72.4 559.4) scale(1 0.62)" text-anchor="middle" font-size="8.2" font-weight="bold" fill="#62d030">380</text><path d="M50.6 414.2L50.6 416.2M96.5 428.6L98.6 426.8M137.5 449.2L139.6 447.4M177.2 472.4L179.4 470.6M209.8 491.4L212 489.8M227.8 501.4L230 499.8M240.2 509.4L242.6 508.4M28.4 464.6L31.4 464.6M40.2 506.2L42.4 505.8M50.4 532.6L53.2 532.2M60.4 545.4L62.8 544.6M66 551.2L68.2 550.2M79.2 555.2L80.2 553.6" stroke="#8a8a8a" stroke-width=".7"/><rect x="85" y="470.6" width="44.2" height="24.9" fill="none" stroke="#2a2a2a" stroke-width="1.3"/><circle cx="107.2" cy="474.5" r="1.65" fill="#000"/><circle cx="106.3" cy="475.8" r="1.65" fill="#000"/><circle cx="107.2" cy="476" r="1.65" fill="#000"/><circle cx="108.1" cy="475.9" r="1.65" fill="#000"/><circle cx="104.1" cy="475.8" r="1.65" fill="#000"/><circle cx="104.2" cy="476.3" r="1.65" fill="#000"/><circle cx="102.9" cy="476.5" r="1.65" fill="#000"/><circle cx="103.8" cy="477" r="1.65" fill="#000"/><circle cx="105.8" cy="476.5" r="1.65" fill="#000"/><circle cx="105.5" cy="477.1" r="1.65" fill="#000"/><circle cx="106.5" cy="477" r="1.65" fill="#000"/><circle cx="105.3" cy="477.5" r="1.65" fill="#000"/><circle cx="106.5" cy="477.5" r="1.65" fill="#000"/><circle cx="107.4" cy="477.4" r="1.65" fill="#000"/><circle cx="108.5" cy="476.9" r="1.65" fill="#000"/><circle cx="108.8" cy="476.1" r="1.65" fill="#000"/><circle cx="101.6" cy="478" r="1.65" fill="#000"/><circle cx="102.4" cy="477.9" r="1.65" fill="#000"/><circle cx="103.2" cy="478" r="1.65" fill="#000"/><circle cx="103.9" cy="477.7" r="1.65" fill="#000"/><circle cx="100.3" cy="478.6" r="1.65" fill="#000"/><circle cx="101.3" cy="478.4" r="1.65" fill="#000"/><circle cx="102.1" cy="478.4" r="1.65" fill="#000"/><circle cx="103" cy="478.5" r="1.65" fill="#000"/><circle cx="103.8" cy="478.5" r="1.65" fill="#000"/><circle cx="101.8" cy="479.1" r="1.65" fill="#000"/><circle cx="102.7" cy="479" r="1.65" fill="#000"/><circle cx="103.5" cy="479.2" r="1.65" fill="#000"/><circle cx="104.4" cy="479.4" r="1.65" fill="#000"/><circle cx="105.2" cy="478.8" r="1.65" fill="#000"/><circle cx="105.8" cy="478.5" r="1.65" fill="#000"/><circle cx="106.5" cy="478.3" r="1.65" fill="#000"/><circle cx="107.4" cy="478.2" r="1.65" fill="#000"/><circle cx="108.1" cy="478.4" r="1.65" fill="#000"/><circle cx="105.2" cy="479.4" r="1.65" fill="#000"/><circle cx="98.4" cy="479" r="1.65" fill="#000"/><circle cx="98.7" cy="480.1" r="1.65" fill="#000"/><circle cx="98.7" cy="480.9" r="1.65" fill="#000"/><circle cx="98.5" cy="481.3" r="1.65" fill="#000"/><circle cx="97.7" cy="481.6" r="1.65" fill="#000"/><circle cx="98.2" cy="481.9" r="1.65" fill="#000"/><circle cx="97.3" cy="482.1" r="1.65" fill="#000"/><circle cx="102.7" cy="480" r="1.65" fill="#000"/><circle cx="103.5" cy="480.3" r="1.65" fill="#000"/><circle cx="102.1" cy="480.7" r="1.65" fill="#000"/><circle cx="101.6" cy="481.2" r="1.65" fill="#000"/><circle cx="102.4" cy="481.3" r="1.65" fill="#000"/><circle cx="100.7" cy="481.9" r="1.65" fill="#000"/><circle cx="101.3" cy="482" r="1.65" fill="#000"/><circle cx="103.2" cy="481.2" r="1.65" fill="#000"/><circle cx="105.2" cy="480.9" r="1.65" fill="#000"/><circle cx="106" cy="480.5" r="1.65" fill="#000"/><circle cx="106.9" cy="480.7" r="1.65" fill="#000"/><circle cx="106" cy="481.4" r="1.65" fill="#000"/><circle cx="108" cy="481.6" r="1.65" fill="#000"/><circle cx="108.5" cy="481.3" r="1.65" fill="#000"/><circle cx="109" cy="474.9" r="1.65" fill="#000"/><circle cx="110.6" cy="474.5" r="1.65" fill="#000"/><circle cx="111.2" cy="474.9" r="1.65" fill="#000"/><circle cx="110.9" cy="475.4" r="1.65" fill="#000"/><circle cx="109.4" cy="476.4" r="1.65" fill="#000"/><circle cx="110.2" cy="476.2" r="1.65" fill="#000"/><circle cx="110.7" cy="476.6" r="1.65" fill="#000"/><circle cx="109.5" cy="477.1" r="1.65" fill="#000"/><circle cx="109" cy="478.3" r="1.65" fill="#000"/><circle cx="113.5" cy="475.3" r="1.65" fill="#000"/><circle cx="115.2" cy="475.1" r="1.65" fill="#000"/><circle cx="114.4" cy="476.1" r="1.65" fill="#000"/><circle cx="116" cy="476.1" r="1.65" fill="#000"/><circle cx="115.3" cy="477.4" r="1.65" fill="#000"/><circle cx="117.3" cy="477" r="1.65" fill="#000"/><circle cx="118.3" cy="476.8" r="1.65" fill="#000"/><circle cx="121.3" cy="477.9" r="1.65" fill="#000"/><circle cx="119.9" cy="479.3" r="1.65" fill="#000"/><circle cx="112" cy="479.2" r="1.65" fill="#000"/><circle cx="110.1" cy="480.7" r="1.65" fill="#000"/><circle cx="109.7" cy="481.3" r="1.65" fill="#000"/><circle cx="109.3" cy="481.9" r="1.65" fill="#000"/><circle cx="110.2" cy="481.9" r="1.65" fill="#000"/><circle cx="112.1" cy="481.9" r="1.65" fill="#000"/><circle cx="112.8" cy="482" r="1.65" fill="#000"/><circle cx="117.8" cy="481.8" r="1.65" fill="#000"/><circle cx="97.4" cy="482.2" r="1.65" fill="#000"/><circle cx="98.2" cy="482.1" r="1.65" fill="#000"/><circle cx="98" cy="481.5" r="1.65" fill="#000"/><circle cx="100.3" cy="482.3" r="1.65" fill="#000"/><circle cx="101.3" cy="481.8" r="1.65" fill="#000"/><circle cx="102.4" cy="481.5" r="1.65" fill="#000"/><circle cx="106" cy="481.5" r="1.65" fill="#000"/><circle cx="107.7" cy="481.7" r="1.65" fill="#000"/><circle cx="108.3" cy="482.4" r="1.65" fill="#000"/><circle cx="102.5" cy="482.9" r="1.65" fill="#000"/><circle cx="103.1" cy="483.2" r="1.65" fill="#000"/><circle cx="103.5" cy="482.4" r="1.65" fill="#000"/><circle cx="103.9" cy="483.4" r="1.65" fill="#000"/><circle cx="105.5" cy="482.5" r="1.65" fill="#000"/><circle cx="105.9" cy="482.9" r="1.65" fill="#000"/><circle cx="107.9" cy="484" r="1.65" fill="#000"/><circle cx="94.7" cy="484.4" r="1.65" fill="#000"/><circle cx="96.3" cy="483.8" r="1.65" fill="#000"/><circle cx="96.2" cy="484.4" r="1.65" fill="#000"/><circle cx="99.9" cy="484.8" r="1.65" fill="#000"/><circle cx="100.6" cy="484.6" r="1.65" fill="#000"/><circle cx="101.4" cy="485.2" r="1.65" fill="#000"/><circle cx="102.1" cy="485.8" r="1.65" fill="#000"/><circle cx="103.1" cy="484.6" r="1.65" fill="#000"/><circle cx="103.2" cy="485" r="1.65" fill="#000"/><circle cx="104.3" cy="485.1" r="1.65" fill="#000"/><circle cx="107.6" cy="485.6" r="1.65" fill="#000"/><circle cx="108.2" cy="486.4" r="1.65" fill="#000"/><circle cx="99.6" cy="486.7" r="1.65" fill="#000"/><circle cx="99.2" cy="488" r="1.65" fill="#000"/><circle cx="99.4" cy="487.8" r="1.65" fill="#000"/><circle cx="103.9" cy="487.8" r="1.65" fill="#000"/><circle cx="106.3" cy="489.2" r="1.65" fill="#000"/><circle cx="109.3" cy="481.7" r="1.65" fill="#000"/><circle cx="110.1" cy="481.8" r="1.65" fill="#000"/><circle cx="110.4" cy="482.3" r="1.65" fill="#000"/><circle cx="109.8" cy="482.8" r="1.65" fill="#000"/><circle cx="111.1" cy="482.6" r="1.65" fill="#000"/><circle cx="112.1" cy="482" r="1.65" fill="#000"/><circle cx="112.8" cy="482" r="1.65" fill="#000"/><circle cx="114.4" cy="482.6" r="1.65" fill="#000"/><circle cx="117.8" cy="481.8" r="1.65" fill="#000"/><circle cx="109.5" cy="483.6" r="1.65" fill="#000"/><circle cx="112.3" cy="483.5" r="1.65" fill="#000"/><circle cx="112.5" cy="484.2" r="1.65" fill="#000"/><circle cx="110" cy="485.3" r="1.65" fill="#000"/><circle cx="110.2" cy="485.7" r="1.65" fill="#000"/><circle cx="109.9" cy="486.1" r="1.65" fill="#000"/><circle cx="112.5" cy="485.4" r="1.65" fill="#000"/><circle cx="115.1" cy="484.8" r="1.65" fill="#000"/><circle cx="115.5" cy="485" r="1.65" fill="#000"/><circle cx="115.2" cy="485.5" r="1.65" fill="#000"/><circle cx="112.1" cy="486.7" r="1.65" fill="#000"/><circle cx="116.5" cy="487.8" r="1.65" fill="#000"/><circle cx="107.2" cy="474.5" r="1.65" fill="#000"/><circle cx="108.8" cy="475" r="1.65" fill="#000"/><circle cx="106.3" cy="475.7" r="1.65" fill="#000"/><circle cx="107.2" cy="475.9" r="1.65" fill="#000"/><circle cx="108.4" cy="475.5" r="1.65" fill="#000"/><circle cx="104.1" cy="475.7" r="1.65" fill="#000"/><circle cx="103" cy="476.5" r="1.65" fill="#000"/><circle cx="104.1" cy="476.5" r="1.65" fill="#000"/><circle cx="104.4" cy="477.2" r="1.65" fill="#000"/><circle cx="105.6" cy="476.7" r="1.65" fill="#000"/><circle cx="106.5" cy="476.7" r="1.65" fill="#000"/><circle cx="105.6" cy="477.4" r="1.65" fill="#000"/><circle cx="106.5" cy="477.4" r="1.65" fill="#000"/><circle cx="107.7" cy="476.7" r="1.65" fill="#000"/><circle cx="108.7" cy="476.5" r="1.65" fill="#000"/><circle cx="109.4" cy="476.7" r="1.65" fill="#000"/><circle cx="108.2" cy="477.6" r="1.65" fill="#000"/><circle cx="108.9" cy="478.1" r="1.65" fill="#000"/><circle cx="101.5" cy="478" r="1.65" fill="#000"/><circle cx="102.5" cy="478" r="1.65" fill="#000"/><circle cx="103.4" cy="477.8" r="1.65" fill="#000"/><circle cx="100.3" cy="478.7" r="1.65" fill="#000"/><circle cx="101.3" cy="478.6" r="1.65" fill="#000"/><circle cx="102.2" cy="478.6" r="1.65" fill="#000"/><circle cx="103.2" cy="478.6" r="1.65" fill="#000"/><circle cx="103.9" cy="478.4" r="1.65" fill="#000"/><circle cx="102" cy="479.1" r="1.65" fill="#000"/><circle cx="103" cy="479.1" r="1.65" fill="#000"/><circle cx="103.7" cy="479.1" r="1.65" fill="#000"/><circle cx="104.4" cy="479.3" r="1.65" fill="#000"/><circle cx="105.1" cy="479" r="1.65" fill="#000"/><circle cx="105.8" cy="478.6" r="1.65" fill="#000"/><circle cx="106.8" cy="478.4" r="1.65" fill="#000"/><circle cx="107.2" cy="479" r="1.65" fill="#000"/><circle cx="108.2" cy="478.4" r="1.65" fill="#000"/><circle cx="102.7" cy="479.9" r="1.65" fill="#000"/><circle cx="103.4" cy="479.5" r="1.65" fill="#000"/><circle cx="98.4" cy="479" r="1.65" fill="#000"/><circle cx="98.7" cy="480.1" r="1.65" fill="#000"/><circle cx="101.8" cy="480.9" r="1.65" fill="#000"/><circle cx="102.2" cy="481.1" r="1.65" fill="#000"/><circle cx="105.1" cy="481" r="1.65" fill="#000"/><circle cx="106.1" cy="480.5" r="1.65" fill="#000"/><circle cx="107" cy="480.9" r="1.65" fill="#000"/><circle cx="103.5" cy="480.5" r="1.65" fill="#000"/><circle cx="106" cy="479.7" r="1.6" fill="#fff"/><circle cx="106" cy="479.7" r=".7" fill="#333"/><path d="M85 495.5L34.7 577.9M129.2 495.5L248.8 577.9" stroke="#111" stroke-width="1.1"/><g opacity=".13"><path d="M296 404.9V553.4M310.2 404.9V553.4M324.4 404.9V553.4M338.6 404.9V553.4M352.8 404.9V553.4M367 404.9V553.4M381.2 404.9V553.4M395.4 404.9V553.4M409.6 404.9V553.4M423.8 404.9V553.4M438 404.9V553.4M452.2 404.9V553.4M466.4 404.9V553.4M480.6 404.9V553.4M494.8 404.9V553.4M509 404.9V553.4M523.2 404.9V553.4" stroke="#ffffff" stroke-width="0.9" fill="none" opacity="1"/><path d="M296 553.4H523.2M296 545.1H523.2M296 536.9H523.2M296 528.6H523.2M296 520.4H523.2M296 512.1H523.2M296 503.9H523.2M296 495.6H523.2M296 487.4H523.2M296 479.1H523.2M296 470.9H523.2M296 462.6H523.2M296 454.4H523.2M296 446.1H523.2M296 437.9H523.2M296 429.6H523.2M296 421.4H523.2M296 413.1H523.2M296 404.9H523.2" stroke="#ffffff" stroke-width="0.9" fill="none" opacity="1"/></g><text transform="translate(285.3 554.9) scale(1 0.6)" text-anchor="middle" font-size="6.6" font-weight="bold" fill="#2a2a2a">0.0</text><text transform="translate(285.3 538.4) scale(1 0.6)" text-anchor="middle" font-size="6.6" font-weight="bold" fill="#2a2a2a">0.1</text><text transform="translate(285.3 521.9) scale(1 0.6)" text-anchor="middle" font-size="6.6" font-weight="bold" fill="#2a2a2a">0.2</text><text transform="translate(285.3 505.4) scale(1 0.6)" text-anchor="middle" font-size="6.6" font-weight="bold" fill="#2a2a2a">0.3</text><text transform="translate(285.3 488.9) scale(1 0.6)" text-anchor="middle" font-size="6.6" font-weight="bold" fill="#2a2a2a">0.4</text><text transform="translate(285.3 472.4) scale(1 0.6)" text-anchor="middle" font-size="6.6" font-weight="bold" fill="#2a2a2a">0.5</text><text transform="translate(285.3 455.9) scale(1 0.6)" text-anchor="middle" font-size="6.6" font-weight="bold" fill="#2a2a2a">0.6</text><text transform="translate(285.3 439.4) scale(1 0.6)" text-anchor="middle" font-size="6.6" font-weight="bold" fill="#2a2a2a">0.7</text><text transform="translate(285.3 422.9) scale(1 0.6)" text-anchor="middle" font-size="6.6" font-weight="bold" fill="#2a2a2a">0.8</text><text transform="translate(285.3 406.4) scale(1 0.6)" text-anchor="middle" font-size="6.6" font-weight="bold" fill="#2a2a2a">0.9</text><text transform="translate(296 560.5) scale(1 0.6)" text-anchor="middle" font-size="6.6" font-weight="bold" fill="#2a2a2a">0.0</text><text transform="translate(324.4 560.5) scale(1 0.6)" text-anchor="middle" font-size="6.6" font-weight="bold" fill="#2a2a2a">0.1</text><text transform="translate(352.8 560.5) scale(1 0.6)" text-anchor="middle" font-size="6.6" font-weight="bold" fill="#2a2a2a">0.2</text><text transform="translate(381.2 560.5) scale(1 0.6)" text-anchor="middle" font-size="6.6" font-weight="bold" fill="#2a2a2a">0.3</text><text transform="translate(409.6 560.5) scale(1 0.6)" text-anchor="middle" font-size="6.6" font-weight="bold" fill="#2a2a2a">0.4</text><text transform="translate(438 560.5) scale(1 0.6)" text-anchor="middle" font-size="6.6" font-weight="bold" fill="#2a2a2a">0.5</text><text transform="translate(466.4 560.5) scale(1 0.6)" text-anchor="middle" font-size="6.6" font-weight="bold" fill="#2a2a2a">0.6</text><text transform="translate(494.8 560.5) scale(1 0.6)" text-anchor="middle" font-size="6.6" font-weight="bold" fill="#2a2a2a">0.7</text><text transform="translate(523.2 560.5) scale(1 0.6)" text-anchor="middle" font-size="6.6" font-weight="bold" fill="#2a2a2a">0.8</text><g stroke="#111" stroke-width=".45"><text transform="translate(273.3 480.6) scale(1 0.6)" text-anchor="middle" font-size="10" font-weight="bold" fill="#111">y</text><text transform="translate(410.2 568.2) scale(1 0.6)" text-anchor="middle" font-size="10" font-weight="bold" fill="#111">x</text></g><text transform="translate(316 413.8) scale(1 0.62)" text-anchor="middle" font-size="8.2" font-weight="bold" fill="#62d030">520</text><text transform="translate(370 427.2) scale(1 0.62)" text-anchor="middle" font-size="8.2" font-weight="bold" fill="#62d030">540</text><text transform="translate(411.5 448.2) scale(1 0.62)" text-anchor="middle" font-size="8.2" font-weight="bold" fill="#62d030">560</text><text transform="translate(452 471.9) scale(1 0.62)" text-anchor="middle" font-size="8.2" font-weight="bold" fill="#62d030">580</text><text transform="translate(485 491.2) scale(1 0.62)" text-anchor="middle" font-size="8.2" font-weight="bold" fill="#62d030">600</text><text transform="translate(503.1 501.2) scale(1 0.62)" text-anchor="middle" font-size="8.2" font-weight="bold" fill="#62d030">620</text><text transform="translate(516.9 509.5) scale(1 0.62)" text-anchor="middle" font-size="8.2" font-weight="bold" fill="#62d030">700</text><text transform="translate(287.7 467.4) scale(1 0.62)" text-anchor="middle" font-size="8.2" font-weight="bold" fill="#62d030">500</text><text transform="translate(299.5 509.9) scale(1 0.62)" text-anchor="middle" font-size="8.2" font-weight="bold" fill="#62d030">490</text><text transform="translate(309.5 534.9) scale(1 0.62)" text-anchor="middle" font-size="8.2" font-weight="bold" fill="#62d030">480</text><text transform="translate(319.5 548.2) scale(1 0.62)" text-anchor="middle" font-size="8.2" font-weight="bold" fill="#62d030">470</text><text transform="translate(326.3 554.5) scale(1 0.62)" text-anchor="middle" font-size="8.2" font-weight="bold" fill="#62d030">460</text><text transform="translate(338.9 559.4) scale(1 0.62)" text-anchor="middle" font-size="8.2" font-weight="bold" fill="#62d030">380</text><path d="M317.1 414.2L317.1 416.2M363 428.6L365.1 426.8M404 449.2L406.1 447.4M443.7 472.4L445.9 470.6M476.3 491.4L478.5 489.8M494.3 501.4L496.5 499.8M506.7 509.4L509.1 508.4M294.9 464.6L297.9 464.6M306.7 506.2L308.9 505.8M316.9 532.6L319.7 532.2M326.9 545.4L329.3 544.6M332.5 551.2L334.7 550.2M345.7 555.2L346.7 553.6" stroke="#8a8a8a" stroke-width=".7"/><rect x="395" y="479.3" width="43.4" height="24.8" fill="none" stroke="#2a2a2a" stroke-width="1.3"/><circle cx="408.7" cy="485" r="1.65" fill="#000"/><circle cx="410.4" cy="485.1" r="1.65" fill="#000"/><circle cx="411.3" cy="484.8" r="1.65" fill="#000"/><circle cx="411.8" cy="486.2" r="1.65" fill="#000"/><circle cx="412.1" cy="487" r="1.65" fill="#000"/><circle cx="409.4" cy="487.5" r="1.65" fill="#000"/><circle cx="410.7" cy="487.4" r="1.65" fill="#000"/><circle cx="409.8" cy="487.9" r="1.65" fill="#000"/><circle cx="410.9" cy="487.9" r="1.65" fill="#000"/><circle cx="403.2" cy="488.6" r="1.65" fill="#000"/><circle cx="404.2" cy="488.3" r="1.65" fill="#000"/><circle cx="406.3" cy="488.1" r="1.65" fill="#000"/><circle cx="406.1" cy="488.7" r="1.65" fill="#000"/><circle cx="405.5" cy="489.4" r="1.65" fill="#000"/><circle cx="403" cy="489.7" r="1.65" fill="#000"/><circle cx="408.4" cy="488.6" r="1.65" fill="#000"/><circle cx="409.4" cy="488.9" r="1.65" fill="#000"/><circle cx="410.2" cy="488.7" r="1.65" fill="#000"/><circle cx="411.1" cy="488.9" r="1.65" fill="#000"/><circle cx="411.8" cy="489.1" r="1.65" fill="#000"/><circle cx="409.4" cy="489.6" r="1.65" fill="#000"/><circle cx="410.2" cy="489.8" r="1.65" fill="#000"/><circle cx="411.1" cy="489.4" r="1.65" fill="#000"/><circle cx="413" cy="489.3" r="1.65" fill="#000"/><circle cx="406.6" cy="490" r="1.65" fill="#000"/><circle cx="407.6" cy="490.1" r="1.65" fill="#000"/><circle cx="408.1" cy="490.5" r="1.65" fill="#000"/><circle cx="406.8" cy="490.5" r="1.65" fill="#000"/><circle cx="410.2" cy="490.3" r="1.65" fill="#000"/><circle cx="411.1" cy="490.3" r="1.65" fill="#000"/><circle cx="412.4" cy="490.5" r="1.65" fill="#000"/><circle cx="413" cy="490.5" r="1.65" fill="#000"/><circle cx="414.3" cy="487.8" r="1.65" fill="#000"/><circle cx="414.5" cy="488.6" r="1.65" fill="#000"/><circle cx="416.4" cy="488.3" r="1.65" fill="#000"/><circle cx="413.1" cy="489.3" r="1.65" fill="#000"/><circle cx="414.1" cy="489.3" r="1.65" fill="#000"/><circle cx="416.7" cy="489.5" r="1.65" fill="#000"/><circle cx="413.3" cy="490" r="1.65" fill="#000"/><circle cx="415" cy="490" r="1.65" fill="#000"/><circle cx="415.9" cy="490.2" r="1.65" fill="#000"/><circle cx="416.6" cy="490.2" r="1.65" fill="#000"/><circle cx="417.5" cy="490.3" r="1.65" fill="#000"/><circle cx="413.7" cy="490.5" r="1.65" fill="#000"/><circle cx="414.6" cy="490.5" r="1.65" fill="#000"/><circle cx="404.2" cy="492" r="1.65" fill="#000"/><circle cx="405.6" cy="492.3" r="1.65" fill="#000"/><circle cx="403.7" cy="493.3" r="1.65" fill="#000"/><circle cx="405.1" cy="493.4" r="1.65" fill="#000"/><circle cx="404.2" cy="494.2" r="1.65" fill="#000"/><circle cx="406.7" cy="490.7" r="1.65" fill="#000"/><circle cx="406.8" cy="491.7" r="1.65" fill="#000"/><circle cx="407.7" cy="491.1" r="1.65" fill="#000"/><circle cx="408.5" cy="491" r="1.65" fill="#000"/><circle cx="407.4" cy="492.7" r="1.65" fill="#000"/><circle cx="407.9" cy="493.1" r="1.65" fill="#000"/><circle cx="407.6" cy="494" r="1.65" fill="#000"/><circle cx="407" cy="494.8" r="1.65" fill="#000"/><circle cx="407.4" cy="495.8" r="1.65" fill="#000"/><circle cx="409.1" cy="493.8" r="1.65" fill="#000"/><circle cx="409.4" cy="495.1" r="1.65" fill="#000"/><circle cx="409.8" cy="492.6" r="1.65" fill="#000"/><circle cx="409.9" cy="491.9" r="1.65" fill="#000"/><circle cx="410.5" cy="491.1" r="1.65" fill="#000"/><circle cx="411.1" cy="492.3" r="1.65" fill="#000"/><circle cx="412.4" cy="492.3" r="1.65" fill="#000"/><circle cx="413" cy="491.6" r="1.65" fill="#000"/><circle cx="410.9" cy="493.8" r="1.65" fill="#000"/><circle cx="411.5" cy="493.8" r="1.65" fill="#000"/><circle cx="412.4" cy="493.8" r="1.65" fill="#000"/><circle cx="411.1" cy="494.7" r="1.65" fill="#000"/><circle cx="411.7" cy="494.5" r="1.65" fill="#000"/><circle cx="412.6" cy="494.5" r="1.65" fill="#000"/><circle cx="411.1" cy="495.1" r="1.65" fill="#000"/><circle cx="413" cy="493.3" r="1.65" fill="#000"/><circle cx="412.9" cy="491.2" r="1.65" fill="#000"/><circle cx="412.9" cy="492.3" r="1.65" fill="#000"/><circle cx="413.3" cy="491.9" r="1.65" fill="#000"/><circle cx="414.2" cy="492.3" r="1.65" fill="#000"/><circle cx="415" cy="492.6" r="1.65" fill="#000"/><circle cx="414.6" cy="493.1" r="1.65" fill="#000"/><circle cx="415.5" cy="493" r="1.65" fill="#000"/><circle cx="416.3" cy="491.8" r="1.65" fill="#000"/><circle cx="416.5" cy="492.3" r="1.65" fill="#000"/><circle cx="417.2" cy="492.5" r="1.65" fill="#000"/><circle cx="417.4" cy="492.1" r="1.65" fill="#000"/><circle cx="418.1" cy="491.9" r="1.65" fill="#000"/><circle cx="418.1" cy="492.5" r="1.65" fill="#000"/><circle cx="419.9" cy="492" r="1.65" fill="#000"/><circle cx="420.5" cy="491.9" r="1.65" fill="#000"/><circle cx="419.3" cy="493.1" r="1.65" fill="#000"/><circle cx="415.9" cy="493.8" r="1.65" fill="#000"/><circle cx="417.4" cy="494.2" r="1.65" fill="#000"/><circle cx="417.8" cy="494.5" r="1.65" fill="#000"/><circle cx="414.8" cy="494.6" r="1.65" fill="#000"/><circle cx="415.9" cy="494.7" r="1.65" fill="#000"/><circle cx="413.3" cy="494.6" r="1.65" fill="#000"/><circle cx="412.8" cy="494.5" r="1.65" fill="#000"/><circle cx="419.3" cy="495" r="1.65" fill="#000"/><circle cx="414.1" cy="495.9" r="1.65" fill="#000"/><circle cx="412.8" cy="493.7" r="1.65" fill="#000"/><circle cx="412.4" cy="494" r="1.65" fill="#000"/><circle cx="411.8" cy="486.3" r="1.65" fill="#000"/><circle cx="412.1" cy="487.1" r="1.65" fill="#000"/><circle cx="409.3" cy="487.5" r="1.65" fill="#000"/><circle cx="410.8" cy="487.5" r="1.65" fill="#000"/><circle cx="409.8" cy="488" r="1.65" fill="#000"/><circle cx="408.3" cy="488.6" r="1.65" fill="#000"/><circle cx="409.5" cy="488.7" r="1.65" fill="#000"/><circle cx="410.9" cy="488.7" r="1.65" fill="#000"/><circle cx="411.8" cy="489.2" r="1.65" fill="#000"/><circle cx="409.4" cy="489.7" r="1.65" fill="#000"/><circle cx="410.5" cy="489.7" r="1.65" fill="#000"/><circle cx="411.6" cy="489.7" r="1.65" fill="#000"/><circle cx="414.2" cy="487.8" r="1.65" fill="#000"/><circle cx="414.4" cy="488.6" r="1.65" fill="#000"/><circle cx="416.4" cy="488.2" r="1.65" fill="#000"/><circle cx="413" cy="489.4" r="1.65" fill="#000"/><circle cx="414.1" cy="489.4" r="1.65" fill="#000"/><circle cx="415" cy="490" r="1.65" fill="#000"/><circle cx="415.8" cy="490.2" r="1.65" fill="#000"/><circle cx="416.6" cy="489.6" r="1.65" fill="#000"/><circle cx="417.5" cy="490.3" r="1.65" fill="#000"/><circle cx="407.6" cy="490.1" r="1.65" fill="#000"/><circle cx="408.4" cy="490.8" r="1.65" fill="#000"/><circle cx="410.3" cy="490.4" r="1.65" fill="#000"/><circle cx="410.3" cy="491" r="1.65" fill="#000"/><circle cx="411.1" cy="490.5" r="1.65" fill="#000"/><circle cx="412.9" cy="490.4" r="1.65" fill="#000"/><circle cx="413.6" cy="490.2" r="1.65" fill="#000"/><circle cx="414.3" cy="490.9" r="1.65" fill="#000"/><circle cx="412.9" cy="491.4" r="1.65" fill="#000"/><circle cx="413.6" cy="491.5" r="1.65" fill="#000"/><circle cx="414.3" cy="491.5" r="1.65" fill="#000"/><circle cx="415" cy="491.4" r="1.65" fill="#000"/><circle cx="416.2" cy="491.7" r="1.65" fill="#000"/><circle cx="417.1" cy="491.9" r="1.65" fill="#000"/><circle cx="418" cy="491.9" r="1.65" fill="#000"/><circle cx="419" cy="492.1" r="1.65" fill="#000"/><circle cx="410" cy="491.7" r="1.65" fill="#000"/><circle cx="410.9" cy="491.9" r="1.65" fill="#000"/><circle cx="411.7" cy="492.4" r="1.65" fill="#000"/><circle cx="412.4" cy="492.1" r="1.65" fill="#000"/><circle cx="413.4" cy="492.3" r="1.65" fill="#000"/><circle cx="414.3" cy="492.5" r="1.65" fill="#000"/><circle cx="415.2" cy="492.6" r="1.65" fill="#000"/><circle cx="416.2" cy="492.7" r="1.65" fill="#000"/><circle cx="417.1" cy="492.5" r="1.65" fill="#000"/><circle cx="418" cy="492.9" r="1.65" fill="#000"/><circle cx="419.3" cy="493.1" r="1.65" fill="#000"/><circle cx="408" cy="492.1" r="1.65" fill="#000"/><circle cx="407.7" cy="493.1" r="1.65" fill="#000"/><circle cx="409" cy="493.8" r="1.65" fill="#000"/><circle cx="410.8" cy="493.8" r="1.65" fill="#000"/><circle cx="411.7" cy="493.6" r="1.65" fill="#000"/><circle cx="412.7" cy="493.8" r="1.65" fill="#000"/><circle cx="413.4" cy="494.6" r="1.65" fill="#000"/><circle cx="411.1" cy="494.6" r="1.65" fill="#000"/><circle cx="412.3" cy="494.6" r="1.65" fill="#000"/><circle cx="415" cy="494.6" r="1.65" fill="#000"/><circle cx="415.9" cy="494.8" r="1.65" fill="#000"/><circle cx="417.6" cy="494.3" r="1.65" fill="#000"/><circle cx="409.5" cy="495.1" r="1.65" fill="#000"/><circle cx="411" cy="495.3" r="1.65" fill="#000"/><circle cx="407.6" cy="494" r="1.65" fill="#000"/><circle cx="419.2" cy="494.9" r="1.65" fill="#000"/><circle cx="415.9" cy="493.7" r="1.65" fill="#000"/><circle cx="412.4" cy="493.1" r="1.65" fill="#000"/><circle cx="413.4" cy="493.2" r="1.65" fill="#000"/><circle cx="414.3" cy="493.4" r="1.65" fill="#000"/><circle cx="410.3" cy="492.9" r="1.65" fill="#000"/><circle cx="412" cy="491.2" r="1.6" fill="#fff"/><circle cx="412" cy="491.2" r=".7" fill="#333"/><path d="M395 504.1L288.4 577.7M438.4 504.1L502.6 577.7" stroke="#111" stroke-width="1.1"/><g fill="#fff" opacity=".1"><rect x="177" y="580" width="3" height="149"/><rect x="37" y="678" width="209" height="3"/><rect x="37" y="624.5" width="209" height="3"/><rect x="430" y="580" width="3" height="149"/><rect x="344" y="580" width="3" height="149"/><rect x="291" y="676.5" width="209" height="3"/><rect x="291" y="623.5" width="209" height="3"/></g><g fill="none" stroke="#0a0a0a" stroke-width="1.8"><circle cx="142.4" cy="604" r="1.65"/><circle cx="138" cy="611.5" r="1.65"/><circle cx="142" cy="612.8" r="1.65"/><circle cx="146.6" cy="612.1" r="1.65"/><circle cx="127.7" cy="611.5" r="1.65"/><circle cx="128.1" cy="614.8" r="1.65"/><circle cx="121.9" cy="615.8" r="1.65"/><circle cx="126.1" cy="618.7" r="1.65"/><circle cx="135.4" cy="616.1" r="1.65"/><circle cx="134" cy="619.4" r="1.65"/><circle cx="138.7" cy="618.7" r="1.65"/><circle cx="133.4" cy="622" r="1.65"/><circle cx="138.7" cy="622" r="1.65"/><circle cx="143.3" cy="621.4" r="1.65"/><circle cx="148.5" cy="618.1" r="1.65"/><circle cx="149.9" cy="613.5" r="1.65"/><circle cx="115.6" cy="624.7" r="1.65"/><circle cx="119.5" cy="624" r="1.65"/><circle cx="123.5" cy="624.7" r="1.65"/><circle cx="126.8" cy="623.3" r="1.65"/><circle cx="109.7" cy="628.6" r="1.65"/><circle cx="114.3" cy="627.3" r="1.65"/><circle cx="118.2" cy="627.3" r="1.65"/><circle cx="122.2" cy="628" r="1.65"/><circle cx="126.1" cy="628" r="1.65"/><circle cx="116.9" cy="631.3" r="1.65"/><circle cx="120.9" cy="630.6" r="1.65"/><circle cx="124.8" cy="631.9" r="1.65"/><circle cx="128.8" cy="633.2" r="1.65"/><circle cx="132.7" cy="629.3" r="1.65"/><circle cx="135.4" cy="628" r="1.65"/><circle cx="138.7" cy="626.6" r="1.65"/><circle cx="143.3" cy="626" r="1.65"/><circle cx="146.6" cy="627.3" r="1.65"/><circle cx="132.7" cy="633.2" r="1.65"/><circle cx="100.7" cy="630.9" r="1.65"/><circle cx="102.1" cy="637.4" r="1.65"/><circle cx="101.8" cy="641.8" r="1.65"/><circle cx="101.1" cy="644.4" r="1.65"/><circle cx="97.1" cy="646.4" r="1.65"/><circle cx="99.8" cy="647.7" r="1.65"/><circle cx="95.2" cy="649" r="1.65"/><circle cx="120.9" cy="636.5" r="1.65"/><circle cx="124.8" cy="638.5" r="1.65"/><circle cx="118.2" cy="641.1" r="1.65"/><circle cx="115.6" cy="643.8" r="1.65"/><circle cx="119.5" cy="644.4" r="1.65"/><circle cx="111.6" cy="647.7" r="1.65"/><circle cx="114.3" cy="648.4" r="1.65"/><circle cx="123.5" cy="643.8" r="1.65"/><circle cx="132.7" cy="641.8" r="1.65"/><circle cx="136.7" cy="639.8" r="1.65"/><circle cx="140.6" cy="641.1" r="1.65"/><circle cx="136.7" cy="645.1" r="1.65"/><circle cx="145.9" cy="646.4" r="1.65"/><circle cx="148.5" cy="644.4" r="1.65"/><circle cx="150.7" cy="606.6" r="1.65"/><circle cx="158.2" cy="604.2" r="1.65"/><circle cx="161.2" cy="606.2" r="1.65"/><circle cx="159.5" cy="609.2" r="1.65"/><circle cx="152.6" cy="615.4" r="1.65"/><circle cx="156.6" cy="614.1" r="1.65"/><circle cx="159" cy="616.8" r="1.65"/><circle cx="153.3" cy="619.4" r="1.65"/><circle cx="150.7" cy="626.6" r="1.65"/><circle cx="172.1" cy="608.8" r="1.65"/><circle cx="180.3" cy="607.9" r="1.65"/><circle cx="176.4" cy="613.5" r="1.65"/><circle cx="184" cy="613.7" r="1.65"/><circle cx="180.6" cy="621.4" r="1.65"/><circle cx="190.2" cy="619.1" r="1.65"/><circle cx="194.8" cy="617.7" r="1.65"/><circle cx="209.1" cy="624.3" r="1.65"/><circle cx="202.1" cy="632.6" r="1.65"/><circle cx="164.8" cy="632.2" r="1.65"/><circle cx="155.9" cy="641.1" r="1.65"/><circle cx="154" cy="644.4" r="1.65"/><circle cx="152" cy="647.7" r="1.65"/><circle cx="156.6" cy="647.7" r="1.65"/><circle cx="165.2" cy="647.7" r="1.65"/><circle cx="168.5" cy="648.4" r="1.65"/><circle cx="192.2" cy="647.1" r="1.65"/><circle cx="95.8" cy="649.6" r="1.65"/><circle cx="99.8" cy="649" r="1.65"/><circle cx="98.5" cy="645.7" r="1.65"/><circle cx="109.7" cy="650.3" r="1.65"/><circle cx="114.3" cy="647.6" r="1.65"/><circle cx="119.5" cy="645.7" r="1.65"/><circle cx="136.7" cy="645.7" r="1.65"/><circle cx="144.6" cy="647" r="1.65"/><circle cx="147.2" cy="650.9" r="1.65"/><circle cx="120.2" cy="654.2" r="1.65"/><circle cx="122.8" cy="655.5" r="1.65"/><circle cx="124.8" cy="650.9" r="1.65"/><circle cx="126.8" cy="656.9" r="1.65"/><circle cx="134" cy="651.6" r="1.65"/><circle cx="136" cy="654.2" r="1.65"/><circle cx="145.3" cy="660.2" r="1.65"/><circle cx="83.3" cy="662.8" r="1.65"/><circle cx="90.5" cy="659.5" r="1.65"/><circle cx="90.3" cy="662.8" r="1.65"/><circle cx="107.7" cy="665.4" r="1.65"/><circle cx="111" cy="664.1" r="1.65"/><circle cx="114.9" cy="667.4" r="1.65"/><circle cx="118.2" cy="671.4" r="1.65"/><circle cx="122.8" cy="664.1" r="1.65"/><circle cx="123.5" cy="666.1" r="1.65"/><circle cx="128.5" cy="666.8" r="1.65"/><circle cx="143.9" cy="670" r="1.65"/><circle cx="147" cy="674.7" r="1.65"/><circle cx="106.1" cy="676.4" r="1.65"/><circle cx="104.4" cy="683.9" r="1.65"/><circle cx="105.3" cy="683" r="1.65"/><circle cx="126.8" cy="683" r="1.65"/><circle cx="138" cy="691.1" r="1.65"/><circle cx="152" cy="647" r="1.65"/><circle cx="155.9" cy="647.6" r="1.65"/><circle cx="157.3" cy="650.3" r="1.65"/><circle cx="154.6" cy="653.6" r="1.65"/><circle cx="160.5" cy="652.3" r="1.65"/><circle cx="165.2" cy="648.3" r="1.65"/><circle cx="168.5" cy="648.7" r="1.65"/><circle cx="176.1" cy="652.3" r="1.65"/><circle cx="192.2" cy="647.4" r="1.65"/><circle cx="152.9" cy="657.9" r="1.65"/><circle cx="166.5" cy="657.5" r="1.65"/><circle cx="167.4" cy="661.9" r="1.65"/><circle cx="155.5" cy="668.1" r="1.65"/><circle cx="156.3" cy="670.7" r="1.65"/><circle cx="155" cy="672.9" r="1.65"/><circle cx="167.1" cy="668.7" r="1.65"/><circle cx="179.7" cy="665.4" r="1.65"/><circle cx="181.6" cy="666.1" r="1.65"/><circle cx="180.1" cy="669.4" r="1.65"/><circle cx="165.6" cy="676.6" r="1.65"/><circle cx="186.3" cy="683" r="1.65"/><circle cx="142.5" cy="604" r="1.65"/><circle cx="149.8" cy="606.8" r="1.65"/><circle cx="137.9" cy="611.3" r="1.65"/><circle cx="142.5" cy="612.4" r="1.65"/><circle cx="148.1" cy="610.2" r="1.65"/><circle cx="127.8" cy="611.3" r="1.65"/><circle cx="122.1" cy="615.8" r="1.65"/><circle cx="127.8" cy="615.8" r="1.65"/><circle cx="128.9" cy="620.3" r="1.65"/><circle cx="134.5" cy="616.9" r="1.65"/><circle cx="139.1" cy="616.9" r="1.65"/><circle cx="134.5" cy="621.5" r="1.65"/><circle cx="139.1" cy="621.5" r="1.65"/><circle cx="144.7" cy="616.9" r="1.65"/><circle cx="149.2" cy="615.8" r="1.65"/><circle cx="152.6" cy="616.9" r="1.65"/><circle cx="147" cy="622.6" r="1.65"/><circle cx="150.4" cy="625.4" r="1.65"/><circle cx="115.3" cy="624.9" r="1.65"/><circle cx="119.9" cy="624.9" r="1.65"/><circle cx="124.4" cy="623.7" r="1.65"/><circle cx="109.7" cy="628.8" r="1.65"/><circle cx="114.2" cy="628.2" r="1.65"/><circle cx="118.7" cy="628.2" r="1.65"/><circle cx="123.2" cy="628.2" r="1.65"/><circle cx="126.6" cy="627.1" r="1.65"/><circle cx="117.6" cy="631.6" r="1.65"/><circle cx="122.1" cy="631.6" r="1.65"/><circle cx="125.5" cy="631.6" r="1.65"/><circle cx="128.9" cy="632.8" r="1.65"/><circle cx="132.3" cy="630.5" r="1.65"/><circle cx="135.7" cy="628.2" r="1.65"/><circle cx="140.2" cy="627.1" r="1.65"/><circle cx="142.5" cy="630.5" r="1.65"/><circle cx="147" cy="627.1" r="1.65"/><circle cx="121" cy="636.2" r="1.65"/><circle cx="124.4" cy="633.9" r="1.65"/><circle cx="100.6" cy="630.5" r="1.65"/><circle cx="101.8" cy="637.3" r="1.65"/><circle cx="116.5" cy="641.8" r="1.65"/><circle cx="118.7" cy="643.5" r="1.65"/><circle cx="132.3" cy="642.4" r="1.65"/><circle cx="136.8" cy="639.5" r="1.65"/><circle cx="141.3" cy="641.8" r="1.65"/><circle cx="124.9" cy="639.5" r="1.65"/></g><g fill="#0a0a0a"><circle cx="104.4" cy="683.9" r="2.4"/><circle cx="123.5" cy="664.8" r="2.4"/><circle cx="109.7" cy="628.6" r="2.4"/><circle cx="127.7" cy="612.1" r="2.4"/><circle cx="127.5" cy="612" r="2.4"/><circle cx="128" cy="616" r="2.4"/><circle cx="128.5" cy="620" r="2.4"/><circle cx="118" cy="625" r="2.4"/><circle cx="122" cy="627" r="2.4"/><circle cx="126" cy="629" r="2.4"/><circle cx="115" cy="630" r="2.4"/><circle cx="120" cy="631" r="2.4"/><circle cx="109" cy="628" r="2.4"/><circle cx="112" cy="628" r="2.4"/><circle cx="117" cy="640" r="2.4"/><circle cx="119" cy="643" r="2.4"/></g><circle cx="136.7" cy="635.2" r="1.8" fill="none" stroke="#fff" stroke-width="1.6"/><rect x="35.4" y="578.5" width="213" height="152.3" fill="none" stroke="#000" stroke-width="4.3"/><g fill="none" stroke="#0a0a0a" stroke-width="1.8"><circle cx="357.1" cy="614.5" r="1.65"/><circle cx="364.9" cy="615.2" r="1.65"/><circle cx="369.3" cy="613.8" r="1.65"/><circle cx="372.1" cy="622.1" r="1.65"/><circle cx="373.2" cy="627" r="1.65"/><circle cx="360.2" cy="629.9" r="1.65"/><circle cx="366.4" cy="629.3" r="1.65"/><circle cx="362.3" cy="632.4" r="1.65"/><circle cx="367.5" cy="631.9" r="1.65"/><circle cx="330.2" cy="636.1" r="1.65"/><circle cx="335.4" cy="634.5" r="1.65"/><circle cx="345.2" cy="633.5" r="1.65"/><circle cx="344.2" cy="636.9" r="1.65"/><circle cx="341.6" cy="641" r="1.65"/><circle cx="329.7" cy="642.8" r="1.65"/><circle cx="355.6" cy="636.1" r="1.65"/><circle cx="360.2" cy="638.1" r="1.65"/><circle cx="364.4" cy="637.1" r="1.65"/><circle cx="368.5" cy="638.1" r="1.65"/><circle cx="372.1" cy="639.2" r="1.65"/><circle cx="360.2" cy="642.3" r="1.65"/><circle cx="364.4" cy="643.3" r="1.65"/><circle cx="368.5" cy="641.3" r="1.65"/><circle cx="377.8" cy="640.7" r="1.65"/><circle cx="346.8" cy="644.9" r="1.65"/><circle cx="351.4" cy="645.4" r="1.65"/><circle cx="354" cy="647.5" r="1.65"/><circle cx="347.8" cy="647.5" r="1.65"/><circle cx="364.4" cy="646.4" r="1.65"/><circle cx="368.5" cy="646.4" r="1.65"/><circle cx="374.7" cy="647.5" r="1.65"/><circle cx="377.8" cy="647.5" r="1.65"/><circle cx="383.8" cy="631.4" r="1.65"/><circle cx="384.8" cy="636.1" r="1.65"/><circle cx="394.2" cy="634.5" r="1.65"/><circle cx="378.1" cy="640.7" r="1.65"/><circle cx="382.8" cy="640.7" r="1.65"/><circle cx="395.7" cy="641.8" r="1.65"/><circle cx="379.1" cy="644.9" r="1.65"/><circle cx="387.4" cy="644.9" r="1.65"/><circle cx="391.6" cy="645.9" r="1.65"/><circle cx="395.2" cy="645.9" r="1.65"/><circle cx="399.3" cy="646.4" r="1.65"/><circle cx="381.2" cy="647.5" r="1.65"/><circle cx="385.4" cy="647.5" r="1.65"/><circle cx="335.4" cy="656.8" r="1.65"/><circle cx="342.1" cy="658.2" r="1.65"/><circle cx="332.8" cy="664.4" r="1.65"/><circle cx="339.5" cy="664.8" r="1.65"/><circle cx="335.4" cy="670" r="1.65"/><circle cx="347.3" cy="649" r="1.65"/><circle cx="347.8" cy="654.7" r="1.65"/><circle cx="351.9" cy="651.1" r="1.65"/><circle cx="356.1" cy="650.6" r="1.65"/><circle cx="350.9" cy="660.9" r="1.65"/><circle cx="353" cy="663.5" r="1.65"/><circle cx="351.4" cy="668.7" r="1.65"/><circle cx="348.6" cy="673.4" r="1.65"/><circle cx="350.7" cy="679.3" r="1.65"/><circle cx="358.7" cy="667.2" r="1.65"/><circle cx="360.2" cy="675.1" r="1.65"/><circle cx="362.3" cy="660.4" r="1.65"/><circle cx="362.8" cy="655.8" r="1.65"/><circle cx="365.4" cy="651.1" r="1.65"/><circle cx="368.5" cy="658.4" r="1.65"/><circle cx="374.7" cy="658.4" r="1.65"/><circle cx="377.8" cy="654.2" r="1.65"/><circle cx="367.5" cy="667.7" r="1.65"/><circle cx="370.6" cy="667.2" r="1.65"/><circle cx="374.7" cy="667.7" r="1.65"/><circle cx="368.5" cy="672.9" r="1.65"/><circle cx="371.6" cy="671.8" r="1.65"/><circle cx="375.8" cy="671.8" r="1.65"/><circle cx="368.5" cy="675.4" r="1.65"/><circle cx="377.8" cy="664.6" r="1.65"/><circle cx="377.1" cy="652.1" r="1.65"/><circle cx="377.1" cy="658.4" r="1.65"/><circle cx="379.1" cy="656.3" r="1.65"/><circle cx="383.3" cy="658.4" r="1.65"/><circle cx="387.4" cy="660.4" r="1.65"/><circle cx="385.4" cy="663.5" r="1.65"/><circle cx="389.5" cy="662.5" r="1.65"/><circle cx="393.6" cy="655.3" r="1.65"/><circle cx="394.7" cy="658.4" r="1.65"/><circle cx="397.8" cy="659.4" r="1.65"/><circle cx="398.8" cy="657.3" r="1.65"/><circle cx="402.4" cy="656.3" r="1.65"/><circle cx="402.4" cy="659.4" r="1.65"/><circle cx="410.7" cy="656.8" r="1.65"/><circle cx="413.8" cy="655.8" r="1.65"/><circle cx="408.1" cy="663.5" r="1.65"/><circle cx="391.6" cy="667.2" r="1.65"/><circle cx="398.8" cy="669.8" r="1.65"/><circle cx="400.9" cy="671.3" r="1.65"/><circle cx="386.4" cy="672.3" r="1.65"/><circle cx="391.6" cy="672.9" r="1.65"/><circle cx="379.1" cy="672.3" r="1.65"/><circle cx="376.6" cy="671.8" r="1.65"/><circle cx="408.1" cy="674.4" r="1.65"/><circle cx="382.8" cy="680.1" r="1.65"/><circle cx="376.6" cy="666.6" r="1.65"/><circle cx="375" cy="668.7" r="1.65"/><circle cx="372" cy="622.3" r="1.65"/><circle cx="373.2" cy="627.3" r="1.65"/><circle cx="359.6" cy="629.6" r="1.65"/><circle cx="366.9" cy="629.6" r="1.65"/><circle cx="362.4" cy="632.4" r="1.65"/><circle cx="355.1" cy="636.4" r="1.65"/><circle cx="360.7" cy="636.9" r="1.65"/><circle cx="367.5" cy="636.9" r="1.65"/><circle cx="372" cy="639.8" r="1.65"/><circle cx="360.2" cy="642.6" r="1.65"/><circle cx="365.8" cy="642.6" r="1.65"/><circle cx="370.9" cy="642.6" r="1.65"/><circle cx="383.3" cy="631.3" r="1.65"/><circle cx="384.5" cy="636.4" r="1.65"/><circle cx="394.1" cy="634.1" r="1.65"/><circle cx="377.7" cy="640.9" r="1.65"/><circle cx="382.8" cy="640.9" r="1.65"/><circle cx="387.3" cy="644.9" r="1.65"/><circle cx="391.2" cy="646" r="1.65"/><circle cx="395.2" cy="642" r="1.65"/><circle cx="399.2" cy="646.6" r="1.65"/><circle cx="351.7" cy="645.4" r="1.65"/><circle cx="355.6" cy="649.4" r="1.65"/><circle cx="364.7" cy="647.1" r="1.65"/><circle cx="364.7" cy="650.5" r="1.65"/><circle cx="368.6" cy="647.7" r="1.65"/><circle cx="377.1" cy="647.1" r="1.65"/><circle cx="380.5" cy="646" r="1.65"/><circle cx="383.9" cy="649.9" r="1.65"/><circle cx="377.1" cy="652.8" r="1.65"/><circle cx="380.5" cy="653.9" r="1.65"/><circle cx="383.9" cy="653.9" r="1.65"/><circle cx="387.3" cy="652.8" r="1.65"/><circle cx="392.9" cy="655" r="1.65"/><circle cx="397.5" cy="656.2" r="1.65"/><circle cx="402" cy="656.2" r="1.65"/><circle cx="406.5" cy="657.3" r="1.65"/><circle cx="363" cy="655" r="1.65"/><circle cx="367.5" cy="656.2" r="1.65"/><circle cx="371.5" cy="659" r="1.65"/><circle cx="374.9" cy="657.3" r="1.65"/><circle cx="379.4" cy="658.4" r="1.65"/><circle cx="383.9" cy="659.5" r="1.65"/><circle cx="388.4" cy="660.1" r="1.65"/><circle cx="392.9" cy="660.7" r="1.65"/><circle cx="397.5" cy="659.5" r="1.65"/><circle cx="402" cy="661.8" r="1.65"/><circle cx="408.2" cy="662.9" r="1.65"/><circle cx="353.4" cy="657.3" r="1.65"/><circle cx="352.3" cy="663.5" r="1.65"/><circle cx="358.5" cy="667.5" r="1.65"/><circle cx="366.9" cy="667.5" r="1.65"/><circle cx="371.5" cy="666.3" r="1.65"/><circle cx="376" cy="667.5" r="1.65"/><circle cx="379.4" cy="672" r="1.65"/><circle cx="368.6" cy="672" r="1.65"/><circle cx="374.3" cy="672" r="1.65"/><circle cx="387.3" cy="672" r="1.65"/><circle cx="391.8" cy="673.1" r="1.65"/><circle cx="399.7" cy="670.3" r="1.65"/><circle cx="360.7" cy="675.4" r="1.65"/><circle cx="368.1" cy="676.5" r="1.65"/><circle cx="351.7" cy="668.6" r="1.65"/><circle cx="407.6" cy="674.2" r="1.65"/><circle cx="391.8" cy="666.9" r="1.65"/><circle cx="374.9" cy="662.9" r="1.65"/><circle cx="379.4" cy="664.1" r="1.65"/><circle cx="383.9" cy="665.2" r="1.65"/><circle cx="364.7" cy="661.8" r="1.65"/></g><g fill="#0a0a0a"><circle cx="335.4" cy="656.8" r="2.4"/><circle cx="335" cy="635" r="2.4"/><circle cx="398.8" cy="669.8" r="2.4"/><circle cx="400.9" cy="671.3" r="2.4"/><circle cx="378.2" cy="649.4" r="2.4"/><circle cx="379.4" cy="652.8" r="2.4"/><circle cx="376" cy="653.9" r="2.4"/><circle cx="381.6" cy="656.2" r="2.4"/><circle cx="378.2" cy="657.3" r="2.4"/><circle cx="364.7" cy="653.9" r="2.4"/><circle cx="363.6" cy="657.3" r="2.4"/><circle cx="366.9" cy="658.4" r="2.4"/><circle cx="361.3" cy="632.4" r="2.4"/><circle cx="364.7" cy="630.2" r="2.4"/><circle cx="399.7" cy="670.8" r="2.4"/></g><circle cx="372.6" cy="652.1" r="1.8" fill="none" stroke="#fff" stroke-width="1.6"/><rect x="289.1" y="578.4" width="213.2" height="152.5" fill="none" stroke="#000" stroke-width="4.3"/><circle cx="241" cy="21.3" r="13" fill="#000"/><text x="241" y="27.8" text-anchor="middle" style="font-family:'DejaVu Sans',sans-serif;font-size:21px" fill="#fff">a</text><circle cx="506.5" cy="21" r="13" fill="#000"/><text x="506.5" y="27.5" text-anchor="middle" style="font-family:'DejaVu Sans',sans-serif;font-size:21px" fill="#fff">b</text><circle cx="230" cy="242" r="13" fill="#000"/><text x="230" y="248.5" text-anchor="middle" style="font-family:'DejaVu Sans',sans-serif;font-size:21px" fill="#fff">c</text><circle cx="486" cy="242" r="13" fill="#000"/><text x="486" y="248.5" text-anchor="middle" style="font-family:'DejaVu Sans',sans-serif;font-size:21px" fill="#fff">d</text><circle cx="239.2" cy="418.6" r="13" fill="#000"/><text x="239.2" y="425.1" text-anchor="middle" style="font-family:'DejaVu Sans',sans-serif;font-size:21px" fill="#fff">e</text><circle cx="505.5" cy="418.5" r="13" fill="#000"/><text x="505.5" y="425" text-anchor="middle" style="font-family:'DejaVu Sans',sans-serif;font-size:21px" fill="#fff">f</text></svg></div></body></html>
